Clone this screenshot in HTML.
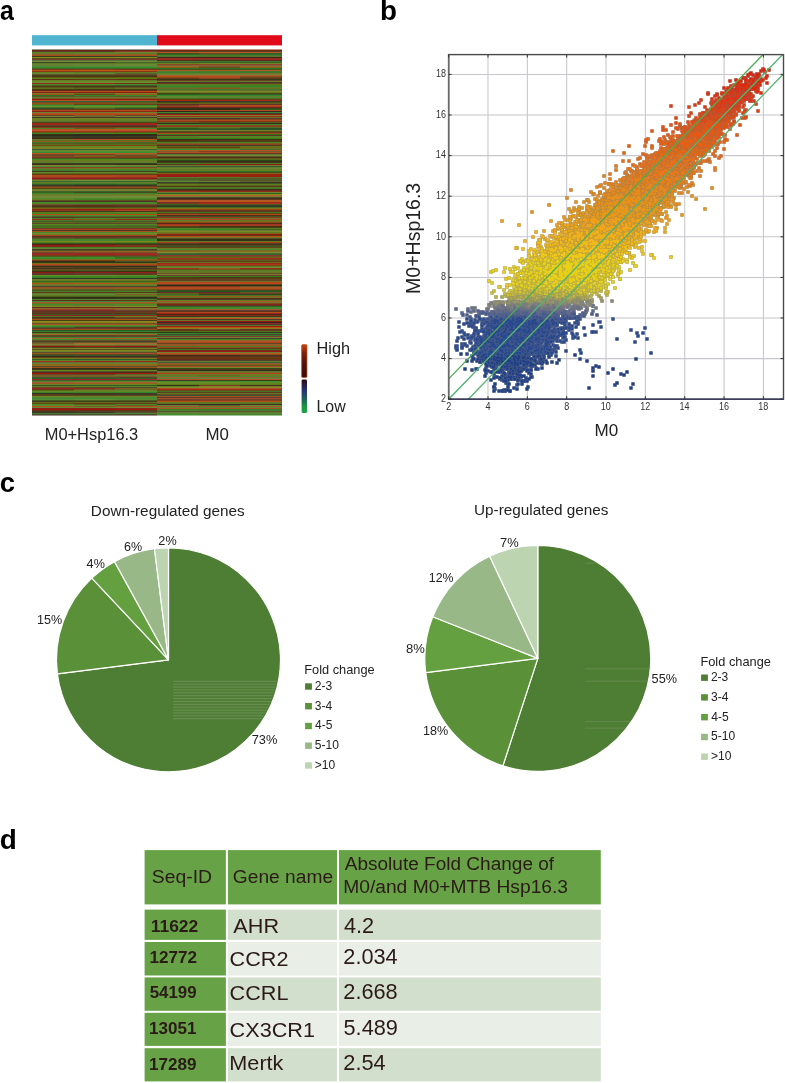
<!DOCTYPE html>
<html><head><meta charset="utf-8"><title>Figure</title>
<style>html,body{margin:0;padding:0;background:#fff;width:785px;height:1083px;overflow:hidden}svg{display:block}</style>
</head><body><svg width="785" height="1083" viewBox="0 0 785 1083" font-family='"Liberation Sans", Arial, sans-serif'><filter id="hb" x="0" y="0" width="1" height="1"><feGaussianBlur stdDeviation="0.1 0.3"/></filter><g filter="url(#hb)"><rect x="32" y="49.50" width="42" height="1.50" fill="#362f1c"/><rect x="74" y="49.50" width="41" height="1.50" fill="#352920"/><rect x="115" y="49.50" width="42" height="1.50" fill="#363021"/><rect x="157" y="49.50" width="42" height="1.50" fill="#8e1d0b"/><rect x="199" y="49.50" width="41" height="1.50" fill="#8e220d"/><rect x="240" y="49.50" width="42" height="1.50" fill="#8e1e07"/><rect x="32" y="50.50" width="42" height="1.30" fill="#972413"/><rect x="74" y="50.50" width="41" height="1.30" fill="#942210"/><rect x="115" y="50.50" width="42" height="1.30" fill="#981e14"/><rect x="157" y="50.50" width="42" height="1.30" fill="#5a3518"/><rect x="199" y="50.50" width="41" height="1.30" fill="#563917"/><rect x="240" y="50.50" width="42" height="1.30" fill="#543616"/><rect x="32" y="51.30" width="42" height="1.30" fill="#423521"/><rect x="74" y="51.30" width="41" height="1.30" fill="#3d321e"/><rect x="115" y="51.30" width="42" height="1.30" fill="#793b19"/><rect x="157" y="51.30" width="42" height="1.30" fill="#533018"/><rect x="199" y="51.30" width="41" height="1.30" fill="#5a3515"/><rect x="240" y="51.30" width="42" height="1.30" fill="#55351c"/><rect x="32" y="52.10" width="42" height="1.50" fill="#5a8019"/><rect x="74" y="52.10" width="41" height="1.50" fill="#5e8119"/><rect x="115" y="52.10" width="42" height="1.50" fill="#62841f"/><rect x="157" y="52.10" width="42" height="1.50" fill="#b7531f"/><rect x="199" y="52.10" width="41" height="1.50" fill="#b5581e"/><rect x="240" y="52.10" width="42" height="1.50" fill="#b9501f"/><rect x="32" y="53.10" width="42" height="1.90" fill="#5e742b"/><rect x="74" y="53.10" width="41" height="1.90" fill="#5d7a31"/><rect x="115" y="53.10" width="42" height="1.90" fill="#617328"/><rect x="157" y="53.10" width="42" height="1.90" fill="#2b4719"/><rect x="199" y="53.10" width="41" height="1.90" fill="#5f4617"/><rect x="240" y="53.10" width="42" height="1.90" fill="#225c20"/><rect x="32" y="54.50" width="42" height="1.90" fill="#b44b1b"/><rect x="74" y="54.50" width="41" height="1.90" fill="#b54b1d"/><rect x="115" y="54.50" width="42" height="1.90" fill="#b6511d"/><rect x="157" y="54.50" width="42" height="1.90" fill="#3c8529"/><rect x="199" y="54.50" width="41" height="1.90" fill="#3d7f2d"/><rect x="240" y="54.50" width="42" height="1.90" fill="#3e7c31"/><rect x="32" y="55.90" width="42" height="1.50" fill="#33361e"/><rect x="74" y="55.90" width="41" height="1.50" fill="#2e3926"/><rect x="115" y="55.90" width="42" height="1.50" fill="#2f3b23"/><rect x="157" y="55.90" width="42" height="1.50" fill="#577832"/><rect x="199" y="55.90" width="41" height="1.50" fill="#597629"/><rect x="240" y="55.90" width="42" height="1.50" fill="#6c7832"/><rect x="32" y="56.90" width="42" height="1.70" fill="#7e8f1d"/><rect x="74" y="56.90" width="41" height="1.70" fill="#818821"/><rect x="115" y="56.90" width="42" height="1.70" fill="#808f1f"/><rect x="157" y="56.90" width="42" height="1.70" fill="#402c14"/><rect x="199" y="56.90" width="41" height="1.70" fill="#392514"/><rect x="240" y="56.90" width="42" height="1.70" fill="#382b14"/><rect x="32" y="58.10" width="42" height="1.70" fill="#5b3916"/><rect x="74" y="58.10" width="41" height="1.70" fill="#5d3816"/><rect x="115" y="58.10" width="42" height="1.70" fill="#593b14"/><rect x="157" y="58.10" width="42" height="1.70" fill="#9a2518"/><rect x="199" y="58.10" width="41" height="1.70" fill="#992413"/><rect x="240" y="58.10" width="42" height="1.70" fill="#912513"/><rect x="32" y="59.30" width="42" height="1.50" fill="#633522"/><rect x="74" y="59.30" width="41" height="1.50" fill="#6b301d"/><rect x="115" y="59.30" width="42" height="1.50" fill="#6a2e1d"/><rect x="157" y="59.30" width="42" height="1.50" fill="#8e1b10"/><rect x="199" y="59.30" width="41" height="1.50" fill="#5d3714"/><rect x="240" y="59.30" width="42" height="1.50" fill="#951f0c"/><rect x="32" y="60.30" width="42" height="1.50" fill="#488433"/><rect x="74" y="60.30" width="41" height="1.50" fill="#45822e"/><rect x="115" y="60.30" width="42" height="1.50" fill="#43852b"/><rect x="157" y="60.30" width="42" height="1.50" fill="#322410"/><rect x="199" y="60.30" width="41" height="1.50" fill="#2c2c11"/><rect x="240" y="60.30" width="42" height="1.50" fill="#332214"/><rect x="32" y="61.30" width="42" height="1.30" fill="#807d2f"/><rect x="74" y="61.30" width="41" height="1.30" fill="#7d8334"/><rect x="115" y="61.30" width="42" height="1.30" fill="#6f822e"/><rect x="157" y="61.30" width="42" height="1.30" fill="#3b8a2f"/><rect x="199" y="61.30" width="41" height="1.30" fill="#388427"/><rect x="240" y="61.30" width="42" height="1.30" fill="#3d832f"/><rect x="32" y="62.10" width="42" height="1.30" fill="#2a371f"/><rect x="74" y="62.10" width="41" height="1.30" fill="#333722"/><rect x="115" y="62.10" width="42" height="1.30" fill="#425725"/><rect x="157" y="62.10" width="42" height="1.30" fill="#2d5319"/><rect x="199" y="62.10" width="41" height="1.30" fill="#2e5819"/><rect x="240" y="62.10" width="42" height="1.30" fill="#2c5918"/><rect x="32" y="62.90" width="42" height="1.90" fill="#5b7e22"/><rect x="74" y="62.90" width="41" height="1.90" fill="#5f7b1f"/><rect x="115" y="62.90" width="42" height="1.90" fill="#577e22"/><rect x="157" y="62.90" width="42" height="1.90" fill="#6b7f28"/><rect x="199" y="62.90" width="41" height="1.90" fill="#6b862b"/><rect x="240" y="62.90" width="42" height="1.90" fill="#6b842a"/><rect x="32" y="64.30" width="42" height="1.50" fill="#5b7d29"/><rect x="74" y="64.30" width="41" height="1.50" fill="#59802d"/><rect x="115" y="64.30" width="42" height="1.50" fill="#60862a"/><rect x="157" y="64.30" width="42" height="1.50" fill="#972216"/><rect x="199" y="64.30" width="41" height="1.50" fill="#9a2215"/><rect x="240" y="64.30" width="42" height="1.50" fill="#981a1a"/><rect x="32" y="65.30" width="42" height="1.50" fill="#5e7625"/><rect x="74" y="65.30" width="41" height="1.50" fill="#5f7d2c"/><rect x="115" y="65.30" width="42" height="1.50" fill="#5d7b2a"/><rect x="157" y="65.30" width="42" height="1.50" fill="#647631"/><rect x="199" y="65.30" width="41" height="1.50" fill="#68742b"/><rect x="240" y="65.30" width="42" height="1.50" fill="#66772b"/><rect x="32" y="66.30" width="42" height="1.90" fill="#37882c"/><rect x="74" y="66.30" width="41" height="1.90" fill="#3a8630"/><rect x="115" y="66.30" width="42" height="1.90" fill="#3a8c2b"/><rect x="157" y="66.30" width="42" height="1.90" fill="#aa4d15"/><rect x="199" y="66.30" width="41" height="1.90" fill="#7e3916"/><rect x="240" y="66.30" width="42" height="1.90" fill="#a64d1b"/><rect x="32" y="67.70" width="42" height="1.30" fill="#3a8a2a"/><rect x="74" y="67.70" width="41" height="1.30" fill="#388a27"/><rect x="115" y="67.70" width="42" height="1.30" fill="#348e2c"/><rect x="157" y="67.70" width="42" height="1.30" fill="#308f26"/><rect x="199" y="67.70" width="41" height="1.30" fill="#348825"/><rect x="240" y="67.70" width="42" height="1.30" fill="#328e27"/><rect x="32" y="68.50" width="42" height="1.70" fill="#59361c"/><rect x="74" y="68.50" width="41" height="1.70" fill="#593d1d"/><rect x="115" y="68.50" width="42" height="1.70" fill="#583514"/><rect x="157" y="68.50" width="42" height="1.70" fill="#24571e"/><rect x="199" y="68.50" width="41" height="1.70" fill="#20541e"/><rect x="240" y="68.50" width="42" height="1.70" fill="#1e591b"/><rect x="32" y="69.70" width="42" height="1.90" fill="#b65313"/><rect x="74" y="69.70" width="41" height="1.90" fill="#ba5610"/><rect x="115" y="69.70" width="42" height="1.90" fill="#b95519"/><rect x="157" y="69.70" width="42" height="1.90" fill="#a95326"/><rect x="199" y="69.70" width="41" height="1.90" fill="#a6581f"/><rect x="240" y="69.70" width="42" height="1.90" fill="#ac5727"/><rect x="32" y="71.10" width="42" height="1.30" fill="#8f230b"/><rect x="74" y="71.10" width="41" height="1.30" fill="#8f270b"/><rect x="115" y="71.10" width="42" height="1.30" fill="#8d250e"/><rect x="157" y="71.10" width="42" height="1.30" fill="#427c28"/><rect x="199" y="71.10" width="41" height="1.30" fill="#3b7829"/><rect x="240" y="71.10" width="42" height="1.30" fill="#3b7624"/><rect x="32" y="71.90" width="42" height="1.70" fill="#618022"/><rect x="74" y="71.90" width="41" height="1.70" fill="#5a7c27"/><rect x="115" y="71.90" width="42" height="1.70" fill="#5f7b26"/><rect x="157" y="71.90" width="42" height="1.70" fill="#3c8032"/><rect x="199" y="71.90" width="41" height="1.70" fill="#3f7b2f"/><rect x="240" y="71.90" width="42" height="1.70" fill="#367b2f"/><rect x="32" y="73.10" width="42" height="1.70" fill="#5e8331"/><rect x="74" y="73.10" width="41" height="1.70" fill="#58822f"/><rect x="115" y="73.10" width="42" height="1.70" fill="#585825"/><rect x="157" y="73.10" width="42" height="1.70" fill="#557c20"/><rect x="199" y="73.10" width="41" height="1.70" fill="#5c7b22"/><rect x="240" y="73.10" width="42" height="1.70" fill="#7f641b"/><rect x="32" y="74.30" width="42" height="1.50" fill="#5e3915"/><rect x="74" y="74.30" width="41" height="1.50" fill="#5b3711"/><rect x="115" y="74.30" width="42" height="1.50" fill="#5e381a"/><rect x="157" y="74.30" width="42" height="1.50" fill="#688030"/><rect x="199" y="74.30" width="41" height="1.50" fill="#628229"/><rect x="240" y="74.30" width="42" height="1.50" fill="#668230"/><rect x="32" y="75.30" width="42" height="1.70" fill="#2f350d"/><rect x="74" y="75.30" width="41" height="1.70" fill="#353313"/><rect x="115" y="75.30" width="42" height="1.70" fill="#31320d"/><rect x="157" y="75.30" width="42" height="1.70" fill="#b34718"/><rect x="199" y="75.30" width="41" height="1.70" fill="#b14a21"/><rect x="240" y="75.30" width="42" height="1.70" fill="#b1471c"/><rect x="32" y="76.50" width="42" height="1.50" fill="#643b11"/><rect x="74" y="76.50" width="41" height="1.50" fill="#633810"/><rect x="115" y="76.50" width="42" height="1.50" fill="#6a3b11"/><rect x="157" y="76.50" width="42" height="1.50" fill="#bc5113"/><rect x="199" y="76.50" width="41" height="1.50" fill="#be4f1b"/><rect x="240" y="76.50" width="42" height="1.50" fill="#72501f"/><rect x="32" y="77.50" width="42" height="1.90" fill="#5f811b"/><rect x="74" y="77.50" width="41" height="1.90" fill="#5e7e1b"/><rect x="115" y="77.50" width="42" height="1.90" fill="#57851b"/><rect x="157" y="77.50" width="42" height="1.90" fill="#643c1b"/><rect x="199" y="77.50" width="41" height="1.90" fill="#8f4523"/><rect x="240" y="77.50" width="42" height="1.90" fill="#613c21"/><rect x="32" y="78.90" width="42" height="1.70" fill="#5c3415"/><rect x="74" y="78.90" width="41" height="1.70" fill="#623915"/><rect x="115" y="78.90" width="42" height="1.70" fill="#603111"/><rect x="157" y="78.90" width="42" height="1.70" fill="#343213"/><rect x="199" y="78.90" width="41" height="1.70" fill="#363914"/><rect x="240" y="78.90" width="42" height="1.70" fill="#333514"/><rect x="32" y="80.10" width="42" height="1.50" fill="#617b21"/><rect x="74" y="80.10" width="41" height="1.50" fill="#597c22"/><rect x="115" y="80.10" width="42" height="1.50" fill="#5f7426"/><rect x="157" y="80.10" width="42" height="1.50" fill="#663520"/><rect x="199" y="80.10" width="41" height="1.50" fill="#603c1c"/><rect x="240" y="80.10" width="42" height="1.50" fill="#613d23"/><rect x="32" y="81.10" width="42" height="1.50" fill="#61851e"/><rect x="74" y="81.10" width="41" height="1.50" fill="#63831e"/><rect x="115" y="81.10" width="42" height="1.50" fill="#66841d"/><rect x="157" y="81.10" width="42" height="1.50" fill="#667b1e"/><rect x="199" y="81.10" width="41" height="1.50" fill="#607820"/><rect x="240" y="81.10" width="42" height="1.50" fill="#637b1c"/><rect x="32" y="82.10" width="42" height="1.50" fill="#68832a"/><rect x="74" y="82.10" width="41" height="1.50" fill="#6b8928"/><rect x="115" y="82.10" width="42" height="1.50" fill="#658926"/><rect x="157" y="82.10" width="42" height="1.50" fill="#392821"/><rect x="199" y="82.10" width="41" height="1.50" fill="#412722"/><rect x="240" y="82.10" width="42" height="1.50" fill="#3d2e1c"/><rect x="32" y="83.10" width="42" height="1.50" fill="#921b0c"/><rect x="74" y="83.10" width="41" height="1.50" fill="#941b11"/><rect x="115" y="83.10" width="42" height="1.50" fill="#662711"/><rect x="157" y="83.10" width="42" height="1.50" fill="#673019"/><rect x="199" y="83.10" width="41" height="1.50" fill="#612f16"/><rect x="240" y="83.10" width="42" height="1.50" fill="#663618"/><rect x="32" y="84.10" width="42" height="1.90" fill="#3e8b26"/><rect x="74" y="84.10" width="41" height="1.90" fill="#41902b"/><rect x="115" y="84.10" width="42" height="1.90" fill="#3c8d2d"/><rect x="157" y="84.10" width="42" height="1.90" fill="#567a1f"/><rect x="199" y="84.10" width="41" height="1.90" fill="#5a791b"/><rect x="240" y="84.10" width="42" height="1.90" fill="#56751a"/><rect x="32" y="85.50" width="42" height="1.50" fill="#513217"/><rect x="74" y="85.50" width="41" height="1.50" fill="#413413"/><rect x="115" y="85.50" width="42" height="1.50" fill="#383214"/><rect x="157" y="85.50" width="42" height="1.50" fill="#38851c"/><rect x="199" y="85.50" width="41" height="1.50" fill="#348a22"/><rect x="240" y="85.50" width="42" height="1.50" fill="#32871a"/><rect x="32" y="86.50" width="42" height="1.70" fill="#593d1b"/><rect x="74" y="86.50" width="41" height="1.70" fill="#54391c"/><rect x="115" y="86.50" width="42" height="1.70" fill="#594120"/><rect x="157" y="86.50" width="42" height="1.70" fill="#3a8431"/><rect x="199" y="86.50" width="41" height="1.70" fill="#407e2a"/><rect x="240" y="86.50" width="42" height="1.70" fill="#3f872f"/><rect x="32" y="87.70" width="42" height="1.50" fill="#668627"/><rect x="74" y="87.70" width="41" height="1.50" fill="#61821e"/><rect x="115" y="87.70" width="42" height="1.50" fill="#6f8827"/><rect x="157" y="87.70" width="42" height="1.50" fill="#8c611f"/><rect x="199" y="87.70" width="41" height="1.50" fill="#ae4917"/><rect x="240" y="87.70" width="42" height="1.50" fill="#87681d"/><rect x="32" y="88.70" width="42" height="1.50" fill="#413f0e"/><rect x="74" y="88.70" width="41" height="1.50" fill="#393615"/><rect x="115" y="88.70" width="42" height="1.50" fill="#3f3e13"/><rect x="157" y="88.70" width="42" height="1.50" fill="#327b27"/><rect x="199" y="88.70" width="41" height="1.50" fill="#327e2b"/><rect x="240" y="88.70" width="42" height="1.50" fill="#397c30"/><rect x="32" y="89.70" width="42" height="1.90" fill="#642b1a"/><rect x="74" y="89.70" width="41" height="1.90" fill="#683018"/><rect x="115" y="89.70" width="42" height="1.90" fill="#652d1c"/><rect x="157" y="89.70" width="42" height="1.90" fill="#63752e"/><rect x="199" y="89.70" width="41" height="1.90" fill="#60712c"/><rect x="240" y="89.70" width="42" height="1.90" fill="#5c712d"/><rect x="32" y="91.10" width="42" height="1.30" fill="#b65118"/><rect x="74" y="91.10" width="41" height="1.30" fill="#ba4e13"/><rect x="115" y="91.10" width="42" height="1.30" fill="#ba4d11"/><rect x="157" y="91.10" width="42" height="1.30" fill="#868b1c"/><rect x="199" y="91.10" width="41" height="1.30" fill="#848d20"/><rect x="240" y="91.10" width="42" height="1.30" fill="#828923"/><rect x="32" y="91.90" width="42" height="1.50" fill="#8c1d1c"/><rect x="74" y="91.90" width="41" height="1.50" fill="#8b1b18"/><rect x="115" y="91.90" width="42" height="1.50" fill="#8f1b19"/><rect x="157" y="91.90" width="42" height="1.50" fill="#667e23"/><rect x="199" y="91.90" width="41" height="1.50" fill="#6c7f1b"/><rect x="240" y="91.90" width="42" height="1.50" fill="#667d1d"/><rect x="32" y="92.90" width="42" height="1.30" fill="#687a1e"/><rect x="74" y="92.90" width="41" height="1.30" fill="#657c24"/><rect x="115" y="92.90" width="42" height="1.30" fill="#6b8024"/><rect x="157" y="92.90" width="42" height="1.30" fill="#5e3918"/><rect x="199" y="92.90" width="41" height="1.30" fill="#5e3e20"/><rect x="240" y="92.90" width="42" height="1.30" fill="#5f3e19"/><rect x="32" y="93.70" width="42" height="1.70" fill="#ad561a"/><rect x="74" y="93.70" width="41" height="1.70" fill="#704218"/><rect x="115" y="93.70" width="42" height="1.70" fill="#ab5619"/><rect x="157" y="93.70" width="42" height="1.70" fill="#295c1d"/><rect x="199" y="93.70" width="41" height="1.70" fill="#305823"/><rect x="240" y="93.70" width="42" height="1.70" fill="#2e5d20"/><rect x="32" y="94.90" width="42" height="1.90" fill="#2b6f23"/><rect x="74" y="94.90" width="41" height="1.90" fill="#33862c"/><rect x="115" y="94.90" width="42" height="1.90" fill="#338627"/><rect x="157" y="94.90" width="42" height="1.90" fill="#35892a"/><rect x="199" y="94.90" width="41" height="1.90" fill="#338a30"/><rect x="240" y="94.90" width="42" height="1.90" fill="#35862e"/><rect x="32" y="96.30" width="42" height="1.50" fill="#614116"/><rect x="74" y="96.30" width="41" height="1.50" fill="#624013"/><rect x="115" y="96.30" width="42" height="1.50" fill="#5d3c16"/><rect x="157" y="96.30" width="42" height="1.50" fill="#647620"/><rect x="199" y="96.30" width="41" height="1.50" fill="#697423"/><rect x="240" y="96.30" width="42" height="1.50" fill="#667120"/><rect x="32" y="97.30" width="42" height="1.90" fill="#5a7f2d"/><rect x="74" y="97.30" width="41" height="1.90" fill="#617c2d"/><rect x="115" y="97.30" width="42" height="1.90" fill="#617e2e"/><rect x="157" y="97.30" width="42" height="1.90" fill="#438529"/><rect x="199" y="97.30" width="41" height="1.90" fill="#3b8427"/><rect x="240" y="97.30" width="42" height="1.90" fill="#3b842c"/><rect x="32" y="98.70" width="42" height="1.90" fill="#9a1710"/><rect x="74" y="98.70" width="41" height="1.90" fill="#9f1b0d"/><rect x="115" y="98.70" width="42" height="1.90" fill="#9b150c"/><rect x="157" y="98.70" width="42" height="1.90" fill="#69370f"/><rect x="199" y="98.70" width="41" height="1.90" fill="#633714"/><rect x="240" y="98.70" width="42" height="1.90" fill="#693c16"/><rect x="32" y="100.10" width="42" height="1.50" fill="#b34c21"/><rect x="74" y="100.10" width="41" height="1.50" fill="#b05123"/><rect x="115" y="100.10" width="42" height="1.50" fill="#ae4b1f"/><rect x="157" y="100.10" width="42" height="1.50" fill="#9c2507"/><rect x="199" y="100.10" width="41" height="1.50" fill="#93220f"/><rect x="240" y="100.10" width="42" height="1.50" fill="#9a280f"/><rect x="32" y="101.10" width="42" height="1.90" fill="#1f5a28"/><rect x="74" y="101.10" width="41" height="1.90" fill="#20602b"/><rect x="115" y="101.10" width="42" height="1.90" fill="#1f6322"/><rect x="157" y="101.10" width="42" height="1.90" fill="#2c2718"/><rect x="199" y="101.10" width="41" height="1.90" fill="#30301d"/><rect x="240" y="101.10" width="42" height="1.90" fill="#322f1c"/><rect x="32" y="102.50" width="42" height="1.70" fill="#ae491c"/><rect x="74" y="102.50" width="41" height="1.70" fill="#aa471a"/><rect x="115" y="102.50" width="42" height="1.70" fill="#846027"/><rect x="157" y="102.50" width="42" height="1.70" fill="#66771a"/><rect x="199" y="102.50" width="41" height="1.70" fill="#6b7720"/><rect x="240" y="102.50" width="42" height="1.70" fill="#64761f"/><rect x="32" y="103.70" width="42" height="1.70" fill="#6c6519"/><rect x="74" y="103.70" width="41" height="1.70" fill="#654016"/><rect x="115" y="103.70" width="42" height="1.70" fill="#683d16"/><rect x="157" y="103.70" width="42" height="1.70" fill="#612c25"/><rect x="199" y="103.70" width="41" height="1.70" fill="#602f20"/><rect x="240" y="103.70" width="42" height="1.70" fill="#5b2d23"/><rect x="32" y="104.90" width="42" height="1.90" fill="#3d8f33"/><rect x="74" y="104.90" width="41" height="1.90" fill="#419133"/><rect x="115" y="104.90" width="42" height="1.90" fill="#3d8b2d"/><rect x="157" y="104.90" width="42" height="1.90" fill="#784722"/><rect x="199" y="104.90" width="41" height="1.90" fill="#b75424"/><rect x="240" y="104.90" width="42" height="1.90" fill="#b24d23"/><rect x="32" y="106.30" width="42" height="1.70" fill="#6a871e"/><rect x="74" y="106.30" width="41" height="1.70" fill="#6b8a20"/><rect x="115" y="106.30" width="42" height="1.70" fill="#6b8a1e"/><rect x="157" y="106.30" width="42" height="1.70" fill="#9e2311"/><rect x="199" y="106.30" width="41" height="1.70" fill="#9f2515"/><rect x="240" y="106.30" width="42" height="1.70" fill="#9d230f"/><rect x="32" y="107.50" width="42" height="1.70" fill="#235c29"/><rect x="74" y="107.50" width="41" height="1.70" fill="#44742a"/><rect x="115" y="107.50" width="42" height="1.70" fill="#206128"/><rect x="157" y="107.50" width="42" height="1.70" fill="#36321f"/><rect x="199" y="107.50" width="41" height="1.70" fill="#363626"/><rect x="240" y="107.50" width="42" height="1.70" fill="#3f391d"/><rect x="32" y="108.70" width="42" height="1.90" fill="#643716"/><rect x="74" y="108.70" width="41" height="1.90" fill="#643f11"/><rect x="115" y="108.70" width="42" height="1.90" fill="#693817"/><rect x="157" y="108.70" width="42" height="1.90" fill="#2b3113"/><rect x="199" y="108.70" width="41" height="1.90" fill="#2d2c0f"/><rect x="240" y="108.70" width="42" height="1.90" fill="#335b17"/><rect x="32" y="110.10" width="42" height="1.30" fill="#af4d1d"/><rect x="74" y="110.10" width="41" height="1.30" fill="#af4e1c"/><rect x="115" y="110.10" width="42" height="1.30" fill="#b3451a"/><rect x="157" y="110.10" width="42" height="1.30" fill="#b54c1f"/><rect x="199" y="110.10" width="41" height="1.30" fill="#b44e20"/><rect x="240" y="110.10" width="42" height="1.30" fill="#b45321"/><rect x="32" y="110.90" width="42" height="1.70" fill="#8c2413"/><rect x="74" y="110.90" width="41" height="1.70" fill="#8c260d"/><rect x="115" y="110.90" width="42" height="1.70" fill="#8b2b0b"/><rect x="157" y="110.90" width="42" height="1.70" fill="#362718"/><rect x="199" y="110.90" width="41" height="1.70" fill="#3e2f15"/><rect x="240" y="110.90" width="42" height="1.70" fill="#3c261b"/><rect x="32" y="112.10" width="42" height="1.50" fill="#65812a"/><rect x="74" y="112.10" width="41" height="1.50" fill="#657a25"/><rect x="115" y="112.10" width="42" height="1.50" fill="#638226"/><rect x="157" y="112.10" width="42" height="1.50" fill="#38882a"/><rect x="199" y="112.10" width="41" height="1.50" fill="#37872a"/><rect x="240" y="112.10" width="42" height="1.50" fill="#31872e"/><rect x="32" y="113.10" width="42" height="1.30" fill="#ab4721"/><rect x="74" y="113.10" width="41" height="1.30" fill="#b0451f"/><rect x="115" y="113.10" width="42" height="1.30" fill="#aa4a1f"/><rect x="157" y="113.10" width="42" height="1.30" fill="#313525"/><rect x="199" y="113.10" width="41" height="1.30" fill="#363b23"/><rect x="240" y="113.10" width="42" height="1.30" fill="#313324"/><rect x="32" y="113.90" width="42" height="1.70" fill="#af490f"/><rect x="74" y="113.90" width="41" height="1.70" fill="#b5470f"/><rect x="115" y="113.90" width="42" height="1.70" fill="#af4714"/><rect x="157" y="113.90" width="42" height="1.70" fill="#981f09"/><rect x="199" y="113.90" width="41" height="1.70" fill="#962109"/><rect x="240" y="113.90" width="42" height="1.70" fill="#922410"/><rect x="32" y="115.10" width="42" height="1.50" fill="#613723"/><rect x="74" y="115.10" width="41" height="1.50" fill="#6c5b28"/><rect x="115" y="115.10" width="42" height="1.50" fill="#613922"/><rect x="157" y="115.10" width="42" height="1.50" fill="#7b8227"/><rect x="199" y="115.10" width="41" height="1.50" fill="#807b25"/><rect x="240" y="115.10" width="42" height="1.50" fill="#7d7d2a"/><rect x="32" y="116.10" width="42" height="1.50" fill="#6f8831"/><rect x="74" y="116.10" width="41" height="1.50" fill="#686225"/><rect x="115" y="116.10" width="42" height="1.50" fill="#70862b"/><rect x="157" y="116.10" width="42" height="1.50" fill="#962411"/><rect x="199" y="116.10" width="41" height="1.50" fill="#94250f"/><rect x="240" y="116.10" width="42" height="1.50" fill="#91240c"/><rect x="32" y="117.10" width="42" height="1.50" fill="#372f20"/><rect x="74" y="117.10" width="41" height="1.50" fill="#38301c"/><rect x="115" y="117.10" width="42" height="1.50" fill="#372f21"/><rect x="157" y="117.10" width="42" height="1.50" fill="#5d7a23"/><rect x="199" y="117.10" width="41" height="1.50" fill="#5d7424"/><rect x="240" y="117.10" width="42" height="1.50" fill="#5c7122"/><rect x="32" y="118.10" width="42" height="1.90" fill="#6a811a"/><rect x="74" y="118.10" width="41" height="1.90" fill="#6f811a"/><rect x="115" y="118.10" width="42" height="1.90" fill="#69801f"/><rect x="157" y="118.10" width="42" height="1.90" fill="#3e3021"/><rect x="199" y="118.10" width="41" height="1.90" fill="#3f2c22"/><rect x="240" y="118.10" width="42" height="1.90" fill="#503322"/><rect x="32" y="119.50" width="42" height="1.90" fill="#6d7d26"/><rect x="74" y="119.50" width="41" height="1.90" fill="#687c29"/><rect x="115" y="119.50" width="42" height="1.90" fill="#657e2d"/><rect x="157" y="119.50" width="42" height="1.90" fill="#ad4924"/><rect x="199" y="119.50" width="41" height="1.90" fill="#b34d1e"/><rect x="240" y="119.50" width="42" height="1.90" fill="#b35026"/><rect x="32" y="120.90" width="42" height="1.30" fill="#65842d"/><rect x="74" y="120.90" width="41" height="1.30" fill="#677e2c"/><rect x="115" y="120.90" width="42" height="1.30" fill="#63842f"/><rect x="157" y="120.90" width="42" height="1.30" fill="#8f2116"/><rect x="199" y="120.90" width="41" height="1.30" fill="#8e1e17"/><rect x="240" y="120.90" width="42" height="1.30" fill="#8f200e"/><rect x="32" y="121.70" width="42" height="1.50" fill="#205722"/><rect x="74" y="121.70" width="41" height="1.50" fill="#27591e"/><rect x="115" y="121.70" width="42" height="1.50" fill="#1f5c1d"/><rect x="157" y="121.70" width="42" height="1.50" fill="#657622"/><rect x="199" y="121.70" width="41" height="1.50" fill="#615620"/><rect x="240" y="121.70" width="42" height="1.50" fill="#5e7024"/><rect x="32" y="122.70" width="42" height="1.90" fill="#992810"/><rect x="74" y="122.70" width="41" height="1.90" fill="#9c2210"/><rect x="115" y="122.70" width="42" height="1.90" fill="#9c2613"/><rect x="157" y="122.70" width="42" height="1.90" fill="#363116"/><rect x="199" y="122.70" width="41" height="1.90" fill="#3c3717"/><rect x="240" y="122.70" width="42" height="1.90" fill="#392e18"/><rect x="32" y="124.10" width="42" height="1.70" fill="#992319"/><rect x="74" y="124.10" width="41" height="1.70" fill="#a22214"/><rect x="115" y="124.10" width="42" height="1.70" fill="#a21e1a"/><rect x="157" y="124.10" width="42" height="1.70" fill="#3d8725"/><rect x="199" y="124.10" width="41" height="1.70" fill="#36861f"/><rect x="240" y="124.10" width="42" height="1.70" fill="#37881f"/><rect x="32" y="125.30" width="42" height="1.90" fill="#393721"/><rect x="74" y="125.30" width="41" height="1.90" fill="#333620"/><rect x="115" y="125.30" width="42" height="1.90" fill="#32331f"/><rect x="157" y="125.30" width="42" height="1.90" fill="#981f10"/><rect x="199" y="125.30" width="41" height="1.90" fill="#9c2111"/><rect x="240" y="125.30" width="42" height="1.90" fill="#982415"/><rect x="32" y="126.70" width="42" height="1.50" fill="#952517"/><rect x="74" y="126.70" width="41" height="1.50" fill="#902c16"/><rect x="115" y="126.70" width="42" height="1.50" fill="#902b11"/><rect x="157" y="126.70" width="42" height="1.50" fill="#628326"/><rect x="199" y="126.70" width="41" height="1.50" fill="#688227"/><rect x="240" y="126.70" width="42" height="1.50" fill="#617d2e"/><rect x="32" y="127.70" width="42" height="1.70" fill="#3f8b2c"/><rect x="74" y="127.70" width="41" height="1.70" fill="#4e6526"/><rect x="115" y="127.70" width="42" height="1.70" fill="#3e8c32"/><rect x="157" y="127.70" width="42" height="1.70" fill="#2c5618"/><rect x="199" y="127.70" width="41" height="1.70" fill="#44631c"/><rect x="240" y="127.70" width="42" height="1.70" fill="#2b5120"/><rect x="32" y="128.90" width="42" height="1.90" fill="#b64f21"/><rect x="74" y="128.90" width="41" height="1.90" fill="#b6571f"/><rect x="115" y="128.90" width="42" height="1.90" fill="#b7551a"/><rect x="157" y="128.90" width="42" height="1.90" fill="#2f5c2c"/><rect x="199" y="128.90" width="41" height="1.90" fill="#2d552f"/><rect x="240" y="128.90" width="42" height="1.90" fill="#2b572d"/><rect x="32" y="130.30" width="42" height="1.70" fill="#b7461c"/><rect x="74" y="130.30" width="41" height="1.70" fill="#b8471b"/><rect x="115" y="130.30" width="42" height="1.70" fill="#b7441c"/><rect x="157" y="130.30" width="42" height="1.70" fill="#788120"/><rect x="199" y="130.30" width="41" height="1.70" fill="#7e7a22"/><rect x="240" y="130.30" width="42" height="1.70" fill="#7d811c"/><rect x="32" y="131.50" width="42" height="1.50" fill="#952409"/><rect x="74" y="131.50" width="41" height="1.50" fill="#94210a"/><rect x="115" y="131.50" width="42" height="1.50" fill="#8c2208"/><rect x="157" y="131.50" width="42" height="1.50" fill="#2f2817"/><rect x="199" y="131.50" width="41" height="1.50" fill="#332416"/><rect x="240" y="131.50" width="42" height="1.50" fill="#322b14"/><rect x="32" y="132.50" width="42" height="1.90" fill="#3e8e25"/><rect x="74" y="132.50" width="41" height="1.90" fill="#41922b"/><rect x="115" y="132.50" width="42" height="1.90" fill="#3c9225"/><rect x="157" y="132.50" width="42" height="1.90" fill="#af4b20"/><rect x="199" y="132.50" width="41" height="1.90" fill="#a94a23"/><rect x="240" y="132.50" width="42" height="1.90" fill="#aa4620"/><rect x="32" y="133.90" width="42" height="1.50" fill="#373111"/><rect x="74" y="133.90" width="41" height="1.50" fill="#302b15"/><rect x="115" y="133.90" width="42" height="1.50" fill="#342d0f"/><rect x="157" y="133.90" width="42" height="1.50" fill="#388623"/><rect x="199" y="133.90" width="41" height="1.50" fill="#308729"/><rect x="240" y="133.90" width="42" height="1.50" fill="#318221"/><rect x="32" y="134.90" width="42" height="1.70" fill="#32291d"/><rect x="74" y="134.90" width="41" height="1.70" fill="#312b21"/><rect x="115" y="134.90" width="42" height="1.70" fill="#302a22"/><rect x="157" y="134.90" width="42" height="1.70" fill="#5a361a"/><rect x="199" y="134.90" width="41" height="1.70" fill="#58331a"/><rect x="240" y="134.90" width="42" height="1.70" fill="#54371c"/><rect x="32" y="136.10" width="42" height="1.30" fill="#333821"/><rect x="74" y="136.10" width="41" height="1.30" fill="#30371b"/><rect x="115" y="136.10" width="42" height="1.30" fill="#37351f"/><rect x="157" y="136.10" width="42" height="1.30" fill="#448321"/><rect x="199" y="136.10" width="41" height="1.30" fill="#448926"/><rect x="240" y="136.10" width="42" height="1.30" fill="#458825"/><rect x="32" y="136.90" width="42" height="1.50" fill="#3d3a1a"/><rect x="74" y="136.90" width="41" height="1.50" fill="#373423"/><rect x="115" y="136.90" width="42" height="1.50" fill="#3b3421"/><rect x="157" y="136.90" width="42" height="1.50" fill="#5a771f"/><rect x="199" y="136.90" width="41" height="1.50" fill="#617a20"/><rect x="240" y="136.90" width="42" height="1.50" fill="#617d19"/><rect x="32" y="137.90" width="42" height="1.50" fill="#3c2b14"/><rect x="74" y="137.90" width="41" height="1.50" fill="#3f2914"/><rect x="115" y="137.90" width="42" height="1.50" fill="#3d2619"/><rect x="157" y="137.90" width="42" height="1.50" fill="#388a1f"/><rect x="199" y="137.90" width="41" height="1.50" fill="#368323"/><rect x="240" y="137.90" width="42" height="1.50" fill="#3b8a20"/><rect x="32" y="138.90" width="42" height="1.50" fill="#776f2e"/><rect x="74" y="138.90" width="41" height="1.50" fill="#b04e27"/><rect x="115" y="138.90" width="42" height="1.50" fill="#b45120"/><rect x="157" y="138.90" width="42" height="1.50" fill="#32331f"/><rect x="199" y="138.90" width="41" height="1.50" fill="#2f331a"/><rect x="240" y="138.90" width="42" height="1.50" fill="#34351a"/><rect x="32" y="139.90" width="42" height="1.30" fill="#3e8427"/><rect x="74" y="139.90" width="41" height="1.30" fill="#3c7e2a"/><rect x="115" y="139.90" width="42" height="1.30" fill="#3e8321"/><rect x="157" y="139.90" width="42" height="1.30" fill="#643d0e"/><rect x="199" y="139.90" width="41" height="1.30" fill="#683a15"/><rect x="240" y="139.90" width="42" height="1.30" fill="#614111"/><rect x="32" y="140.70" width="42" height="1.50" fill="#b0471b"/><rect x="74" y="140.70" width="41" height="1.50" fill="#b4471a"/><rect x="115" y="140.70" width="42" height="1.50" fill="#b24517"/><rect x="157" y="140.70" width="42" height="1.50" fill="#312a19"/><rect x="199" y="140.70" width="41" height="1.50" fill="#372f1f"/><rect x="240" y="140.70" width="42" height="1.50" fill="#392f17"/><rect x="32" y="141.70" width="42" height="1.50" fill="#3d8b35"/><rect x="74" y="141.70" width="41" height="1.50" fill="#388b32"/><rect x="115" y="141.70" width="42" height="1.50" fill="#3c842d"/><rect x="157" y="141.70" width="42" height="1.50" fill="#5d801d"/><rect x="199" y="141.70" width="41" height="1.50" fill="#5c7e25"/><rect x="240" y="141.70" width="42" height="1.50" fill="#637e1f"/><rect x="32" y="142.70" width="42" height="1.30" fill="#693118"/><rect x="74" y="142.70" width="41" height="1.30" fill="#633112"/><rect x="115" y="142.70" width="42" height="1.30" fill="#653217"/><rect x="157" y="142.70" width="42" height="1.30" fill="#407630"/><rect x="199" y="142.70" width="41" height="1.30" fill="#39772c"/><rect x="240" y="142.70" width="42" height="1.30" fill="#3e7732"/><rect x="32" y="143.50" width="42" height="1.70" fill="#418b24"/><rect x="74" y="143.50" width="41" height="1.70" fill="#418925"/><rect x="115" y="143.50" width="42" height="1.70" fill="#419024"/><rect x="157" y="143.50" width="42" height="1.70" fill="#ae4b1c"/><rect x="199" y="143.50" width="41" height="1.70" fill="#b3461c"/><rect x="240" y="143.50" width="42" height="1.70" fill="#b34417"/><rect x="32" y="144.70" width="42" height="1.50" fill="#8d2a15"/><rect x="74" y="144.70" width="41" height="1.50" fill="#8b2a0f"/><rect x="115" y="144.70" width="42" height="1.50" fill="#902910"/><rect x="157" y="144.70" width="42" height="1.50" fill="#372822"/><rect x="199" y="144.70" width="41" height="1.50" fill="#382821"/><rect x="240" y="144.70" width="42" height="1.50" fill="#393122"/><rect x="32" y="145.70" width="42" height="1.50" fill="#59831f"/><rect x="74" y="145.70" width="41" height="1.50" fill="#5b8824"/><rect x="115" y="145.70" width="42" height="1.50" fill="#5f8625"/><rect x="157" y="145.70" width="42" height="1.50" fill="#5b721e"/><rect x="199" y="145.70" width="41" height="1.50" fill="#5b701f"/><rect x="240" y="145.70" width="42" height="1.50" fill="#60701f"/><rect x="32" y="146.70" width="42" height="1.70" fill="#6f8426"/><rect x="74" y="146.70" width="41" height="1.70" fill="#6c841f"/><rect x="115" y="146.70" width="42" height="1.70" fill="#668726"/><rect x="157" y="146.70" width="42" height="1.70" fill="#67400c"/><rect x="199" y="146.70" width="41" height="1.70" fill="#623d0d"/><rect x="240" y="146.70" width="42" height="1.70" fill="#756814"/><rect x="32" y="147.90" width="42" height="1.70" fill="#857d27"/><rect x="74" y="147.90" width="41" height="1.70" fill="#87811e"/><rect x="115" y="147.90" width="42" height="1.70" fill="#878120"/><rect x="157" y="147.90" width="42" height="1.70" fill="#626e24"/><rect x="199" y="147.90" width="41" height="1.70" fill="#63711d"/><rect x="240" y="147.90" width="42" height="1.70" fill="#637120"/><rect x="32" y="149.10" width="42" height="1.50" fill="#255928"/><rect x="74" y="149.10" width="41" height="1.50" fill="#215b30"/><rect x="115" y="149.10" width="42" height="1.50" fill="#275929"/><rect x="157" y="149.10" width="42" height="1.50" fill="#308c2b"/><rect x="199" y="149.10" width="41" height="1.50" fill="#358831"/><rect x="240" y="149.10" width="42" height="1.50" fill="#496327"/><rect x="32" y="150.10" width="42" height="1.70" fill="#658424"/><rect x="74" y="150.10" width="41" height="1.70" fill="#648524"/><rect x="115" y="150.10" width="42" height="1.70" fill="#678227"/><rect x="157" y="150.10" width="42" height="1.70" fill="#b2501b"/><rect x="199" y="150.10" width="41" height="1.70" fill="#b64f18"/><rect x="240" y="150.10" width="42" height="1.70" fill="#b94b1c"/><rect x="32" y="151.30" width="42" height="1.30" fill="#3d8d27"/><rect x="74" y="151.30" width="41" height="1.30" fill="#3b8c2a"/><rect x="115" y="151.30" width="42" height="1.30" fill="#398e24"/><rect x="157" y="151.30" width="42" height="1.30" fill="#645421"/><rect x="199" y="151.30" width="41" height="1.30" fill="#652d1a"/><rect x="240" y="151.30" width="42" height="1.30" fill="#525521"/><rect x="32" y="152.10" width="42" height="1.50" fill="#35832f"/><rect x="74" y="152.10" width="41" height="1.50" fill="#3c8b2c"/><rect x="115" y="152.10" width="42" height="1.50" fill="#35892f"/><rect x="157" y="152.10" width="42" height="1.50" fill="#b0481c"/><rect x="199" y="152.10" width="41" height="1.50" fill="#b44314"/><rect x="240" y="152.10" width="42" height="1.50" fill="#af4716"/><rect x="32" y="153.10" width="42" height="1.70" fill="#b85016"/><rect x="74" y="153.10" width="41" height="1.70" fill="#b85412"/><rect x="115" y="153.10" width="42" height="1.70" fill="#b95315"/><rect x="157" y="153.10" width="42" height="1.70" fill="#5e3019"/><rect x="199" y="153.10" width="41" height="1.70" fill="#583019"/><rect x="240" y="153.10" width="42" height="1.70" fill="#5e2e18"/><rect x="32" y="154.30" width="42" height="1.50" fill="#603420"/><rect x="74" y="154.30" width="41" height="1.50" fill="#5c2e1d"/><rect x="115" y="154.30" width="42" height="1.50" fill="#6f5422"/><rect x="157" y="154.30" width="42" height="1.50" fill="#3d832b"/><rect x="199" y="154.30" width="41" height="1.50" fill="#468225"/><rect x="240" y="154.30" width="42" height="1.50" fill="#428327"/><rect x="32" y="155.30" width="42" height="1.70" fill="#5b4119"/><rect x="74" y="155.30" width="41" height="1.70" fill="#606618"/><rect x="115" y="155.30" width="42" height="1.70" fill="#583c14"/><rect x="157" y="155.30" width="42" height="1.70" fill="#817d2f"/><rect x="199" y="155.30" width="41" height="1.70" fill="#80842f"/><rect x="240" y="155.30" width="42" height="1.70" fill="#7f822e"/><rect x="32" y="156.50" width="42" height="1.50" fill="#b84b1c"/><rect x="74" y="156.50" width="41" height="1.50" fill="#b14b1b"/><rect x="115" y="156.50" width="42" height="1.50" fill="#b45015"/><rect x="157" y="156.50" width="42" height="1.50" fill="#342d0f"/><rect x="199" y="156.50" width="41" height="1.50" fill="#3a2712"/><rect x="240" y="156.50" width="42" height="1.50" fill="#3d2815"/><rect x="32" y="157.50" width="42" height="1.50" fill="#372d24"/><rect x="74" y="157.50" width="41" height="1.50" fill="#372b1f"/><rect x="115" y="157.50" width="42" height="1.50" fill="#392a21"/><rect x="157" y="157.50" width="42" height="1.50" fill="#58331d"/><rect x="199" y="157.50" width="41" height="1.50" fill="#5c3518"/><rect x="240" y="157.50" width="42" height="1.50" fill="#593b17"/><rect x="32" y="158.50" width="42" height="1.70" fill="#408f29"/><rect x="74" y="158.50" width="41" height="1.70" fill="#498f20"/><rect x="115" y="158.50" width="42" height="1.70" fill="#448b27"/><rect x="157" y="158.50" width="42" height="1.70" fill="#637821"/><rect x="199" y="158.50" width="41" height="1.70" fill="#66731e"/><rect x="240" y="158.50" width="42" height="1.70" fill="#68741f"/><rect x="32" y="159.70" width="42" height="1.50" fill="#637f24"/><rect x="74" y="159.70" width="41" height="1.50" fill="#66811f"/><rect x="115" y="159.70" width="42" height="1.50" fill="#648123"/><rect x="157" y="159.70" width="42" height="1.50" fill="#27591c"/><rect x="199" y="159.70" width="41" height="1.50" fill="#275d1c"/><rect x="240" y="159.70" width="42" height="1.50" fill="#1f5717"/><rect x="32" y="160.70" width="42" height="1.90" fill="#6d7721"/><rect x="74" y="160.70" width="41" height="1.90" fill="#697421"/><rect x="115" y="160.70" width="42" height="1.90" fill="#657b20"/><rect x="157" y="160.70" width="42" height="1.90" fill="#382b13"/><rect x="199" y="160.70" width="41" height="1.90" fill="#372a17"/><rect x="240" y="160.70" width="42" height="1.90" fill="#392c19"/><rect x="32" y="162.10" width="42" height="1.30" fill="#5d8026"/><rect x="74" y="162.10" width="41" height="1.30" fill="#5d882e"/><rect x="115" y="162.10" width="42" height="1.30" fill="#5f842c"/><rect x="157" y="162.10" width="42" height="1.30" fill="#3d3510"/><rect x="199" y="162.10" width="41" height="1.30" fill="#392f19"/><rect x="240" y="162.10" width="42" height="1.30" fill="#3c2e17"/><rect x="32" y="162.90" width="42" height="1.50" fill="#3b3d22"/><rect x="74" y="162.90" width="41" height="1.50" fill="#3a3e1f"/><rect x="115" y="162.90" width="42" height="1.50" fill="#383e22"/><rect x="157" y="162.90" width="42" height="1.50" fill="#3f7f26"/><rect x="199" y="162.90" width="41" height="1.50" fill="#447e25"/><rect x="240" y="162.90" width="42" height="1.50" fill="#438325"/><rect x="32" y="163.90" width="42" height="1.70" fill="#37361d"/><rect x="74" y="163.90" width="41" height="1.70" fill="#343b23"/><rect x="115" y="163.90" width="42" height="1.70" fill="#32351b"/><rect x="157" y="163.90" width="42" height="1.70" fill="#5c371f"/><rect x="199" y="163.90" width="41" height="1.70" fill="#8e1b10"/><rect x="240" y="163.90" width="42" height="1.70" fill="#8d2212"/><rect x="32" y="165.10" width="42" height="1.50" fill="#857f2f"/><rect x="74" y="165.10" width="41" height="1.50" fill="#81852b"/><rect x="115" y="165.10" width="42" height="1.50" fill="#7e812a"/><rect x="157" y="165.10" width="42" height="1.50" fill="#68772c"/><rect x="199" y="165.10" width="41" height="1.50" fill="#6a792f"/><rect x="240" y="165.10" width="42" height="1.50" fill="#6b762c"/><rect x="32" y="166.10" width="42" height="1.70" fill="#3e8729"/><rect x="74" y="166.10" width="41" height="1.70" fill="#3a8628"/><rect x="115" y="166.10" width="42" height="1.70" fill="#3e802c"/><rect x="157" y="166.10" width="42" height="1.70" fill="#2c5320"/><rect x="199" y="166.10" width="41" height="1.70" fill="#25502a"/><rect x="240" y="166.10" width="42" height="1.70" fill="#2d5026"/><rect x="32" y="167.30" width="42" height="1.50" fill="#90200f"/><rect x="74" y="167.30" width="41" height="1.50" fill="#91290a"/><rect x="115" y="167.30" width="42" height="1.50" fill="#8f280b"/><rect x="157" y="167.30" width="42" height="1.50" fill="#5e8120"/><rect x="199" y="167.30" width="41" height="1.50" fill="#668325"/><rect x="240" y="167.30" width="42" height="1.50" fill="#61851e"/><rect x="32" y="168.30" width="42" height="1.70" fill="#5f7d23"/><rect x="74" y="168.30" width="41" height="1.70" fill="#5d821e"/><rect x="115" y="168.30" width="42" height="1.70" fill="#62811d"/><rect x="157" y="168.30" width="42" height="1.70" fill="#697925"/><rect x="199" y="168.30" width="41" height="1.70" fill="#667928"/><rect x="240" y="168.30" width="42" height="1.70" fill="#69762a"/><rect x="32" y="169.50" width="42" height="1.90" fill="#438133"/><rect x="74" y="169.50" width="41" height="1.90" fill="#438736"/><rect x="115" y="169.50" width="42" height="1.90" fill="#3c8735"/><rect x="157" y="169.50" width="42" height="1.90" fill="#5f8229"/><rect x="199" y="169.50" width="41" height="1.90" fill="#627e2d"/><rect x="240" y="169.50" width="42" height="1.90" fill="#648028"/><rect x="32" y="170.90" width="42" height="1.30" fill="#2f281d"/><rect x="74" y="170.90" width="41" height="1.30" fill="#312e17"/><rect x="115" y="170.90" width="42" height="1.30" fill="#332817"/><rect x="157" y="170.90" width="42" height="1.30" fill="#318d33"/><rect x="199" y="170.90" width="41" height="1.30" fill="#378e32"/><rect x="240" y="170.90" width="42" height="1.30" fill="#338d33"/><rect x="32" y="171.70" width="42" height="1.50" fill="#69842e"/><rect x="74" y="171.70" width="41" height="1.50" fill="#628927"/><rect x="115" y="171.70" width="42" height="1.50" fill="#62882b"/><rect x="157" y="171.70" width="42" height="1.50" fill="#2f3411"/><rect x="199" y="171.70" width="41" height="1.50" fill="#2a3810"/><rect x="240" y="171.70" width="42" height="1.50" fill="#30360e"/><rect x="32" y="172.70" width="42" height="1.50" fill="#667f1d"/><rect x="74" y="172.70" width="41" height="1.50" fill="#647b21"/><rect x="115" y="172.70" width="42" height="1.50" fill="#67831c"/><rect x="157" y="172.70" width="42" height="1.50" fill="#7c8320"/><rect x="199" y="172.70" width="41" height="1.50" fill="#77801f"/><rect x="240" y="172.70" width="42" height="1.50" fill="#7c8120"/><rect x="32" y="173.70" width="42" height="1.50" fill="#3f3617"/><rect x="74" y="173.70" width="41" height="1.50" fill="#513613"/><rect x="115" y="173.70" width="42" height="1.50" fill="#3f3a17"/><rect x="157" y="173.70" width="42" height="1.50" fill="#951e17"/><rect x="199" y="173.70" width="41" height="1.50" fill="#961d17"/><rect x="240" y="173.70" width="42" height="1.50" fill="#952513"/><rect x="32" y="174.70" width="42" height="1.70" fill="#af4c19"/><rect x="74" y="174.70" width="41" height="1.70" fill="#a9471a"/><rect x="115" y="174.70" width="42" height="1.70" fill="#a7461b"/><rect x="157" y="174.70" width="42" height="1.70" fill="#9a200a"/><rect x="199" y="174.70" width="41" height="1.70" fill="#9b1f11"/><rect x="240" y="174.70" width="42" height="1.70" fill="#96260a"/><rect x="32" y="175.90" width="42" height="1.90" fill="#aa4a1b"/><rect x="74" y="175.90" width="41" height="1.90" fill="#ae471a"/><rect x="115" y="175.90" width="42" height="1.90" fill="#a6451d"/><rect x="157" y="175.90" width="42" height="1.90" fill="#9a1f12"/><rect x="199" y="175.90" width="41" height="1.90" fill="#9a2510"/><rect x="240" y="175.90" width="42" height="1.90" fill="#9a230f"/><rect x="32" y="177.30" width="42" height="1.70" fill="#8d1e20"/><rect x="74" y="177.30" width="41" height="1.70" fill="#901618"/><rect x="115" y="177.30" width="42" height="1.70" fill="#911618"/><rect x="157" y="177.30" width="42" height="1.70" fill="#458328"/><rect x="199" y="177.30" width="41" height="1.70" fill="#3e8127"/><rect x="240" y="177.30" width="42" height="1.70" fill="#457b2e"/><rect x="32" y="178.50" width="42" height="1.50" fill="#961b17"/><rect x="74" y="178.50" width="41" height="1.50" fill="#8e201d"/><rect x="115" y="178.50" width="42" height="1.50" fill="#93221d"/><rect x="157" y="178.50" width="42" height="1.50" fill="#5a391e"/><rect x="199" y="178.50" width="41" height="1.50" fill="#5f3b1c"/><rect x="240" y="178.50" width="42" height="1.50" fill="#5e341b"/><rect x="32" y="179.50" width="42" height="1.30" fill="#5d842c"/><rect x="74" y="179.50" width="41" height="1.30" fill="#60852b"/><rect x="115" y="179.50" width="42" height="1.30" fill="#5a8831"/><rect x="157" y="179.50" width="42" height="1.30" fill="#378f32"/><rect x="199" y="179.50" width="41" height="1.30" fill="#358831"/><rect x="240" y="179.50" width="42" height="1.30" fill="#369032"/><rect x="32" y="180.30" width="42" height="1.30" fill="#697d27"/><rect x="74" y="180.30" width="41" height="1.30" fill="#6b832b"/><rect x="115" y="180.30" width="42" height="1.30" fill="#6e822e"/><rect x="157" y="180.30" width="42" height="1.30" fill="#4c5c1d"/><rect x="199" y="180.30" width="41" height="1.30" fill="#5c351b"/><rect x="240" y="180.30" width="42" height="1.30" fill="#553416"/><rect x="32" y="181.10" width="42" height="1.50" fill="#2c6422"/><rect x="74" y="181.10" width="41" height="1.50" fill="#2e6622"/><rect x="115" y="181.10" width="42" height="1.50" fill="#276221"/><rect x="157" y="181.10" width="42" height="1.50" fill="#5d8130"/><rect x="199" y="181.10" width="41" height="1.50" fill="#607d2c"/><rect x="240" y="181.10" width="42" height="1.50" fill="#585a2d"/><rect x="32" y="182.10" width="42" height="1.90" fill="#5e781f"/><rect x="74" y="182.10" width="41" height="1.90" fill="#5c7a25"/><rect x="115" y="182.10" width="42" height="1.90" fill="#607c23"/><rect x="157" y="182.10" width="42" height="1.90" fill="#363121"/><rect x="199" y="182.10" width="41" height="1.90" fill="#2f2b1c"/><rect x="240" y="182.10" width="42" height="1.90" fill="#2d2b1c"/><rect x="32" y="183.50" width="42" height="1.50" fill="#368332"/><rect x="74" y="183.50" width="41" height="1.50" fill="#317e36"/><rect x="115" y="183.50" width="42" height="1.50" fill="#36832e"/><rect x="157" y="183.50" width="42" height="1.50" fill="#57841b"/><rect x="199" y="183.50" width="41" height="1.50" fill="#56811f"/><rect x="240" y="183.50" width="42" height="1.50" fill="#56851d"/><rect x="32" y="184.50" width="42" height="1.70" fill="#333424"/><rect x="74" y="184.50" width="41" height="1.70" fill="#2a321f"/><rect x="115" y="184.50" width="42" height="1.70" fill="#2d3620"/><rect x="157" y="184.50" width="42" height="1.70" fill="#677f23"/><rect x="199" y="184.50" width="41" height="1.70" fill="#5f7923"/><rect x="240" y="184.50" width="42" height="1.70" fill="#617724"/><rect x="32" y="185.70" width="42" height="1.70" fill="#5d4322"/><rect x="74" y="185.70" width="41" height="1.70" fill="#5d421f"/><rect x="115" y="185.70" width="42" height="1.70" fill="#5e4221"/><rect x="157" y="185.70" width="42" height="1.70" fill="#573312"/><rect x="199" y="185.70" width="41" height="1.70" fill="#563111"/><rect x="240" y="185.70" width="42" height="1.70" fill="#563016"/><rect x="32" y="186.90" width="42" height="1.30" fill="#a94f22"/><rect x="74" y="186.90" width="41" height="1.30" fill="#b04a21"/><rect x="115" y="186.90" width="42" height="1.30" fill="#aa4c21"/><rect x="157" y="186.90" width="42" height="1.30" fill="#597625"/><rect x="199" y="186.90" width="41" height="1.30" fill="#5b7520"/><rect x="240" y="186.90" width="42" height="1.30" fill="#5a7325"/><rect x="32" y="187.70" width="42" height="1.70" fill="#584212"/><rect x="74" y="187.70" width="41" height="1.70" fill="#5d3a11"/><rect x="115" y="187.70" width="42" height="1.70" fill="#5c3f17"/><rect x="157" y="187.70" width="42" height="1.70" fill="#417e2c"/><rect x="199" y="187.70" width="41" height="1.70" fill="#427b2c"/><rect x="240" y="187.70" width="42" height="1.70" fill="#477a2b"/><rect x="32" y="188.90" width="42" height="1.30" fill="#607928"/><rect x="74" y="188.90" width="41" height="1.30" fill="#657d2d"/><rect x="115" y="188.90" width="42" height="1.30" fill="#617b30"/><rect x="157" y="188.90" width="42" height="1.30" fill="#2a3312"/><rect x="199" y="188.90" width="41" height="1.30" fill="#303513"/><rect x="240" y="188.90" width="42" height="1.30" fill="#2e3612"/><rect x="32" y="189.70" width="42" height="1.90" fill="#7b802c"/><rect x="74" y="189.70" width="41" height="1.90" fill="#7d7e30"/><rect x="115" y="189.70" width="42" height="1.90" fill="#807f2e"/><rect x="157" y="189.70" width="42" height="1.90" fill="#652e16"/><rect x="199" y="189.70" width="41" height="1.90" fill="#662a18"/><rect x="240" y="189.70" width="42" height="1.90" fill="#602c1e"/><rect x="32" y="191.10" width="42" height="1.50" fill="#325b27"/><rect x="74" y="191.10" width="41" height="1.50" fill="#2d5d25"/><rect x="115" y="191.10" width="42" height="1.50" fill="#2d5922"/><rect x="157" y="191.10" width="42" height="1.50" fill="#952613"/><rect x="199" y="191.10" width="41" height="1.50" fill="#8f250e"/><rect x="240" y="191.10" width="42" height="1.50" fill="#902211"/><rect x="32" y="192.10" width="42" height="1.50" fill="#2f6020"/><rect x="74" y="192.10" width="41" height="1.50" fill="#384919"/><rect x="115" y="192.10" width="42" height="1.50" fill="#3a4616"/><rect x="157" y="192.10" width="42" height="1.50" fill="#577f27"/><rect x="199" y="192.10" width="41" height="1.50" fill="#5b7e29"/><rect x="240" y="192.10" width="42" height="1.50" fill="#5e8629"/><rect x="32" y="193.10" width="42" height="1.30" fill="#368320"/><rect x="74" y="193.10" width="41" height="1.30" fill="#368126"/><rect x="115" y="193.10" width="42" height="1.30" fill="#3c8321"/><rect x="157" y="193.10" width="42" height="1.30" fill="#1a531f"/><rect x="199" y="193.10" width="41" height="1.30" fill="#1e591d"/><rect x="240" y="193.10" width="42" height="1.30" fill="#1f5517"/><rect x="32" y="193.90" width="42" height="1.90" fill="#6a7d26"/><rect x="74" y="193.90" width="41" height="1.90" fill="#657f27"/><rect x="115" y="193.90" width="42" height="1.90" fill="#697c27"/><rect x="157" y="193.90" width="42" height="1.90" fill="#8a8723"/><rect x="199" y="193.90" width="41" height="1.90" fill="#8c8c20"/><rect x="240" y="193.90" width="42" height="1.90" fill="#888b1f"/><rect x="32" y="195.30" width="42" height="1.50" fill="#637629"/><rect x="74" y="195.30" width="41" height="1.50" fill="#64782f"/><rect x="115" y="195.30" width="42" height="1.50" fill="#677529"/><rect x="157" y="195.30" width="42" height="1.50" fill="#af4721"/><rect x="199" y="195.30" width="41" height="1.50" fill="#b04723"/><rect x="240" y="195.30" width="42" height="1.50" fill="#b2431e"/><rect x="32" y="196.30" width="42" height="1.50" fill="#6c8328"/><rect x="74" y="196.30" width="41" height="1.50" fill="#6c8627"/><rect x="115" y="196.30" width="42" height="1.50" fill="#6c8a29"/><rect x="157" y="196.30" width="42" height="1.50" fill="#678227"/><rect x="199" y="196.30" width="41" height="1.50" fill="#667d29"/><rect x="240" y="196.30" width="42" height="1.50" fill="#688226"/><rect x="32" y="197.30" width="42" height="1.90" fill="#5f882e"/><rect x="74" y="197.30" width="41" height="1.90" fill="#5f862f"/><rect x="115" y="197.30" width="42" height="1.90" fill="#5c8829"/><rect x="157" y="197.30" width="42" height="1.90" fill="#382719"/><rect x="199" y="197.30" width="41" height="1.90" fill="#2f2d14"/><rect x="240" y="197.30" width="42" height="1.90" fill="#322e19"/><rect x="32" y="198.70" width="42" height="1.90" fill="#638024"/><rect x="74" y="198.70" width="41" height="1.90" fill="#418420"/><rect x="115" y="198.70" width="42" height="1.90" fill="#477e23"/><rect x="157" y="198.70" width="42" height="1.90" fill="#643225"/><rect x="199" y="198.70" width="41" height="1.90" fill="#5f3521"/><rect x="240" y="198.70" width="42" height="1.90" fill="#62351e"/><rect x="32" y="200.10" width="42" height="1.50" fill="#5a4218"/><rect x="74" y="200.10" width="41" height="1.50" fill="#584317"/><rect x="115" y="200.10" width="42" height="1.50" fill="#5c4313"/><rect x="157" y="200.10" width="42" height="1.50" fill="#b24e23"/><rect x="199" y="200.10" width="41" height="1.50" fill="#b15021"/><rect x="240" y="200.10" width="42" height="1.50" fill="#b25521"/><rect x="32" y="201.10" width="42" height="1.50" fill="#3f341e"/><rect x="74" y="201.10" width="41" height="1.50" fill="#433118"/><rect x="115" y="201.10" width="42" height="1.50" fill="#43301c"/><rect x="157" y="201.10" width="42" height="1.50" fill="#b75318"/><rect x="199" y="201.10" width="41" height="1.50" fill="#bc4a17"/><rect x="240" y="201.10" width="42" height="1.50" fill="#bb4e12"/><rect x="32" y="202.10" width="42" height="1.90" fill="#3f8721"/><rect x="74" y="202.10" width="41" height="1.90" fill="#408824"/><rect x="115" y="202.10" width="42" height="1.90" fill="#3d8a27"/><rect x="157" y="202.10" width="42" height="1.90" fill="#6f261e"/><rect x="199" y="202.10" width="41" height="1.90" fill="#9b1b1a"/><rect x="240" y="202.10" width="42" height="1.90" fill="#9a2014"/><rect x="32" y="203.50" width="42" height="1.30" fill="#5f8031"/><rect x="74" y="203.50" width="41" height="1.30" fill="#578130"/><rect x="115" y="203.50" width="42" height="1.30" fill="#5c7d2a"/><rect x="157" y="203.50" width="42" height="1.30" fill="#6f5416"/><rect x="199" y="203.50" width="41" height="1.30" fill="#b24815"/><rect x="240" y="203.50" width="42" height="1.30" fill="#af4c16"/><rect x="32" y="204.30" width="42" height="1.70" fill="#5f381f"/><rect x="74" y="204.30" width="41" height="1.70" fill="#5f3621"/><rect x="115" y="204.30" width="42" height="1.70" fill="#633525"/><rect x="157" y="204.30" width="42" height="1.70" fill="#2b561c"/><rect x="199" y="204.30" width="41" height="1.70" fill="#29511b"/><rect x="240" y="204.30" width="42" height="1.70" fill="#2c521e"/><rect x="32" y="205.50" width="42" height="1.70" fill="#613715"/><rect x="74" y="205.50" width="41" height="1.70" fill="#603611"/><rect x="115" y="205.50" width="42" height="1.70" fill="#633518"/><rect x="157" y="205.50" width="42" height="1.70" fill="#34321f"/><rect x="199" y="205.50" width="41" height="1.70" fill="#3a3124"/><rect x="240" y="205.50" width="42" height="1.70" fill="#353022"/><rect x="32" y="206.70" width="42" height="1.30" fill="#32331e"/><rect x="74" y="206.70" width="41" height="1.30" fill="#32301d"/><rect x="115" y="206.70" width="42" height="1.30" fill="#35341b"/><rect x="157" y="206.70" width="42" height="1.30" fill="#265a25"/><rect x="199" y="206.70" width="41" height="1.30" fill="#275820"/><rect x="240" y="206.70" width="42" height="1.30" fill="#2a5720"/><rect x="32" y="207.50" width="42" height="1.70" fill="#678221"/><rect x="74" y="207.50" width="41" height="1.70" fill="#657f1f"/><rect x="115" y="207.50" width="42" height="1.70" fill="#677f1c"/><rect x="157" y="207.50" width="42" height="1.70" fill="#6a8821"/><rect x="199" y="207.50" width="41" height="1.70" fill="#6d7e1e"/><rect x="240" y="207.50" width="42" height="1.70" fill="#698421"/><rect x="32" y="208.70" width="42" height="1.50" fill="#99190d"/><rect x="74" y="208.70" width="41" height="1.50" fill="#9b140d"/><rect x="115" y="208.70" width="42" height="1.50" fill="#a31610"/><rect x="157" y="208.70" width="42" height="1.50" fill="#b44913"/><rect x="199" y="208.70" width="41" height="1.50" fill="#ac4619"/><rect x="240" y="208.70" width="42" height="1.50" fill="#b04912"/><rect x="32" y="209.70" width="42" height="1.70" fill="#913916"/><rect x="74" y="209.70" width="41" height="1.70" fill="#90391b"/><rect x="115" y="209.70" width="42" height="1.70" fill="#ba431f"/><rect x="157" y="209.70" width="42" height="1.70" fill="#623b19"/><rect x="199" y="209.70" width="41" height="1.70" fill="#653d1c"/><rect x="240" y="209.70" width="42" height="1.70" fill="#69391c"/><rect x="32" y="210.90" width="42" height="1.50" fill="#3b3c20"/><rect x="74" y="210.90" width="41" height="1.50" fill="#393d22"/><rect x="115" y="210.90" width="42" height="1.50" fill="#413527"/><rect x="157" y="210.90" width="42" height="1.50" fill="#58391f"/><rect x="199" y="210.90" width="41" height="1.50" fill="#5a3619"/><rect x="240" y="210.90" width="42" height="1.50" fill="#5b3a1d"/><rect x="32" y="211.90" width="42" height="1.50" fill="#61791b"/><rect x="74" y="211.90" width="41" height="1.50" fill="#607d1d"/><rect x="115" y="211.90" width="42" height="1.50" fill="#657f1f"/><rect x="157" y="211.90" width="42" height="1.50" fill="#437c2e"/><rect x="199" y="211.90" width="41" height="1.50" fill="#3c812e"/><rect x="240" y="211.90" width="42" height="1.50" fill="#427f2e"/><rect x="32" y="212.90" width="42" height="1.50" fill="#418a1e"/><rect x="74" y="212.90" width="41" height="1.50" fill="#41821f"/><rect x="115" y="212.90" width="42" height="1.50" fill="#3f8b22"/><rect x="157" y="212.90" width="42" height="1.50" fill="#643919"/><rect x="199" y="212.90" width="41" height="1.50" fill="#5e3712"/><rect x="240" y="212.90" width="42" height="1.50" fill="#5e4111"/><rect x="32" y="213.90" width="42" height="1.70" fill="#bb4c17"/><rect x="74" y="213.90" width="41" height="1.70" fill="#b84e19"/><rect x="115" y="213.90" width="42" height="1.70" fill="#b44c15"/><rect x="157" y="213.90" width="42" height="1.70" fill="#a9441c"/><rect x="199" y="213.90" width="41" height="1.70" fill="#ac421f"/><rect x="240" y="213.90" width="42" height="1.70" fill="#b04a17"/><rect x="32" y="215.10" width="42" height="1.90" fill="#398828"/><rect x="74" y="215.10" width="41" height="1.90" fill="#398c28"/><rect x="115" y="215.10" width="42" height="1.90" fill="#3a8d21"/><rect x="157" y="215.10" width="42" height="1.90" fill="#362c16"/><rect x="199" y="215.10" width="41" height="1.90" fill="#382710"/><rect x="240" y="215.10" width="42" height="1.90" fill="#3a2c11"/><rect x="32" y="216.50" width="42" height="1.30" fill="#623c1c"/><rect x="74" y="216.50" width="41" height="1.30" fill="#654118"/><rect x="115" y="216.50" width="42" height="1.30" fill="#6b4120"/><rect x="157" y="216.50" width="42" height="1.30" fill="#60732f"/><rect x="199" y="216.50" width="41" height="1.30" fill="#5a7a2b"/><rect x="240" y="216.50" width="42" height="1.30" fill="#587930"/><rect x="32" y="217.30" width="42" height="1.30" fill="#3a2f14"/><rect x="74" y="217.30" width="41" height="1.30" fill="#3f3317"/><rect x="115" y="217.30" width="42" height="1.30" fill="#3b3817"/><rect x="157" y="217.30" width="42" height="1.30" fill="#8c170d"/><rect x="199" y="217.30" width="41" height="1.30" fill="#8f190f"/><rect x="240" y="217.30" width="42" height="1.30" fill="#8d1611"/><rect x="32" y="218.10" width="42" height="1.30" fill="#428125"/><rect x="74" y="218.10" width="41" height="1.30" fill="#458622"/><rect x="115" y="218.10" width="42" height="1.30" fill="#48841f"/><rect x="157" y="218.10" width="42" height="1.30" fill="#59771e"/><rect x="199" y="218.10" width="41" height="1.30" fill="#57751c"/><rect x="240" y="218.10" width="42" height="1.30" fill="#5e7b1d"/><rect x="32" y="218.90" width="42" height="1.50" fill="#992b16"/><rect x="74" y="218.90" width="41" height="1.50" fill="#7d5b1e"/><rect x="115" y="218.90" width="42" height="1.50" fill="#932515"/><rect x="157" y="218.90" width="42" height="1.50" fill="#a94a1f"/><rect x="199" y="218.90" width="41" height="1.50" fill="#ab4821"/><rect x="240" y="218.90" width="42" height="1.50" fill="#a84a23"/><rect x="32" y="219.90" width="42" height="1.30" fill="#58802e"/><rect x="74" y="219.90" width="41" height="1.30" fill="#5d8031"/><rect x="115" y="219.90" width="42" height="1.30" fill="#60832e"/><rect x="157" y="219.90" width="42" height="1.30" fill="#627a24"/><rect x="199" y="219.90" width="41" height="1.30" fill="#647127"/><rect x="240" y="219.90" width="42" height="1.30" fill="#627727"/><rect x="32" y="220.70" width="42" height="1.50" fill="#2c5622"/><rect x="74" y="220.70" width="41" height="1.50" fill="#335720"/><rect x="115" y="220.70" width="42" height="1.50" fill="#325120"/><rect x="157" y="220.70" width="42" height="1.50" fill="#6c7723"/><rect x="199" y="220.70" width="41" height="1.50" fill="#687925"/><rect x="240" y="220.70" width="42" height="1.50" fill="#69721f"/><rect x="32" y="221.70" width="42" height="1.50" fill="#627d2a"/><rect x="74" y="221.70" width="41" height="1.50" fill="#627c2c"/><rect x="115" y="221.70" width="42" height="1.50" fill="#62802d"/><rect x="157" y="221.70" width="42" height="1.50" fill="#b35518"/><rect x="199" y="221.70" width="41" height="1.50" fill="#b3541f"/><rect x="240" y="221.70" width="42" height="1.50" fill="#b75218"/><rect x="32" y="222.70" width="42" height="1.50" fill="#5c3421"/><rect x="74" y="222.70" width="41" height="1.50" fill="#56311a"/><rect x="115" y="222.70" width="42" height="1.50" fill="#5a3423"/><rect x="157" y="222.70" width="42" height="1.50" fill="#332c11"/><rect x="199" y="222.70" width="41" height="1.50" fill="#302f16"/><rect x="240" y="222.70" width="42" height="1.50" fill="#342c12"/><rect x="32" y="223.70" width="42" height="1.50" fill="#68811e"/><rect x="74" y="223.70" width="41" height="1.50" fill="#62831f"/><rect x="115" y="223.70" width="42" height="1.50" fill="#667f21"/><rect x="157" y="223.70" width="42" height="1.50" fill="#9b2b1f"/><rect x="199" y="223.70" width="41" height="1.50" fill="#9d2518"/><rect x="240" y="223.70" width="42" height="1.50" fill="#9b291d"/><rect x="32" y="224.70" width="42" height="1.50" fill="#398f2f"/><rect x="74" y="224.70" width="41" height="1.50" fill="#3a8f31"/><rect x="115" y="224.70" width="42" height="1.50" fill="#358c30"/><rect x="157" y="224.70" width="42" height="1.50" fill="#bc4225"/><rect x="199" y="224.70" width="41" height="1.50" fill="#b44827"/><rect x="240" y="224.70" width="42" height="1.50" fill="#bc4429"/><rect x="32" y="225.70" width="42" height="1.30" fill="#5f3e10"/><rect x="74" y="225.70" width="41" height="1.30" fill="#643c16"/><rect x="115" y="225.70" width="42" height="1.30" fill="#633717"/><rect x="157" y="225.70" width="42" height="1.30" fill="#7f4c13"/><rect x="199" y="225.70" width="41" height="1.30" fill="#583914"/><rect x="240" y="225.70" width="42" height="1.30" fill="#543d11"/><rect x="32" y="226.50" width="42" height="1.70" fill="#368e29"/><rect x="74" y="226.50" width="41" height="1.70" fill="#3c8a29"/><rect x="115" y="226.50" width="42" height="1.70" fill="#3e882a"/><rect x="157" y="226.50" width="42" height="1.70" fill="#352d12"/><rect x="199" y="226.50" width="41" height="1.70" fill="#362d17"/><rect x="240" y="226.50" width="42" height="1.70" fill="#352911"/><rect x="32" y="227.70" width="42" height="1.50" fill="#5f391b"/><rect x="74" y="227.70" width="41" height="1.50" fill="#64341a"/><rect x="115" y="227.70" width="42" height="1.50" fill="#63361a"/><rect x="157" y="227.70" width="42" height="1.50" fill="#637e20"/><rect x="199" y="227.70" width="41" height="1.50" fill="#627b1e"/><rect x="240" y="227.70" width="42" height="1.50" fill="#62801e"/><rect x="32" y="228.70" width="42" height="1.70" fill="#ad4425"/><rect x="74" y="228.70" width="41" height="1.70" fill="#a8471f"/><rect x="115" y="228.70" width="42" height="1.70" fill="#b03f25"/><rect x="157" y="228.70" width="42" height="1.70" fill="#318828"/><rect x="199" y="228.70" width="41" height="1.70" fill="#30882b"/><rect x="240" y="228.70" width="42" height="1.70" fill="#416421"/><rect x="32" y="229.90" width="42" height="1.50" fill="#423827"/><rect x="74" y="229.90" width="41" height="1.50" fill="#41371e"/><rect x="115" y="229.90" width="42" height="1.50" fill="#3f3b26"/><rect x="157" y="229.90" width="42" height="1.50" fill="#627f28"/><rect x="199" y="229.90" width="41" height="1.50" fill="#68782d"/><rect x="240" y="229.90" width="42" height="1.50" fill="#62782f"/><rect x="32" y="230.90" width="42" height="1.50" fill="#b24d1d"/><rect x="74" y="230.90" width="41" height="1.50" fill="#af4f22"/><rect x="115" y="230.90" width="42" height="1.50" fill="#b14a1b"/><rect x="157" y="230.90" width="42" height="1.50" fill="#7d8e28"/><rect x="199" y="230.90" width="41" height="1.50" fill="#78872b"/><rect x="240" y="230.90" width="42" height="1.50" fill="#7a8d2e"/><rect x="32" y="231.90" width="42" height="1.50" fill="#408b29"/><rect x="74" y="231.90" width="41" height="1.50" fill="#468a2e"/><rect x="115" y="231.90" width="42" height="1.50" fill="#458d28"/><rect x="157" y="231.90" width="42" height="1.50" fill="#647b1c"/><rect x="199" y="231.90" width="41" height="1.50" fill="#61791f"/><rect x="240" y="231.90" width="42" height="1.50" fill="#5f7c23"/><rect x="32" y="232.90" width="42" height="1.30" fill="#868432"/><rect x="74" y="232.90" width="41" height="1.30" fill="#8b8533"/><rect x="115" y="232.90" width="42" height="1.30" fill="#898132"/><rect x="157" y="232.90" width="42" height="1.30" fill="#7e7a24"/><rect x="199" y="232.90" width="41" height="1.30" fill="#787b21"/><rect x="240" y="232.90" width="42" height="1.30" fill="#797b1e"/><rect x="32" y="233.70" width="42" height="1.70" fill="#638226"/><rect x="74" y="233.70" width="41" height="1.70" fill="#5f8221"/><rect x="115" y="233.70" width="42" height="1.70" fill="#5d8525"/><rect x="157" y="233.70" width="42" height="1.70" fill="#932016"/><rect x="199" y="233.70" width="41" height="1.70" fill="#931c19"/><rect x="240" y="233.70" width="42" height="1.70" fill="#941b11"/><rect x="32" y="234.90" width="42" height="1.50" fill="#af4620"/><rect x="74" y="234.90" width="41" height="1.50" fill="#ae481e"/><rect x="115" y="234.90" width="42" height="1.50" fill="#b3431b"/><rect x="157" y="234.90" width="42" height="1.50" fill="#632b1b"/><rect x="199" y="234.90" width="41" height="1.50" fill="#632f18"/><rect x="240" y="234.90" width="42" height="1.50" fill="#5f331a"/><rect x="32" y="235.90" width="42" height="1.90" fill="#573320"/><rect x="74" y="235.90" width="41" height="1.90" fill="#5b321e"/><rect x="115" y="235.90" width="42" height="1.90" fill="#56301c"/><rect x="157" y="235.90" width="42" height="1.90" fill="#aa5518"/><rect x="199" y="235.90" width="41" height="1.90" fill="#ab571a"/><rect x="240" y="235.90" width="42" height="1.90" fill="#a85716"/><rect x="32" y="237.30" width="42" height="1.70" fill="#603517"/><rect x="74" y="237.30" width="41" height="1.70" fill="#5b2d19"/><rect x="115" y="237.30" width="42" height="1.70" fill="#59321c"/><rect x="157" y="237.30" width="42" height="1.70" fill="#64731e"/><rect x="199" y="237.30" width="41" height="1.70" fill="#64711f"/><rect x="240" y="237.30" width="42" height="1.70" fill="#657122"/><rect x="32" y="238.50" width="42" height="1.50" fill="#4b8730"/><rect x="74" y="238.50" width="41" height="1.50" fill="#488427"/><rect x="115" y="238.50" width="42" height="1.50" fill="#458728"/><rect x="157" y="238.50" width="42" height="1.50" fill="#373214"/><rect x="199" y="238.50" width="41" height="1.50" fill="#3d3312"/><rect x="240" y="238.50" width="42" height="1.50" fill="#3a3114"/><rect x="32" y="239.50" width="42" height="1.90" fill="#3b842e"/><rect x="74" y="239.50" width="41" height="1.90" fill="#3a8735"/><rect x="115" y="239.50" width="42" height="1.90" fill="#36832d"/><rect x="157" y="239.50" width="42" height="1.90" fill="#2f2f1c"/><rect x="199" y="239.50" width="41" height="1.90" fill="#2e2920"/><rect x="240" y="239.50" width="42" height="1.90" fill="#2e2b1c"/><rect x="32" y="240.90" width="42" height="1.50" fill="#828e20"/><rect x="74" y="240.90" width="41" height="1.50" fill="#818821"/><rect x="115" y="240.90" width="42" height="1.50" fill="#828723"/><rect x="157" y="240.90" width="42" height="1.50" fill="#577d21"/><rect x="199" y="240.90" width="41" height="1.50" fill="#5a7d1f"/><rect x="240" y="240.90" width="42" height="1.50" fill="#5e7c1e"/><rect x="32" y="241.90" width="42" height="1.50" fill="#597d22"/><rect x="74" y="241.90" width="41" height="1.50" fill="#617f24"/><rect x="115" y="241.90" width="42" height="1.50" fill="#5b801b"/><rect x="157" y="241.90" width="42" height="1.50" fill="#aa471f"/><rect x="199" y="241.90" width="41" height="1.50" fill="#ab3f24"/><rect x="240" y="241.90" width="42" height="1.50" fill="#af4020"/><rect x="32" y="242.90" width="42" height="1.30" fill="#2e6520"/><rect x="74" y="242.90" width="41" height="1.30" fill="#336619"/><rect x="115" y="242.90" width="42" height="1.30" fill="#30611a"/><rect x="157" y="242.90" width="42" height="1.30" fill="#633e1c"/><rect x="199" y="242.90" width="41" height="1.30" fill="#633918"/><rect x="240" y="242.90" width="42" height="1.30" fill="#613f1d"/><rect x="32" y="243.70" width="42" height="1.50" fill="#3b2f1a"/><rect x="74" y="243.70" width="41" height="1.50" fill="#3a341d"/><rect x="115" y="243.70" width="42" height="1.50" fill="#393217"/><rect x="157" y="243.70" width="42" height="1.50" fill="#3b331c"/><rect x="199" y="243.70" width="41" height="1.50" fill="#3e2a1f"/><rect x="240" y="243.70" width="42" height="1.50" fill="#432e22"/><rect x="32" y="244.70" width="42" height="1.30" fill="#921c12"/><rect x="74" y="244.70" width="41" height="1.30" fill="#961912"/><rect x="115" y="244.70" width="42" height="1.30" fill="#734b20"/><rect x="157" y="244.70" width="42" height="1.30" fill="#613a19"/><rect x="199" y="244.70" width="41" height="1.30" fill="#623c1a"/><rect x="240" y="244.70" width="42" height="1.30" fill="#65381d"/><rect x="32" y="245.50" width="42" height="1.90" fill="#911d1e"/><rect x="74" y="245.50" width="41" height="1.90" fill="#8c251d"/><rect x="115" y="245.50" width="42" height="1.90" fill="#8c2219"/><rect x="157" y="245.50" width="42" height="1.90" fill="#305c25"/><rect x="199" y="245.50" width="41" height="1.90" fill="#315720"/><rect x="240" y="245.50" width="42" height="1.90" fill="#2e6022"/><rect x="32" y="246.90" width="42" height="1.70" fill="#418128"/><rect x="74" y="246.90" width="41" height="1.70" fill="#428322"/><rect x="115" y="246.90" width="42" height="1.70" fill="#478328"/><rect x="157" y="246.90" width="42" height="1.70" fill="#693e18"/><rect x="199" y="246.90" width="41" height="1.70" fill="#6a3f18"/><rect x="240" y="246.90" width="42" height="1.70" fill="#6a3f19"/><rect x="32" y="248.10" width="42" height="1.50" fill="#637e2e"/><rect x="74" y="248.10" width="41" height="1.50" fill="#5b7e2a"/><rect x="115" y="248.10" width="42" height="1.50" fill="#5d812e"/><rect x="157" y="248.10" width="42" height="1.50" fill="#6a7923"/><rect x="199" y="248.10" width="41" height="1.50" fill="#647723"/><rect x="240" y="248.10" width="42" height="1.50" fill="#637e22"/><rect x="32" y="249.10" width="42" height="1.90" fill="#3e3221"/><rect x="74" y="249.10" width="41" height="1.90" fill="#412e1d"/><rect x="115" y="249.10" width="42" height="1.90" fill="#3d3423"/><rect x="157" y="249.10" width="42" height="1.90" fill="#42851d"/><rect x="199" y="249.10" width="41" height="1.90" fill="#428624"/><rect x="240" y="249.10" width="42" height="1.90" fill="#3b8524"/><rect x="32" y="250.50" width="42" height="1.50" fill="#687628"/><rect x="74" y="250.50" width="41" height="1.50" fill="#6d732c"/><rect x="115" y="250.50" width="42" height="1.50" fill="#6c762b"/><rect x="157" y="250.50" width="42" height="1.50" fill="#ae501e"/><rect x="199" y="250.50" width="41" height="1.50" fill="#ae4f26"/><rect x="240" y="250.50" width="42" height="1.50" fill="#ad531e"/><rect x="32" y="251.50" width="42" height="1.30" fill="#af521a"/><rect x="74" y="251.50" width="41" height="1.30" fill="#b25717"/><rect x="115" y="251.50" width="42" height="1.30" fill="#b65616"/><rect x="157" y="251.50" width="42" height="1.30" fill="#62802b"/><rect x="199" y="251.50" width="41" height="1.30" fill="#648431"/><rect x="240" y="251.50" width="42" height="1.30" fill="#64842a"/><rect x="32" y="252.30" width="42" height="1.50" fill="#553326"/><rect x="74" y="252.30" width="41" height="1.50" fill="#693621"/><rect x="115" y="252.30" width="42" height="1.50" fill="#69381e"/><rect x="157" y="252.30" width="42" height="1.50" fill="#808427"/><rect x="199" y="252.30" width="41" height="1.50" fill="#797b26"/><rect x="240" y="252.30" width="42" height="1.50" fill="#7c8425"/><rect x="32" y="253.30" width="42" height="1.50" fill="#9d1915"/><rect x="74" y="253.30" width="41" height="1.50" fill="#9a1616"/><rect x="115" y="253.30" width="42" height="1.50" fill="#9a1e11"/><rect x="157" y="253.30" width="42" height="1.50" fill="#24531f"/><rect x="199" y="253.30" width="41" height="1.50" fill="#1d511f"/><rect x="240" y="253.30" width="42" height="1.50" fill="#205722"/><rect x="32" y="254.30" width="42" height="1.50" fill="#941d0d"/><rect x="74" y="254.30" width="41" height="1.50" fill="#981808"/><rect x="115" y="254.30" width="42" height="1.50" fill="#9b1a0d"/><rect x="157" y="254.30" width="42" height="1.50" fill="#2e582b"/><rect x="199" y="254.30" width="41" height="1.50" fill="#2d5d22"/><rect x="240" y="254.30" width="42" height="1.50" fill="#2a5f21"/><rect x="32" y="255.30" width="42" height="1.70" fill="#5f3714"/><rect x="74" y="255.30" width="41" height="1.70" fill="#5f3a16"/><rect x="115" y="255.30" width="42" height="1.70" fill="#62361b"/><rect x="157" y="255.30" width="42" height="1.70" fill="#9c2116"/><rect x="199" y="255.30" width="41" height="1.70" fill="#9b1e1c"/><rect x="240" y="255.30" width="42" height="1.70" fill="#9e1f1a"/><rect x="32" y="256.50" width="42" height="1.50" fill="#42842c"/><rect x="74" y="256.50" width="41" height="1.50" fill="#3e8533"/><rect x="115" y="256.50" width="42" height="1.50" fill="#3c7f32"/><rect x="157" y="256.50" width="42" height="1.50" fill="#368722"/><rect x="199" y="256.50" width="41" height="1.50" fill="#348323"/><rect x="240" y="256.50" width="42" height="1.50" fill="#388428"/><rect x="32" y="257.50" width="42" height="1.50" fill="#448d20"/><rect x="74" y="257.50" width="41" height="1.50" fill="#41931f"/><rect x="115" y="257.50" width="42" height="1.50" fill="#406315"/><rect x="157" y="257.50" width="42" height="1.50" fill="#aa4417"/><rect x="199" y="257.50" width="41" height="1.50" fill="#ad441b"/><rect x="240" y="257.50" width="42" height="1.50" fill="#ab4515"/><rect x="32" y="258.50" width="42" height="1.50" fill="#378825"/><rect x="74" y="258.50" width="41" height="1.50" fill="#3b8b28"/><rect x="115" y="258.50" width="42" height="1.50" fill="#358d22"/><rect x="157" y="258.50" width="42" height="1.50" fill="#941711"/><rect x="199" y="258.50" width="41" height="1.50" fill="#9a1911"/><rect x="240" y="258.50" width="42" height="1.50" fill="#941512"/><rect x="32" y="259.50" width="42" height="1.50" fill="#b84d1e"/><rect x="74" y="259.50" width="41" height="1.50" fill="#ba4d16"/><rect x="115" y="259.50" width="42" height="1.50" fill="#bc4b1b"/><rect x="157" y="259.50" width="42" height="1.50" fill="#68762a"/><rect x="199" y="259.50" width="41" height="1.50" fill="#657929"/><rect x="240" y="259.50" width="42" height="1.50" fill="#697729"/><rect x="32" y="260.50" width="42" height="1.90" fill="#332b16"/><rect x="74" y="260.50" width="41" height="1.90" fill="#342e18"/><rect x="115" y="260.50" width="42" height="1.90" fill="#48541f"/><rect x="157" y="260.50" width="42" height="1.90" fill="#593b18"/><rect x="199" y="260.50" width="41" height="1.90" fill="#5d3a13"/><rect x="240" y="260.50" width="42" height="1.90" fill="#5b3b18"/><rect x="32" y="261.90" width="42" height="1.50" fill="#2b3715"/><rect x="74" y="261.90" width="41" height="1.50" fill="#2a3411"/><rect x="115" y="261.90" width="42" height="1.50" fill="#2b3215"/><rect x="157" y="261.90" width="42" height="1.50" fill="#687c22"/><rect x="199" y="261.90" width="41" height="1.50" fill="#687a26"/><rect x="240" y="261.90" width="42" height="1.50" fill="#63781f"/><rect x="32" y="262.90" width="42" height="1.30" fill="#5f7c22"/><rect x="74" y="262.90" width="41" height="1.30" fill="#607922"/><rect x="115" y="262.90" width="42" height="1.30" fill="#5d7821"/><rect x="157" y="262.90" width="42" height="1.30" fill="#90191d"/><rect x="199" y="262.90" width="41" height="1.30" fill="#90211c"/><rect x="240" y="262.90" width="42" height="1.30" fill="#921818"/><rect x="32" y="263.70" width="42" height="1.30" fill="#b54c15"/><rect x="74" y="263.70" width="41" height="1.30" fill="#b54c14"/><rect x="115" y="263.70" width="42" height="1.30" fill="#b24817"/><rect x="157" y="263.70" width="42" height="1.30" fill="#ac511d"/><rect x="199" y="263.70" width="41" height="1.30" fill="#b04b15"/><rect x="240" y="263.70" width="42" height="1.30" fill="#b44b17"/><rect x="32" y="264.50" width="42" height="1.70" fill="#a94424"/><rect x="74" y="264.50" width="41" height="1.70" fill="#ad4a26"/><rect x="115" y="264.50" width="42" height="1.70" fill="#a84820"/><rect x="157" y="264.50" width="42" height="1.70" fill="#9d2217"/><rect x="199" y="264.50" width="41" height="1.70" fill="#9d2c19"/><rect x="240" y="264.50" width="42" height="1.70" fill="#982b14"/><rect x="32" y="265.70" width="42" height="1.90" fill="#363618"/><rect x="74" y="265.70" width="41" height="1.90" fill="#313918"/><rect x="115" y="265.70" width="42" height="1.90" fill="#2d3417"/><rect x="157" y="265.70" width="42" height="1.90" fill="#5c7e2a"/><rect x="199" y="265.70" width="41" height="1.90" fill="#5b7b2c"/><rect x="240" y="265.70" width="42" height="1.90" fill="#5b7b29"/><rect x="32" y="267.10" width="42" height="1.50" fill="#5e3a15"/><rect x="74" y="267.10" width="41" height="1.50" fill="#47381a"/><rect x="115" y="267.10" width="42" height="1.50" fill="#574219"/><rect x="157" y="267.10" width="42" height="1.50" fill="#6a812d"/><rect x="199" y="267.10" width="41" height="1.50" fill="#6c822d"/><rect x="240" y="267.10" width="42" height="1.50" fill="#668927"/><rect x="32" y="268.10" width="42" height="1.30" fill="#362f18"/><rect x="74" y="268.10" width="41" height="1.30" fill="#3a3417"/><rect x="115" y="268.10" width="42" height="1.30" fill="#342d13"/><rect x="157" y="268.10" width="42" height="1.30" fill="#a02411"/><rect x="199" y="268.10" width="41" height="1.30" fill="#8f5618"/><rect x="240" y="268.10" width="42" height="1.30" fill="#9a2510"/><rect x="32" y="268.90" width="42" height="1.30" fill="#663c1c"/><rect x="74" y="268.90" width="41" height="1.30" fill="#6a3a1a"/><rect x="115" y="268.90" width="42" height="1.30" fill="#693c19"/><rect x="157" y="268.90" width="42" height="1.30" fill="#65421a"/><rect x="199" y="268.90" width="41" height="1.30" fill="#8e451f"/><rect x="240" y="268.90" width="42" height="1.30" fill="#653a19"/><rect x="32" y="269.70" width="42" height="1.30" fill="#5d772b"/><rect x="74" y="269.70" width="41" height="1.30" fill="#5c7b2a"/><rect x="115" y="269.70" width="42" height="1.30" fill="#5d7b26"/><rect x="157" y="269.70" width="42" height="1.30" fill="#5c7a1e"/><rect x="199" y="269.70" width="41" height="1.30" fill="#577823"/><rect x="240" y="269.70" width="42" height="1.30" fill="#607c1f"/><rect x="32" y="270.50" width="42" height="1.90" fill="#3c310f"/><rect x="74" y="270.50" width="41" height="1.90" fill="#3d3518"/><rect x="115" y="270.50" width="42" height="1.90" fill="#343811"/><rect x="157" y="270.50" width="42" height="1.90" fill="#607a2b"/><rect x="199" y="270.50" width="41" height="1.90" fill="#5b7c29"/><rect x="240" y="270.50" width="42" height="1.90" fill="#5f802c"/><rect x="32" y="271.90" width="42" height="1.90" fill="#911717"/><rect x="74" y="271.90" width="41" height="1.90" fill="#8e1f1b"/><rect x="115" y="271.90" width="42" height="1.90" fill="#931b1b"/><rect x="157" y="271.90" width="42" height="1.90" fill="#6a7721"/><rect x="199" y="271.90" width="41" height="1.90" fill="#656f1c"/><rect x="240" y="271.90" width="42" height="1.90" fill="#667522"/><rect x="32" y="273.30" width="42" height="1.50" fill="#41331e"/><rect x="74" y="273.30" width="41" height="1.50" fill="#3c391e"/><rect x="115" y="273.30" width="42" height="1.50" fill="#393817"/><rect x="157" y="273.30" width="42" height="1.50" fill="#583921"/><rect x="199" y="273.30" width="41" height="1.50" fill="#573817"/><rect x="240" y="273.30" width="42" height="1.50" fill="#5a361d"/><rect x="32" y="274.30" width="42" height="1.30" fill="#562e11"/><rect x="74" y="274.30" width="41" height="1.30" fill="#5b3412"/><rect x="115" y="274.30" width="42" height="1.30" fill="#553210"/><rect x="157" y="274.30" width="42" height="1.30" fill="#86842a"/><rect x="199" y="274.30" width="41" height="1.30" fill="#8f8932"/><rect x="240" y="274.30" width="42" height="1.30" fill="#87812b"/><rect x="32" y="275.10" width="42" height="1.30" fill="#648a2b"/><rect x="74" y="275.10" width="41" height="1.30" fill="#5f872e"/><rect x="115" y="275.10" width="42" height="1.30" fill="#5e8c29"/><rect x="157" y="275.10" width="42" height="1.30" fill="#612a1c"/><rect x="199" y="275.10" width="41" height="1.30" fill="#5f2b1e"/><rect x="240" y="275.10" width="42" height="1.30" fill="#5c3022"/><rect x="32" y="275.90" width="42" height="1.50" fill="#3d9127"/><rect x="74" y="275.90" width="41" height="1.50" fill="#468b20"/><rect x="115" y="275.90" width="42" height="1.50" fill="#3c8a22"/><rect x="157" y="275.90" width="42" height="1.50" fill="#3a861c"/><rect x="199" y="275.90" width="41" height="1.50" fill="#3b8321"/><rect x="240" y="275.90" width="42" height="1.50" fill="#3b831b"/><rect x="32" y="276.90" width="42" height="1.50" fill="#3d8529"/><rect x="74" y="276.90" width="41" height="1.50" fill="#3d8721"/><rect x="115" y="276.90" width="42" height="1.50" fill="#408c24"/><rect x="157" y="276.90" width="42" height="1.50" fill="#3e3c1c"/><rect x="199" y="276.90" width="41" height="1.50" fill="#41361b"/><rect x="240" y="276.90" width="42" height="1.50" fill="#3b3b15"/><rect x="32" y="277.90" width="42" height="1.90" fill="#2f3c1d"/><rect x="74" y="277.90" width="41" height="1.90" fill="#313c20"/><rect x="115" y="277.90" width="42" height="1.90" fill="#2f3a21"/><rect x="157" y="277.90" width="42" height="1.90" fill="#603a0f"/><rect x="199" y="277.90" width="41" height="1.90" fill="#5d3e15"/><rect x="240" y="277.90" width="42" height="1.90" fill="#5f3c0d"/><rect x="32" y="279.30" width="42" height="1.90" fill="#7f8425"/><rect x="74" y="279.30" width="41" height="1.90" fill="#7d7e28"/><rect x="115" y="279.30" width="42" height="1.90" fill="#857e2a"/><rect x="157" y="279.30" width="42" height="1.90" fill="#5b2f1d"/><rect x="199" y="279.30" width="41" height="1.90" fill="#5a2c1b"/><rect x="240" y="279.30" width="42" height="1.90" fill="#5f341c"/><rect x="32" y="280.70" width="42" height="1.50" fill="#2e651f"/><rect x="74" y="280.70" width="41" height="1.50" fill="#2c641b"/><rect x="115" y="280.70" width="42" height="1.50" fill="#2f5f1a"/><rect x="157" y="280.70" width="42" height="1.50" fill="#5b7a2f"/><rect x="199" y="280.70" width="41" height="1.50" fill="#598032"/><rect x="240" y="280.70" width="42" height="1.50" fill="#5e792c"/><rect x="32" y="281.70" width="42" height="1.50" fill="#3b8623"/><rect x="74" y="281.70" width="41" height="1.50" fill="#408423"/><rect x="115" y="281.70" width="42" height="1.50" fill="#438428"/><rect x="157" y="281.70" width="42" height="1.50" fill="#b64e1d"/><rect x="199" y="281.70" width="41" height="1.50" fill="#ae451e"/><rect x="240" y="281.70" width="42" height="1.50" fill="#b34818"/><rect x="32" y="282.70" width="42" height="1.90" fill="#a95216"/><rect x="74" y="282.70" width="41" height="1.90" fill="#b15513"/><rect x="115" y="282.70" width="42" height="1.90" fill="#aa5611"/><rect x="157" y="282.70" width="42" height="1.90" fill="#b74920"/><rect x="199" y="282.70" width="41" height="1.90" fill="#ba4c20"/><rect x="240" y="282.70" width="42" height="1.90" fill="#b9491e"/><rect x="32" y="284.10" width="42" height="1.30" fill="#6d7622"/><rect x="74" y="284.10" width="41" height="1.30" fill="#6d7b24"/><rect x="115" y="284.10" width="42" height="1.30" fill="#6b7921"/><rect x="157" y="284.10" width="42" height="1.30" fill="#643d15"/><rect x="199" y="284.10" width="41" height="1.30" fill="#5d3814"/><rect x="240" y="284.10" width="42" height="1.30" fill="#5d3f18"/><rect x="32" y="284.90" width="42" height="1.90" fill="#5c782a"/><rect x="74" y="284.90" width="41" height="1.90" fill="#5d772c"/><rect x="115" y="284.90" width="42" height="1.90" fill="#5b7d2c"/><rect x="157" y="284.90" width="42" height="1.90" fill="#322b19"/><rect x="199" y="284.90" width="41" height="1.90" fill="#322d16"/><rect x="240" y="284.90" width="42" height="1.90" fill="#2c3018"/><rect x="32" y="286.30" width="42" height="1.50" fill="#352d1d"/><rect x="74" y="286.30" width="41" height="1.50" fill="#352a18"/><rect x="115" y="286.30" width="42" height="1.50" fill="#2e2d18"/><rect x="157" y="286.30" width="42" height="1.50" fill="#9a260c"/><rect x="199" y="286.30" width="41" height="1.50" fill="#9d2211"/><rect x="240" y="286.30" width="42" height="1.50" fill="#7f4d16"/><rect x="32" y="287.30" width="42" height="1.70" fill="#b24a19"/><rect x="74" y="287.30" width="41" height="1.70" fill="#b14722"/><rect x="115" y="287.30" width="42" height="1.70" fill="#b9441a"/><rect x="157" y="287.30" width="42" height="1.70" fill="#aa4a14"/><rect x="199" y="287.30" width="41" height="1.70" fill="#a74c13"/><rect x="240" y="287.30" width="42" height="1.70" fill="#ad4f17"/><rect x="32" y="288.50" width="42" height="1.50" fill="#5c7f2a"/><rect x="74" y="288.50" width="41" height="1.50" fill="#627927"/><rect x="115" y="288.50" width="42" height="1.50" fill="#628021"/><rect x="157" y="288.50" width="42" height="1.50" fill="#bc4b24"/><rect x="199" y="288.50" width="41" height="1.50" fill="#bb4726"/><rect x="240" y="288.50" width="42" height="1.50" fill="#bc4e1f"/><rect x="32" y="289.50" width="42" height="1.50" fill="#5d361b"/><rect x="74" y="289.50" width="41" height="1.50" fill="#5a3b1b"/><rect x="115" y="289.50" width="42" height="1.50" fill="#5f3c16"/><rect x="157" y="289.50" width="42" height="1.50" fill="#593d19"/><rect x="199" y="289.50" width="41" height="1.50" fill="#593d14"/><rect x="240" y="289.50" width="42" height="1.50" fill="#5d3c19"/><rect x="32" y="290.50" width="42" height="1.90" fill="#3e832f"/><rect x="74" y="290.50" width="41" height="1.90" fill="#3f882f"/><rect x="115" y="290.50" width="42" height="1.90" fill="#448b29"/><rect x="157" y="290.50" width="42" height="1.90" fill="#1c5c28"/><rect x="199" y="290.50" width="41" height="1.90" fill="#235d21"/><rect x="240" y="290.50" width="42" height="1.90" fill="#215f23"/><rect x="32" y="291.90" width="42" height="1.70" fill="#603c15"/><rect x="74" y="291.90" width="41" height="1.70" fill="#603b14"/><rect x="115" y="291.90" width="42" height="1.70" fill="#573e1a"/><rect x="157" y="291.90" width="42" height="1.70" fill="#662e24"/><rect x="199" y="291.90" width="41" height="1.70" fill="#602b20"/><rect x="240" y="291.90" width="42" height="1.70" fill="#69522a"/><rect x="32" y="293.10" width="42" height="1.50" fill="#627427"/><rect x="74" y="293.10" width="41" height="1.50" fill="#5b7527"/><rect x="115" y="293.10" width="42" height="1.50" fill="#617b25"/><rect x="157" y="293.10" width="42" height="1.50" fill="#576318"/><rect x="199" y="293.10" width="41" height="1.50" fill="#603c13"/><rect x="240" y="293.10" width="42" height="1.50" fill="#633a16"/><rect x="32" y="294.10" width="42" height="1.30" fill="#60872d"/><rect x="74" y="294.10" width="41" height="1.30" fill="#608631"/><rect x="115" y="294.10" width="42" height="1.30" fill="#795a23"/><rect x="157" y="294.10" width="42" height="1.30" fill="#425b1f"/><rect x="199" y="294.10" width="41" height="1.30" fill="#333215"/><rect x="240" y="294.10" width="42" height="1.30" fill="#2d3714"/><rect x="32" y="294.90" width="42" height="1.50" fill="#5e7924"/><rect x="74" y="294.90" width="41" height="1.50" fill="#4c7d29"/><rect x="115" y="294.90" width="42" height="1.50" fill="#657524"/><rect x="157" y="294.90" width="42" height="1.50" fill="#417f1d"/><rect x="199" y="294.90" width="41" height="1.50" fill="#407825"/><rect x="240" y="294.90" width="42" height="1.50" fill="#3d7826"/><rect x="32" y="295.90" width="42" height="1.30" fill="#5b7a28"/><rect x="74" y="295.90" width="41" height="1.30" fill="#607d25"/><rect x="115" y="295.90" width="42" height="1.30" fill="#598221"/><rect x="157" y="295.90" width="42" height="1.30" fill="#ab4e16"/><rect x="199" y="295.90" width="41" height="1.30" fill="#aa4a17"/><rect x="240" y="295.90" width="42" height="1.30" fill="#a74f1b"/><rect x="32" y="296.70" width="42" height="1.70" fill="#2f3010"/><rect x="74" y="296.70" width="41" height="1.70" fill="#2d2b15"/><rect x="115" y="296.70" width="42" height="1.70" fill="#2e2d14"/><rect x="157" y="296.70" width="42" height="1.70" fill="#667725"/><rect x="199" y="296.70" width="41" height="1.70" fill="#687b24"/><rect x="240" y="296.70" width="42" height="1.70" fill="#6c7629"/><rect x="32" y="297.90" width="42" height="1.70" fill="#363b1d"/><rect x="74" y="297.90" width="41" height="1.70" fill="#343a16"/><rect x="115" y="297.90" width="42" height="1.70" fill="#393b1d"/><rect x="157" y="297.90" width="42" height="1.70" fill="#582d18"/><rect x="199" y="297.90" width="41" height="1.70" fill="#592e19"/><rect x="240" y="297.90" width="42" height="1.70" fill="#5a2e1a"/><rect x="32" y="299.10" width="42" height="1.30" fill="#478529"/><rect x="74" y="299.10" width="41" height="1.30" fill="#49892c"/><rect x="115" y="299.10" width="42" height="1.30" fill="#47842f"/><rect x="157" y="299.10" width="42" height="1.30" fill="#3a301d"/><rect x="199" y="299.10" width="41" height="1.30" fill="#3e321f"/><rect x="240" y="299.10" width="42" height="1.30" fill="#3b3724"/><rect x="32" y="299.90" width="42" height="1.90" fill="#563919"/><rect x="74" y="299.90" width="41" height="1.90" fill="#593513"/><rect x="115" y="299.90" width="42" height="1.90" fill="#583b15"/><rect x="157" y="299.90" width="42" height="1.90" fill="#65831d"/><rect x="199" y="299.90" width="41" height="1.90" fill="#6d7d21"/><rect x="240" y="299.90" width="42" height="1.90" fill="#697a1e"/><rect x="32" y="301.30" width="42" height="1.50" fill="#339231"/><rect x="74" y="301.30" width="41" height="1.50" fill="#358b30"/><rect x="115" y="301.30" width="42" height="1.50" fill="#358d2d"/><rect x="157" y="301.30" width="42" height="1.50" fill="#a84828"/><rect x="199" y="301.30" width="41" height="1.50" fill="#a84023"/><rect x="240" y="301.30" width="42" height="1.50" fill="#ad4622"/><rect x="32" y="302.30" width="42" height="1.70" fill="#b94417"/><rect x="74" y="302.30" width="41" height="1.70" fill="#ba421d"/><rect x="115" y="302.30" width="42" height="1.70" fill="#bd4219"/><rect x="157" y="302.30" width="42" height="1.70" fill="#627223"/><rect x="199" y="302.30" width="41" height="1.70" fill="#5a7729"/><rect x="240" y="302.30" width="42" height="1.70" fill="#637524"/><rect x="32" y="303.50" width="42" height="1.70" fill="#389028"/><rect x="74" y="303.50" width="41" height="1.70" fill="#3c8d24"/><rect x="115" y="303.50" width="42" height="1.70" fill="#3b9222"/><rect x="157" y="303.50" width="42" height="1.70" fill="#8d2012"/><rect x="199" y="303.50" width="41" height="1.70" fill="#8d1b11"/><rect x="240" y="303.50" width="42" height="1.70" fill="#942117"/><rect x="32" y="304.70" width="42" height="1.90" fill="#5e8128"/><rect x="74" y="304.70" width="41" height="1.90" fill="#5f7830"/><rect x="115" y="304.70" width="42" height="1.90" fill="#5f802c"/><rect x="157" y="304.70" width="42" height="1.90" fill="#5d351e"/><rect x="199" y="304.70" width="41" height="1.90" fill="#5c3821"/><rect x="240" y="304.70" width="42" height="1.90" fill="#613126"/><rect x="32" y="306.10" width="42" height="1.30" fill="#848e26"/><rect x="74" y="306.10" width="41" height="1.30" fill="#888728"/><rect x="115" y="306.10" width="42" height="1.30" fill="#879024"/><rect x="157" y="306.10" width="42" height="1.30" fill="#295d1e"/><rect x="199" y="306.10" width="41" height="1.30" fill="#295f1f"/><rect x="240" y="306.10" width="42" height="1.30" fill="#22601c"/><rect x="32" y="306.90" width="42" height="1.90" fill="#5b2d14"/><rect x="74" y="306.90" width="41" height="1.90" fill="#622d10"/><rect x="115" y="306.90" width="42" height="1.90" fill="#5b3213"/><rect x="157" y="306.90" width="42" height="1.90" fill="#438622"/><rect x="199" y="306.90" width="41" height="1.90" fill="#468528"/><rect x="240" y="306.90" width="42" height="1.90" fill="#448a25"/><rect x="32" y="308.30" width="42" height="1.50" fill="#907a2d"/><rect x="74" y="308.30" width="41" height="1.50" fill="#8c7a2d"/><rect x="115" y="308.30" width="42" height="1.50" fill="#897c2c"/><rect x="157" y="308.30" width="42" height="1.50" fill="#387a27"/><rect x="199" y="308.30" width="41" height="1.50" fill="#39802c"/><rect x="240" y="308.30" width="42" height="1.50" fill="#34792c"/><rect x="32" y="309.30" width="42" height="1.50" fill="#961510"/><rect x="74" y="309.30" width="41" height="1.50" fill="#951515"/><rect x="115" y="309.30" width="42" height="1.50" fill="#7b4818"/><rect x="157" y="309.30" width="42" height="1.50" fill="#b94520"/><rect x="199" y="309.30" width="41" height="1.50" fill="#b84719"/><rect x="240" y="309.30" width="42" height="1.50" fill="#bd481e"/><rect x="32" y="310.30" width="42" height="1.90" fill="#603023"/><rect x="74" y="310.30" width="41" height="1.90" fill="#652d21"/><rect x="115" y="310.30" width="42" height="1.90" fill="#5d3023"/><rect x="157" y="310.30" width="42" height="1.90" fill="#3a2d22"/><rect x="199" y="310.30" width="41" height="1.90" fill="#3a2a20"/><rect x="240" y="310.30" width="42" height="1.90" fill="#3a2a22"/><rect x="32" y="311.70" width="42" height="1.70" fill="#5f3c23"/><rect x="74" y="311.70" width="41" height="1.70" fill="#623d23"/><rect x="115" y="311.70" width="42" height="1.70" fill="#61421f"/><rect x="157" y="311.70" width="42" height="1.70" fill="#b2491c"/><rect x="199" y="311.70" width="41" height="1.70" fill="#ba4a20"/><rect x="240" y="311.70" width="42" height="1.70" fill="#b3511e"/><rect x="32" y="312.90" width="42" height="1.70" fill="#56321b"/><rect x="74" y="312.90" width="41" height="1.70" fill="#5a341f"/><rect x="115" y="312.90" width="42" height="1.70" fill="#57341f"/><rect x="157" y="312.90" width="42" height="1.70" fill="#9a2012"/><rect x="199" y="312.90" width="41" height="1.70" fill="#97241a"/><rect x="240" y="312.90" width="42" height="1.70" fill="#992615"/><rect x="32" y="314.10" width="42" height="1.30" fill="#265b22"/><rect x="74" y="314.10" width="41" height="1.30" fill="#225c2c"/><rect x="115" y="314.10" width="42" height="1.30" fill="#205824"/><rect x="157" y="314.10" width="42" height="1.30" fill="#332519"/><rect x="199" y="314.10" width="41" height="1.30" fill="#332812"/><rect x="240" y="314.10" width="42" height="1.30" fill="#372316"/><rect x="32" y="314.90" width="42" height="1.50" fill="#9c161b"/><rect x="74" y="314.90" width="41" height="1.50" fill="#9d151d"/><rect x="115" y="314.90" width="42" height="1.50" fill="#9d1e14"/><rect x="157" y="314.90" width="42" height="1.50" fill="#90220f"/><rect x="199" y="314.90" width="41" height="1.50" fill="#892711"/><rect x="240" y="314.90" width="42" height="1.50" fill="#922612"/><rect x="32" y="315.90" width="42" height="1.50" fill="#56801e"/><rect x="74" y="315.90" width="41" height="1.50" fill="#5b8322"/><rect x="115" y="315.90" width="42" height="1.50" fill="#60881c"/><rect x="157" y="315.90" width="42" height="1.50" fill="#3b2e17"/><rect x="199" y="315.90" width="41" height="1.50" fill="#3b331b"/><rect x="240" y="315.90" width="42" height="1.50" fill="#38341a"/><rect x="32" y="316.90" width="42" height="1.50" fill="#3d3825"/><rect x="74" y="316.90" width="41" height="1.50" fill="#43331e"/><rect x="115" y="316.90" width="42" height="1.50" fill="#7d4428"/><rect x="157" y="316.90" width="42" height="1.50" fill="#698028"/><rect x="199" y="316.90" width="41" height="1.50" fill="#77852b"/><rect x="240" y="316.90" width="42" height="1.50" fill="#6c812a"/><rect x="32" y="317.90" width="42" height="1.70" fill="#5f431a"/><rect x="74" y="317.90" width="41" height="1.70" fill="#5f4317"/><rect x="115" y="317.90" width="42" height="1.70" fill="#59421e"/><rect x="157" y="317.90" width="42" height="1.70" fill="#b95326"/><rect x="199" y="317.90" width="41" height="1.70" fill="#b95122"/><rect x="240" y="317.90" width="42" height="1.70" fill="#bc5426"/><rect x="32" y="319.10" width="42" height="1.30" fill="#b84c12"/><rect x="74" y="319.10" width="41" height="1.30" fill="#b0520e"/><rect x="115" y="319.10" width="42" height="1.30" fill="#b65210"/><rect x="157" y="319.10" width="42" height="1.30" fill="#352b1d"/><rect x="199" y="319.10" width="41" height="1.30" fill="#2f321f"/><rect x="240" y="319.10" width="42" height="1.30" fill="#352c24"/><rect x="32" y="319.90" width="42" height="1.50" fill="#3c3b0f"/><rect x="74" y="319.90" width="41" height="1.50" fill="#42370e"/><rect x="115" y="319.90" width="42" height="1.50" fill="#433312"/><rect x="157" y="319.90" width="42" height="1.50" fill="#677b2d"/><rect x="199" y="319.90" width="41" height="1.50" fill="#60782a"/><rect x="240" y="319.90" width="42" height="1.50" fill="#627c2c"/><rect x="32" y="320.90" width="42" height="1.50" fill="#8f8b25"/><rect x="74" y="320.90" width="41" height="1.50" fill="#888923"/><rect x="115" y="320.90" width="42" height="1.50" fill="#8d8624"/><rect x="157" y="320.90" width="42" height="1.50" fill="#a01c0b"/><rect x="199" y="320.90" width="41" height="1.50" fill="#9f1d08"/><rect x="240" y="320.90" width="42" height="1.50" fill="#a01810"/><rect x="32" y="321.90" width="42" height="1.90" fill="#8c7d1d"/><rect x="74" y="321.90" width="41" height="1.90" fill="#8e7f1c"/><rect x="115" y="321.90" width="42" height="1.90" fill="#887e1c"/><rect x="157" y="321.90" width="42" height="1.90" fill="#3e2522"/><rect x="199" y="321.90" width="41" height="1.90" fill="#382c1c"/><rect x="240" y="321.90" width="42" height="1.90" fill="#3f231b"/><rect x="32" y="323.30" width="42" height="1.50" fill="#5b3c19"/><rect x="74" y="323.30" width="41" height="1.50" fill="#593619"/><rect x="115" y="323.30" width="42" height="1.50" fill="#59381a"/><rect x="157" y="323.30" width="42" height="1.50" fill="#901c1c"/><rect x="199" y="323.30" width="41" height="1.50" fill="#921c1b"/><rect x="240" y="323.30" width="42" height="1.50" fill="#951f19"/><rect x="32" y="324.30" width="42" height="1.30" fill="#b54d15"/><rect x="74" y="324.30" width="41" height="1.30" fill="#bc5113"/><rect x="115" y="324.30" width="42" height="1.30" fill="#bb4b16"/><rect x="157" y="324.30" width="42" height="1.30" fill="#30391e"/><rect x="199" y="324.30" width="41" height="1.30" fill="#333923"/><rect x="240" y="324.30" width="42" height="1.30" fill="#36331e"/><rect x="32" y="325.10" width="42" height="1.30" fill="#628926"/><rect x="74" y="325.10" width="41" height="1.30" fill="#5b852c"/><rect x="115" y="325.10" width="42" height="1.30" fill="#628a2c"/><rect x="157" y="325.10" width="42" height="1.30" fill="#367e30"/><rect x="199" y="325.10" width="41" height="1.30" fill="#3b7c31"/><rect x="240" y="325.10" width="42" height="1.30" fill="#3d7f2b"/><rect x="32" y="325.90" width="42" height="1.50" fill="#328d25"/><rect x="74" y="325.90" width="41" height="1.50" fill="#3a851e"/><rect x="115" y="325.90" width="42" height="1.50" fill="#388425"/><rect x="157" y="325.90" width="42" height="1.50" fill="#9d1d0e"/><rect x="199" y="325.90" width="41" height="1.50" fill="#991a0f"/><rect x="240" y="325.90" width="42" height="1.50" fill="#971f07"/><rect x="32" y="326.90" width="42" height="1.70" fill="#485f29"/><rect x="74" y="326.90" width="41" height="1.70" fill="#5c3925"/><rect x="115" y="326.90" width="42" height="1.70" fill="#593d24"/><rect x="157" y="326.90" width="42" height="1.70" fill="#b75711"/><rect x="199" y="326.90" width="41" height="1.70" fill="#bd5118"/><rect x="240" y="326.90" width="42" height="1.70" fill="#bb5013"/><rect x="32" y="328.10" width="42" height="1.30" fill="#5f301e"/><rect x="74" y="328.10" width="41" height="1.30" fill="#5d3523"/><rect x="115" y="328.10" width="42" height="1.30" fill="#5e341e"/><rect x="157" y="328.10" width="42" height="1.30" fill="#858624"/><rect x="199" y="328.10" width="41" height="1.30" fill="#838623"/><rect x="240" y="328.10" width="42" height="1.30" fill="#7f861d"/><rect x="32" y="328.90" width="42" height="1.50" fill="#a64a21"/><rect x="74" y="328.90" width="41" height="1.50" fill="#ae4e1d"/><rect x="115" y="328.90" width="42" height="1.50" fill="#a6471e"/><rect x="157" y="328.90" width="42" height="1.50" fill="#673221"/><rect x="199" y="328.90" width="41" height="1.50" fill="#6a5626"/><rect x="240" y="328.90" width="42" height="1.50" fill="#66321e"/><rect x="32" y="329.90" width="42" height="1.50" fill="#1e581d"/><rect x="74" y="329.90" width="41" height="1.50" fill="#275e1d"/><rect x="115" y="329.90" width="42" height="1.50" fill="#216023"/><rect x="157" y="329.90" width="42" height="1.50" fill="#5a3019"/><rect x="199" y="329.90" width="41" height="1.50" fill="#58341d"/><rect x="240" y="329.90" width="42" height="1.50" fill="#5b331c"/><rect x="32" y="330.90" width="42" height="1.50" fill="#3d8536"/><rect x="74" y="330.90" width="41" height="1.50" fill="#358736"/><rect x="115" y="330.90" width="42" height="1.50" fill="#348a35"/><rect x="157" y="330.90" width="42" height="1.50" fill="#577921"/><rect x="199" y="330.90" width="41" height="1.50" fill="#5b8321"/><rect x="240" y="330.90" width="42" height="1.50" fill="#597d25"/><rect x="32" y="331.90" width="42" height="1.70" fill="#423a14"/><rect x="74" y="331.90" width="41" height="1.70" fill="#3f3818"/><rect x="115" y="331.90" width="42" height="1.70" fill="#433610"/><rect x="157" y="331.90" width="42" height="1.70" fill="#2e3814"/><rect x="199" y="331.90" width="41" height="1.70" fill="#303518"/><rect x="240" y="331.90" width="42" height="1.70" fill="#34341c"/><rect x="32" y="333.10" width="42" height="1.70" fill="#568421"/><rect x="74" y="333.10" width="41" height="1.70" fill="#46882a"/><rect x="115" y="333.10" width="42" height="1.70" fill="#458428"/><rect x="157" y="333.10" width="42" height="1.70" fill="#348b27"/><rect x="199" y="333.10" width="41" height="1.70" fill="#378925"/><rect x="240" y="333.10" width="42" height="1.70" fill="#3a8626"/><rect x="32" y="334.30" width="42" height="1.50" fill="#ad5214"/><rect x="74" y="334.30" width="41" height="1.50" fill="#b65115"/><rect x="115" y="334.30" width="42" height="1.50" fill="#b45211"/><rect x="157" y="334.30" width="42" height="1.50" fill="#2a281c"/><rect x="199" y="334.30" width="41" height="1.50" fill="#322516"/><rect x="240" y="334.30" width="42" height="1.50" fill="#31261b"/><rect x="32" y="335.30" width="42" height="1.50" fill="#2d3615"/><rect x="74" y="335.30" width="41" height="1.50" fill="#2d2f19"/><rect x="115" y="335.30" width="42" height="1.50" fill="#2f3819"/><rect x="157" y="335.30" width="42" height="1.50" fill="#37812a"/><rect x="199" y="335.30" width="41" height="1.50" fill="#398225"/><rect x="240" y="335.30" width="42" height="1.50" fill="#338029"/><rect x="32" y="336.30" width="42" height="1.30" fill="#6b3717"/><rect x="74" y="336.30" width="41" height="1.30" fill="#633d20"/><rect x="115" y="336.30" width="42" height="1.30" fill="#6c3a1e"/><rect x="157" y="336.30" width="42" height="1.30" fill="#8d1916"/><rect x="199" y="336.30" width="41" height="1.30" fill="#94191a"/><rect x="240" y="336.30" width="42" height="1.30" fill="#901717"/><rect x="32" y="337.10" width="42" height="1.50" fill="#33822c"/><rect x="74" y="337.10" width="41" height="1.50" fill="#358130"/><rect x="115" y="337.10" width="42" height="1.50" fill="#388a2e"/><rect x="157" y="337.10" width="42" height="1.50" fill="#6a7a2b"/><rect x="199" y="337.10" width="41" height="1.50" fill="#6e7a2c"/><rect x="240" y="337.10" width="42" height="1.50" fill="#678326"/><rect x="32" y="338.10" width="42" height="1.50" fill="#99651a"/><rect x="74" y="338.10" width="41" height="1.50" fill="#ad4f14"/><rect x="115" y="338.10" width="42" height="1.50" fill="#ae500f"/><rect x="157" y="338.10" width="42" height="1.50" fill="#35361f"/><rect x="199" y="338.10" width="41" height="1.50" fill="#2e371f"/><rect x="240" y="338.10" width="42" height="1.50" fill="#313821"/><rect x="32" y="339.10" width="42" height="1.70" fill="#408126"/><rect x="74" y="339.10" width="41" height="1.70" fill="#427e22"/><rect x="115" y="339.10" width="42" height="1.70" fill="#3d7b28"/><rect x="157" y="339.10" width="42" height="1.70" fill="#42871f"/><rect x="199" y="339.10" width="41" height="1.70" fill="#428621"/><rect x="240" y="339.10" width="42" height="1.70" fill="#428722"/><rect x="32" y="340.30" width="42" height="1.50" fill="#64341b"/><rect x="74" y="340.30" width="41" height="1.50" fill="#5f3217"/><rect x="115" y="340.30" width="42" height="1.50" fill="#61301c"/><rect x="157" y="340.30" width="42" height="1.50" fill="#aa531c"/><rect x="199" y="340.30" width="41" height="1.50" fill="#ad4e22"/><rect x="240" y="340.30" width="42" height="1.50" fill="#a94c1a"/><rect x="32" y="341.30" width="42" height="1.70" fill="#343322"/><rect x="74" y="341.30" width="41" height="1.70" fill="#363424"/><rect x="115" y="341.30" width="42" height="1.70" fill="#353627"/><rect x="157" y="341.30" width="42" height="1.70" fill="#a84813"/><rect x="199" y="341.30" width="41" height="1.70" fill="#ae4114"/><rect x="240" y="341.30" width="42" height="1.70" fill="#b04115"/><rect x="32" y="342.50" width="42" height="1.30" fill="#8a8222"/><rect x="74" y="342.50" width="41" height="1.30" fill="#858323"/><rect x="115" y="342.50" width="42" height="1.30" fill="#8a8328"/><rect x="157" y="342.50" width="42" height="1.30" fill="#b25428"/><rect x="199" y="342.50" width="41" height="1.30" fill="#b0501f"/><rect x="240" y="342.50" width="42" height="1.30" fill="#af4c29"/><rect x="32" y="343.30" width="42" height="1.50" fill="#6f461c"/><rect x="74" y="343.30" width="41" height="1.50" fill="#b0521d"/><rect x="115" y="343.30" width="42" height="1.50" fill="#ac5023"/><rect x="157" y="343.30" width="42" height="1.50" fill="#382c16"/><rect x="199" y="343.30" width="41" height="1.50" fill="#313618"/><rect x="240" y="343.30" width="42" height="1.50" fill="#363412"/><rect x="32" y="344.30" width="42" height="1.90" fill="#6d832e"/><rect x="74" y="344.30" width="41" height="1.90" fill="#6e8531"/><rect x="115" y="344.30" width="42" height="1.90" fill="#6b812d"/><rect x="157" y="344.30" width="42" height="1.90" fill="#b55120"/><rect x="199" y="344.30" width="41" height="1.90" fill="#b25520"/><rect x="240" y="344.30" width="42" height="1.90" fill="#b35321"/><rect x="32" y="345.70" width="42" height="1.70" fill="#95140c"/><rect x="74" y="345.70" width="41" height="1.70" fill="#9c180e"/><rect x="115" y="345.70" width="42" height="1.70" fill="#9e1612"/><rect x="157" y="345.70" width="42" height="1.70" fill="#407925"/><rect x="199" y="345.70" width="41" height="1.70" fill="#44821f"/><rect x="240" y="345.70" width="42" height="1.70" fill="#478025"/><rect x="32" y="346.90" width="42" height="1.30" fill="#35311d"/><rect x="74" y="346.90" width="41" height="1.30" fill="#3a311a"/><rect x="115" y="346.90" width="42" height="1.30" fill="#39351f"/><rect x="157" y="346.90" width="42" height="1.30" fill="#ab5220"/><rect x="199" y="346.90" width="41" height="1.30" fill="#926c27"/><rect x="240" y="346.90" width="42" height="1.30" fill="#aa4d1e"/><rect x="32" y="347.70" width="42" height="1.70" fill="#86882a"/><rect x="74" y="347.70" width="41" height="1.70" fill="#878f29"/><rect x="115" y="347.70" width="42" height="1.70" fill="#848725"/><rect x="157" y="347.70" width="42" height="1.70" fill="#5a3516"/><rect x="199" y="347.70" width="41" height="1.70" fill="#5c2e14"/><rect x="240" y="347.70" width="42" height="1.70" fill="#60361c"/><rect x="32" y="348.90" width="42" height="1.30" fill="#3e361a"/><rect x="74" y="348.90" width="41" height="1.30" fill="#3a351d"/><rect x="115" y="348.90" width="42" height="1.30" fill="#3b351a"/><rect x="157" y="348.90" width="42" height="1.30" fill="#378925"/><rect x="199" y="348.90" width="41" height="1.30" fill="#398623"/><rect x="240" y="348.90" width="42" height="1.30" fill="#368620"/><rect x="32" y="349.70" width="42" height="1.50" fill="#8c9025"/><rect x="74" y="349.70" width="41" height="1.50" fill="#8d8e26"/><rect x="115" y="349.70" width="42" height="1.50" fill="#8a8e20"/><rect x="157" y="349.70" width="42" height="1.50" fill="#5c3c1c"/><rect x="199" y="349.70" width="41" height="1.50" fill="#603c1d"/><rect x="240" y="349.70" width="42" height="1.50" fill="#604215"/><rect x="32" y="350.70" width="42" height="1.90" fill="#6c8329"/><rect x="74" y="350.70" width="41" height="1.90" fill="#687e2e"/><rect x="115" y="350.70" width="42" height="1.90" fill="#6a7c2b"/><rect x="157" y="350.70" width="42" height="1.90" fill="#941a1a"/><rect x="199" y="350.70" width="41" height="1.90" fill="#99181d"/><rect x="240" y="350.70" width="42" height="1.90" fill="#95131a"/><rect x="32" y="352.10" width="42" height="1.50" fill="#573e26"/><rect x="74" y="352.10" width="41" height="1.50" fill="#57411d"/><rect x="115" y="352.10" width="42" height="1.50" fill="#5d4325"/><rect x="157" y="352.10" width="42" height="1.50" fill="#66812b"/><rect x="199" y="352.10" width="41" height="1.50" fill="#668929"/><rect x="240" y="352.10" width="42" height="1.50" fill="#5e832b"/><rect x="32" y="353.10" width="42" height="1.30" fill="#8d681a"/><rect x="74" y="353.10" width="41" height="1.30" fill="#bd4b16"/><rect x="115" y="353.10" width="42" height="1.30" fill="#b6471c"/><rect x="157" y="353.10" width="42" height="1.30" fill="#b64a14"/><rect x="199" y="353.10" width="41" height="1.30" fill="#bd4718"/><rect x="240" y="353.10" width="42" height="1.30" fill="#be4c12"/><rect x="32" y="353.90" width="42" height="1.30" fill="#5f2b19"/><rect x="74" y="353.90" width="41" height="1.30" fill="#5e321c"/><rect x="115" y="353.90" width="42" height="1.30" fill="#652e1a"/><rect x="157" y="353.90" width="42" height="1.30" fill="#af5424"/><rect x="199" y="353.90" width="41" height="1.30" fill="#b65524"/><rect x="240" y="353.90" width="42" height="1.30" fill="#b05624"/><rect x="32" y="354.70" width="42" height="1.30" fill="#438130"/><rect x="74" y="354.70" width="41" height="1.30" fill="#478430"/><rect x="115" y="354.70" width="42" height="1.30" fill="#427d31"/><rect x="157" y="354.70" width="42" height="1.30" fill="#422413"/><rect x="199" y="354.70" width="41" height="1.30" fill="#402318"/><rect x="240" y="354.70" width="42" height="1.30" fill="#3f2c1c"/><rect x="32" y="355.50" width="42" height="1.90" fill="#322e19"/><rect x="74" y="355.50" width="41" height="1.90" fill="#342e21"/><rect x="115" y="355.50" width="42" height="1.90" fill="#2f3021"/><rect x="157" y="355.50" width="42" height="1.90" fill="#53331a"/><rect x="199" y="355.50" width="41" height="1.90" fill="#52351a"/><rect x="240" y="355.50" width="42" height="1.90" fill="#52351f"/><rect x="32" y="356.90" width="42" height="1.50" fill="#5f3920"/><rect x="74" y="356.90" width="41" height="1.50" fill="#5f391f"/><rect x="115" y="356.90" width="42" height="1.50" fill="#643a22"/><rect x="157" y="356.90" width="42" height="1.50" fill="#623d17"/><rect x="199" y="356.90" width="41" height="1.50" fill="#653615"/><rect x="240" y="356.90" width="42" height="1.50" fill="#683a15"/><rect x="32" y="357.90" width="42" height="1.50" fill="#81811c"/><rect x="74" y="357.90" width="41" height="1.50" fill="#8a7c21"/><rect x="115" y="357.90" width="42" height="1.50" fill="#817c20"/><rect x="157" y="357.90" width="42" height="1.50" fill="#673612"/><rect x="199" y="357.90" width="41" height="1.50" fill="#683416"/><rect x="240" y="357.90" width="42" height="1.50" fill="#633c10"/><rect x="32" y="358.90" width="42" height="1.90" fill="#2b6125"/><rect x="74" y="358.90" width="41" height="1.90" fill="#295825"/><rect x="115" y="358.90" width="42" height="1.90" fill="#2c5f26"/><rect x="157" y="358.90" width="42" height="1.90" fill="#662c1c"/><rect x="199" y="358.90" width="41" height="1.90" fill="#682a1b"/><rect x="240" y="358.90" width="42" height="1.90" fill="#68331b"/><rect x="32" y="360.30" width="42" height="1.30" fill="#65831f"/><rect x="74" y="360.30" width="41" height="1.30" fill="#607e27"/><rect x="115" y="360.30" width="42" height="1.30" fill="#668025"/><rect x="157" y="360.30" width="42" height="1.30" fill="#403a20"/><rect x="199" y="360.30" width="41" height="1.30" fill="#3c3b1e"/><rect x="240" y="360.30" width="42" height="1.30" fill="#3d3921"/><rect x="32" y="361.10" width="42" height="1.70" fill="#9f230b"/><rect x="74" y="361.10" width="41" height="1.70" fill="#9a1a08"/><rect x="115" y="361.10" width="42" height="1.70" fill="#9b1c11"/><rect x="157" y="361.10" width="42" height="1.70" fill="#63732e"/><rect x="199" y="361.10" width="41" height="1.70" fill="#64762f"/><rect x="240" y="361.10" width="42" height="1.70" fill="#60782a"/><rect x="32" y="362.30" width="42" height="1.50" fill="#3d7f2b"/><rect x="74" y="362.30" width="41" height="1.50" fill="#437f28"/><rect x="115" y="362.30" width="42" height="1.50" fill="#3e842b"/><rect x="157" y="362.30" width="42" height="1.50" fill="#225329"/><rect x="199" y="362.30" width="41" height="1.50" fill="#205827"/><rect x="240" y="362.30" width="42" height="1.50" fill="#21582a"/><rect x="32" y="363.30" width="42" height="1.70" fill="#637a2b"/><rect x="74" y="363.30" width="41" height="1.70" fill="#6a7c25"/><rect x="115" y="363.30" width="42" height="1.70" fill="#647f29"/><rect x="157" y="363.30" width="42" height="1.70" fill="#ad4a20"/><rect x="199" y="363.30" width="41" height="1.70" fill="#a44620"/><rect x="240" y="363.30" width="42" height="1.70" fill="#ad4321"/><rect x="32" y="364.50" width="42" height="1.50" fill="#b95416"/><rect x="74" y="364.50" width="41" height="1.50" fill="#ba4d15"/><rect x="115" y="364.50" width="42" height="1.50" fill="#ba5016"/><rect x="157" y="364.50" width="42" height="1.50" fill="#6a781b"/><rect x="199" y="364.50" width="41" height="1.50" fill="#647a20"/><rect x="240" y="364.50" width="42" height="1.50" fill="#63801a"/><rect x="32" y="365.50" width="42" height="1.30" fill="#687b1c"/><rect x="74" y="365.50" width="41" height="1.30" fill="#68801d"/><rect x="115" y="365.50" width="42" height="1.30" fill="#677d20"/><rect x="157" y="365.50" width="42" height="1.30" fill="#633415"/><rect x="199" y="365.50" width="41" height="1.30" fill="#5d301c"/><rect x="240" y="365.50" width="42" height="1.30" fill="#5e3315"/><rect x="32" y="366.30" width="42" height="1.30" fill="#3a341b"/><rect x="74" y="366.30" width="41" height="1.30" fill="#3c3a18"/><rect x="115" y="366.30" width="42" height="1.30" fill="#3f3a18"/><rect x="157" y="366.30" width="42" height="1.30" fill="#b24326"/><rect x="199" y="366.30" width="41" height="1.30" fill="#af4421"/><rect x="240" y="366.30" width="42" height="1.30" fill="#b5421f"/><rect x="32" y="367.10" width="42" height="1.30" fill="#b34e1a"/><rect x="74" y="367.10" width="41" height="1.30" fill="#b34918"/><rect x="115" y="367.10" width="42" height="1.30" fill="#af4b17"/><rect x="157" y="367.10" width="42" height="1.30" fill="#887e28"/><rect x="199" y="367.10" width="41" height="1.30" fill="#838324"/><rect x="240" y="367.10" width="42" height="1.30" fill="#868523"/><rect x="32" y="367.90" width="42" height="1.30" fill="#35331d"/><rect x="74" y="367.90" width="41" height="1.30" fill="#33301c"/><rect x="115" y="367.90" width="42" height="1.30" fill="#38331a"/><rect x="157" y="367.90" width="42" height="1.30" fill="#1f5f1a"/><rect x="199" y="367.90" width="41" height="1.30" fill="#21611a"/><rect x="240" y="367.90" width="42" height="1.30" fill="#1e5f1f"/><rect x="32" y="368.70" width="42" height="1.70" fill="#3f2b15"/><rect x="74" y="368.70" width="41" height="1.70" fill="#3a2f12"/><rect x="115" y="368.70" width="42" height="1.70" fill="#392f14"/><rect x="157" y="368.70" width="42" height="1.70" fill="#522e12"/><rect x="199" y="368.70" width="41" height="1.70" fill="#553517"/><rect x="240" y="368.70" width="42" height="1.70" fill="#563015"/><rect x="32" y="369.90" width="42" height="1.90" fill="#658a1b"/><rect x="74" y="369.90" width="41" height="1.90" fill="#61891a"/><rect x="115" y="369.90" width="42" height="1.90" fill="#65861d"/><rect x="157" y="369.90" width="42" height="1.90" fill="#352e1a"/><rect x="199" y="369.90" width="41" height="1.90" fill="#2e301a"/><rect x="240" y="369.90" width="42" height="1.90" fill="#30301c"/><rect x="32" y="371.30" width="42" height="1.90" fill="#353320"/><rect x="74" y="371.30" width="41" height="1.90" fill="#3c3420"/><rect x="115" y="371.30" width="42" height="1.90" fill="#3d301e"/><rect x="157" y="371.30" width="42" height="1.90" fill="#668126"/><rect x="199" y="371.30" width="41" height="1.90" fill="#5d7e27"/><rect x="240" y="371.30" width="42" height="1.90" fill="#607e29"/><rect x="32" y="372.70" width="42" height="1.90" fill="#9e1a10"/><rect x="74" y="372.70" width="41" height="1.90" fill="#991511"/><rect x="115" y="372.70" width="42" height="1.90" fill="#9c1c10"/><rect x="157" y="372.70" width="42" height="1.90" fill="#ad431b"/><rect x="199" y="372.70" width="41" height="1.90" fill="#a94519"/><rect x="240" y="372.70" width="42" height="1.90" fill="#b3431a"/><rect x="32" y="374.10" width="42" height="1.90" fill="#63391e"/><rect x="74" y="374.10" width="41" height="1.90" fill="#5e3c1f"/><rect x="115" y="374.10" width="42" height="1.90" fill="#506228"/><rect x="157" y="374.10" width="42" height="1.90" fill="#60761e"/><rect x="199" y="374.10" width="41" height="1.90" fill="#64771f"/><rect x="240" y="374.10" width="42" height="1.90" fill="#607d1d"/><rect x="32" y="375.50" width="42" height="1.30" fill="#878e29"/><rect x="74" y="375.50" width="41" height="1.30" fill="#878f28"/><rect x="115" y="375.50" width="42" height="1.30" fill="#888c2f"/><rect x="157" y="375.50" width="42" height="1.30" fill="#7b7925"/><rect x="199" y="375.50" width="41" height="1.30" fill="#6c5819"/><rect x="240" y="375.50" width="42" height="1.30" fill="#7c7727"/><rect x="32" y="376.30" width="42" height="1.50" fill="#64391a"/><rect x="74" y="376.30" width="41" height="1.50" fill="#673b15"/><rect x="115" y="376.30" width="42" height="1.50" fill="#673918"/><rect x="157" y="376.30" width="42" height="1.50" fill="#348128"/><rect x="199" y="376.30" width="41" height="1.50" fill="#338822"/><rect x="240" y="376.30" width="42" height="1.50" fill="#318422"/><rect x="32" y="377.30" width="42" height="1.30" fill="#225925"/><rect x="74" y="377.30" width="41" height="1.30" fill="#22562b"/><rect x="115" y="377.30" width="42" height="1.30" fill="#2e4522"/><rect x="157" y="377.30" width="42" height="1.30" fill="#ae4b26"/><rect x="199" y="377.30" width="41" height="1.30" fill="#a94b20"/><rect x="240" y="377.30" width="42" height="1.30" fill="#a54823"/><rect x="32" y="378.10" width="42" height="1.50" fill="#2d5a1b"/><rect x="74" y="378.10" width="41" height="1.50" fill="#31531d"/><rect x="115" y="378.10" width="42" height="1.50" fill="#2f591b"/><rect x="157" y="378.10" width="42" height="1.50" fill="#5f802a"/><rect x="199" y="378.10" width="41" height="1.50" fill="#687d31"/><rect x="240" y="378.10" width="42" height="1.50" fill="#63822c"/><rect x="32" y="379.10" width="42" height="1.50" fill="#9b1c1b"/><rect x="74" y="379.10" width="41" height="1.50" fill="#97181c"/><rect x="115" y="379.10" width="42" height="1.50" fill="#9e191f"/><rect x="157" y="379.10" width="42" height="1.50" fill="#a6451e"/><rect x="199" y="379.10" width="41" height="1.50" fill="#ac4b19"/><rect x="240" y="379.10" width="42" height="1.50" fill="#ac4721"/><rect x="32" y="380.10" width="42" height="1.30" fill="#286220"/><rect x="74" y="380.10" width="41" height="1.30" fill="#266126"/><rect x="115" y="380.10" width="42" height="1.30" fill="#266120"/><rect x="157" y="380.10" width="42" height="1.30" fill="#392a12"/><rect x="199" y="380.10" width="41" height="1.30" fill="#36310d"/><rect x="240" y="380.10" width="42" height="1.30" fill="#312d0f"/><rect x="32" y="380.90" width="42" height="1.90" fill="#637a30"/><rect x="74" y="380.90" width="41" height="1.90" fill="#60832e"/><rect x="115" y="380.90" width="42" height="1.90" fill="#5d8330"/><rect x="157" y="380.90" width="42" height="1.90" fill="#438c27"/><rect x="199" y="380.90" width="41" height="1.90" fill="#408820"/><rect x="240" y="380.90" width="42" height="1.90" fill="#3e8f25"/><rect x="32" y="382.30" width="42" height="1.90" fill="#ac471e"/><rect x="74" y="382.30" width="41" height="1.90" fill="#ae4e1b"/><rect x="115" y="382.30" width="42" height="1.90" fill="#ac4e1c"/><rect x="157" y="382.30" width="42" height="1.90" fill="#698724"/><rect x="199" y="382.30" width="41" height="1.90" fill="#668821"/><rect x="240" y="382.30" width="42" height="1.90" fill="#62821f"/><rect x="32" y="383.70" width="42" height="1.70" fill="#6e872c"/><rect x="74" y="383.70" width="41" height="1.70" fill="#6c8528"/><rect x="115" y="383.70" width="42" height="1.70" fill="#6a8d2a"/><rect x="157" y="383.70" width="42" height="1.70" fill="#60861c"/><rect x="199" y="383.70" width="41" height="1.70" fill="#64871f"/><rect x="240" y="383.70" width="42" height="1.70" fill="#618520"/><rect x="32" y="384.90" width="42" height="1.50" fill="#2e561d"/><rect x="74" y="384.90" width="41" height="1.50" fill="#2c5823"/><rect x="115" y="384.90" width="42" height="1.50" fill="#2e581f"/><rect x="157" y="384.90" width="42" height="1.50" fill="#332c15"/><rect x="199" y="384.90" width="41" height="1.50" fill="#753a1a"/><rect x="240" y="384.90" width="42" height="1.50" fill="#372f1a"/><rect x="32" y="385.90" width="42" height="1.90" fill="#62772f"/><rect x="74" y="385.90" width="41" height="1.90" fill="#628025"/><rect x="115" y="385.90" width="42" height="1.90" fill="#647d2d"/><rect x="157" y="385.90" width="42" height="1.90" fill="#5c7f1e"/><rect x="199" y="385.90" width="41" height="1.90" fill="#827b21"/><rect x="240" y="385.90" width="42" height="1.90" fill="#7a7724"/><rect x="32" y="387.30" width="42" height="1.30" fill="#672e12"/><rect x="74" y="387.30" width="41" height="1.30" fill="#353317"/><rect x="115" y="387.30" width="42" height="1.30" fill="#353514"/><rect x="157" y="387.30" width="42" height="1.30" fill="#868826"/><rect x="199" y="387.30" width="41" height="1.30" fill="#8c8524"/><rect x="240" y="387.30" width="42" height="1.30" fill="#858326"/><rect x="32" y="388.10" width="42" height="1.90" fill="#8c1e17"/><rect x="74" y="388.10" width="41" height="1.90" fill="#8d2318"/><rect x="115" y="388.10" width="42" height="1.90" fill="#755722"/><rect x="157" y="388.10" width="42" height="1.90" fill="#ac411c"/><rect x="199" y="388.10" width="41" height="1.90" fill="#b04422"/><rect x="240" y="388.10" width="42" height="1.90" fill="#a84222"/><rect x="32" y="389.50" width="42" height="1.50" fill="#4a551a"/><rect x="74" y="389.50" width="41" height="1.50" fill="#648029"/><rect x="115" y="389.50" width="42" height="1.50" fill="#617923"/><rect x="157" y="389.50" width="42" height="1.50" fill="#96180b"/><rect x="199" y="389.50" width="41" height="1.50" fill="#901c09"/><rect x="240" y="389.50" width="42" height="1.50" fill="#971f0b"/><rect x="32" y="390.50" width="42" height="1.90" fill="#628824"/><rect x="74" y="390.50" width="41" height="1.90" fill="#648422"/><rect x="115" y="390.50" width="42" height="1.90" fill="#628c29"/><rect x="157" y="390.50" width="42" height="1.90" fill="#417a27"/><rect x="199" y="390.50" width="41" height="1.90" fill="#447c2a"/><rect x="240" y="390.50" width="42" height="1.90" fill="#45782e"/><rect x="32" y="391.90" width="42" height="1.50" fill="#3c8b2e"/><rect x="74" y="391.90" width="41" height="1.50" fill="#3c8c2e"/><rect x="115" y="391.90" width="42" height="1.50" fill="#348c31"/><rect x="157" y="391.90" width="42" height="1.50" fill="#58391d"/><rect x="199" y="391.90" width="41" height="1.50" fill="#5f3a1c"/><rect x="240" y="391.90" width="42" height="1.50" fill="#61321e"/><rect x="32" y="392.90" width="42" height="1.70" fill="#3b351d"/><rect x="74" y="392.90" width="41" height="1.70" fill="#3b391f"/><rect x="115" y="392.90" width="42" height="1.70" fill="#3c3a20"/><rect x="157" y="392.90" width="42" height="1.70" fill="#5d7c28"/><rect x="199" y="392.90" width="41" height="1.70" fill="#607821"/><rect x="240" y="392.90" width="42" height="1.70" fill="#5e7728"/><rect x="32" y="394.10" width="42" height="1.50" fill="#4f3211"/><rect x="74" y="394.10" width="41" height="1.50" fill="#402f18"/><rect x="115" y="394.10" width="42" height="1.50" fill="#3e3213"/><rect x="157" y="394.10" width="42" height="1.50" fill="#633f18"/><rect x="199" y="394.10" width="41" height="1.50" fill="#5c3b1e"/><rect x="240" y="394.10" width="42" height="1.50" fill="#623b19"/><rect x="32" y="395.10" width="42" height="1.50" fill="#5e3c19"/><rect x="74" y="395.10" width="41" height="1.50" fill="#5f401a"/><rect x="115" y="395.10" width="42" height="1.50" fill="#5f401c"/><rect x="157" y="395.10" width="42" height="1.50" fill="#2c552c"/><rect x="199" y="395.10" width="41" height="1.50" fill="#2f5524"/><rect x="240" y="395.10" width="42" height="1.50" fill="#2f5328"/><rect x="32" y="396.10" width="42" height="1.70" fill="#6a841f"/><rect x="74" y="396.10" width="41" height="1.70" fill="#648421"/><rect x="115" y="396.10" width="42" height="1.70" fill="#65861b"/><rect x="157" y="396.10" width="42" height="1.70" fill="#ae461e"/><rect x="199" y="396.10" width="41" height="1.70" fill="#b34317"/><rect x="240" y="396.10" width="42" height="1.70" fill="#b0441b"/><rect x="32" y="397.30" width="42" height="1.50" fill="#358022"/><rect x="74" y="397.30" width="41" height="1.50" fill="#338320"/><rect x="115" y="397.30" width="42" height="1.50" fill="#34831d"/><rect x="157" y="397.30" width="42" height="1.50" fill="#322c13"/><rect x="199" y="397.30" width="41" height="1.50" fill="#392f12"/><rect x="240" y="397.30" width="42" height="1.50" fill="#322e18"/><rect x="32" y="398.30" width="42" height="1.50" fill="#3a8532"/><rect x="74" y="398.30" width="41" height="1.50" fill="#3e8634"/><rect x="115" y="398.30" width="42" height="1.50" fill="#3d832c"/><rect x="157" y="398.30" width="42" height="1.50" fill="#b85122"/><rect x="199" y="398.30" width="41" height="1.50" fill="#b04f1f"/><rect x="240" y="398.30" width="42" height="1.50" fill="#b44825"/><rect x="32" y="399.30" width="42" height="1.70" fill="#508626"/><rect x="74" y="399.30" width="41" height="1.70" fill="#638725"/><rect x="115" y="399.30" width="42" height="1.70" fill="#5a8025"/><rect x="157" y="399.30" width="42" height="1.70" fill="#53291c"/><rect x="199" y="399.30" width="41" height="1.70" fill="#582f1e"/><rect x="240" y="399.30" width="42" height="1.70" fill="#552e1c"/><rect x="32" y="400.50" width="42" height="1.90" fill="#3d351c"/><rect x="74" y="400.50" width="41" height="1.90" fill="#393b14"/><rect x="115" y="400.50" width="42" height="1.90" fill="#3c3a1b"/><rect x="157" y="400.50" width="42" height="1.90" fill="#b94e15"/><rect x="199" y="400.50" width="41" height="1.90" fill="#b74d1d"/><rect x="240" y="400.50" width="42" height="1.90" fill="#b7501e"/><rect x="32" y="401.90" width="42" height="1.30" fill="#6c7b2a"/><rect x="74" y="401.90" width="41" height="1.30" fill="#6e7d30"/><rect x="115" y="401.90" width="42" height="1.30" fill="#68792e"/><rect x="157" y="401.90" width="42" height="1.30" fill="#637928"/><rect x="199" y="401.90" width="41" height="1.30" fill="#67752a"/><rect x="240" y="401.90" width="42" height="1.30" fill="#657228"/><rect x="32" y="402.70" width="42" height="1.70" fill="#653d0f"/><rect x="74" y="402.70" width="41" height="1.70" fill="#623811"/><rect x="115" y="402.70" width="42" height="1.70" fill="#5e3712"/><rect x="157" y="402.70" width="42" height="1.70" fill="#5e7c1f"/><rect x="199" y="402.70" width="41" height="1.70" fill="#5c7e23"/><rect x="240" y="402.70" width="42" height="1.70" fill="#5c7b21"/><rect x="32" y="403.90" width="42" height="1.50" fill="#3e9427"/><rect x="74" y="403.90" width="41" height="1.50" fill="#4b6517"/><rect x="115" y="403.90" width="42" height="1.50" fill="#439421"/><rect x="157" y="403.90" width="42" height="1.50" fill="#3e2425"/><rect x="199" y="403.90" width="41" height="1.50" fill="#392521"/><rect x="240" y="403.90" width="42" height="1.50" fill="#392d21"/><rect x="32" y="404.90" width="42" height="1.70" fill="#67842a"/><rect x="74" y="404.90" width="41" height="1.70" fill="#6b832c"/><rect x="115" y="404.90" width="42" height="1.70" fill="#655b25"/><rect x="157" y="404.90" width="42" height="1.70" fill="#648033"/><rect x="199" y="404.90" width="41" height="1.70" fill="#476d2b"/><rect x="240" y="404.90" width="42" height="1.70" fill="#63852d"/><rect x="32" y="406.10" width="42" height="1.50" fill="#b24618"/><rect x="74" y="406.10" width="41" height="1.50" fill="#6f4f20"/><rect x="115" y="406.10" width="42" height="1.50" fill="#b04a19"/><rect x="157" y="406.10" width="42" height="1.50" fill="#ac4b28"/><rect x="199" y="406.10" width="41" height="1.50" fill="#ab4a22"/><rect x="240" y="406.10" width="42" height="1.50" fill="#ab5027"/><rect x="32" y="407.10" width="42" height="1.50" fill="#5f822e"/><rect x="74" y="407.10" width="41" height="1.50" fill="#64852b"/><rect x="115" y="407.10" width="42" height="1.50" fill="#68852d"/><rect x="157" y="407.10" width="42" height="1.50" fill="#607e24"/><rect x="199" y="407.10" width="41" height="1.50" fill="#597f25"/><rect x="240" y="407.10" width="42" height="1.50" fill="#5f8128"/><rect x="32" y="408.10" width="42" height="1.30" fill="#921213"/><rect x="74" y="408.10" width="41" height="1.30" fill="#911311"/><rect x="115" y="408.10" width="42" height="1.30" fill="#881b0d"/><rect x="157" y="408.10" width="42" height="1.30" fill="#ad481a"/><rect x="199" y="408.10" width="41" height="1.30" fill="#ae431d"/><rect x="240" y="408.10" width="42" height="1.30" fill="#ae401e"/><rect x="32" y="408.90" width="42" height="1.50" fill="#971c07"/><rect x="74" y="408.90" width="41" height="1.50" fill="#9d170f"/><rect x="115" y="408.90" width="42" height="1.50" fill="#9c180e"/><rect x="157" y="408.90" width="42" height="1.50" fill="#448026"/><rect x="199" y="408.90" width="41" height="1.50" fill="#3d8029"/><rect x="240" y="408.90" width="42" height="1.50" fill="#3c7f2c"/><rect x="32" y="409.90" width="42" height="1.90" fill="#633017"/><rect x="74" y="409.90" width="41" height="1.90" fill="#643317"/><rect x="115" y="409.90" width="42" height="1.90" fill="#633719"/><rect x="157" y="409.90" width="42" height="1.90" fill="#3f7f32"/><rect x="199" y="409.90" width="41" height="1.90" fill="#3b7c33"/><rect x="240" y="409.90" width="42" height="1.90" fill="#3a7e31"/><rect x="32" y="411.30" width="42" height="1.30" fill="#362e0d"/><rect x="74" y="411.30" width="41" height="1.30" fill="#3d2e17"/><rect x="115" y="411.30" width="42" height="1.30" fill="#3d3313"/><rect x="157" y="411.30" width="42" height="1.30" fill="#54371f"/><rect x="199" y="411.30" width="41" height="1.30" fill="#553921"/><rect x="240" y="411.30" width="42" height="1.30" fill="#5a391c"/><rect x="32" y="412.10" width="42" height="1.70" fill="#383324"/><rect x="74" y="412.10" width="41" height="1.70" fill="#402f23"/><rect x="115" y="412.10" width="42" height="1.70" fill="#554f25"/><rect x="157" y="412.10" width="42" height="1.70" fill="#66792f"/><rect x="199" y="412.10" width="41" height="1.70" fill="#627829"/><rect x="240" y="412.10" width="42" height="1.70" fill="#617628"/><rect x="32" y="413.30" width="42" height="1.50" fill="#398932"/><rect x="74" y="413.30" width="41" height="1.50" fill="#3e8f2d"/><rect x="115" y="413.30" width="42" height="1.50" fill="#378a30"/><rect x="157" y="413.30" width="42" height="1.50" fill="#3e8025"/><rect x="199" y="413.30" width="41" height="1.50" fill="#557e27"/><rect x="240" y="413.30" width="42" height="1.50" fill="#42812a"/><rect x="32" y="414.30" width="42" height="1.20" fill="#403120"/><rect x="74" y="414.30" width="41" height="1.20" fill="#3e341d"/><rect x="115" y="414.30" width="42" height="1.20" fill="#432b1b"/><rect x="157" y="414.30" width="42" height="1.20" fill="#408929"/><rect x="199" y="414.30" width="41" height="1.20" fill="#3d832a"/><rect x="240" y="414.30" width="42" height="1.20" fill="#3e8223"/></g><rect x="32" y="35.2" width="125" height="10.2" fill="#4fb4cf"/><rect x="157" y="35.2" width="125" height="10.2" fill="#e00a18"/><defs>
<linearGradient id="lgHi" x1="0" y1="0" x2="0" y2="1"><stop offset="0" stop-color="#c84414"/><stop offset="0.25" stop-color="#80220f"/><stop offset="0.6" stop-color="#4e120b"/><stop offset="1" stop-color="#3c0c08"/></linearGradient>
<linearGradient id="lgLo" x1="0" y1="0" x2="0" y2="1"><stop offset="0" stop-color="#2a0c12"/><stop offset="0.35" stop-color="#283478"/><stop offset="0.6" stop-color="#1e6458"/><stop offset="0.8" stop-color="#1a9444"/><stop offset="1" stop-color="#22a44c"/></linearGradient>
</defs><rect x="301.6" y="344.6" width="5.4" height="32.9" rx="1.2" fill="url(#lgHi)" stroke="#c4561e" stroke-width="0.7"/><rect x="301.6" y="379.6" width="5.4" height="33.4" rx="1.2" fill="url(#lgLo)"/><text x="316.51" y="353.80" font-size="16.40" textLength="33.55" lengthAdjust="spacingAndGlyphs" fill="#222">High</text><text x="316.55" y="411.90" font-size="16.40" textLength="29.11" lengthAdjust="spacingAndGlyphs" fill="#222">Low</text><text x="44.75" y="439.50" font-size="16.00" textLength="93.47" lengthAdjust="spacingAndGlyphs" fill="#222">M0+Hsp16.3</text><text x="205.42" y="439.60" font-size="16.20" textLength="23.44" lengthAdjust="spacingAndGlyphs" fill="#222">M0</text><text x="0.04" y="20.40" font-size="28.50" textLength="13.87" lengthAdjust="spacingAndGlyphs" font-weight="bold" fill="#000">a</text><text x="380.07" y="20.40" font-size="28.00" textLength="16.97" lengthAdjust="spacingAndGlyphs" font-weight="bold" fill="#000">b</text><text x="-0.30" y="492.00" font-size="28.50" textLength="15.28" lengthAdjust="spacingAndGlyphs" font-weight="bold" fill="#000">c</text><text x="-0.14" y="849.20" font-size="28.00" textLength="17.03" lengthAdjust="spacingAndGlyphs" font-weight="bold" fill="#000">d</text><g stroke="#c6c6cc" stroke-width="1.05"><line x1="487.99" y1="54.60" x2="487.99" y2="399.20"/><line x1="448.65" y1="358.60" x2="783.50" y2="358.60"/><line x1="527.34" y1="54.60" x2="527.34" y2="399.20"/><line x1="448.65" y1="318.00" x2="783.50" y2="318.00"/><line x1="566.68" y1="54.60" x2="566.68" y2="399.20"/><line x1="448.65" y1="277.40" x2="783.50" y2="277.40"/><line x1="606.02" y1="54.60" x2="606.02" y2="399.20"/><line x1="448.65" y1="236.80" x2="783.50" y2="236.80"/><line x1="645.37" y1="54.60" x2="645.37" y2="399.20"/><line x1="448.65" y1="196.20" x2="783.50" y2="196.20"/><line x1="684.71" y1="54.60" x2="684.71" y2="399.20"/><line x1="448.65" y1="155.60" x2="783.50" y2="155.60"/><line x1="724.06" y1="54.60" x2="724.06" y2="399.20"/><line x1="448.65" y1="115.00" x2="783.50" y2="115.00"/><line x1="763.40" y1="54.60" x2="763.40" y2="399.20"/><line x1="448.65" y1="74.40" x2="783.50" y2="74.40"/></g><defs><path id="p0" d="M662 183h0M681 184h0M663 177h0M673 177h0M641 183h0M676 184h0M674 175h0M670 182h0M638 179h0M679 182h0M668 175h0M672 186h0M668 177h0M658 179h0M655 185h0M654 185h0M674 176h0M680 175h0M671 184h0M682 178h0M654 183h0M654 180h0M661 177h0M653 179h0M681 180h0M664 184h0M668 180h0M638 182h0M642 185h0M662 176h0M669 182h0M667 181h0M671 180h0M679 178h0M657 179h0M639 176h0M654 181h0M654 177h0M612 184h0M654 184h0M663 180h0M658 181h0M614 185h0M680 182h0M651 183h0M674 181h0M667 177h0M658 177h0M675 183h0M667 177h0M672 178h0M647 177h0M641 185h0M633 184h0M678 180h0M627 180h0M625 179h0M671 180h0M636 186h0M649 184h0M673 179h0M660 184h0M636 185h0M637 177h0M635 183h0M641 183h0M662 182h0M667 177h0M676 181h0M660 181h0M679 181h0M625 182h0M670 187h0M626 185h0M663 181h0M600 186h0M644 181h0M653 180h0M655 181h0M678 182h0M654 180h0M623 187h0M655 176h0M655 185h0M666 183h0M643 185h0M618 187h0M675 179h0M630 181h0M645 183h0M667 184h0M651 185h0M671 176h0M656 179h0M624 178h0M684 178h0"/><path id="p1" d="M506 311h0M516 310h0M552 311h0M536 313h0M559 312h0M545 314h0M525 310h0M518 310h0M553 310h0"/><path id="p2" d="M713 126h0M699 123h0M730 124h0M704 126h0M712 124h0M706 126h0M700 127h0M682 128h0M721 128h0M724 128h0M718 126h0M695 129h0M706 127h0M685 127h0M696 125h0M730 125h0M707 127h0M693 129h0M717 122h0M719 121h0M695 128h0M714 128h0M724 128h0"/><path id="p3" d="M507 287h0M556 286h0M564 288h0M554 288h0M562 288h0M572 289h0M578 289h0M581 288h0M529 286h0M568 286h0M575 286h0M572 288h0M569 286h0M535 287h0M543 288h0M533 287h0M570 288h0M584 290h0M500 287h0"/><path id="p4" d="M707 123h0M703 120h0M711 124h0"/><path id="p5" d="M711 133h0M697 138h0M711 134h0M721 134h0M698 137h0M705 139h0M701 131h0M664 137h0M691 133h0M705 136h0M652 131h0M715 132h0M706 133h0M699 131h0M704 135h0M688 138h0M700 133h0M697 136h0M714 133h0M697 129h0M685 136h0M702 132h0M699 133h0M701 130h0M687 134h0M701 136h0M699 131h0M708 130h0M706 133h0M698 130h0M705 137h0M668 135h0M697 130h0M721 129h0M708 131h0"/><path id="p6" d="M498 304h0M510 308h0M512 305h0M517 307h0M567 306h0M541 305h0M559 304h0M579 306h0M527 306h0M578 306h0M545 306h0M555 308h0"/><path id="p7" d="M549 309h0M529 309h0"/><path id="p8" d="M736 115h0M712 119h0M713 122h0M719 116h0M696 124h0M718 118h0M722 115h0M725 116h0M706 119h0M708 115h0M717 119h0M714 120h0M717 117h0M710 119h0M718 117h0M734 121h0M707 118h0M717 116h0M703 120h0M695 120h0M719 115h0M715 120h0M712 118h0M712 120h0M717 122h0M711 118h0M719 120h0M713 120h0"/><path id="p9" d="M569 284h0M573 286h0M579 283h0M564 286h0M562 283h0M553 285h0M525 286h0M575 283h0M560 287h0M534 287h0M540 287h0M584 288h0M559 285h0M539 287h0M534 284h0M578 283h0M557 287h0M553 284h0M553 286h0M518 285h0M568 285h0M556 286h0M572 287h0M560 286h0"/><path id="p10" d="M565 280h0M539 278h0M536 265h0M580 272h0M546 267h0M552 267h0M568 276h0M583 279h0M576 263h0M518 274h0M558 277h0M593 261h0M566 274h0M567 280h0M547 279h0M567 279h0M556 268h0M562 277h0M580 277h0M576 269h0M541 273h0M562 268h0M560 275h0M593 265h0M562 269h0M581 266h0M566 281h0M576 265h0M578 277h0M591 268h0M554 268h0M574 270h0M560 265h0M582 272h0M579 264h0M523 281h0M571 269h0M563 272h0M577 273h0M568 273h0M593 266h0M526 273h0M600 266h0M558 278h0M561 265h0M580 267h0M546 272h0M569 262h0M557 281h0M583 269h0M560 269h0M562 264h0M578 283h0M589 278h0M562 271h0M561 271h0M611 270h0M603 269h0M565 268h0M520 261h0M572 281h0M567 263h0M584 265h0M573 265h0M605 276h0M552 276h0M594 277h0M574 271h0M560 268h0M583 268h0M543 268h0M563 271h0M582 271h0M620 279h0M566 269h0M551 278h0M571 271h0M527 270h0M572 263h0M561 278h0M555 261h0M582 268h0M585 261h0M603 278h0M605 264h0M556 269h0M584 263h0M538 266h0M569 266h0M547 279h0M564 271h0M612 273h0M548 271h0M567 280h0M592 269h0M604 264h0M553 280h0M510 269h0M588 265h0M593 282h0M585 262h0M531 275h0M525 280h0M571 277h0M579 268h0M574 267h0M553 268h0M576 265h0M608 271h0M536 267h0M574 272h0M619 267h0M543 270h0M575 267h0M491 272h0M607 269h0M549 267h0M547 269h0M569 278h0M535 272h0M546 266h0M544 274h0M545 281h0M575 274h0M567 269h0M552 265h0M544 272h0M542 277h0M567 275h0M605 267h0M613 277h0M565 277h0M572 278h0M549 262h0M557 280h0M573 267h0M568 278h0M585 261h0M536 280h0M568 280h0M555 262h0M582 262h0M545 279h0M569 266h0M597 263h0M562 283h0M604 277h0M567 281h0M573 271h0M593 264h0M522 262h0M590 262h0M554 264h0M543 280h0M576 276h0M528 270h0M562 263h0M569 272h0M578 274h0M608 268h0M532 281h0M585 278h0M561 277h0M598 275h0M568 269h0M562 261h0M564 265h0M578 263h0M606 263h0M560 275h0M546 272h0M568 274h0M526 280h0M541 281h0M592 264h0M529 266h0M575 273h0M554 266h0M586 268h0M577 274h0M566 277h0M566 267h0M562 282h0M583 268h0M572 270h0M558 274h0M572 279h0M582 266h0M568 273h0M551 261h0M582 265h0M529 278h0M562 274h0M611 274h0M589 267h0M531 270h0M565 272h0M590 266h0M556 274h0M573 272h0M549 268h0M557 281h0M590 264h0M547 272h0M602 260h0M581 268h0M558 280h0M562 278h0M561 267h0M577 263h0M577 275h0M602 265h0M606 261h0M554 272h0M571 276h0M541 264h0M544 275h0M539 279h0M587 265h0M589 271h0M563 279h0M573 276h0M575 266h0M540 274h0M573 282h0M587 272h0M555 265h0M580 273h0M530 274h0M564 260h0M576 271h0M540 263h0M576 277h0M535 273h0M572 281h0M566 276h0M585 271h0M555 265h0M576 267h0M539 269h0M553 275h0M546 275h0M575 271h0M580 274h0M586 279h0M567 271h0M537 274h0M558 278h0M565 274h0M588 277h0M544 276h0M560 263h0M584 283h0M570 271h0M607 270h0M582 266h0M551 268h0M549 277h0M553 264h0M585 263h0M518 279h0M537 275h0M585 265h0M557 267h0M608 276h0M569 271h0M568 273h0M571 273h0M572 266h0M579 271h0M586 269h0M590 267h0M570 265h0M615 265h0M609 262h0M569 277h0M587 266h0M577 266h0M578 271h0M607 264h0M578 268h0M594 269h0M550 280h0M589 267h0M557 278h0M599 261h0M610 262h0M581 263h0M557 269h0M558 274h0M589 281h0M550 275h0M574 268h0M553 261h0M546 270h0M592 273h0M559 277h0M555 260h0M590 266h0M568 271h0M596 278h0M565 263h0M568 262h0M553 276h0M568 279h0M611 266h0"/><path id="p11" d="M693 158h0M669 155h0M672 158h0M691 158h0M686 157h0M676 158h0M703 156h0"/><path id="p12" d="M558 294h0M607 295h0"/><path id="p13" d="M594 259h0M620 255h0M572 252h0M543 258h0M616 256h0M572 254h0M578 258h0M589 256h0M554 255h0M535 254h0M581 252h0M593 255h0M599 253h0M585 251h0M588 255h0M604 257h0M578 254h0M623 251h0M580 256h0M569 258h0M562 255h0M557 254h0M567 253h0M590 253h0M587 259h0M570 258h0M581 259h0M561 256h0M555 257h0M588 257h0M596 253h0M568 255h0M566 255h0M572 254h0M558 255h0M569 258h0M589 256h0M642 251h0M555 251h0M595 256h0M578 258h0M534 255h0M629 253h0M606 253h0M566 256h0M593 252h0M605 256h0M529 255h0M552 257h0M603 257h0M571 257h0M652 255h0M619 259h0M625 252h0M572 253h0M592 257h0M599 257h0M591 255h0M567 253h0M590 255h0M582 257h0M582 253h0M578 254h0M595 255h0M586 254h0M584 254h0M600 255h0M603 252h0M586 256h0M596 251h0M606 252h0M555 252h0M596 253h0M577 256h0M594 256h0M550 255h0"/><path id="p14" d="M548 300h0"/><path id="p15" d="M520 314h0M514 315h0M479 314h0M515 314h0M565 313h0M555 312h0"/><path id="p16" d="M501 319h0M524 319h0M523 321h0M514 320h0M487 320h0M506 316h0M517 319h0M548 320h0M548 319h0M580 319h0M540 320h0M525 318h0M577 319h0M531 319h0M524 317h0M546 318h0"/><path id="p17" d="M559 298h0"/><path id="p18" d="M524 305h0M554 308h0"/><path id="p19" d="M566 295h0M541 295h0M535 296h0M567 297h0M541 295h0M559 297h0M552 297h0M542 297h0M552 296h0M556 297h0M546 295h0"/><path id="p20" d="M673 157h0M660 164h0M646 165h0M692 159h0M674 162h0M695 164h0M686 160h0M668 161h0M677 165h0M655 165h0M684 162h0M685 160h0M690 159h0M666 159h0M658 163h0M675 160h0M670 161h0M686 163h0M648 162h0M681 161h0M661 160h0M701 155h0M674 164h0M689 159h0M665 165h0M698 163h0M687 161h0M650 165h0M661 158h0M675 164h0M684 161h0M656 165h0M652 164h0M660 167h0M673 165h0M685 161h0M658 158h0M691 160h0M697 159h0M708 161h0M663 165h0M664 165h0M681 161h0M694 165h0M676 161h0M672 159h0M701 163h0M668 163h0M683 163h0M662 159h0M691 160h0M666 159h0M693 157h0M688 163h0M684 165h0M694 167h0M685 165h0M681 162h0M660 160h0M680 159h0M656 162h0M676 167h0M662 160h0M638 159h0M672 165h0M670 159h0M674 157h0M652 157h0M678 164h0M665 163h0M675 163h0M688 164h0M693 159h0M676 163h0M660 163h0"/><path id="p21" d="M547 284h0M533 284h0M582 282h0M569 283h0M545 282h0M572 282h0M583 284h0M530 283h0M555 284h0M593 283h0M554 282h0M541 283h0M556 286h0M533 284h0M568 282h0M539 285h0M540 283h0M548 285h0M564 281h0M556 286h0M552 281h0M567 283h0M563 282h0M587 284h0M545 285h0M555 283h0M531 281h0M553 285h0M553 282h0M580 280h0M569 284h0M534 286h0M591 283h0M550 282h0M519 281h0M540 285h0M598 283h0"/><path id="p22" d="M575 290h0M562 290h0M538 291h0M564 288h0M521 289h0M528 291h0M588 288h0M561 289h0M601 291h0M543 292h0M568 289h0M592 288h0M542 289h0M553 289h0M570 289h0M561 288h0M592 290h0M565 288h0M542 289h0M558 291h0M582 290h0M537 288h0M536 293h0M559 288h0M563 290h0M562 291h0M567 291h0M539 290h0M568 290h0M572 289h0M565 288h0M553 292h0M567 290h0"/><path id="p23" d="M548 291h0M543 292h0M527 291h0"/><path id="p24" d="M604 219h0M613 217h0M597 218h0M608 218h0M589 218h0M614 224h0M602 224h0M619 219h0M621 220h0M632 218h0M639 220h0M612 221h0M605 221h0M608 218h0M623 221h0M619 222h0M608 219h0M630 218h0M630 220h0M631 221h0M600 221h0M623 223h0M615 224h0M618 225h0M634 223h0M644 216h0M600 220h0M618 220h0M628 220h0M620 223h0M581 220h0M607 218h0M612 220h0M602 223h0M637 219h0M630 223h0M611 220h0M611 218h0M579 220h0M596 216h0M615 216h0M607 218h0M619 220h0M605 222h0M598 223h0M611 216h0M618 222h0M629 220h0M635 223h0M620 218h0M612 222h0M595 222h0M590 218h0M614 219h0M613 219h0M626 221h0M639 221h0M622 220h0M579 222h0M627 219h0M613 223h0M591 224h0M627 223h0M610 219h0M568 220h0M601 220h0M622 218h0M606 221h0M629 216h0M627 219h0M625 221h0M585 224h0M613 221h0M617 218h0M624 225h0M614 221h0M647 219h0M622 223h0M602 225h0M596 219h0M603 223h0M588 218h0M667 224h0M615 223h0M626 218h0M651 219h0M628 221h0M619 222h0M623 220h0M601 220h0M618 218h0M626 220h0M643 218h0M594 222h0M605 218h0M611 222h0M569 220h0M650 224h0M632 221h0M642 218h0M645 221h0"/><path id="p25" d="M569 317h0"/><path id="p26" d="M725 139h0M695 143h0M706 141h0M708 137h0M681 142h0M718 144h0M724 142h0M701 139h0M682 140h0M701 143h0M682 142h0M629 146h0M706 141h0M700 142h0M675 144h0M699 145h0M688 141h0M701 141h0M706 140h0M697 137h0M727 140h0M690 141h0M693 147h0M688 140h0M688 144h0M704 147h0M706 136h0M696 138h0M698 142h0M661 144h0M682 142h0M694 145h0M674 143h0M710 144h0M682 139h0M713 145h0M699 146h0M661 142h0M686 142h0M675 141h0M700 140h0M700 144h0M652 146h0M678 144h0M715 138h0M681 140h0M687 140h0M703 141h0M699 139h0M690 142h0M700 140h0M687 142h0M692 139h0M646 142h0M690 138h0M685 143h0M702 148h0M700 147h0M707 141h0M674 144h0M683 141h0M698 141h0M689 139h0"/><path id="p27" d="M568 294h0M563 295h0M563 295h0M549 293h0"/><path id="p28" d="M494 303h0M548 301h0M560 302h0M525 301h0M511 304h0M564 301h0M540 304h0M563 301h0M590 301h0M582 303h0M526 302h0M562 300h0M561 304h0"/><path id="p29" d="M543 297h0M547 295h0M553 299h0"/><path id="p30" d="M544 300h0M564 301h0M566 299h0M545 299h0M549 298h0M542 301h0"/><path id="p31" d="M580 245h0M593 239h0M603 244h0M618 244h0M525 241h0M639 242h0M579 241h0M610 239h0M597 247h0M620 244h0M590 241h0M612 244h0M600 242h0M599 244h0M601 241h0M582 245h0M586 245h0M618 243h0M572 245h0M614 242h0M608 240h0M594 245h0M568 239h0M601 242h0M634 245h0M579 241h0M620 244h0M609 241h0M583 244h0M575 241h0M600 238h0M587 243h0M561 241h0M568 239h0M592 243h0M593 245h0M592 239h0M621 242h0M617 244h0M603 246h0M552 242h0M610 240h0M541 247h0M583 246h0M569 243h0M572 242h0M552 246h0M575 246h0M588 239h0M603 245h0M613 240h0M614 241h0M539 240h0M601 241h0M608 241h0M632 244h0M605 244h0M573 243h0M607 241h0M572 245h0M604 243h0M584 243h0M576 244h0M570 247h0M579 241h0M600 242h0M575 239h0M602 245h0M593 244h0M616 243h0M611 244h0M561 239h0M645 241h0M625 243h0M590 247h0M574 242h0M538 244h0M611 245h0M630 244h0M623 241h0M618 247h0M631 241h0M550 242h0M587 247h0M586 240h0M584 242h0M591 244h0M570 245h0M595 239h0M609 239h0M600 241h0M595 243h0M583 244h0M551 248h0M603 240h0M579 243h0M624 242h0M609 247h0M592 246h0M593 240h0M611 242h0M596 240h0M618 241h0M598 241h0M575 243h0M601 242h0M566 243h0M587 242h0M557 243h0M600 243h0M624 244h0M612 244h0M593 242h0M577 243h0M618 241h0M555 247h0M572 243h0M586 242h0M576 240h0M560 245h0M614 242h0M582 237h0M626 246h0M572 243h0M564 243h0M602 245h0M603 243h0M598 247h0M595 243h0M641 241h0M582 243h0M572 238h0"/><path id="p32" d="M512 296h0M561 299h0M562 297h0"/><path id="p33" d="M726 111h0M734 108h0M723 111h0M715 111h0M746 110h0M711 113h0M722 108h0M723 111h0M720 113h0M723 110h0M713 111h0M714 108h0M743 113h0M731 107h0M710 112h0M716 115h0M714 110h0M739 109h0M714 114h0M715 116h0M725 112h0M724 114h0M725 111h0M731 110h0M727 111h0M722 108h0M725 108h0M727 109h0M717 111h0M727 109h0M723 112h0M726 111h0"/><path id="p34" d="M753 75h0M767 76h0M745 78h0M748 76h0M748 75h0M765 72h0M763 69h0M761 71h0M756 78h0"/><path id="p35" d="M519 303h0M515 303h0M536 306h0"/><path id="p36" d="M508 356h0M539 351h0M492 351h0M534 350h0M521 354h0M528 351h0M508 354h0M512 355h0M507 351h0M483 352h0M500 352h0M505 351h0M504 355h0M495 350h0M484 356h0M538 351h0M504 355h0M467 354h0M499 354h0M524 352h0M518 355h0"/><path id="p37" d="M548 293h0M584 293h0M558 293h0M547 291h0M516 290h0M555 290h0M573 293h0M531 293h0"/><path id="p38" d="M589 301h0"/><path id="p39" d="M529 297h0M523 296h0M539 297h0M517 294h0"/><path id="p40" d="M615 227h0M619 231h0M638 225h0M607 224h0M593 227h0M587 229h0M614 226h0M612 227h0M610 226h0M638 227h0M581 228h0M590 227h0M592 227h0M594 230h0M592 229h0M591 230h0M601 227h0M615 231h0M604 232h0M568 230h0M579 229h0M620 226h0M641 229h0M604 233h0M638 225h0M595 230h0M565 227h0M600 232h0M580 227h0M628 229h0M611 232h0M635 223h0M588 230h0M621 226h0M616 227h0M630 227h0M602 226h0M566 232h0M644 223h0M607 223h0M611 227h0M610 229h0M589 229h0M609 226h0M626 226h0M612 230h0M587 228h0M567 228h0M597 228h0M590 232h0M615 224h0M629 231h0M614 229h0M579 232h0M598 228h0M596 232h0M621 228h0M553 231h0M601 228h0M610 227h0M602 229h0M600 224h0M629 229h0M619 228h0M630 229h0M606 227h0M621 225h0M629 223h0M619 231h0M598 228h0M597 232h0M555 230h0M626 225h0M627 231h0M613 226h0M591 229h0M588 232h0M638 223h0M599 228h0M596 227h0M613 227h0M618 227h0M603 229h0M544 231h0M629 231h0M596 225h0M558 229h0M605 226h0M638 226h0M639 226h0M586 226h0M609 229h0M607 228h0M593 228h0"/><path id="p41" d="M732 99h0M722 100h0M732 99h0M748 97h0M728 96h0M725 97h0M723 100h0M739 97h0M749 98h0M737 101h0M745 99h0M752 97h0M743 100h0M735 97h0"/><path id="p42" d="M540 306h0M574 306h0M568 305h0"/><path id="p43" d="M529 262h0M586 262h0M584 261h0M563 259h0M579 258h0M539 257h0M583 260h0M527 260h0M598 258h0M574 262h0M580 258h0M603 263h0M558 261h0M594 260h0M595 261h0M587 260h0M576 259h0M551 262h0M603 261h0M578 260h0M564 259h0M555 261h0M590 261h0M574 262h0M595 260h0M593 258h0M572 257h0M522 259h0M588 257h0M600 258h0M580 261h0M531 258h0M582 259h0M583 261h0M599 260h0M572 258h0M593 257h0M567 260h0M619 260h0M582 259h0M567 258h0M567 260h0M569 259h0M587 260h0"/><path id="p44" d="M550 298h0M556 298h0"/><path id="p45" d="M521 318h0M541 319h0M538 319h0M491 317h0M528 317h0M524 319h0M548 316h0M546 318h0M547 316h0M540 316h0"/><path id="p46" d="M628 218h0M642 210h0M621 213h0M628 218h0M644 209h0M623 211h0M619 211h0M648 208h0M619 214h0M638 214h0M626 214h0M588 211h0M619 215h0M626 211h0M647 210h0M630 211h0M635 207h0M644 213h0M623 215h0M657 208h0M610 209h0M663 207h0M646 208h0M617 209h0M596 207h0M631 211h0M622 206h0M625 207h0M600 217h0M623 211h0M602 206h0M636 206h0M634 212h0M640 214h0M622 213h0M623 212h0M606 211h0M599 211h0M651 208h0M605 212h0M601 209h0M631 211h0M637 210h0M658 206h0M579 211h0M655 212h0M587 211h0M628 209h0M602 218h0M600 214h0M614 210h0M595 212h0M647 211h0M643 213h0M635 209h0M625 212h0M649 218h0M636 209h0M621 209h0M632 213h0M647 208h0M631 212h0M640 209h0M636 211h0M630 213h0M665 205h0M628 212h0M629 213h0M615 205h0M612 211h0M614 215h0M593 214h0M629 215h0M642 211h0M607 211h0M613 214h0M602 211h0M636 209h0M615 209h0M579 207h0M636 216h0M654 206h0M656 213h0M655 209h0M619 215h0M618 211h0M627 208h0M655 213h0M613 215h0M621 207h0M623 208h0M604 214h0M622 208h0M628 208h0M622 216h0M608 209h0M626 212h0M615 213h0M640 209h0M632 208h0M641 214h0M630 218h0M637 214h0M659 209h0M605 216h0M610 209h0M629 209h0M612 209h0M591 211h0M597 214h0M640 213h0M609 211h0M640 215h0M660 209h0M582 216h0M638 213h0M647 211h0M621 211h0M615 210h0M606 213h0M624 213h0M605 215h0M612 211h0M641 211h0M645 214h0M616 212h0"/><path id="p47" d="M599 236h0M601 234h0M606 236h0M617 232h0M604 231h0M636 238h0M602 233h0M581 231h0M594 238h0M577 235h0M620 236h0M576 237h0M597 237h0M606 239h0M613 235h0M565 232h0M640 232h0M601 235h0M603 237h0M609 239h0M639 236h0M577 235h0M627 234h0M611 235h0M590 234h0M606 236h0M598 233h0M636 235h0M577 234h0M605 237h0M621 233h0M636 236h0M621 235h0M597 237h0M578 237h0M621 234h0M612 233h0M626 238h0M594 236h0M585 233h0M568 236h0M622 234h0M600 231h0M606 237h0M572 235h0M586 234h0M625 239h0M616 233h0M607 233h0M574 234h0M598 238h0M608 234h0M619 236h0M599 239h0M629 237h0M583 239h0M600 235h0M610 236h0M591 236h0M610 233h0M562 236h0M593 239h0M557 238h0M574 240h0M603 237h0M606 237h0M590 234h0M584 234h0M558 239h0M592 238h0M533 237h0M568 235h0M602 236h0M603 233h0M625 240h0M582 237h0M611 236h0M619 241h0M569 233h0M593 238h0M611 233h0M584 238h0M602 232h0M567 233h0M592 236h0M582 238h0M577 234h0M608 232h0M593 233h0M607 231h0M642 232h0M566 238h0M572 235h0M611 238h0M631 235h0M644 234h0M601 237h0M592 239h0M631 233h0M611 236h0M605 235h0M562 235h0"/><path id="p48" d="M757 92h0M736 92h0M733 93h0M740 92h0M743 92h0M741 94h0M761 93h0M745 95h0M730 96h0M717 94h0M708 93h0M749 93h0"/><path id="p49" d="M528 305h0M519 302h0M532 304h0M511 303h0M499 303h0M566 304h0M555 302h0M550 306h0M543 303h0M565 303h0M559 303h0M566 302h0M536 303h0M558 303h0M543 302h0"/><path id="p50" d="M638 201h0M652 195h0M642 204h0M632 198h0M633 202h0M642 200h0M615 203h0M621 197h0M617 200h0M628 206h0M664 199h0M638 201h0M660 208h0M603 202h0M621 204h0M621 203h0M626 195h0M641 199h0M638 199h0M631 202h0M629 204h0M629 205h0M620 202h0M643 198h0M636 208h0M619 201h0M612 198h0M601 202h0M636 202h0M643 199h0M602 203h0M641 202h0M617 201h0M641 197h0M617 199h0M602 203h0M620 202h0M636 204h0M649 199h0M637 201h0M664 204h0M634 196h0M649 206h0M605 205h0M622 196h0M636 205h0M665 197h0M653 200h0M625 198h0M668 205h0M646 200h0M643 205h0M646 199h0M602 199h0M647 202h0M656 200h0M595 199h0M627 205h0M620 199h0M663 197h0M620 206h0M640 205h0M617 206h0M632 198h0M662 196h0M622 202h0M635 198h0M618 200h0M692 196h0M613 202h0M629 206h0M654 205h0M630 199h0M651 204h0M648 197h0M636 203h0M599 204h0M642 200h0M642 202h0M634 201h0M626 195h0M621 202h0M646 196h0M622 198h0M628 200h0M607 200h0M615 205h0M655 203h0M613 199h0M637 195h0M599 202h0M637 198h0M619 199h0M641 197h0M629 206h0M671 206h0M646 205h0M644 199h0M651 203h0M662 198h0M621 206h0M646 196h0M613 198h0M601 205h0M634 206h0M622 202h0M660 196h0M645 203h0M623 205h0M644 199h0"/><path id="p51" d="M502 310h0M530 308h0M513 309h0M508 307h0M535 308h0M555 309h0M560 310h0"/><path id="p52" d="M520 315h0M527 312h0M503 314h0M487 312h0M519 313h0M545 313h0M550 312h0M546 315h0M569 314h0M567 315h0M535 314h0M583 315h0M526 312h0"/><path id="p53" d="M528 309h0M456 309h0M502 310h0M541 312h0M510 312h0M560 313h0"/><path id="p54" d="M542 299h0M548 301h0M564 298h0M564 299h0M582 299h0M547 300h0"/><path id="p55" d="M574 291h0"/><path id="p56" d="M544 290h0M571 288h0M580 287h0M560 288h0"/><path id="p57" d="M541 300h0"/><path id="p58" d="M628 247h0M567 252h0M609 251h0M585 253h0M555 252h0M571 250h0M612 249h0M605 249h0M592 245h0M601 250h0M559 253h0M588 249h0M581 252h0M609 247h0M605 248h0M603 247h0M597 250h0M597 247h0M577 244h0M609 249h0M597 251h0M602 251h0M594 251h0M556 253h0M547 246h0M605 248h0M585 249h0M595 248h0M577 247h0M562 251h0M582 251h0M583 253h0M614 250h0M586 247h0M596 246h0M615 250h0M617 248h0M607 249h0M599 249h0M562 249h0M605 247h0M596 252h0M578 248h0M555 247h0M609 254h0M581 249h0M611 246h0M523 249h0M573 252h0M568 254h0M592 251h0M585 253h0M604 249h0M581 248h0M600 249h0M612 250h0M588 250h0M568 250h0M593 245h0M602 250h0M600 246h0M602 248h0M612 246h0M590 247h0M601 249h0M588 250h0M579 250h0M558 249h0M603 250h0M587 251h0M621 247h0M629 253h0M597 248h0M561 249h0M615 248h0M578 253h0M606 251h0M600 249h0M596 248h0M594 250h0M609 248h0M603 253h0M567 249h0M578 248h0M582 249h0M565 250h0"/><path id="p59" d="M551 294h0M557 293h0M524 293h0M555 294h0M550 295h0M538 293h0M560 292h0M518 293h0M542 296h0M579 295h0"/><path id="p60" d="M538 307h0M533 308h0"/><path id="p61" d="M574 302h0M541 302h0"/><path id="p62" d="M564 296h0M577 298h0M566 296h0M538 300h0M571 297h0M580 299h0"/><path id="p63" d="M531 302h0M579 300h0M564 302h0M557 303h0"/><path id="p64" d="M537 311h0M546 309h0M533 311h0M513 309h0M468 309h0M535 308h0M560 308h0M526 311h0M567 307h0"/><path id="p65" d="M554 292h0M573 290h0M577 290h0M538 292h0M548 293h0M538 292h0M559 291h0M554 294h0"/><path id="p66" d="M722 106h0M729 106h0M727 105h0M726 108h0M744 101h0M712 102h0M739 106h0M736 103h0M730 102h0M732 104h0M723 109h0M712 105h0M734 103h0M705 107h0M725 104h0M726 106h0M731 101h0M734 105h0M734 105h0M734 101h0M722 103h0M727 103h0M720 104h0M734 100h0M721 105h0"/><path id="p67" d="M532 315h0M526 313h0M521 316h0M510 315h0M547 315h0"/><path id="p68" d="M513 306h0M494 306h0M516 307h0M553 304h0M543 303h0M593 306h0M531 304h0M576 305h0M558 304h0"/><path id="p69" d="M521 323h0M492 344h0M532 349h0M501 350h0M558 321h0M514 336h0M502 341h0M525 326h0M528 329h0M522 342h0M504 347h0M492 320h0M570 326h0M539 329h0M482 338h0M529 338h0M492 345h0M504 346h0M479 342h0M527 350h0M505 326h0M523 334h0M502 348h0M555 326h0M510 322h0M506 329h0M507 338h0M517 343h0M522 345h0M496 346h0M543 347h0M557 325h0M543 332h0M519 349h0M557 341h0M516 331h0M473 326h0M516 327h0M506 320h0M522 329h0M514 341h0M544 323h0M487 329h0M530 333h0M531 341h0M516 345h0M539 345h0M530 345h0M513 341h0M539 350h0M513 348h0M490 341h0M555 337h0M462 348h0M525 346h0M529 325h0M488 336h0M498 329h0M537 324h0M493 342h0M536 325h0M473 347h0M516 329h0M505 343h0M513 339h0M506 352h0M524 350h0M510 341h0M503 326h0M468 338h0M529 351h0M513 334h0M516 330h0M527 353h0M519 323h0M504 339h0M522 328h0M534 331h0M484 330h0M478 337h0M535 330h0M537 329h0M530 343h0M484 349h0M514 332h0M541 351h0M548 325h0M486 351h0M533 347h0M494 322h0M530 328h0M540 324h0M497 336h0M511 339h0M504 334h0M528 322h0M498 334h0M495 349h0M519 341h0M535 336h0M494 325h0M520 329h0M540 347h0M525 334h0M510 334h0M495 323h0M532 346h0M504 350h0M526 343h0M507 335h0M516 321h0M527 326h0M536 347h0M522 331h0M518 348h0M525 333h0M500 344h0M553 345h0M518 346h0M516 347h0M507 345h0M476 329h0M495 345h0M525 323h0M489 339h0M487 338h0M542 339h0M501 339h0M501 347h0M523 345h0M527 351h0M573 338h0M518 330h0M464 324h0M534 333h0M532 348h0M484 323h0M540 327h0M531 327h0M531 333h0M530 353h0M523 339h0M506 343h0M517 327h0M552 337h0M487 334h0M529 337h0M527 336h0M507 349h0M527 349h0M498 354h0M524 343h0M462 331h0M526 342h0M548 327h0M489 342h0M521 323h0M499 327h0M478 343h0M539 351h0M489 339h0M522 344h0M520 330h0M505 342h0M513 340h0M522 336h0M493 343h0M513 330h0M478 343h0M503 341h0M492 346h0M550 348h0M497 325h0M534 324h0M529 331h0M534 325h0M478 340h0M520 334h0M502 325h0M551 332h0M533 340h0M514 347h0M525 342h0M545 327h0M499 324h0M501 334h0M539 321h0M499 328h0M527 343h0M547 344h0M542 327h0M539 336h0M529 339h0M501 331h0M503 335h0M526 351h0M513 321h0M513 331h0M528 333h0M498 335h0M516 346h0M471 339h0M508 338h0M525 343h0M502 344h0M508 336h0M524 320h0M490 328h0M498 322h0M531 334h0M476 346h0M535 338h0M539 330h0M518 350h0M505 332h0M527 325h0M487 343h0M484 345h0M467 319h0M526 334h0M511 348h0M541 325h0M478 339h0M508 341h0M485 322h0M518 338h0M520 337h0M495 347h0M548 333h0M501 336h0M521 335h0M508 321h0M516 346h0M546 344h0M523 349h0M520 332h0M522 341h0M526 319h0M490 344h0M545 345h0M518 336h0M514 339h0M518 349h0M521 326h0M548 319h0M501 326h0M487 350h0M507 324h0M517 350h0M535 345h0M548 346h0M511 340h0M516 346h0M470 350h0M511 335h0M545 325h0M490 333h0M502 352h0M524 341h0M549 344h0M545 353h0M534 348h0M520 326h0M519 330h0M510 325h0M521 332h0M506 323h0M527 325h0M483 350h0M492 335h0M566 351h0M502 343h0M503 326h0M538 344h0M462 344h0M494 338h0M516 331h0M497 351h0M544 351h0M557 323h0M520 326h0M569 324h0M545 329h0M506 320h0M540 338h0M545 325h0M543 326h0M555 335h0M534 330h0M548 322h0M557 323h0M519 321h0M505 329h0M534 345h0M545 344h0M532 319h0M545 336h0M555 320h0M524 334h0M562 329h0M542 332h0M530 323h0M527 321h0M542 326h0M564 328h0M493 346h0M507 334h0M543 341h0M536 320h0M553 322h0M529 324h0M541 322h0M505 338h0M514 328h0M529 322h0M522 322h0M503 323h0M647 339h0M592 332h0M637 333h0"/><path id="p70" d="M554 298h0M562 295h0M564 298h0M554 295h0M567 296h0M532 296h0M556 298h0"/><path id="p71" d="M513 302h0M556 301h0M564 302h0M561 303h0M547 299h0M525 300h0M581 301h0M550 299h0M556 299h0M555 302h0M559 303h0"/><path id="p72" d="M503 361h0M494 369h0M527 358h0M502 372h0M521 377h0M503 369h0M542 368h0M502 357h0M524 362h0M502 380h0M537 357h0M525 355h0M509 363h0M540 354h0M539 354h0M504 364h0M510 353h0M496 365h0M523 358h0M494 361h0M517 385h0M540 359h0M521 368h0M517 377h0M532 366h0M531 370h0M537 363h0M510 357h0M491 356h0M489 359h0M515 355h0M513 359h0M492 354h0M508 378h0M495 359h0M506 383h0M515 358h0M474 359h0M508 356h0M489 362h0M473 358h0M527 365h0M517 356h0M500 364h0M538 354h0M521 360h0M498 358h0M524 381h0M483 361h0M486 368h0M517 356h0M524 363h0M516 372h0M543 358h0M513 356h0M511 366h0M526 366h0M527 358h0M480 362h0M509 373h0M538 369h0M535 357h0M509 367h0M483 357h0M512 372h0M515 355h0M527 354h0M524 363h0M519 363h0M532 377h0M511 359h0M495 360h0M480 357h0M523 353h0M528 353h0M510 371h0M503 372h0M507 367h0M533 360h0M505 364h0M511 364h0M501 378h0M509 358h0M512 356h0M505 365h0M509 358h0M510 368h0M507 362h0M508 353h0M503 357h0M522 355h0M485 355h0M511 362h0M505 391h0M487 364h0M512 377h0M498 354h0M519 363h0M509 368h0M502 357h0M517 389h0M494 365h0M520 353h0M482 355h0M515 359h0M507 367h0M510 373h0M549 355h0M494 357h0M509 357h0M494 363h0M472 361h0M521 358h0M519 357h0M514 356h0M524 366h0M501 357h0M504 376h0M501 370h0M580 359h0M633 384h0M636 359h0M589 388h0"/><path id="p73" d="M510 311h0M507 312h0M481 312h0M560 313h0M535 313h0M550 311h0M525 312h0"/><path id="p74" d="M504 318h0M505 316h0M513 317h0M491 317h0M495 317h0M476 316h0M566 314h0M570 318h0M583 314h0M556 316h0M549 316h0M554 315h0M550 315h0"/><path id="p75" d="M672 175h0M670 169h0M639 173h0M662 176h0M646 174h0M674 169h0M675 174h0M684 171h0M690 170h0M682 169h0M640 176h0M665 173h0M671 170h0M647 166h0M658 171h0M674 169h0M655 175h0M658 167h0M675 172h0M672 171h0M656 169h0M645 172h0M647 173h0M652 173h0M665 176h0M656 175h0M650 173h0M669 175h0M674 168h0M656 172h0M679 167h0M671 168h0M693 173h0M667 173h0M680 170h0M680 171h0M666 171h0M641 173h0M663 168h0M658 173h0M662 173h0M665 174h0M661 168h0M671 175h0M654 175h0M642 172h0M653 171h0M647 169h0M661 174h0M680 167h0M665 172h0M684 171h0M679 165h0M675 170h0M657 172h0M670 172h0M631 171h0M670 166h0M701 171h0M665 170h0M678 172h0M639 172h0M670 172h0M667 166h0M673 167h0M675 173h0M653 170h0M667 165h0M653 174h0M679 172h0M685 167h0M656 170h0M682 175h0M627 176h0M635 172h0M673 170h0M668 174h0M681 169h0M627 175h0M672 168h0M638 175h0M674 167h0M657 174h0M669 174h0"/><path id="p76" d="M554 311h0M526 310h0M586 312h0M550 312h0M550 312h0"/><path id="p77" d="M659 189h0M649 191h0M655 193h0M642 194h0M622 194h0M667 185h0M648 190h0M690 186h0M665 188h0M643 194h0M671 186h0M648 189h0M655 190h0M634 192h0M654 191h0M644 191h0M646 193h0M648 186h0M640 190h0M656 193h0M601 185h0M626 193h0M643 190h0M632 197h0M631 192h0M687 187h0M634 188h0M593 194h0M604 197h0M650 193h0M627 188h0M660 189h0M634 190h0M667 192h0M643 193h0M637 188h0M629 195h0M656 188h0M628 189h0M606 194h0M635 188h0M630 193h0M654 185h0M654 191h0M643 195h0M652 189h0M663 191h0M650 185h0M637 191h0M605 194h0M688 192h0M632 191h0M642 193h0M647 194h0M635 195h0M646 189h0M652 196h0M640 189h0M665 195h0M631 196h0M653 191h0M638 194h0M628 193h0M653 187h0M631 194h0M652 191h0M643 194h0M657 193h0M639 190h0M646 187h0M670 188h0M655 188h0M661 187h0M680 188h0M611 194h0M637 195h0M621 190h0M665 191h0M662 186h0M639 192h0M643 189h0M656 193h0M673 186h0M632 189h0M637 191h0M634 190h0M643 188h0M597 187h0M647 193h0M628 192h0"/><path id="p78" d="M698 146h0M693 148h0M677 156h0M661 154h0M661 154h0M697 153h0M678 154h0M660 151h0M690 155h0M675 151h0M675 151h0M691 153h0M663 150h0M690 149h0M684 152h0M690 151h0M681 147h0M613 151h0M693 153h0M676 152h0M677 156h0M686 155h0M670 149h0M696 153h0M673 156h0M699 153h0M677 148h0M671 154h0M676 153h0M693 150h0M683 154h0M705 147h0M688 151h0M686 149h0M683 152h0M671 155h0M701 152h0M696 148h0M687 149h0M686 153h0M682 153h0M702 151h0M695 148h0M688 150h0M704 149h0M715 156h0M696 149h0M700 151h0M686 155h0M724 149h0M667 152h0M688 148h0M679 151h0M678 148h0M677 153h0M624 153h0M691 153h0M658 156h0"/><path id="p79" d="M537 303h0"/><path id="p80" d="M738 92h0M759 80h0M750 89h0M750 88h0M753 82h0M760 85h0M755 86h0M737 84h0M749 88h0M751 82h0M766 78h0M747 87h0M731 88h0M747 86h0M751 80h0M758 85h0M749 81h0M734 90h0M746 81h0M743 88h0M747 93h0M740 82h0M742 88h0M744 89h0M758 81h0M738 87h0M730 91h0M749 85h0M753 82h0M730 90h0"/><path id="p81" d="M689 152h0M682 149h0M662 155h0M664 152h0M682 149h0M689 152h0M686 152h0M684 155h0M652 148h0M675 148h0M643 154h0M658 153h0M672 151h0M669 152h0M664 149h0M688 151h0M673 157h0M664 151h0M670 152h0M683 151h0M689 150h0M679 150h0M693 148h0M689 152h0M684 146h0M663 156h0M691 149h0M663 152h0M702 151h0M676 150h0M670 146h0M705 154h0M650 157h0M667 148h0M679 151h0M697 151h0M688 153h0M693 150h0M667 154h0M690 150h0M689 153h0M674 150h0M686 151h0M700 152h0M678 157h0M692 148h0"/><path id="p82" d="M545 299h0M509 300h0M572 297h0M559 297h0M514 298h0M541 298h0M544 298h0"/><path id="p83" d="M722 134h0M699 134h0M691 137h0M689 136h0M704 134h0M708 137h0M702 134h0M701 134h0M707 131h0M702 134h0M721 133h0M703 135h0M714 135h0M699 134h0M692 135h0M703 129h0M683 136h0M691 132h0M698 132h0M687 130h0M708 135h0M699 136h0M710 137h0M673 136h0M695 135h0M690 133h0M704 138h0M686 138h0M698 136h0M689 135h0M703 132h0M699 137h0M684 136h0M699 130h0M698 131h0M710 133h0M694 138h0M715 135h0M714 131h0M696 135h0M701 134h0M701 134h0M699 134h0M719 131h0"/><path id="p84" d="M518 308h0M552 312h0"/><path id="p85" d="M556 291h0M551 293h0M600 290h0M522 294h0M522 293h0M544 291h0"/><path id="p86" d="M521 307h0M531 307h0"/><path id="p87" d="M563 307h0M561 310h0M540 310h0M539 310h0M532 309h0"/><path id="p88" d="M506 355h0M510 353h0M520 355h0M525 352h0M517 355h0M516 355h0M522 352h0M527 353h0M520 353h0M518 350h0M523 351h0M525 355h0M489 354h0M543 354h0M547 353h0M512 353h0M512 355h0"/><path id="p89" d="M678 166h0M677 169h0M694 167h0M661 167h0M641 171h0M667 175h0M633 176h0M656 175h0M665 174h0M674 176h0M664 172h0M650 174h0M642 174h0M687 171h0M650 170h0M652 169h0M662 171h0M637 169h0M646 176h0M657 175h0M657 174h0M646 177h0M672 170h0M659 172h0M693 173h0M682 166h0M667 168h0M632 171h0M667 166h0M660 174h0M667 167h0M661 172h0M674 167h0M676 170h0M678 171h0M655 169h0M654 174h0M682 169h0M689 167h0M637 167h0M669 175h0M689 173h0M681 168h0M682 168h0M652 167h0M673 171h0M671 172h0M664 169h0M659 167h0M651 174h0M642 172h0M674 167h0M658 168h0M659 177h0M687 166h0M655 175h0M662 167h0M660 172h0M666 176h0M659 169h0M654 170h0M675 169h0M658 166h0M656 173h0M636 172h0M625 173h0M669 169h0M692 172h0M646 168h0M689 172h0M657 174h0M669 174h0M656 170h0M678 169h0M653 175h0M664 175h0M663 169h0M670 172h0M673 172h0M660 168h0M661 173h0M667 175h0M686 175h0M681 168h0M650 175h0M689 172h0M661 170h0M683 167h0M678 170h0M667 165h0"/><path id="p90" d="M734 94h0M743 94h0M727 95h0M748 95h0M743 94h0"/><path id="p91" d="M510 319h0"/><path id="p92" d="M508 305h0M553 307h0M520 307h0M526 303h0M498 303h0M527 307h0M546 306h0M518 304h0M556 304h0M511 304h0M567 305h0"/><path id="p93" d="M566 289h0M573 290h0M589 288h0M585 286h0M585 287h0M553 287h0M542 286h0M544 287h0M553 288h0M585 286h0M544 288h0M569 288h0M582 288h0M550 288h0M550 288h0M559 289h0M547 286h0M544 285h0M583 289h0M554 285h0M565 285h0M584 287h0M565 290h0M534 288h0M522 287h0M552 288h0M542 289h0M559 288h0M556 287h0M537 287h0M561 288h0M575 288h0M560 288h0M594 286h0"/><path id="p94" d="M526 302h0M519 302h0M500 302h0M523 300h0M545 300h0M527 303h0M531 303h0M576 300h0"/><path id="p95" d="M497 302h0M510 302h0M539 305h0M561 300h0M553 303h0M569 304h0M539 303h0M531 305h0M552 303h0M556 304h0"/><path id="p96" d="M565 281h0M578 284h0M596 285h0M569 281h0M579 281h0M535 281h0M549 282h0M565 284h0M515 284h0M566 282h0M572 285h0M603 284h0M521 283h0M581 282h0M573 282h0M569 284h0M535 283h0M613 282h0M542 283h0M545 281h0M584 283h0M593 284h0M560 285h0M548 283h0M604 285h0M549 285h0M552 283h0M526 282h0M556 284h0M556 286h0M538 284h0M527 284h0M562 282h0M567 282h0M588 283h0M573 285h0M538 282h0M554 281h0M539 285h0M538 283h0M536 284h0M528 281h0M564 284h0M587 283h0M528 283h0M581 285h0M507 285h0"/><path id="p97" d="M732 115h0M720 119h0M719 122h0M727 113h0M701 120h0M704 120h0M713 123h0M733 117h0M714 116h0M714 119h0M714 117h0M723 120h0M730 114h0M719 118h0M706 121h0M717 120h0M709 121h0M724 123h0M717 113h0M721 120h0"/><path id="p98" d="M621 247h0M586 251h0M587 249h0M609 248h0M602 249h0M589 251h0M575 252h0M576 254h0M594 248h0M586 252h0M575 247h0M593 249h0M564 248h0M571 245h0M606 247h0M582 251h0M603 251h0M619 246h0M553 249h0M594 247h0M603 249h0M559 250h0M555 250h0M618 245h0M586 246h0M639 248h0M563 250h0M619 249h0M604 246h0M594 251h0M605 250h0M601 249h0M609 252h0M596 249h0M591 249h0M553 249h0M587 247h0M593 250h0M603 246h0M547 250h0M600 250h0M577 250h0M552 251h0M576 249h0M621 248h0M579 248h0M603 250h0M545 251h0M600 247h0M605 248h0M542 249h0M568 251h0M610 249h0M608 249h0M605 245h0M610 253h0M586 247h0M594 254h0M587 249h0M588 250h0M592 247h0M587 249h0M561 251h0M627 253h0M542 249h0M580 249h0M579 251h0M559 252h0M549 248h0M599 252h0M594 250h0M593 249h0M592 247h0M564 247h0M584 250h0M575 248h0M540 252h0M617 250h0M589 246h0M603 250h0M565 251h0M580 252h0M580 251h0M551 253h0M566 251h0"/><path id="p99" d="M596 289h0M531 288h0M601 288h0M522 290h0M565 287h0M545 289h0"/><path id="p100" d="M499 302h0"/><path id="p101" d="M540 309h0M518 310h0"/><path id="p102" d="M539 294h0M534 295h0M520 292h0M534 296h0M545 293h0M585 295h0M595 292h0M550 293h0M551 293h0M534 294h0"/><path id="p103" d="M585 295h0M559 294h0"/><path id="p104" d="M545 287h0M572 283h0M548 287h0M537 284h0M524 287h0M592 287h0M565 284h0M561 286h0M580 284h0M539 285h0M560 284h0M553 285h0M563 287h0M556 283h0M574 287h0M565 286h0M542 283h0M578 285h0"/><path id="p105" d="M506 318h0M486 314h0M519 315h0M525 314h0M512 316h0M529 315h0M555 316h0M517 316h0M580 317h0M569 317h0M546 318h0M517 315h0"/><path id="p106" d="M519 305h0M501 304h0M531 306h0M545 306h0M552 303h0M549 303h0M546 304h0M561 304h0M558 302h0M535 305h0M545 305h0M533 303h0"/><path id="p107" d="M726 123h0M734 122h0M722 120h0"/><path id="p108" d="M549 312h0M480 313h0M531 312h0M488 309h0M520 311h0M574 311h0M539 311h0M534 311h0M520 310h0"/><path id="p109" d="M647 188h0M657 193h0M621 195h0M666 192h0M635 189h0M644 192h0M642 185h0M651 187h0M642 191h0M631 194h0M666 194h0M642 193h0M642 197h0M617 193h0M626 187h0M635 186h0M653 192h0M669 186h0M646 189h0M646 189h0M625 195h0M638 190h0M626 194h0M636 193h0M652 188h0M613 192h0M624 187h0M604 188h0M660 195h0M664 188h0M647 193h0M662 187h0M639 192h0M631 192h0M658 193h0M640 196h0M660 188h0M672 186h0M653 188h0M622 186h0M628 191h0M633 193h0M693 185h0M638 194h0M651 188h0M641 187h0M662 188h0M667 187h0M675 188h0M635 191h0M652 186h0M667 191h0M649 190h0M646 192h0M622 197h0M654 191h0M656 191h0M651 190h0M640 194h0M653 190h0M633 190h0M629 196h0M646 187h0M641 191h0M629 187h0M617 197h0M658 193h0M643 186h0M652 190h0M638 193h0M664 194h0M614 187h0M658 194h0M640 191h0M607 191h0M654 185h0M655 194h0M594 194h0M621 191h0M620 189h0M639 185h0M638 192h0M666 189h0M639 190h0M673 189h0M643 191h0M627 194h0M657 194h0M672 189h0M669 190h0M650 197h0M681 187h0"/><path id="p110" d="M553 306h0M593 306h0M573 307h0M538 306h0M529 307h0M555 309h0"/><path id="p111" d="M530 298h0M558 299h0M573 301h0"/><path id="p112" d="M596 230h0M590 223h0M610 226h0M582 225h0M616 224h0M571 228h0M595 226h0M589 223h0M596 226h0M631 225h0M608 230h0M616 232h0M613 229h0M593 228h0M624 229h0M624 230h0M590 231h0M611 225h0M563 227h0M614 227h0M622 228h0M612 231h0M609 229h0M588 229h0M591 225h0M602 231h0M624 229h0M592 232h0M598 230h0M651 226h0M624 223h0M597 223h0M574 229h0M625 227h0M599 229h0M617 228h0M638 228h0M587 224h0M583 227h0M630 230h0M629 227h0M601 230h0M648 226h0M598 227h0M593 225h0M570 229h0M600 230h0M571 230h0M614 226h0M604 229h0M630 228h0M600 233h0M597 230h0M624 228h0M614 231h0M615 226h0M568 227h0M617 228h0M579 232h0M646 231h0M611 227h0M600 224h0M630 231h0M603 230h0M626 226h0M622 232h0M612 225h0M592 232h0M572 232h0M609 225h0M584 232h0M580 229h0M583 229h0M582 227h0M629 230h0M614 227h0M598 233h0M633 233h0M611 228h0M604 224h0M615 228h0M612 226h0M622 225h0M600 226h0M572 230h0M591 227h0M607 227h0M614 229h0M593 229h0M598 224h0M606 227h0M617 229h0M599 231h0M576 227h0M607 228h0M611 231h0M609 228h0M638 231h0M602 227h0M589 232h0M602 227h0M619 223h0M592 226h0M606 232h0M590 226h0M595 225h0M555 231h0M617 228h0M598 227h0M590 232h0M612 228h0M620 225h0M578 227h0M625 225h0M571 228h0M617 226h0M657 228h0M615 228h0"/><path id="p113" d="M564 294h0"/><path id="p114" d="M472 308h0M537 311h0M554 309h0M528 309h0M544 309h0M548 309h0M561 310h0M523 309h0M543 309h0M523 310h0M526 312h0M581 308h0"/><path id="p115" d="M724 106h0M727 103h0M738 100h0M730 104h0M728 106h0M718 107h0M727 103h0M733 103h0M732 106h0M727 100h0M742 98h0M733 102h0M728 108h0M722 102h0M711 103h0M723 106h0M718 101h0M725 101h0M737 106h0M715 102h0M744 105h0M724 106h0M716 108h0M699 103h0M719 104h0M727 108h0M738 103h0M728 103h0M728 107h0M737 106h0"/><path id="p116" d="M731 110h0M711 117h0M708 113h0M689 116h0M732 111h0M719 114h0M720 112h0M714 109h0M715 111h0M729 112h0M731 108h0M734 108h0M735 110h0M729 113h0M729 110h0M718 111h0M712 110h0M737 109h0M725 108h0M735 108h0M726 107h0M743 107h0M726 113h0M715 114h0M722 109h0M691 113h0M717 112h0M713 112h0"/><path id="p117" d="M756 77h0M759 76h0M757 80h0M759 80h0M736 80h0"/><path id="p118" d="M534 306h0M550 306h0M509 307h0M563 305h0M557 308h0M543 305h0M529 306h0"/><path id="p119" d="M566 254h0M593 256h0M556 256h0M607 257h0M577 257h0M590 259h0M568 257h0M549 254h0M603 257h0M595 256h0M578 256h0M614 253h0M579 255h0M570 253h0M594 252h0M577 252h0M617 250h0M569 255h0M553 257h0M571 254h0M594 257h0M546 254h0M576 256h0M552 254h0M580 259h0M564 255h0M578 257h0M575 257h0M589 255h0M567 253h0M621 259h0M578 253h0M611 257h0M552 256h0M586 252h0M587 255h0M536 255h0M570 256h0M575 258h0M579 255h0M558 254h0M586 255h0M587 258h0M585 255h0M568 258h0M581 256h0M556 256h0M567 253h0M586 251h0M567 255h0M600 253h0M538 259h0M608 254h0M611 252h0M592 255h0M583 258h0M575 256h0M607 253h0M567 257h0M591 256h0M554 256h0M529 256h0M594 252h0M552 259h0M615 257h0M566 258h0M547 255h0M584 255h0M608 254h0M563 254h0M594 251h0M561 254h0M578 253h0M584 257h0M592 253h0M620 253h0M601 256h0M559 255h0M607 256h0M574 258h0M606 254h0M559 254h0M591 256h0M608 258h0M580 259h0M569 255h0"/><path id="p120" d="M568 295h0M563 295h0"/><path id="p121" d="M560 300h0M570 297h0M547 298h0M564 299h0"/><path id="p122" d="M690 145h0M692 144h0M683 145h0M677 149h0M710 139h0M696 142h0M674 142h0M700 142h0M708 138h0M690 144h0M659 141h0M685 142h0M671 142h0M681 142h0M688 147h0M681 143h0M698 145h0M683 145h0M714 141h0M687 145h0M709 146h0M718 136h0M686 141h0M696 145h0M706 145h0M689 144h0M682 145h0M704 143h0M678 146h0M711 139h0M687 145h0M697 146h0M675 142h0M692 144h0M676 145h0M701 146h0M690 138h0M684 142h0M679 141h0M684 146h0M677 145h0M701 140h0M682 140h0M661 148h0M700 143h0M688 141h0M699 141h0M688 141h0M707 139h0M708 143h0M712 143h0M669 143h0M713 140h0M714 138h0M681 143h0M672 141h0M696 140h0M701 139h0M715 143h0"/><path id="p123" d="M632 195h0M669 199h0M658 201h0M630 204h0M617 205h0M587 208h0M633 200h0M612 202h0M621 198h0M631 202h0M628 203h0M636 196h0M637 202h0M660 203h0M630 204h0M619 199h0M599 201h0M644 204h0M641 204h0M631 200h0M603 200h0M631 201h0M651 196h0M620 201h0M640 198h0M622 207h0M641 201h0M640 196h0M634 201h0M636 202h0M645 204h0M649 200h0M649 197h0M644 201h0M649 202h0M652 199h0M643 205h0M618 201h0M636 196h0M661 196h0M645 198h0M651 195h0M655 199h0M638 196h0M661 200h0M649 202h0M624 200h0M653 200h0M617 196h0M632 199h0M623 203h0M629 205h0M630 203h0M626 199h0M609 202h0M632 196h0M637 199h0M665 196h0M644 204h0M657 200h0M655 201h0M642 199h0M635 196h0M632 200h0M625 200h0M638 202h0M649 197h0M619 204h0M642 201h0M638 200h0M646 205h0M549 205h0M567 198h0M606 199h0M616 200h0M645 200h0M640 204h0M643 202h0M674 198h0M640 199h0M665 198h0M643 204h0M589 202h0M635 203h0M597 203h0M654 206h0M605 204h0M634 200h0M625 199h0M617 205h0M641 199h0M638 203h0M646 199h0M607 200h0M611 197h0"/><path id="p124" d="M552 299h0M547 301h0"/><path id="p125" d="M671 161h0M687 157h0M677 163h0M661 162h0M670 162h0M661 165h0M643 166h0M650 163h0M671 163h0M674 167h0M665 163h0M652 159h0M670 165h0M686 163h0M656 162h0M674 162h0M664 162h0M690 157h0M652 161h0M677 161h0M702 161h0M648 159h0M659 158h0M679 163h0M664 165h0M679 160h0M690 161h0M657 158h0M675 157h0M684 161h0M663 163h0M670 168h0M673 158h0M682 163h0M652 157h0M672 162h0M659 161h0M675 164h0M658 159h0M675 162h0M688 158h0M677 165h0M677 156h0M690 156h0M680 159h0M671 163h0M680 158h0M664 166h0M685 165h0M683 162h0M663 163h0M661 167h0M671 161h0M664 160h0M668 164h0M661 160h0M664 160h0M676 163h0M708 160h0M670 157h0"/><path id="p126" d="M720 127h0M692 122h0M706 125h0M704 129h0M700 123h0M717 121h0M705 124h0M689 125h0M720 127h0M713 123h0M707 126h0M708 130h0M663 130h0M708 128h0M720 126h0M700 126h0M716 125h0M714 127h0M740 125h0M715 123h0M689 129h0M707 130h0M705 128h0M700 130h0M703 128h0M715 125h0M719 128h0M680 124h0M718 128h0M705 131h0M701 131h0M702 127h0M708 124h0M714 127h0"/><path id="p127" d="M521 304h0"/><path id="p128" d="M515 319h0M521 316h0M517 316h0M513 317h0M519 318h0M515 317h0M477 316h0M549 318h0M565 318h0M542 316h0M544 316h0M513 319h0M525 317h0"/><path id="p129" d="M586 272h0M579 271h0M585 262h0M573 268h0M614 260h0M548 264h0M603 268h0M586 266h0M578 264h0M581 269h0M570 264h0M588 266h0M573 275h0M548 263h0M594 266h0M526 279h0M585 261h0M554 268h0M555 276h0M561 266h0M566 263h0M581 276h0M561 282h0M555 272h0M587 266h0M581 268h0M619 270h0M582 280h0M586 280h0M573 281h0M521 272h0M524 277h0M572 269h0M593 280h0M584 267h0M598 278h0M545 263h0M540 263h0M565 272h0M549 264h0M557 281h0M608 263h0M573 268h0M600 268h0M538 273h0M558 272h0M566 268h0M565 279h0M589 264h0M592 271h0M605 270h0M559 271h0M569 269h0M562 270h0M540 272h0M577 266h0M567 272h0M542 272h0M572 271h0M535 272h0M598 280h0M572 272h0M574 263h0M553 265h0M577 268h0M577 281h0M571 279h0M547 273h0M569 269h0M549 269h0M600 266h0M584 280h0M554 272h0M610 279h0M568 280h0M526 261h0M576 278h0M597 263h0M579 263h0M592 266h0M608 262h0M543 263h0M580 269h0M547 280h0M594 275h0M630 270h0M516 280h0M554 275h0M582 266h0M520 273h0M541 279h0M548 278h0M582 275h0M540 279h0M582 267h0M530 273h0M565 278h0M573 280h0M554 275h0M562 271h0M563 271h0M583 275h0M530 276h0M519 279h0M564 275h0M543 273h0M600 263h0M566 280h0M504 272h0M590 278h0M579 265h0M539 272h0M568 279h0M573 278h0M541 277h0M602 263h0M595 276h0M560 264h0M586 265h0M552 275h0M572 281h0M559 263h0M557 274h0M585 270h0M539 278h0M582 273h0M529 272h0M536 264h0M602 265h0M567 263h0M595 277h0M593 272h0M561 262h0M583 270h0M593 273h0M549 274h0M549 274h0M550 273h0M603 269h0M549 263h0M534 283h0M580 277h0M580 271h0M520 272h0M574 275h0M557 279h0M576 274h0M569 276h0M577 263h0M602 278h0M594 269h0M565 266h0M577 279h0M581 277h0M571 275h0M559 261h0M536 277h0M564 273h0M576 270h0M580 264h0M574 263h0M599 279h0M559 262h0M532 281h0M635 266h0M606 272h0M568 270h0M555 273h0M585 278h0M591 276h0M548 278h0M563 277h0M587 275h0M596 265h0M577 267h0M533 263h0M572 264h0M564 279h0M534 279h0M550 267h0M573 263h0M556 272h0M578 263h0M559 276h0M570 278h0M575 262h0M551 262h0M560 272h0M553 274h0M571 281h0M531 277h0M607 270h0M545 272h0M594 272h0M583 272h0M569 265h0M535 267h0M569 278h0M563 275h0M571 280h0M595 262h0M546 272h0M530 269h0M557 278h0M636 266h0M570 268h0M575 272h0M619 273h0M542 279h0M587 269h0M549 271h0M570 269h0M548 271h0M562 275h0M595 278h0M555 280h0M567 270h0M563 265h0M594 275h0M561 275h0M509 278h0M572 263h0M611 265h0M582 266h0M540 274h0M566 277h0M549 269h0M547 274h0M564 281h0M587 274h0M530 267h0M587 279h0M556 266h0M574 277h0M546 277h0M554 271h0M573 275h0M590 275h0M561 269h0M559 270h0M585 280h0M601 265h0M589 271h0M593 265h0M569 272h0M587 271h0M568 262h0M597 278h0M573 268h0M569 266h0M581 268h0M596 273h0M555 269h0M580 268h0M596 279h0M567 281h0M582 268h0M548 270h0M582 264h0M552 278h0M570 266h0M570 267h0M577 267h0M544 280h0M592 268h0M554 277h0M575 278h0M553 282h0M588 263h0M548 268h0M557 269h0M596 261h0M586 273h0M587 261h0M594 266h0M558 279h0M596 263h0M549 271h0M587 272h0M557 269h0M589 275h0M596 279h0M536 265h0M565 273h0M586 263h0M583 269h0M611 274h0M578 272h0M530 274h0M569 273h0M555 278h0M592 278h0M583 269h0M557 269h0M597 272h0M596 264h0M566 275h0M550 280h0M580 275h0M587 266h0M554 274h0M601 262h0M529 276h0M566 278h0M575 273h0"/><path id="p130" d="M528 312h0M462 313h0M552 311h0M565 312h0M553 312h0M548 313h0"/><path id="p131" d="M508 314h0M499 315h0M517 316h0M490 316h0M544 315h0M536 316h0M516 316h0M592 314h0M510 316h0"/><path id="p132" d="M505 391h0M518 380h0M516 366h0M531 370h0M509 365h0M503 391h0M498 361h0M503 363h0M513 368h0M486 373h0M535 365h0M508 384h0M516 366h0M494 355h0M530 360h0M522 384h0M490 361h0M488 358h0M511 375h0M517 364h0M491 356h0M505 378h0M510 369h0M507 356h0M496 357h0M526 378h0M497 359h0M491 356h0M514 368h0M476 369h0M527 381h0M488 360h0M494 356h0M496 369h0M512 358h0M480 360h0M518 353h0M546 361h0M527 358h0M514 377h0M521 363h0M514 373h0M494 363h0M522 370h0M472 356h0M521 368h0M540 360h0M529 362h0M502 355h0M517 367h0M533 365h0M514 388h0M507 358h0M526 363h0M532 366h0M479 357h0M477 361h0M517 373h0M526 367h0M498 353h0M520 354h0M499 391h0M528 361h0M523 361h0M511 369h0M494 374h0M502 369h0M540 363h0M503 357h0M515 373h0M509 372h0M495 358h0M494 357h0M504 390h0M494 356h0M500 358h0M506 379h0M507 356h0M495 357h0M479 354h0M506 356h0M511 371h0M503 365h0M500 379h0M492 367h0M512 369h0M493 358h0M517 369h0M505 355h0M496 358h0M511 370h0M489 359h0M514 379h0M485 376h0M501 357h0M510 391h0M503 391h0M532 359h0M497 365h0M515 361h0M522 381h0M513 358h0M491 358h0M531 364h0M505 358h0M502 359h0M501 354h0M493 355h0M499 355h0M500 364h0M531 359h0M520 362h0M493 356h0M514 361h0M513 373h0M542 364h0M593 371h0M599 367h0"/><path id="p133" d="M744 85h0M727 90h0M742 87h0M752 89h0M752 88h0M758 91h0M753 83h0M739 82h0M732 90h0M748 91h0M767 83h0M743 88h0M746 86h0M738 84h0M738 87h0M730 81h0"/><path id="p134" d="M557 298h0"/><path id="p135" d="M557 293h0M516 295h0M565 293h0M570 293h0M540 293h0M570 294h0"/><path id="p136" d="M518 314h0M517 315h0M504 315h0M499 314h0M559 313h0"/><path id="p137" d="M532 301h0M564 301h0M539 299h0M566 301h0M568 302h0"/><path id="p138" d="M560 292h0M553 291h0M557 293h0M535 292h0"/><path id="p139" d="M565 337h0M543 327h0M539 335h0M532 345h0M525 321h0M514 338h0M523 335h0M504 329h0M530 340h0M562 342h0M501 319h0M535 339h0M475 332h0M536 341h0M499 335h0M518 345h0M487 347h0M515 346h0M537 326h0M517 351h0M532 339h0M475 340h0M529 320h0M543 330h0M508 337h0M485 330h0M496 328h0M538 330h0M537 329h0M492 343h0M549 340h0M514 336h0M483 352h0M515 328h0M540 338h0M534 329h0M552 350h0M476 330h0M521 345h0M520 346h0M517 351h0M504 321h0M536 351h0M505 333h0M495 331h0M545 340h0M500 340h0M520 338h0M502 345h0M475 339h0M462 347h0M474 327h0M503 335h0M541 344h0M508 328h0M515 335h0M552 334h0M510 339h0M550 347h0M499 326h0M526 347h0M521 342h0M510 325h0M500 337h0M486 341h0M504 329h0M515 328h0M498 342h0M502 346h0M486 344h0M529 327h0M512 321h0M487 349h0M477 344h0M522 336h0M510 338h0M543 337h0M511 349h0M523 345h0M541 328h0M517 323h0M503 334h0M532 339h0M539 337h0M517 347h0M507 328h0M513 341h0M515 346h0M508 338h0M481 343h0M534 352h0M517 335h0M548 333h0M507 332h0M528 348h0M534 334h0M523 350h0M528 323h0M498 344h0M489 341h0M529 331h0M496 341h0M486 335h0M538 344h0M507 351h0M484 336h0M472 349h0M503 331h0M532 346h0M547 333h0M504 321h0M479 345h0M486 330h0M554 349h0M514 348h0M503 344h0M521 341h0M522 335h0M523 332h0M535 336h0M521 328h0M520 341h0M535 329h0M524 335h0M481 351h0M533 323h0M472 349h0M534 330h0M525 339h0M538 338h0M489 324h0M546 323h0M512 344h0M492 349h0M482 321h0M485 331h0M520 348h0M539 344h0M518 323h0M536 339h0M513 330h0M513 334h0M546 345h0M517 327h0M534 342h0M494 340h0M512 333h0M500 342h0M555 349h0M492 344h0M495 335h0M516 343h0M508 345h0M484 331h0M540 331h0M529 345h0M538 348h0M533 334h0M517 336h0M548 333h0M510 335h0M489 322h0M491 338h0M554 333h0M524 320h0M536 329h0M515 328h0M482 324h0M519 327h0M513 321h0M521 332h0M527 343h0M523 336h0M493 336h0M470 342h0M526 347h0M533 346h0M523 348h0M500 335h0M520 339h0M521 353h0M517 321h0M556 325h0M498 336h0M542 325h0M535 338h0M514 352h0M497 333h0M533 335h0M498 332h0M490 337h0M509 325h0M532 335h0M499 340h0M534 335h0M494 350h0M502 334h0M520 336h0M535 340h0M475 346h0M509 338h0M512 349h0M495 348h0M498 338h0M511 348h0M527 327h0M498 323h0M506 346h0M510 344h0M513 348h0M533 340h0M498 343h0M514 342h0M504 342h0M511 327h0M485 321h0M544 327h0M522 344h0M500 321h0M498 342h0M488 340h0M517 343h0M550 339h0M457 346h0M546 325h0M491 345h0M531 336h0M500 345h0M525 324h0M487 346h0M495 324h0M554 350h0M525 342h0M457 349h0M514 350h0M498 350h0M522 333h0M490 337h0M494 347h0M517 330h0M515 343h0M541 334h0M501 329h0M563 319h0M501 336h0M517 334h0M535 325h0M561 335h0M519 322h0M515 327h0M531 318h0M512 336h0M522 336h0M492 322h0M537 333h0M507 326h0M467 346h0M490 338h0M501 345h0M489 332h0M490 339h0M464 345h0M528 327h0M487 335h0M456 346h0M506 324h0M557 330h0M489 336h0M557 346h0M472 350h0M499 346h0M515 338h0M519 329h0M525 321h0M494 321h0M514 352h0M500 322h0M462 337h0M524 350h0M540 340h0M502 340h0M510 332h0M491 327h0M563 329h0M498 321h0M512 351h0M532 328h0M513 343h0M534 340h0M504 337h0M487 338h0M512 336h0M505 349h0M511 335h0M541 333h0M506 332h0M531 343h0M505 327h0M523 348h0M503 348h0M525 330h0M480 339h0M507 332h0M520 338h0M526 328h0M490 327h0M560 322h0M515 337h0M531 328h0M520 323h0M489 327h0M561 328h0M516 325h0M510 334h0M551 352h0M552 326h0M599 322h0M569 330h0M559 320h0M600 322h0M532 352h0M538 331h0M541 328h0M521 328h0M521 326h0M532 341h0M527 328h0M564 328h0M545 349h0M507 334h0M524 328h0M528 325h0M553 341h0M538 326h0M520 318h0M562 334h0M544 326h0M526 320h0M518 332h0M539 327h0M578 322h0M536 336h0M631 330h0"/><path id="p140" d="M552 296h0M565 294h0M545 296h0M542 294h0M579 296h0M550 294h0M557 296h0M550 294h0M533 293h0M506 296h0"/><path id="p141" d="M542 315h0M555 314h0M491 314h0M521 313h0M503 313h0M529 314h0M503 313h0M520 314h0M523 314h0M514 311h0M546 314h0M555 312h0M522 314h0M555 314h0M559 311h0M526 312h0"/><path id="p142" d="M543 300h0M561 302h0"/><path id="p143" d="M528 318h0M529 318h0M471 319h0M523 320h0M539 319h0M493 320h0M503 320h0M513 318h0M519 319h0M491 317h0M478 321h0M532 319h0M567 317h0M563 317h0M544 319h0"/><path id="p144" d="M571 242h0M605 248h0M614 240h0M589 244h0M585 244h0M546 245h0M594 243h0M604 240h0M606 242h0M575 240h0M612 244h0M609 243h0M633 242h0M590 240h0M569 242h0M564 247h0M588 246h0M566 240h0M589 239h0M592 244h0M589 242h0M552 245h0M580 240h0M594 245h0M561 244h0M578 246h0M567 242h0M610 246h0M592 242h0M624 243h0M602 239h0M578 246h0M633 244h0M604 244h0M584 243h0M597 242h0M595 240h0M602 240h0M601 242h0M572 242h0M616 238h0M595 246h0M629 239h0M609 241h0M597 246h0M593 238h0M565 248h0M589 239h0M612 245h0M592 240h0M612 242h0M591 243h0M574 244h0M625 242h0M619 244h0M573 240h0M578 244h0M559 247h0M591 240h0M574 242h0M600 243h0M573 245h0M589 248h0M555 244h0M608 246h0M607 246h0M583 244h0M609 238h0M604 245h0M596 246h0M609 241h0M571 245h0M635 247h0M594 244h0M593 241h0M616 238h0M578 247h0M612 240h0M580 243h0M568 247h0M586 241h0M596 244h0M601 241h0M612 246h0M590 243h0M584 242h0M608 248h0M614 240h0M595 245h0M572 245h0M553 247h0"/><path id="p145" d="M681 156h0M671 158h0M640 158h0M655 154h0M667 158h0M652 155h0M721 156h0M672 158h0M674 154h0"/><path id="p146" d="M554 296h0M557 296h0M563 296h0M563 296h0M558 296h0M547 298h0M559 296h0M551 297h0"/><path id="p147" d="M509 315h0M534 318h0M584 316h0"/><path id="p148" d="M513 307h0M533 307h0M527 307h0M538 308h0M538 307h0M581 305h0M518 306h0"/><path id="p149" d="M559 262h0M545 258h0M545 260h0M566 259h0M594 259h0M571 261h0M570 262h0M587 260h0M581 260h0M588 258h0M589 259h0M555 261h0M549 259h0M545 257h0M578 260h0M591 262h0M585 261h0M591 258h0M582 258h0M556 260h0M581 261h0M609 260h0M586 260h0M580 260h0M584 259h0M584 262h0M578 259h0M587 258h0M580 261h0M600 261h0M573 261h0M607 260h0M623 259h0M566 257h0M589 263h0M596 260h0M572 258h0M535 258h0M571 261h0M540 260h0M558 261h0M570 262h0M554 261h0M574 261h0M583 260h0M595 261h0M562 262h0"/><path id="p150" d="M592 224h0M655 223h0M571 224h0M622 219h0M646 221h0M599 219h0M641 221h0M608 218h0M613 221h0M604 225h0M624 222h0M597 224h0M601 222h0M624 215h0M622 223h0M629 220h0M562 225h0M605 223h0M634 222h0M576 223h0M612 223h0M614 219h0M648 220h0M623 216h0M631 221h0M601 222h0M593 221h0M599 219h0M625 216h0M635 224h0M600 220h0M641 221h0M607 225h0M629 217h0M624 220h0M628 215h0M669 220h0M621 218h0M581 225h0M613 219h0M599 219h0M621 223h0M622 221h0M625 220h0M631 222h0M666 218h0M628 220h0M653 221h0M575 222h0M621 223h0M606 221h0M584 222h0M584 224h0M612 220h0M619 224h0M638 220h0M636 220h0M608 222h0M632 219h0M632 221h0M590 222h0M613 220h0M570 217h0M639 219h0M627 219h0M611 222h0M582 222h0M643 225h0M639 218h0M619 223h0M620 215h0M602 222h0M635 224h0M633 221h0M622 223h0M613 222h0M609 218h0M577 220h0M625 222h0M611 222h0M625 218h0M614 220h0M630 219h0M597 216h0M637 220h0M623 223h0M596 221h0M606 225h0M621 222h0M599 220h0M612 222h0M603 224h0M609 225h0M661 220h0M599 221h0M629 223h0M636 218h0M611 217h0"/><path id="p151" d="M580 297h0M518 297h0M525 300h0M563 299h0M563 300h0M587 299h0M582 300h0M522 297h0M582 299h0M565 300h0M548 298h0"/><path id="p152" d="M538 299h0M546 298h0M558 298h0M540 296h0M532 298h0M599 296h0M556 297h0M565 297h0"/><path id="p153" d="M537 303h0M526 305h0M542 304h0"/><path id="p154" d="M522 291h0M598 290h0"/><path id="p155" d="M749 98h0M740 96h0M746 99h0M733 100h0M735 100h0M732 96h0M725 95h0M739 100h0M734 101h0M739 97h0M715 96h0M743 98h0M740 96h0M731 99h0M743 98h0M734 100h0M750 100h0M736 97h0M737 99h0M719 98h0M740 97h0"/><path id="p156" d="M576 296h0M526 298h0M521 296h0M564 297h0"/><path id="p157" d="M616 182h0M623 179h0M691 177h0M671 183h0M664 177h0M658 179h0M660 186h0M643 178h0M627 182h0M657 184h0M658 178h0M669 186h0M640 186h0M628 177h0M635 185h0M637 177h0M656 179h0M639 184h0M621 185h0M650 177h0M609 184h0M635 178h0M665 181h0M646 178h0M653 185h0M658 180h0M625 183h0M662 177h0M646 180h0M658 184h0M648 177h0M681 186h0M645 184h0M624 180h0M605 183h0M667 177h0M656 180h0M654 183h0M671 178h0M638 183h0M672 184h0M664 176h0M661 182h0M682 178h0M666 182h0M639 185h0M666 182h0M649 177h0M677 186h0M665 179h0M642 183h0M669 181h0M642 182h0M664 178h0M658 181h0M650 184h0M647 185h0M646 179h0M679 184h0M666 177h0M680 176h0M628 183h0M623 182h0M652 180h0M659 180h0M665 178h0M672 186h0M666 178h0M659 182h0M679 177h0M679 187h0M629 182h0M665 177h0M640 183h0M680 181h0M655 179h0M654 185h0M650 178h0M670 179h0M652 178h0M674 179h0M642 187h0M643 183h0M645 177h0M677 176h0M630 186h0M641 176h0M682 175h0M650 177h0M669 185h0M655 186h0M654 181h0M643 179h0M641 182h0M655 181h0M638 178h0M661 176h0M665 176h0M640 183h0M629 181h0"/><path id="p158" d="M513 311h0M547 311h0M559 312h0M585 314h0"/><path id="p159" d="M628 238h0M592 236h0M597 238h0M586 238h0M601 237h0M601 238h0M615 236h0M610 234h0M595 237h0M610 237h0M545 239h0M616 240h0M597 236h0M593 236h0M618 234h0M586 233h0M596 236h0M580 235h0M603 234h0M570 235h0M605 237h0M614 236h0M594 237h0M611 236h0M608 236h0M594 237h0M624 231h0M602 237h0M637 235h0M597 233h0M562 238h0M577 230h0M589 236h0M616 233h0M617 240h0M588 238h0M612 238h0M597 232h0M593 236h0M576 240h0M616 235h0M624 233h0M574 237h0M606 231h0M633 236h0M634 231h0M618 238h0M611 232h0M594 233h0M639 236h0M619 236h0M590 238h0M615 241h0M600 237h0M595 237h0M576 236h0M561 239h0M574 233h0M589 232h0M614 236h0M621 237h0M627 232h0M633 233h0M630 234h0M588 238h0M620 237h0M609 232h0M592 237h0M602 235h0M589 238h0M611 233h0M608 234h0M612 238h0M588 237h0M628 232h0M584 234h0M616 231h0M617 232h0M592 234h0M616 235h0M591 235h0M604 232h0M596 237h0M564 240h0M552 237h0M620 234h0M605 233h0M603 239h0M600 236h0M616 237h0M596 237h0M600 236h0M583 234h0M613 239h0M611 234h0M566 236h0M606 237h0M612 240h0M578 234h0M619 237h0M622 239h0M623 234h0M581 235h0M604 235h0M567 236h0M580 238h0M579 238h0M579 234h0M614 232h0M583 239h0M625 238h0M590 234h0"/><path id="p160" d="M510 291h0M539 291h0M569 291h0M570 289h0M591 291h0M528 291h0M560 287h0M551 290h0M569 289h0M518 290h0M548 293h0M504 290h0M562 290h0M559 291h0M570 291h0M563 291h0M552 289h0M530 288h0M583 289h0M552 292h0M556 292h0M553 288h0M564 292h0M541 290h0M509 293h0M591 289h0M515 291h0M570 292h0M562 293h0M529 290h0M550 293h0M566 288h0M554 292h0M548 293h0M569 291h0M575 289h0"/><path id="p161" d="M611 215h0M664 207h0M640 207h0M619 214h0M634 206h0M643 214h0M655 209h0M607 209h0M638 213h0M613 208h0M630 207h0M595 214h0M599 206h0M629 213h0M639 212h0M591 215h0M624 212h0M608 211h0M616 214h0M608 214h0M658 216h0M635 209h0M601 212h0M619 213h0M649 213h0M628 207h0M583 214h0M603 214h0M630 217h0M625 217h0M634 207h0M620 207h0M632 208h0M637 212h0M610 210h0M637 206h0M629 210h0M628 211h0M647 213h0M640 211h0M652 213h0M630 205h0M628 208h0M642 207h0M639 205h0M637 209h0M627 212h0M645 208h0M635 213h0M616 207h0M614 210h0M611 215h0M620 210h0M660 208h0M626 218h0M612 216h0M641 211h0M600 216h0M613 210h0M608 214h0M641 210h0M574 208h0M644 213h0M624 212h0M666 212h0M602 212h0M625 208h0M633 210h0M631 213h0M620 211h0M645 210h0M636 209h0M615 214h0M621 210h0M632 206h0M603 212h0M602 208h0M625 214h0M638 214h0M616 208h0M656 215h0M619 211h0M637 213h0M638 213h0M617 208h0M637 207h0M642 208h0M606 215h0M623 212h0M601 209h0M621 207h0M648 212h0M614 211h0M617 211h0M615 210h0M631 217h0M613 209h0M641 210h0M605 212h0M604 213h0M605 215h0M609 207h0M571 212h0M705 209h0M623 208h0M658 205h0M636 217h0M602 214h0M628 211h0M643 208h0M603 212h0M605 207h0M633 206h0M632 211h0M651 211h0M623 212h0M630 210h0M606 212h0M644 209h0M645 209h0M605 214h0M617 216h0M624 215h0M647 216h0M632 210h0M660 208h0M564 217h0M613 207h0M629 213h0M622 215h0M637 214h0M618 207h0M612 213h0M636 207h0M619 209h0M606 210h0"/><path id="p162" d="M604 230h0M628 225h0M618 231h0M567 226h0M594 228h0M573 226h0M650 226h0M599 229h0M593 228h0M579 231h0M610 231h0M655 228h0M599 228h0M629 225h0M618 225h0M604 230h0M594 223h0M577 227h0M620 226h0M586 225h0M615 227h0M633 227h0M591 226h0M603 228h0M581 225h0M599 226h0M581 225h0M586 226h0M632 228h0M622 228h0M595 232h0M602 224h0M601 228h0M600 226h0M601 227h0M635 229h0M600 231h0M589 224h0M562 231h0M581 228h0M602 230h0M629 229h0M611 225h0M598 231h0M576 229h0M633 229h0M656 231h0M656 229h0M569 225h0M602 224h0M614 229h0M601 229h0M665 228h0M603 223h0M621 227h0M648 232h0M628 227h0M575 226h0M602 226h0M614 232h0M627 228h0M634 232h0M618 226h0M616 226h0M626 230h0M599 230h0M562 228h0M638 230h0M612 225h0M617 226h0M654 232h0M612 224h0M620 230h0M606 228h0M607 226h0M607 225h0M598 229h0M577 222h0M610 229h0M586 229h0M609 229h0M588 231h0M605 225h0M631 229h0M596 229h0M582 223h0M628 229h0M569 231h0M616 225h0M602 229h0M635 223h0M579 229h0M624 232h0M621 233h0M603 232h0M615 228h0M622 231h0M614 229h0M615 227h0M592 228h0M629 225h0M608 229h0M601 231h0M596 232h0M596 228h0M578 230h0M609 232h0"/><path id="p163" d="M541 296h0M550 296h0M496 297h0M530 296h0M548 295h0"/><path id="p164" d="M693 170h0M678 166h0M660 169h0M669 171h0M667 173h0M616 166h0M658 168h0M664 174h0M676 169h0M658 170h0M650 170h0M677 166h0M645 174h0M655 172h0M677 166h0M662 173h0M658 174h0M639 176h0M671 171h0M677 168h0M679 174h0M675 169h0M670 171h0M664 173h0M630 169h0M681 170h0M652 170h0M651 171h0M660 174h0M654 172h0M688 165h0M644 169h0M644 175h0M687 174h0M656 166h0M656 171h0M659 172h0M658 176h0M643 175h0M683 168h0M661 169h0M658 169h0M672 169h0M670 170h0M664 167h0M652 168h0M694 173h0M635 173h0M630 176h0M659 167h0M657 171h0M673 167h0M660 171h0M639 175h0M667 169h0M676 168h0M660 173h0M652 173h0M678 173h0M649 174h0M685 169h0M680 173h0M660 173h0M659 172h0M652 175h0M656 172h0M674 172h0M655 175h0M673 171h0M668 167h0M661 173h0M677 172h0M668 168h0M686 174h0M697 171h0M651 171h0M670 169h0M686 168h0M648 172h0M655 172h0M680 172h0M669 173h0M688 175h0M665 167h0M646 167h0M660 166h0M667 175h0M670 173h0M657 176h0M679 169h0"/><path id="p165" d="M543 300h0M566 298h0"/><path id="p166" d="M545 298h0"/><path id="p167" d="M606 241h0M610 242h0M610 242h0M591 241h0M558 242h0M560 239h0M619 244h0M620 239h0M582 239h0M618 243h0M584 245h0M614 239h0M619 245h0M566 244h0M572 241h0M593 241h0M615 241h0M628 243h0M597 244h0M598 244h0M595 244h0M589 246h0M585 244h0M581 242h0M616 243h0M611 245h0M565 246h0M579 246h0M616 246h0M577 245h0M575 241h0M600 239h0M613 240h0M604 241h0M585 240h0M597 245h0M597 241h0M620 240h0M586 240h0M554 244h0M605 243h0M619 241h0M629 240h0M604 240h0M632 242h0M632 244h0M588 243h0M580 238h0M609 243h0M590 240h0M598 244h0M596 238h0M590 246h0M600 241h0M609 243h0M610 244h0M590 243h0M601 246h0M610 241h0M599 243h0M573 243h0M625 241h0M598 239h0M552 246h0M582 245h0M595 243h0M592 240h0M583 241h0M611 239h0M614 242h0M580 243h0M635 243h0M564 245h0M573 243h0M601 242h0M609 239h0M618 244h0M595 244h0M580 242h0M608 247h0M592 243h0M568 243h0M625 245h0M623 242h0M616 240h0M540 240h0M584 240h0M617 243h0M630 243h0M592 240h0M598 239h0M615 240h0M571 242h0M561 239h0M611 244h0M593 241h0M609 244h0M605 241h0M613 244h0M581 245h0M569 241h0M584 244h0M581 240h0M623 244h0M615 239h0M573 244h0M562 243h0M586 241h0M599 244h0"/><path id="p168" d="M567 236h0M597 232h0M569 237h0M597 231h0M621 233h0M618 237h0M587 233h0M595 234h0M592 237h0M597 233h0M617 237h0M615 236h0M614 232h0M613 238h0M619 236h0M598 238h0M610 238h0M639 238h0M595 235h0M598 233h0M588 237h0M610 235h0M605 234h0M591 239h0M581 236h0M624 237h0M623 233h0M576 235h0M621 233h0M577 234h0M571 233h0M640 235h0M592 236h0M620 235h0M590 234h0M580 235h0M631 235h0M586 231h0M610 235h0M591 237h0M601 232h0M595 237h0M637 233h0M629 233h0M584 233h0M601 234h0M622 239h0M603 237h0M608 237h0M584 237h0M599 235h0M582 238h0M592 239h0M599 238h0M601 239h0M583 234h0M614 234h0M637 233h0M592 237h0M625 234h0M601 237h0M628 235h0M622 239h0M605 236h0M559 237h0M619 235h0M585 234h0M605 240h0M613 237h0M630 230h0M608 238h0M578 233h0M632 231h0M614 236h0M623 234h0M550 236h0M616 235h0M542 236h0M602 233h0M630 231h0M610 233h0M543 237h0M592 235h0M593 234h0M551 236h0M601 231h0M593 238h0M581 232h0M601 235h0M608 238h0M613 231h0M592 236h0M618 234h0M609 238h0M616 233h0M599 240h0M582 235h0M630 232h0M621 233h0M592 237h0"/><path id="p169" d="M675 156h0M648 166h0M657 164h0M673 158h0M655 167h0M682 156h0M681 157h0M666 164h0M692 159h0M667 164h0M692 165h0M681 161h0M649 164h0M670 161h0M689 160h0M679 155h0M655 160h0M691 157h0M655 160h0M666 166h0M690 161h0M679 157h0M674 160h0M672 161h0M682 158h0M670 161h0M677 158h0M674 160h0M649 164h0M700 156h0M688 161h0M686 167h0M655 163h0M689 165h0M687 162h0M665 162h0M672 162h0M682 163h0M677 161h0M709 159h0M665 163h0M689 157h0M653 167h0M653 165h0M683 165h0M674 160h0M664 167h0M681 167h0M640 164h0M647 164h0M664 164h0M695 164h0M687 159h0M676 161h0M670 166h0M674 163h0M677 159h0"/><path id="p170" d="M514 318h0M520 319h0M484 319h0M520 319h0M518 318h0M505 317h0M514 319h0M483 320h0M572 318h0M557 320h0M514 319h0M567 318h0M550 318h0"/><path id="p171" d="M553 308h0M525 310h0"/><path id="p172" d="M525 304h0M503 305h0M532 306h0M533 306h0M585 306h0M529 305h0M529 304h0M539 305h0M560 306h0"/><path id="p173" d="M512 316h0M512 316h0M501 315h0M470 317h0M520 315h0M496 315h0M522 315h0M557 314h0M552 317h0M530 316h0"/><path id="p174" d="M512 327h0M503 343h0M509 349h0M555 331h0M555 333h0M530 326h0M526 345h0M498 324h0M474 336h0M498 335h0M473 327h0M484 339h0M526 348h0M513 351h0M550 328h0M502 352h0M533 329h0M497 342h0M541 332h0M547 338h0M509 327h0M517 336h0M527 322h0M501 348h0M532 335h0M545 349h0M517 334h0M551 322h0M514 326h0M539 345h0M541 327h0M537 332h0M484 338h0M515 329h0M549 330h0M519 338h0M486 333h0M525 339h0M519 350h0M500 326h0M496 350h0M534 340h0M497 332h0M530 339h0M511 344h0M512 348h0M557 338h0M517 340h0M517 334h0M539 341h0M506 345h0M510 338h0M501 350h0M500 342h0M480 338h0M498 345h0M560 334h0M509 340h0M513 345h0M501 334h0M510 340h0M531 334h0M577 321h0M535 319h0M533 328h0M518 346h0M522 340h0M509 327h0M554 339h0M553 323h0M521 342h0M529 336h0M486 334h0M511 322h0M477 322h0M502 332h0M499 331h0M523 327h0M504 320h0M534 346h0M539 333h0M505 339h0M533 333h0M513 343h0M537 341h0M491 342h0M516 344h0M471 338h0M492 346h0M520 339h0M527 325h0M512 325h0M473 324h0M526 337h0M479 341h0M556 324h0M502 337h0M525 349h0M558 329h0M547 340h0M470 323h0M544 327h0M493 332h0M501 339h0M521 338h0M531 340h0M514 321h0M500 339h0M512 350h0M519 330h0M547 334h0M503 335h0M516 327h0M517 320h0M490 331h0M498 338h0M509 348h0M490 330h0M522 338h0M524 325h0M477 351h0M510 346h0M527 333h0M492 335h0M501 320h0M492 339h0M522 325h0M536 334h0M517 334h0M517 352h0M517 331h0M529 346h0M509 351h0M520 325h0M506 327h0M496 330h0M509 329h0M492 344h0M533 329h0M521 343h0M522 322h0M486 346h0M515 341h0M488 325h0M513 338h0M513 339h0M521 347h0M477 341h0M516 331h0M521 336h0M513 319h0M491 323h0M531 329h0M533 327h0M498 324h0M526 337h0M520 326h0M456 348h0M534 335h0M528 348h0M522 321h0M505 327h0M536 353h0M553 333h0M537 327h0M478 331h0M511 345h0M542 332h0M508 340h0M510 339h0M528 334h0M544 336h0M546 326h0M529 331h0M547 321h0M491 336h0M479 341h0M508 335h0M517 324h0M512 333h0M517 335h0M506 330h0M547 336h0M523 344h0M539 343h0M497 341h0M548 332h0M487 322h0M521 328h0M529 334h0M505 321h0M520 325h0M499 348h0M497 344h0M475 330h0M528 344h0M518 330h0M511 339h0M519 337h0M521 339h0M563 332h0M502 334h0M465 335h0M524 349h0M492 327h0M524 335h0M535 341h0M521 346h0M495 327h0M513 329h0M521 341h0M488 342h0M492 324h0M540 328h0M497 343h0M530 336h0M521 333h0M492 342h0M512 347h0M493 348h0M512 340h0M547 337h0M498 343h0M491 344h0M494 332h0M533 328h0M573 335h0M505 323h0M493 325h0M505 340h0M481 347h0M520 346h0M489 338h0M504 338h0M499 345h0M528 346h0M520 328h0M494 349h0M534 332h0M486 328h0M517 344h0M484 324h0M511 349h0M483 343h0M504 340h0M535 341h0M502 345h0M510 340h0M504 349h0M503 334h0M484 341h0M536 337h0M527 334h0M513 343h0M506 345h0M509 336h0M529 328h0M459 322h0M498 332h0M502 337h0M518 331h0M489 346h0M496 344h0M513 321h0M526 333h0M538 330h0M572 333h0M522 334h0M512 327h0M516 326h0M519 327h0M563 318h0M541 339h0M489 323h0M492 319h0M526 345h0M504 336h0M506 344h0M546 348h0M528 352h0M523 337h0M511 326h0M530 326h0M514 332h0M491 350h0M546 329h0M496 322h0M485 339h0M496 339h0M523 341h0M490 340h0M512 325h0M497 331h0M516 327h0M491 344h0M510 331h0M522 333h0M531 341h0M548 347h0M541 330h0M525 341h0M525 349h0M502 334h0M495 342h0M501 342h0M538 341h0M485 335h0M532 329h0M558 337h0M525 343h0M515 343h0M537 334h0M537 330h0M535 337h0M549 337h0M565 325h0M549 326h0M562 323h0M555 339h0M551 325h0M538 341h0M503 328h0M556 325h0M539 323h0M537 328h0M511 324h0M545 325h0M525 321h0M556 332h0M513 332h0M521 323h0M593 325h0M527 321h0M596 332h0M550 322h0M585 335h0M526 330h0M563 321h0M542 326h0M538 323h0M593 332h0M554 351h0M523 322h0M543 323h0M557 318h0M541 326h0M533 348h0M529 346h0M643 333h0"/><path id="p175" d="M532 317h0"/><path id="p176" d="M550 281h0M554 283h0M555 282h0M551 284h0M549 284h0M561 282h0M567 284h0M579 282h0M555 281h0M570 281h0M568 284h0M574 285h0M583 282h0M526 282h0M545 280h0M570 284h0M521 281h0M533 285h0M548 284h0M517 284h0M542 283h0M554 284h0M565 282h0M603 281h0M545 281h0M567 281h0M591 282h0M518 283h0M561 281h0M598 283h0M526 285h0M552 283h0M561 286h0M553 282h0M526 286h0M571 283h0"/><path id="p177" d="M595 246h0M579 246h0M598 250h0M606 247h0M578 247h0M595 253h0M612 251h0M613 249h0M563 251h0M558 252h0M572 251h0M605 250h0M583 253h0M586 246h0M572 248h0M617 252h0M605 251h0M571 248h0M560 251h0M621 249h0M581 254h0M566 252h0M583 249h0M549 250h0M561 245h0M561 248h0M537 252h0M604 249h0M548 248h0M582 248h0M620 252h0M599 247h0M592 252h0M615 248h0M608 253h0M610 249h0M594 246h0M551 245h0M601 249h0M590 249h0M553 251h0M577 248h0M595 247h0M566 247h0M597 250h0M599 250h0M574 246h0M580 248h0M531 249h0M603 247h0M568 252h0M591 252h0M590 251h0M550 251h0M595 250h0M607 249h0M575 249h0M582 249h0M574 251h0M581 245h0M551 252h0M567 250h0M614 245h0M547 250h0M580 249h0M597 249h0M612 249h0M619 252h0M568 250h0M619 251h0M549 250h0M610 246h0M602 250h0M529 251h0M614 248h0M601 250h0M555 252h0M590 251h0M615 250h0M585 248h0M560 254h0M608 247h0M580 252h0M579 250h0M625 250h0M588 250h0M600 247h0M549 252h0M605 248h0M579 249h0"/><path id="p178" d="M723 100h0M735 101h0M722 106h0M754 101h0M736 99h0M734 102h0M701 100h0M733 107h0M720 101h0M725 105h0M713 108h0M742 100h0M738 104h0M726 106h0M731 104h0M720 103h0M736 100h0M756 104h0M719 102h0M728 106h0M722 104h0M717 101h0M728 106h0M738 106h0M717 105h0M728 106h0M735 102h0M736 105h0"/><path id="p179" d="M707 121h0M720 121h0M723 122h0M706 121h0"/><path id="p180" d="M550 291h0M512 291h0M550 291h0"/><path id="p181" d="M520 315h0M479 317h0M561 319h0M509 317h0M513 318h0M535 318h0M533 317h0M508 317h0M506 319h0M497 316h0M536 315h0M519 315h0"/><path id="p182" d="M514 311h0M531 313h0M530 310h0M503 310h0M542 314h0M539 313h0M548 310h0M540 311h0"/><path id="p183" d="M497 303h0M535 300h0"/><path id="p184" d="M539 291h0M512 293h0M575 293h0M540 294h0M547 293h0"/><path id="p185" d="M557 296h0M527 296h0M558 296h0"/><path id="p186" d="M723 111h0M732 111h0M734 109h0M724 112h0M714 106h0M712 111h0M724 109h0M717 113h0M730 111h0M711 115h0M708 111h0M700 114h0M704 113h0M721 113h0M722 110h0M732 106h0M720 109h0M707 116h0M730 112h0M734 109h0M708 111h0M731 111h0M730 109h0M689 107h0"/><path id="p187" d="M749 87h0M741 81h0M761 79h0M744 87h0M741 87h0M747 89h0M749 93h0M738 92h0M743 89h0M746 83h0M746 86h0M747 83h0M728 90h0M738 89h0M735 90h0M732 87h0M744 88h0M737 87h0M752 86h0M761 81h0M731 86h0M757 85h0M755 87h0M747 88h0"/><path id="p188" d="M555 299h0M557 301h0M551 302h0M542 299h0M579 299h0M560 300h0"/><path id="p189" d="M646 201h0M605 200h0M636 203h0M669 197h0M630 205h0M638 200h0M696 199h0M595 205h0M638 197h0M636 203h0M622 198h0M655 200h0M621 200h0M654 207h0M632 198h0M613 207h0M645 200h0M620 203h0M639 201h0M645 205h0M642 199h0M611 195h0M622 199h0M650 200h0M619 198h0M612 208h0M639 201h0M609 206h0M644 200h0M617 199h0M637 201h0M641 199h0M633 203h0M664 205h0M616 206h0M636 199h0M628 203h0M644 204h0M613 203h0M631 200h0M622 198h0M653 204h0M676 205h0M639 206h0M643 198h0M621 205h0M638 203h0M648 199h0M646 200h0M637 206h0M639 204h0M642 195h0M651 196h0M645 198h0M652 198h0M657 202h0M644 204h0M635 202h0M620 204h0M641 207h0M633 202h0M644 206h0M636 198h0M621 200h0M613 205h0M648 198h0M616 198h0M628 199h0M654 199h0M608 202h0M655 196h0M635 196h0M650 197h0M663 201h0M636 201h0M642 198h0M625 202h0M610 201h0M637 204h0M621 205h0M609 200h0M624 203h0M598 204h0M647 197h0M649 202h0M619 205h0M642 198h0M643 198h0M650 198h0M650 203h0M638 202h0M641 199h0M615 202h0M656 197h0M657 203h0M648 208h0M587 200h0M620 202h0M610 203h0M629 200h0M663 198h0M661 199h0M608 205h0M641 205h0M651 202h0M669 200h0M637 203h0M622 203h0M576 202h0M617 200h0M628 202h0M634 201h0M656 197h0M638 202h0M644 201h0M636 201h0M665 197h0M635 207h0M634 199h0M584 202h0M625 200h0"/><path id="p190" d="M635 195h0M613 192h0M626 190h0M620 187h0M610 194h0M627 187h0M652 194h0M647 188h0M655 188h0M665 191h0M655 189h0M652 185h0M621 187h0M651 190h0M636 194h0M668 188h0M651 192h0M628 191h0M639 193h0M645 187h0M661 194h0M600 193h0M655 190h0M637 194h0M629 190h0M650 194h0M647 194h0M630 187h0M654 189h0M615 192h0M625 195h0M641 189h0M653 192h0M658 189h0M640 188h0M667 197h0M645 194h0M613 195h0M643 197h0M644 192h0M643 187h0M639 190h0M662 188h0M654 188h0M655 190h0M633 196h0M661 187h0M651 196h0M630 194h0M662 193h0M638 186h0M626 193h0M653 188h0M653 186h0M633 196h0M631 186h0M649 197h0M659 190h0M633 187h0M672 193h0M659 189h0M667 194h0M618 197h0M663 190h0M652 192h0M640 187h0M654 195h0M665 189h0M616 193h0M653 187h0M651 192h0M617 190h0M648 192h0M651 195h0M628 196h0M635 191h0M641 192h0M632 186h0M648 189h0M642 189h0M661 190h0M648 192h0M656 187h0M626 197h0M659 193h0M658 196h0M649 189h0M646 194h0M664 197h0M613 193h0M633 195h0M626 196h0M656 195h0M630 197h0"/><path id="p191" d="M564 298h0"/><path id="p192" d="M575 298h0M525 298h0M512 298h0M588 297h0M564 298h0M543 297h0M579 296h0M585 299h0M556 297h0"/><path id="p193" d="M515 308h0M530 306h0M545 307h0M537 307h0M526 308h0M536 305h0M540 305h0M554 308h0M528 307h0M537 305h0"/><path id="p194" d="M578 257h0M598 255h0M613 256h0M569 255h0M579 256h0M555 256h0M563 254h0M634 256h0M582 256h0M567 257h0M588 255h0M581 254h0M594 257h0M581 250h0M577 252h0M581 258h0M585 254h0M574 258h0M608 252h0M568 253h0M591 254h0M590 255h0M574 256h0M562 254h0M585 255h0M607 256h0M573 254h0M574 255h0M559 255h0M562 258h0M592 254h0M585 254h0M593 258h0M607 255h0M592 256h0M571 259h0M534 252h0M571 255h0M597 253h0M619 256h0M567 254h0M586 254h0M551 257h0M547 256h0M603 255h0M599 255h0M535 255h0M595 256h0M582 255h0M593 255h0M557 256h0M563 256h0M568 255h0M568 255h0M568 258h0M584 257h0M584 253h0M560 253h0M598 256h0M582 256h0M597 259h0M619 255h0M545 259h0M590 253h0M611 257h0M622 254h0M601 256h0M541 252h0M596 253h0M555 258h0M594 258h0M549 259h0M581 256h0M570 255h0M578 254h0M585 255h0M560 252h0M600 257h0M597 260h0"/><path id="p195" d="M556 299h0M538 298h0M558 297h0M571 296h0"/><path id="p196" d="M502 312h0M572 308h0M534 309h0"/><path id="p197" d="M757 74h0M756 77h0M759 74h0M759 78h0M757 75h0"/><path id="p198" d="M663 156h0M679 149h0M696 153h0M675 155h0M687 153h0M690 155h0M683 148h0M680 148h0M701 150h0M682 150h0M689 149h0M681 153h0M696 147h0M682 154h0M681 148h0M674 153h0M691 153h0M709 149h0M695 151h0M699 149h0M678 149h0M691 147h0M680 149h0M694 155h0M709 151h0M690 155h0M679 149h0M678 151h0M683 150h0M677 154h0M675 151h0M683 155h0M699 151h0M676 156h0M694 150h0M682 151h0M691 153h0M663 149h0M685 154h0M687 156h0M682 150h0M683 150h0M694 149h0M677 148h0M693 151h0M700 150h0M685 151h0M685 156h0M685 148h0M678 155h0"/><path id="p199" d="M551 302h0"/><path id="p200" d="M558 292h0M522 293h0M573 293h0M523 291h0M547 294h0M562 294h0M581 295h0M573 291h0M577 291h0M556 293h0"/><path id="p201" d="M709 121h0M711 117h0M720 120h0M723 117h0M716 118h0M720 119h0M734 117h0M716 121h0M715 118h0M726 117h0M706 121h0M717 121h0M705 119h0M704 118h0M723 114h0M712 119h0M731 118h0M701 121h0M706 122h0M676 118h0M699 121h0M701 118h0M704 116h0M723 116h0M725 116h0M727 121h0M706 118h0M722 117h0M716 118h0M710 115h0M728 121h0M722 121h0"/><path id="p202" d="M703 134h0M666 130h0M701 139h0M717 132h0M705 136h0M711 132h0M685 135h0M704 131h0M687 137h0M687 137h0M697 131h0M707 132h0M683 136h0M691 134h0M699 137h0M708 135h0M703 133h0M700 134h0M715 131h0M717 132h0M698 131h0M715 131h0M690 134h0M680 136h0M703 131h0M692 135h0M709 136h0M700 138h0M704 135h0M720 131h0M711 132h0M688 134h0M683 132h0M712 132h0M689 133h0M692 131h0M707 137h0M691 132h0M711 136h0M693 134h0M699 134h0M730 129h0M698 132h0M709 135h0M678 137h0M695 132h0M689 136h0M695 134h0M693 134h0"/><path id="p203" d="M559 360h0M515 358h0M524 367h0M547 363h0M504 361h0M489 363h0M510 366h0M506 354h0M474 354h0M490 365h0M538 353h0M507 356h0M524 360h0M517 372h0M516 359h0M531 359h0M515 371h0M492 363h0M508 377h0M511 358h0M489 361h0M507 383h0M504 365h0M502 367h0M505 359h0M483 357h0M465 369h0M522 357h0M495 360h0M494 378h0M531 359h0M495 384h0M485 361h0M512 360h0M491 366h0M525 364h0M488 361h0M528 370h0M520 361h0M503 361h0M525 353h0M532 359h0M519 356h0M506 390h0M515 360h0M525 367h0M480 362h0M499 355h0M515 365h0M529 379h0M524 381h0M529 356h0M532 366h0M508 356h0M498 361h0M512 360h0M517 354h0M527 370h0M519 364h0M497 360h0M521 364h0M510 355h0M506 357h0M493 363h0M496 372h0M513 368h0M536 369h0M497 358h0M506 357h0M485 356h0M534 356h0M525 356h0M486 358h0M527 371h0M492 372h0M515 367h0M500 361h0M510 365h0M511 354h0M536 368h0M531 377h0M510 362h0M505 368h0M511 379h0M495 377h0M497 369h0M505 375h0M483 354h0M518 364h0M515 373h0M495 389h0M521 355h0M488 356h0M515 362h0M498 364h0M515 361h0M527 360h0M499 372h0M631 388h0M593 368h0M615 385h0M621 374h0M613 369h0"/><path id="p204" d="M719 126h0M697 123h0M711 127h0M695 129h0M688 128h0M694 130h0M671 125h0M700 127h0M716 128h0M696 125h0M711 129h0M721 129h0M711 129h0M688 128h0M678 129h0M710 127h0M697 127h0M715 126h0M688 129h0M718 124h0M700 125h0M709 125h0M701 124h0M708 129h0M712 130h0M700 124h0M688 128h0M704 127h0M719 125h0M693 128h0M698 124h0M716 129h0M713 127h0M695 125h0M708 123h0M699 128h0M707 128h0M685 127h0M715 130h0M680 126h0M663 127h0M692 127h0M685 128h0M711 126h0M691 128h0M713 121h0M718 129h0"/><path id="p205" d="M522 313h0M495 314h0M522 313h0M574 314h0M526 312h0M536 313h0"/><path id="p206" d="M601 298h0M551 297h0M547 298h0M549 297h0M543 298h0M560 300h0M562 301h0"/><path id="p207" d="M503 302h0M527 302h0M555 300h0M558 302h0M556 300h0M581 301h0"/><path id="p208" d="M522 292h0"/><path id="p209" d="M555 289h0M553 287h0M526 291h0M525 288h0M579 291h0M537 291h0M566 292h0M570 288h0M548 288h0M564 289h0M551 292h0M527 290h0M520 291h0M563 288h0M559 287h0M539 293h0M543 292h0M579 290h0M581 290h0M571 289h0M588 291h0M540 290h0M601 289h0M556 290h0M564 288h0M555 288h0M557 288h0M556 291h0M545 291h0M553 288h0M545 290h0M539 291h0"/><path id="p210" d="M737 94h0M728 96h0M722 94h0M726 92h0M733 91h0"/><path id="p211" d="M637 208h0M616 214h0M591 210h0M579 215h0M619 215h0M623 216h0M600 214h0M609 209h0M641 210h0M648 212h0M641 209h0M641 210h0M611 216h0M605 213h0M646 211h0M609 214h0M637 210h0M616 216h0M605 215h0M631 209h0M636 207h0M644 210h0M624 205h0M652 215h0M632 206h0M647 213h0M602 210h0M633 205h0M623 211h0M646 215h0M614 207h0M653 215h0M590 214h0M617 214h0M605 207h0M640 208h0M631 214h0M647 208h0M590 214h0M617 214h0M627 210h0M650 208h0M640 211h0M641 209h0M592 212h0M610 211h0M626 208h0M612 207h0M623 218h0M629 217h0M625 209h0M625 214h0M613 210h0M602 206h0M610 212h0M601 214h0M667 216h0M618 214h0M616 213h0M587 212h0M596 212h0M617 207h0M612 211h0M612 210h0M622 209h0M616 214h0M582 214h0M595 210h0M624 212h0M655 207h0M624 210h0M610 215h0M668 207h0M643 210h0M637 210h0M632 209h0M582 208h0M605 216h0M630 215h0M633 209h0M607 211h0M640 213h0M576 210h0M646 211h0M621 215h0M608 213h0M614 215h0M635 214h0M586 216h0M616 216h0M635 208h0M573 216h0M647 212h0M658 212h0M629 216h0M603 214h0M676 209h0M608 211h0M628 208h0M630 211h0M614 212h0M629 212h0M641 206h0M624 213h0M638 210h0M639 210h0M594 215h0M605 214h0M619 209h0M573 211h0M611 211h0M658 215h0M631 213h0M607 208h0M627 209h0M607 215h0M655 209h0M612 216h0M638 215h0M591 212h0M630 211h0M584 215h0M606 215h0M635 209h0M602 215h0M626 211h0M603 212h0M613 216h0M659 210h0M612 211h0M596 213h0M607 213h0M647 214h0M664 206h0M626 209h0M650 211h0"/><path id="p212" d="M534 295h0M510 295h0M537 294h0M540 295h0M561 295h0M559 294h0M537 293h0M542 293h0M552 293h0M566 292h0M538 294h0M541 294h0"/><path id="p213" d="M515 311h0M512 311h0M533 308h0M471 312h0M513 307h0M508 309h0M524 308h0M554 307h0M513 310h0M522 308h0M548 310h0M540 308h0M587 310h0M541 309h0M554 311h0M541 310h0"/><path id="p214" d="M646 155h0M679 157h0M719 158h0M682 157h0M689 158h0"/><path id="p215" d="M572 294h0M572 293h0M566 295h0M539 296h0"/><path id="p216" d="M511 304h0M507 302h0M510 303h0M511 304h0M521 303h0M587 302h0M535 303h0M559 302h0M546 303h0"/><path id="p217" d="M562 304h0"/><path id="p218" d="M730 99h0M753 96h0M708 94h0M727 96h0M730 99h0M740 94h0M739 94h0M737 101h0M731 95h0M749 96h0M731 95h0M729 99h0"/><path id="p219" d="M521 303h0M495 302h0M503 303h0M513 302h0M549 303h0M560 302h0M550 301h0M538 304h0M570 303h0M555 301h0M577 301h0"/><path id="p220" d="M478 311h0M515 313h0M509 315h0M491 313h0M493 314h0M503 313h0M529 313h0M534 315h0M517 313h0M513 315h0M538 314h0M516 313h0M542 313h0M507 315h0M537 315h0M518 313h0M532 314h0M555 314h0M544 312h0M583 313h0M580 315h0M521 315h0M574 315h0M548 314h0"/><path id="p221" d="M640 223h0M607 223h0M640 223h0M605 219h0M622 221h0M619 222h0M619 224h0M607 221h0M610 221h0M622 221h0M627 223h0M617 219h0M587 224h0M626 221h0M623 222h0M613 221h0M607 222h0M611 216h0M608 221h0M619 219h0M624 223h0M646 225h0M591 219h0M606 221h0M640 219h0M617 222h0M616 219h0M625 225h0M627 220h0M614 219h0M592 223h0M617 221h0M582 217h0M639 220h0M609 217h0M630 218h0M626 220h0M611 220h0M636 216h0M618 219h0M609 220h0M598 215h0M610 218h0M599 224h0M624 219h0M592 219h0M627 218h0M605 219h0M628 223h0M615 218h0M617 220h0M627 224h0M638 216h0M619 219h0M648 220h0M626 217h0M619 221h0M610 220h0M632 222h0M639 223h0M615 218h0M617 221h0M602 223h0M632 221h0M602 219h0M609 216h0M565 220h0M591 225h0M622 217h0M607 221h0M627 223h0M635 216h0M592 221h0M605 219h0M616 218h0M623 215h0M617 217h0M623 220h0M623 221h0M634 220h0M638 223h0M592 217h0M604 222h0M623 222h0M618 222h0M645 219h0M616 216h0M618 223h0M628 219h0M580 221h0M627 217h0M650 223h0M571 219h0M627 220h0M635 217h0"/><path id="p222" d="M634 187h0M656 182h0M655 178h0M645 175h0M621 181h0M642 180h0M656 187h0M658 185h0M666 179h0M646 181h0M636 181h0M656 182h0M662 184h0M653 184h0M636 181h0M654 180h0M650 182h0M644 181h0M658 184h0M669 183h0M668 185h0M626 183h0M654 179h0M641 185h0M642 185h0M662 181h0M629 186h0M672 182h0M675 180h0M639 179h0M661 180h0M649 178h0M656 185h0M665 182h0M648 183h0M658 179h0M650 183h0M676 181h0M644 186h0M664 183h0M636 181h0M671 177h0M652 179h0M640 182h0M644 185h0M667 180h0M647 179h0M649 178h0M659 181h0M645 184h0M673 183h0M641 177h0M649 183h0M647 181h0M633 180h0M666 176h0M639 182h0M638 181h0M651 181h0M655 181h0M641 185h0M678 184h0M659 176h0M679 181h0M657 180h0M625 178h0M655 184h0M646 178h0M643 181h0M635 184h0M657 178h0M643 184h0M654 179h0M638 182h0M654 185h0M634 186h0M655 183h0M669 183h0M656 183h0M657 176h0M655 176h0M642 177h0M652 185h0M645 181h0M659 182h0M689 176h0M647 181h0M681 184h0M630 182h0M675 183h0M651 178h0M620 186h0M673 182h0M666 181h0M666 180h0M646 176h0M665 181h0M650 183h0M635 177h0M656 178h0"/><path id="p223" d="M565 301h0M556 298h0M564 301h0M573 301h0M575 298h0M555 300h0"/><path id="p224" d="M708 144h0M687 140h0M677 145h0M697 146h0M697 138h0M685 140h0M670 137h0M692 145h0M683 144h0M692 147h0M704 142h0M711 143h0M700 140h0M705 145h0M703 145h0M684 145h0M696 145h0M709 145h0M680 144h0M687 147h0M685 145h0M699 144h0M716 144h0M672 140h0M711 136h0M679 141h0M672 144h0M689 147h0M692 149h0M711 140h0M714 139h0M695 144h0M705 149h0M701 142h0M701 139h0M701 142h0M690 140h0M694 142h0M711 143h0M706 140h0M685 146h0M691 146h0M667 143h0M684 142h0M690 138h0M697 141h0M697 139h0M701 145h0M700 139h0M645 146h0M682 139h0M701 143h0M697 140h0M702 138h0M701 137h0M708 139h0M671 139h0M678 140h0M671 144h0M701 142h0M714 139h0M695 142h0M682 145h0M700 140h0M689 140h0M699 145h0M707 143h0M706 144h0M716 139h0M701 147h0M686 138h0"/><path id="p225" d="M580 283h0M539 286h0M545 285h0M525 287h0M540 287h0M541 287h0M561 286h0M572 283h0M556 286h0M606 288h0M545 286h0M599 285h0M589 284h0M540 287h0M574 286h0M566 286h0M577 287h0M540 285h0M551 286h0M515 288h0M531 284h0M571 287h0M599 287h0M550 283h0M564 284h0M564 285h0M549 286h0M554 284h0M544 288h0M555 286h0M537 285h0M536 287h0M570 286h0M562 285h0M525 285h0M534 284h0M544 286h0"/><path id="p226" d="M487 309h0M554 306h0M577 307h0M575 307h0M541 308h0M538 309h0M577 306h0"/><path id="p227" d="M538 313h0M463 315h0M506 316h0M555 315h0M531 315h0"/><path id="p228" d="M550 297h0M561 298h0M541 299h0M561 298h0"/><path id="p229" d="M538 295h0M566 295h0M555 297h0M548 297h0M536 297h0M573 294h0M559 295h0M564 296h0M533 297h0M546 294h0M505 294h0M536 293h0"/><path id="p230" d="M557 275h0M585 279h0M575 277h0M540 275h0M566 281h0M519 278h0M569 271h0M544 281h0M607 273h0M589 265h0M571 276h0M601 269h0M557 273h0M593 260h0M548 281h0M544 269h0M544 281h0M578 262h0M593 265h0M592 261h0M554 278h0M600 265h0M554 266h0M554 270h0M573 261h0M608 266h0M603 270h0M530 272h0M562 279h0M549 264h0M515 281h0M582 264h0M581 270h0M538 274h0M595 261h0M522 271h0M566 267h0M553 268h0M576 277h0M591 274h0M567 262h0M577 272h0M546 272h0M560 272h0M571 269h0M587 267h0M558 273h0M573 276h0M552 278h0M554 277h0M578 279h0M573 264h0M563 276h0M597 280h0M592 274h0M544 273h0M596 265h0M577 280h0M552 262h0M551 273h0M581 265h0M563 272h0M599 264h0M580 267h0M537 267h0M559 273h0M615 268h0M582 267h0M543 282h0M588 280h0M586 280h0M557 274h0M591 268h0M593 267h0M538 260h0M608 262h0M565 277h0M598 266h0M563 270h0M590 268h0M568 281h0M549 272h0M572 267h0M549 279h0M569 267h0M595 261h0M587 276h0M576 264h0M604 279h0M579 277h0M536 266h0M593 276h0M602 262h0M569 271h0M586 264h0M566 262h0M543 269h0M558 275h0M595 278h0M568 272h0M600 264h0M602 266h0M559 266h0M528 266h0M567 265h0M557 276h0M541 265h0M571 268h0M589 272h0M571 274h0M565 261h0M576 278h0M570 270h0M540 274h0M590 276h0M562 265h0M526 276h0M522 273h0M562 273h0M589 279h0M558 266h0M560 263h0M538 274h0M579 271h0M514 267h0M595 265h0M557 276h0M563 267h0M548 279h0M549 263h0M571 276h0M549 273h0M601 262h0M584 276h0M576 264h0M542 275h0M579 267h0M594 265h0M589 264h0M559 281h0M553 265h0M544 270h0M542 270h0M530 278h0M527 271h0M570 270h0M562 267h0M587 266h0M583 268h0M557 269h0M585 279h0M610 261h0M590 275h0M557 263h0M575 277h0M617 263h0M545 263h0M530 267h0M582 277h0M584 272h0M564 263h0M540 275h0M544 270h0M599 276h0M587 277h0M588 273h0M598 275h0M597 261h0M569 274h0M571 275h0M584 275h0M572 275h0M606 268h0M569 279h0M568 263h0M545 283h0M575 270h0M563 274h0M542 275h0M528 282h0M585 273h0M582 274h0M589 268h0M573 268h0M568 263h0M581 266h0M571 273h0M537 280h0M583 267h0M608 269h0M557 264h0M542 268h0M579 263h0M570 275h0M592 260h0M562 277h0M586 271h0M544 263h0M570 262h0M547 280h0M528 275h0M546 273h0M556 278h0M539 269h0M529 275h0M584 272h0M560 271h0M555 266h0M565 275h0M591 275h0M565 277h0M596 274h0M587 270h0M555 274h0M566 276h0M556 260h0M590 263h0M570 280h0M580 264h0M565 269h0M564 268h0M553 281h0M566 262h0M570 268h0M589 265h0M601 281h0M583 272h0M582 274h0M561 265h0M552 282h0M530 280h0M563 263h0M599 265h0M586 267h0M542 270h0M582 280h0M549 270h0M588 279h0M595 272h0M585 269h0M562 271h0M563 263h0M560 272h0M548 277h0M548 264h0M568 279h0M569 271h0M493 271h0M584 271h0M596 262h0M533 275h0M576 266h0M578 268h0M592 264h0M565 266h0M588 277h0M583 274h0M556 263h0M582 263h0M569 272h0M565 281h0M573 267h0M523 271h0M589 272h0M559 262h0M568 273h0M567 281h0M546 275h0M559 264h0M565 274h0M553 282h0M557 264h0M546 271h0M546 266h0M592 266h0M597 272h0M569 270h0M590 266h0M581 279h0M551 270h0M587 268h0M489 281h0M585 264h0M544 269h0M599 276h0M573 270h0"/><path id="p231" d="M514 355h0M515 353h0M476 352h0M475 353h0M493 354h0M520 353h0M509 352h0M497 354h0M518 354h0M505 352h0M547 351h0M531 353h0M519 353h0M513 354h0M482 352h0M551 355h0M530 352h0M532 354h0M538 354h0M485 354h0M529 354h0M539 356h0M480 352h0"/><path id="p232" d="M552 289h0M560 286h0M547 288h0M569 288h0M561 288h0M536 286h0M563 287h0M551 285h0M543 286h0M532 286h0M555 286h0M565 287h0M535 289h0M569 288h0M584 288h0M577 287h0M557 287h0M549 288h0M544 285h0M567 287h0M587 286h0"/><path id="p233" d="M549 260h0M541 262h0M559 261h0M585 260h0M549 261h0M589 259h0M521 261h0M568 260h0M601 259h0M572 260h0M571 260h0M584 259h0M609 259h0M614 260h0M578 257h0M598 262h0M588 257h0M581 261h0M563 260h0M594 258h0M535 260h0M616 261h0M619 259h0M595 258h0M558 259h0M601 259h0M582 258h0M556 262h0M554 257h0M533 259h0M594 260h0M594 260h0M590 260h0M598 261h0M569 260h0M546 259h0M566 257h0M542 258h0M561 262h0M561 258h0M536 259h0M593 258h0M575 258h0M586 261h0M632 258h0M591 258h0M601 259h0M580 257h0M575 258h0M578 256h0M590 260h0M596 260h0"/><path id="p234" d="M533 310h0M558 310h0M553 309h0M540 311h0M563 310h0M548 311h0"/><path id="p235" d="M532 307h0M475 308h0M543 308h0M556 309h0"/><path id="p236" d="M565 287h0M578 288h0M542 288h0M558 288h0M554 289h0M578 287h0M521 289h0M588 287h0"/><path id="p237" d="M518 307h0M579 309h0M546 305h0"/><path id="p238" d="M504 314h0M519 316h0M553 315h0M559 312h0M538 314h0"/><path id="p239" d="M543 294h0M566 293h0"/><path id="p240" d="M686 133h0M698 136h0M717 132h0M709 130h0M705 136h0M699 133h0M713 132h0M696 135h0M717 133h0M706 132h0M701 136h0M712 135h0M697 138h0M713 133h0M697 133h0M697 137h0M737 135h0M704 139h0M718 133h0M714 131h0M693 135h0M707 131h0M719 132h0M685 138h0M682 131h0M725 135h0M702 128h0M719 131h0"/><path id="p241" d="M513 307h0M512 305h0M508 304h0M512 307h0M536 304h0M555 305h0M557 306h0M527 304h0M516 304h0M549 307h0M556 305h0"/><path id="p242" d="M503 311h0M492 313h0M531 312h0M544 312h0M544 313h0M527 313h0M593 311h0"/><path id="p243" d="M480 313h0M468 311h0M519 314h0M543 311h0M489 314h0M530 314h0M523 312h0M535 312h0M558 313h0M545 312h0M521 314h0M558 315h0M537 312h0"/><path id="p244" d="M555 273h0M569 264h0M594 262h0M589 262h0M564 276h0M539 266h0M557 273h0M575 277h0M555 279h0M554 263h0M531 265h0M576 270h0M600 269h0M552 267h0M559 268h0M577 262h0M581 267h0M543 272h0M524 270h0M578 266h0M578 275h0M591 265h0M584 264h0M603 271h0M591 274h0M569 267h0M603 267h0M570 263h0M541 269h0M554 263h0M542 270h0M602 267h0M552 265h0M539 277h0M607 270h0M563 265h0M543 280h0M556 277h0M561 265h0M560 266h0M573 269h0M618 275h0M563 274h0M604 272h0M567 269h0M588 270h0M568 279h0M595 276h0M526 273h0M588 279h0M531 278h0M590 268h0M563 263h0M557 279h0M563 272h0M539 279h0M545 279h0M561 279h0M548 268h0M549 263h0M582 267h0M554 276h0M621 262h0M596 270h0M601 270h0M532 277h0M513 280h0M564 280h0M609 266h0M573 274h0M582 274h0M620 279h0M547 265h0M575 262h0M582 269h0M544 262h0M536 267h0M549 281h0M527 273h0M572 280h0M558 265h0M567 266h0M552 263h0M589 262h0M558 272h0M613 270h0M548 272h0M570 271h0M587 280h0M578 282h0M574 269h0M553 263h0M609 271h0M600 277h0M580 262h0M571 264h0M590 275h0M540 270h0M582 265h0M590 274h0M552 268h0M562 279h0M586 267h0M608 275h0M573 282h0M543 264h0M590 263h0M590 273h0M584 277h0M583 276h0M553 260h0M589 277h0M565 277h0M570 270h0M578 274h0M547 278h0M590 267h0M550 268h0M586 268h0M566 277h0M570 267h0M571 260h0M579 262h0M547 279h0M533 276h0M587 263h0M516 275h0M578 267h0M578 277h0M562 279h0M585 276h0M564 262h0M587 275h0M581 267h0M578 266h0M574 281h0M563 265h0M567 270h0M562 274h0M557 260h0M599 263h0M526 273h0M580 274h0M547 267h0M566 269h0M524 268h0M572 264h0M614 270h0M587 280h0M590 271h0M539 264h0M584 269h0M581 272h0M561 279h0M531 268h0M617 266h0M573 277h0M550 273h0M531 265h0M530 263h0M585 281h0M559 276h0M557 276h0M573 264h0M574 278h0M575 280h0M579 276h0M569 268h0M549 266h0M554 274h0M546 274h0M572 261h0M592 270h0M613 266h0M588 271h0M556 273h0M565 276h0M614 264h0M564 272h0M561 266h0M551 276h0M579 271h0M633 263h0M585 267h0M602 272h0M573 260h0M601 266h0M588 264h0M601 280h0M546 274h0M574 274h0M566 265h0M598 264h0M594 273h0M572 264h0M571 266h0M561 273h0M565 272h0M569 281h0M559 271h0M566 270h0M587 279h0M564 267h0M576 280h0M562 273h0M542 271h0M513 272h0M550 278h0M575 272h0M593 273h0M565 274h0M618 262h0M581 266h0M518 268h0M566 273h0M602 269h0M548 265h0M584 270h0M548 273h0M545 263h0M567 264h0M551 278h0M591 268h0M575 267h0M583 274h0M574 263h0M583 276h0M606 264h0M599 266h0M605 266h0M569 271h0M597 277h0M602 270h0M587 266h0M544 273h0M538 270h0M597 268h0M603 277h0M515 276h0M590 266h0M511 272h0M594 269h0M550 271h0M583 264h0M577 271h0M569 280h0M609 268h0M543 261h0M553 271h0M566 276h0M584 268h0M588 282h0M571 264h0M544 274h0M520 273h0M547 267h0M515 269h0M541 281h0M555 263h0M562 274h0M541 277h0M564 277h0M544 271h0M602 264h0M579 272h0M562 275h0M570 271h0M564 272h0M568 273h0M564 282h0M598 272h0M572 278h0M557 273h0M545 282h0M549 274h0M569 271h0M525 278h0M565 277h0M538 270h0M566 276h0M572 271h0M554 275h0M577 268h0"/><path id="p245" d="M627 230h0M609 230h0M634 224h0M599 230h0M636 228h0M615 228h0M579 230h0M596 229h0M616 223h0M622 225h0M571 231h0M628 229h0M606 230h0M609 228h0M611 229h0M580 230h0M588 232h0M595 224h0M623 225h0M594 227h0M567 231h0M630 225h0M607 229h0M601 224h0M581 229h0M586 230h0M588 226h0M604 226h0M606 231h0M614 228h0M565 225h0M600 229h0M585 227h0M632 224h0M579 230h0M615 224h0M609 229h0M603 232h0M590 226h0M612 227h0M621 231h0M588 232h0M606 231h0M620 228h0M625 228h0M614 225h0M591 224h0M600 226h0M614 226h0M611 228h0M609 230h0M603 230h0M612 230h0M606 227h0M582 230h0M603 229h0M619 230h0M608 229h0M598 230h0M624 227h0M575 230h0M630 225h0M597 231h0M609 230h0M593 231h0M623 230h0M610 227h0M624 228h0M632 228h0M625 227h0M618 225h0M614 223h0M625 230h0M631 230h0M615 233h0M620 229h0M607 229h0M618 230h0M616 228h0M621 224h0M631 227h0M586 233h0M634 227h0M618 230h0M594 226h0M622 225h0M622 227h0M605 228h0M571 224h0M639 228h0M629 228h0M588 225h0M588 225h0M607 228h0M611 224h0M638 225h0M595 227h0M638 224h0M599 232h0M631 232h0M624 229h0M623 230h0M619 225h0M621 228h0M609 227h0M594 224h0M601 227h0M599 228h0M629 226h0M579 230h0M620 230h0M609 225h0M628 223h0M607 232h0"/><path id="p246" d="M549 305h0M523 305h0M545 307h0M526 306h0M534 306h0M556 305h0M575 304h0M583 304h0"/><path id="p247" d="M585 290h0M547 291h0M570 290h0M521 292h0M552 289h0M554 289h0M524 289h0M557 287h0M525 290h0M554 289h0M541 292h0M570 290h0M559 291h0M559 290h0M566 292h0M561 293h0M571 289h0M586 291h0M557 290h0M556 289h0M563 290h0M584 290h0M554 292h0M538 291h0M535 290h0M539 290h0M595 291h0M563 287h0M608 292h0M522 293h0M538 289h0M547 289h0M589 289h0"/><path id="p248" d="M667 177h0M665 175h0M670 181h0M685 182h0M690 178h0M654 181h0M657 180h0M657 179h0M645 180h0M676 176h0M635 176h0M670 182h0M654 181h0M674 182h0M690 175h0M670 178h0M672 180h0M645 179h0M682 182h0M654 177h0M663 182h0M680 176h0M628 180h0M654 184h0M660 183h0M680 181h0M659 179h0M679 176h0M663 176h0M692 183h0M665 178h0M689 185h0M644 183h0M645 178h0M654 186h0M644 187h0M662 180h0M644 184h0M652 182h0M651 184h0M676 180h0M675 175h0M648 176h0M656 182h0M681 174h0M637 180h0M662 178h0M650 181h0M674 184h0M672 179h0M672 175h0M653 179h0M677 179h0M628 183h0M668 180h0M657 178h0M648 182h0M680 178h0M666 178h0M663 183h0M670 180h0M674 180h0M655 182h0M646 182h0M656 182h0M638 179h0M685 183h0M676 179h0M649 186h0M655 184h0M632 187h0M652 178h0M681 180h0M638 183h0M641 182h0M653 181h0M653 175h0M664 177h0M609 184h0M684 183h0M634 185h0M667 177h0M678 176h0M640 183h0M655 184h0M650 177h0M655 181h0M636 179h0M635 184h0M652 182h0M664 177h0M640 184h0M652 182h0M625 186h0M671 181h0"/><path id="p249" d="M575 302h0M602 301h0M581 304h0"/><path id="p250" d="M592 252h0M601 247h0M570 252h0M590 247h0M569 248h0M593 247h0M580 251h0M617 247h0M567 250h0M605 247h0M602 248h0M624 247h0M580 254h0M617 253h0M577 247h0M570 247h0M607 250h0M600 251h0M535 250h0M606 248h0M612 252h0M587 250h0M598 249h0M545 252h0M557 245h0M606 248h0M606 248h0M579 252h0M588 251h0M597 249h0M587 246h0M615 251h0M623 247h0M592 250h0M557 249h0M558 252h0M589 249h0M571 250h0M553 249h0M573 249h0M596 251h0M598 249h0M613 253h0M591 249h0M589 249h0M596 247h0M583 251h0M589 250h0M622 245h0M568 250h0M573 250h0M581 248h0M589 250h0M598 252h0M600 253h0M588 246h0M573 250h0M610 253h0M642 247h0M578 252h0M547 249h0M587 247h0M594 252h0M539 248h0M605 249h0M589 249h0M581 247h0M597 249h0M593 250h0M568 249h0M592 249h0M610 247h0M576 248h0M568 249h0M564 250h0M558 249h0M562 248h0M602 251h0M592 250h0M561 248h0"/><path id="p251" d="M562 287h0M603 287h0M518 288h0M566 287h0M554 285h0M527 287h0M564 285h0M556 289h0M545 286h0M583 288h0M538 286h0M592 288h0M541 286h0M556 285h0M570 286h0M615 288h0M554 286h0M530 288h0M589 288h0M577 285h0M539 287h0M538 288h0M541 286h0M547 289h0M566 288h0M576 287h0M547 285h0"/><path id="p252" d="M689 145h0M688 153h0M688 152h0M691 150h0M673 150h0M679 148h0M690 147h0M688 150h0M665 153h0M709 146h0M692 152h0M693 149h0M690 151h0M691 154h0M667 154h0M674 151h0M665 150h0M701 154h0M698 153h0M695 154h0M696 153h0M690 151h0M676 150h0M679 154h0M676 149h0M688 157h0M700 150h0M676 151h0M704 151h0M689 156h0M704 155h0M656 156h0M694 152h0M692 154h0M703 150h0M690 154h0M682 155h0M704 154h0M664 151h0M682 151h0M700 154h0M680 154h0M692 148h0M693 155h0M715 151h0M669 154h0M706 151h0M696 151h0M671 148h0M674 152h0M696 153h0M683 151h0"/><path id="p253" d="M582 252h0M583 256h0M591 255h0M579 252h0M592 255h0M578 259h0M557 254h0M601 251h0M587 257h0M571 257h0M588 257h0M609 256h0M571 251h0M532 259h0M574 257h0M611 258h0M547 256h0M589 256h0M594 256h0M570 256h0M548 258h0M588 258h0M567 253h0M588 257h0M564 255h0M580 254h0M569 257h0M559 254h0M601 256h0M578 252h0M594 255h0M630 256h0M573 258h0M600 257h0M597 254h0M610 256h0M544 256h0M589 255h0M606 252h0M553 255h0M671 257h0M567 255h0M611 255h0M588 254h0M580 254h0M580 257h0M560 253h0M597 255h0M571 252h0M560 252h0M551 253h0M567 255h0M585 256h0M588 257h0M615 251h0M541 254h0M551 254h0M619 254h0M597 255h0M599 254h0M604 255h0M567 255h0M552 257h0M553 254h0M610 257h0M572 251h0M554 258h0M565 254h0M553 258h0M568 258h0M601 255h0M617 254h0M589 258h0M591 254h0M576 251h0M556 257h0M604 253h0M551 256h0M575 260h0M597 253h0"/><path id="p254" d="M550 313h0M543 314h0M539 312h0M511 314h0M500 313h0M536 313h0M561 310h0M529 312h0M550 311h0M538 311h0M541 310h0M529 312h0M573 312h0M529 313h0M499 312h0"/><path id="p255" d="M492 293h0M547 293h0M592 294h0"/><path id="p256" d="M737 97h0M740 96h0M747 99h0M740 96h0M744 100h0M746 95h0M739 99h0M740 96h0M739 96h0M730 99h0M717 95h0M732 96h0M735 100h0M741 95h0M744 97h0M740 98h0M739 97h0M733 95h0M721 101h0M744 95h0"/><path id="p257" d="M538 303h0M529 305h0M582 303h0M571 302h0M568 305h0M544 304h0M550 305h0M568 304h0"/><path id="p258" d="M597 200h0M620 202h0M616 206h0M638 199h0M633 198h0M631 206h0M611 205h0M632 206h0M644 206h0M622 199h0M625 201h0M675 204h0M635 203h0M610 207h0M606 196h0M642 204h0M651 197h0M631 207h0M637 198h0M656 200h0M656 197h0M652 203h0M622 204h0M636 199h0M665 201h0M639 202h0M620 203h0M652 204h0M646 195h0M619 205h0M628 205h0M648 202h0M588 200h0M630 195h0M645 204h0M650 201h0M636 203h0M646 203h0M626 204h0M616 202h0M615 199h0M663 202h0M644 196h0M614 199h0M627 208h0M667 202h0M650 199h0M617 201h0M645 205h0M625 202h0M631 200h0M642 198h0M645 207h0M631 204h0M630 205h0M649 204h0M617 204h0M629 199h0M605 197h0M654 201h0M628 205h0M648 204h0M629 201h0M640 201h0M612 202h0M614 201h0M630 204h0M641 199h0M619 207h0M652 196h0M626 205h0M656 201h0M662 196h0M673 202h0M620 202h0M623 205h0M645 202h0M649 202h0M652 201h0M646 200h0M611 199h0M679 204h0M632 198h0M631 198h0M627 198h0M606 201h0M623 204h0M611 198h0M618 202h0M631 205h0M650 198h0M629 205h0M620 200h0M653 207h0M635 198h0M638 204h0"/><path id="p259" d="M532 316h0M513 314h0M500 315h0M597 315h0"/><path id="p260" d="M723 122h0M698 121h0M722 123h0M719 123h0"/><path id="p261" d="M515 310h0M531 310h0M527 309h0M586 311h0M552 310h0M561 311h0"/><path id="p262" d="M649 212h0M626 216h0M608 216h0M615 216h0M647 207h0M606 216h0M623 214h0M613 208h0M646 213h0M597 208h0M612 213h0M662 214h0M624 215h0M601 217h0M623 209h0M579 209h0M646 207h0M644 207h0M625 208h0M612 214h0M622 213h0M643 211h0M613 207h0M614 208h0M602 208h0M627 209h0M614 215h0M613 216h0M622 209h0M602 212h0M600 214h0M633 210h0M650 213h0M651 217h0M630 210h0M624 216h0M606 207h0M682 215h0M633 207h0M629 212h0M622 212h0M658 212h0M612 206h0M632 211h0M596 211h0M635 215h0M635 208h0M625 217h0M614 210h0M630 213h0M616 213h0M612 208h0M599 217h0M602 213h0M617 213h0M625 215h0M588 217h0M608 212h0M598 212h0M641 213h0M594 214h0M602 211h0M621 214h0M644 212h0M658 207h0M639 218h0M634 209h0M626 214h0M612 214h0M625 208h0M650 213h0M613 213h0M625 214h0M613 217h0M608 217h0M569 209h0M622 216h0M660 211h0M623 209h0M651 211h0M633 206h0M619 214h0M633 209h0M616 211h0M650 213h0M615 215h0M661 209h0M608 218h0M634 209h0M632 215h0M615 208h0M609 208h0M581 215h0M621 205h0M613 211h0M610 215h0M605 214h0M607 211h0M532 212h0M590 215h0M610 216h0M651 215h0M605 210h0M646 207h0M658 207h0M613 207h0M576 217h0M632 217h0M602 208h0M590 210h0M658 217h0M626 206h0"/><path id="p263" d="M668 155h0M686 155h0M652 157h0M685 157h0M677 154h0M670 157h0M659 158h0M691 156h0M691 157h0M691 155h0M681 156h0M695 158h0"/><path id="p264" d="M504 308h0M505 309h0M502 308h0M534 309h0M546 308h0M525 308h0M538 308h0M538 309h0M542 308h0M577 308h0M560 309h0M550 309h0"/><path id="p265" d="M558 300h0M539 301h0M510 299h0M546 300h0M561 301h0M565 299h0M565 301h0M569 300h0"/><path id="p266" d="M589 287h0M565 285h0M579 285h0M566 286h0M592 285h0M577 285h0M553 286h0M568 286h0M535 286h0M571 287h0M591 285h0M576 284h0M568 285h0M606 286h0M585 284h0M590 286h0M573 284h0M534 286h0M563 286h0M540 285h0M527 287h0"/><path id="p267" d="M527 309h0M518 310h0M560 312h0M502 310h0M523 313h0M564 311h0M538 312h0"/><path id="p268" d="M556 298h0"/><path id="p269" d="M592 222h0M612 221h0M613 217h0M630 220h0M606 220h0M636 223h0M614 220h0M619 223h0M601 221h0M629 217h0M643 216h0M630 219h0M648 223h0M625 221h0M622 219h0M630 222h0M628 224h0M596 217h0M593 222h0M631 218h0M628 218h0M626 217h0M587 219h0M639 220h0M628 223h0M584 224h0M622 224h0M615 221h0M623 223h0M592 220h0M604 217h0M576 224h0M646 221h0M628 220h0M595 217h0M616 220h0M611 224h0M652 221h0M607 220h0M602 221h0M634 222h0M599 223h0M596 217h0M600 222h0M617 222h0M617 221h0M627 224h0M616 222h0M622 221h0M616 222h0M630 218h0M641 219h0M559 223h0M625 221h0M600 220h0M618 223h0M645 216h0M630 220h0M630 220h0M609 217h0M570 221h0M616 222h0M609 225h0M613 224h0M602 222h0M588 220h0M581 220h0M639 218h0M642 222h0M636 222h0M600 220h0M603 216h0M598 219h0M630 220h0M626 225h0M613 220h0M627 217h0M615 220h0M628 218h0M614 218h0M614 220h0M614 222h0M601 221h0M622 222h0M600 225h0M607 219h0M630 218h0"/><path id="p270" d="M556 299h0M583 296h0M550 298h0M562 298h0M572 294h0M541 298h0M523 299h0M559 297h0M508 296h0"/><path id="p271" d="M518 302h0M508 303h0M569 303h0M543 299h0M547 303h0M564 301h0M548 302h0M550 303h0"/><path id="p272" d="M548 298h0M519 298h0M561 297h0"/><path id="p273" d="M541 302h0M554 299h0"/><path id="p274" d="M553 295h0"/><path id="p275" d="M515 308h0"/><path id="p276" d="M475 320h0M506 318h0M537 319h0M527 319h0M497 320h0M533 320h0M491 320h0M524 317h0M537 319h0M532 319h0M526 318h0M534 318h0M497 318h0"/><path id="p277" d="M561 301h0M562 299h0M565 301h0M582 299h0M515 299h0"/><path id="p278" d="M527 295h0M554 296h0M544 295h0M562 296h0M560 294h0M544 294h0M513 295h0M563 297h0M530 293h0M515 297h0M543 297h0M582 296h0M554 296h0M560 297h0M579 295h0M537 293h0"/><path id="p279" d="M707 125h0M706 130h0M691 128h0M714 130h0M701 125h0M709 124h0M726 126h0M691 129h0M722 123h0M716 128h0M714 128h0M699 127h0M704 126h0M700 130h0M712 126h0M722 126h0M682 128h0M694 127h0M701 128h0M704 127h0M726 125h0M711 128h0M719 124h0M717 123h0M724 122h0M713 126h0M701 128h0M717 128h0M726 126h0M701 128h0M719 127h0M706 126h0"/><path id="p280" d="M562 294h0M573 291h0M551 292h0"/><path id="p281" d="M558 316h0"/><path id="p282" d="M510 299h0M560 297h0M528 298h0M543 299h0M544 297h0M568 296h0M532 299h0M573 297h0"/><path id="p283" d="M725 101h0M751 100h0M728 107h0M742 99h0M742 102h0M723 105h0M741 101h0M671 106h0M729 107h0M722 106h0M730 106h0M730 103h0M726 102h0M716 106h0M728 107h0M739 106h0M736 106h0M724 105h0M732 104h0M716 104h0M721 105h0M730 104h0"/><path id="p284" d="M570 300h0M561 301h0M502 297h0"/><path id="p285" d="M559 303h0M493 303h0M564 300h0M543 303h0"/><path id="p286" d="M521 297h0M556 296h0M577 295h0M548 294h0M521 297h0M555 297h0"/><path id="p287" d="M700 146h0M692 143h0M687 138h0M701 145h0M668 142h0M706 140h0M694 144h0M717 138h0M675 147h0M685 148h0M693 146h0M709 143h0M703 145h0M705 144h0M689 140h0M684 144h0M690 142h0M710 147h0M698 145h0M701 139h0M707 146h0M694 142h0M707 137h0M683 146h0M702 141h0M696 137h0M713 145h0M699 139h0M668 147h0M698 147h0M683 142h0M713 139h0M677 136h0M684 140h0M668 146h0M673 140h0M689 139h0M661 141h0M697 136h0M697 142h0M692 141h0M701 149h0M704 146h0M715 143h0M672 144h0M692 137h0M706 141h0M681 140h0M648 139h0M671 144h0M682 141h0M682 146h0M704 143h0M677 147h0M699 144h0M712 140h0M720 142h0M713 143h0M694 147h0M713 142h0M686 139h0M696 144h0M697 145h0M689 142h0M714 140h0"/><path id="p288" d="M699 120h0M716 117h0M723 119h0M714 115h0M712 121h0M702 117h0M717 119h0M718 123h0M696 118h0M732 116h0M703 117h0M711 116h0M726 117h0M729 118h0M720 117h0M714 115h0M708 116h0M742 118h0"/><path id="p289" d="M542 307h0M529 305h0M573 307h0M527 307h0M546 306h0"/><path id="p290" d="M651 173h0M676 169h0M666 175h0M641 176h0M684 172h0M664 175h0M654 175h0M676 171h0M685 171h0M679 166h0M645 171h0M642 177h0M691 175h0M670 168h0M687 173h0M667 168h0M610 174h0M673 171h0M675 171h0M687 168h0M672 165h0M674 166h0M668 169h0M648 174h0M663 168h0M664 169h0M666 170h0M686 174h0M656 173h0M681 171h0M650 175h0M692 168h0M673 171h0M663 175h0M668 177h0M675 173h0M656 171h0M651 169h0M669 170h0M666 174h0M659 170h0M680 171h0M674 168h0M666 170h0M667 168h0M681 172h0M662 169h0M651 171h0M663 171h0M685 165h0M659 169h0M681 173h0M668 170h0M637 169h0M660 166h0M663 166h0M649 177h0M699 168h0M644 173h0M651 169h0M661 174h0M672 174h0M688 170h0M656 167h0M626 172h0M653 177h0M632 172h0M652 169h0M674 172h0M677 170h0M688 169h0M675 170h0M700 176h0M616 170h0M651 171h0M655 172h0M667 173h0M677 169h0M676 173h0M640 173h0M659 172h0M654 168h0M641 171h0M647 170h0M660 168h0M681 172h0M675 167h0"/><path id="p291" d="M653 190h0M625 190h0M600 192h0M650 188h0M651 189h0M675 191h0M644 187h0M630 197h0M652 187h0M648 196h0M653 192h0M654 189h0M651 191h0M641 191h0M667 191h0M646 191h0M633 189h0M657 192h0M621 188h0M655 186h0M571 190h0M658 190h0M624 189h0M644 192h0M647 188h0M631 187h0M632 192h0M682 193h0M645 189h0M641 194h0M656 190h0M637 191h0M627 190h0M642 192h0M659 189h0M626 193h0M640 190h0M651 192h0M644 192h0M637 188h0M659 188h0M645 188h0M616 192h0M662 193h0M660 189h0M654 190h0M656 188h0M656 190h0M626 195h0M656 189h0M638 198h0M623 191h0M668 194h0M622 190h0M642 196h0M638 188h0M666 187h0M653 190h0M639 194h0M629 191h0M667 192h0M647 188h0M645 191h0M627 186h0M645 186h0M652 191h0M659 193h0M624 194h0M639 196h0M639 193h0M647 188h0M610 194h0M660 195h0M629 189h0M654 191h0M646 192h0M636 191h0M629 193h0M625 192h0M653 188h0M712 188h0M649 188h0M662 190h0M634 186h0M667 196h0M662 191h0M647 192h0M634 197h0M637 189h0M651 195h0M684 189h0M644 187h0M657 196h0M625 195h0M637 194h0M660 190h0M611 186h0M633 194h0M653 186h0"/><path id="p292" d="M576 231h0M606 233h0M617 238h0M578 233h0M593 236h0M580 235h0M579 238h0M578 238h0M595 233h0M589 236h0M598 235h0M603 236h0M612 237h0M570 234h0M570 236h0M637 234h0M599 240h0M584 240h0M598 238h0M604 235h0M636 233h0M619 231h0M617 235h0M591 233h0M602 238h0M617 239h0M555 233h0M592 237h0M605 236h0M639 234h0M598 237h0M634 238h0M590 241h0M587 233h0M584 239h0M582 231h0M581 237h0M602 236h0M610 232h0M598 239h0M582 233h0M586 232h0M605 234h0M608 234h0M624 237h0M608 233h0M636 237h0M611 233h0M594 235h0M622 236h0M610 232h0M621 236h0M612 236h0M621 232h0M611 234h0M605 240h0M613 238h0M594 237h0M625 237h0M636 233h0M592 234h0M586 236h0M600 238h0M577 237h0M572 233h0M597 233h0M602 232h0M591 235h0M611 240h0M607 240h0M588 235h0M578 235h0M596 235h0M614 230h0M595 232h0M582 236h0M644 232h0M609 236h0M600 234h0M633 231h0M627 231h0M589 233h0M604 235h0M611 237h0M567 233h0M619 234h0M636 236h0M601 232h0M605 239h0M598 238h0M616 240h0M595 235h0M605 233h0M591 239h0M607 237h0M621 238h0M600 239h0M584 236h0M611 235h0M586 239h0M620 234h0M616 240h0M591 233h0M622 237h0M570 237h0M625 235h0M626 240h0M536 232h0M606 233h0M606 237h0"/><path id="p293" d="M716 115h0M707 113h0M714 109h0M717 110h0M721 111h0M732 112h0M711 111h0M720 112h0M720 116h0M745 111h0M721 110h0M703 113h0M723 113h0M705 113h0M758 111h0M728 111h0M734 112h0"/><path id="p294" d="M534 313h0M509 314h0M522 315h0M509 313h0M543 315h0M545 315h0"/><path id="p295" d="M500 359h0M552 362h0M494 387h0M499 363h0M516 362h0M497 358h0M520 363h0M512 364h0M500 354h0M510 359h0M513 365h0M494 367h0M512 374h0M527 362h0M520 360h0M497 363h0M521 371h0M518 380h0M510 391h0M521 363h0M505 358h0M486 357h0M499 355h0M530 366h0M512 363h0M508 380h0M495 364h0M461 354h0M506 361h0M514 356h0M516 357h0M491 363h0M494 361h0M518 363h0M491 359h0M518 354h0M497 359h0M505 355h0M503 359h0M510 361h0M513 373h0M523 369h0M524 376h0M496 359h0M507 367h0M505 374h0M535 361h0M495 361h0M478 355h0M508 363h0M530 365h0M519 368h0M508 363h0M515 379h0M488 371h0M498 354h0M501 358h0M504 362h0M483 359h0M508 390h0M509 375h0M505 360h0M502 391h0M507 362h0M507 369h0M515 357h0M497 363h0M522 381h0M517 363h0M516 354h0M520 363h0M513 361h0M505 367h0M536 361h0M527 363h0M508 356h0M544 358h0M518 384h0M519 378h0M493 367h0M540 356h0M501 378h0M519 375h0M504 373h0M515 370h0M542 361h0M485 357h0M507 355h0M472 370h0M491 372h0M507 364h0M514 367h0M508 367h0M522 376h0M502 357h0M520 375h0M514 366h0M521 361h0M517 374h0M541 359h0M526 360h0M575 355h0M502 353h0M494 364h0M525 358h0M502 376h0M624 375h0M596 366h0M593 376h0M627 372h0M617 383h0"/><path id="p296" d="M747 92h0M751 94h0M734 94h0M724 94h0M741 90h0M741 92h0"/><path id="p297" d="M555 318h0M512 318h0M555 316h0M524 318h0M510 318h0M541 319h0M558 319h0M511 320h0"/><path id="p298" d="M554 299h0M554 300h0"/><path id="p299" d="M545 302h0M542 300h0M560 300h0M526 300h0M562 299h0M566 300h0"/><path id="p300" d="M517 289h0M529 289h0M542 290h0M531 288h0M577 290h0"/><path id="p301" d="M543 281h0M541 282h0M559 283h0M547 285h0M544 282h0M568 285h0M534 282h0M576 282h0M539 281h0M576 282h0M556 282h0M562 283h0M576 284h0M575 280h0M530 285h0M561 282h0M552 282h0M583 284h0M572 282h0M583 283h0M590 281h0M546 280h0M572 284h0M492 283h0M594 283h0M545 283h0M520 282h0M563 281h0M560 280h0M541 283h0M534 281h0M576 284h0M573 281h0M586 281h0M578 283h0M589 281h0M576 282h0M585 283h0M562 284h0M549 282h0M566 283h0M559 285h0M541 285h0M578 282h0M533 285h0M564 285h0M510 285h0M567 281h0M557 284h0M580 285h0"/><path id="p302" d="M492 356h0M479 353h0M521 354h0M509 354h0M537 351h0M528 354h0M495 352h0M502 355h0M545 353h0M486 354h0M514 353h0M514 352h0M515 354h0M501 354h0M539 351h0M544 356h0M651 353h0M581 353h0"/><path id="p303" d="M502 306h0M555 309h0M574 307h0M535 308h0M530 308h0M534 307h0M587 308h0"/><path id="p304" d="M755 83h0M758 88h0M747 86h0M753 82h0M757 82h0M730 91h0M741 88h0M743 85h0M750 89h0M743 85h0M746 84h0M743 87h0M760 82h0M758 82h0M744 86h0M724 88h0M752 84h0M741 85h0M753 87h0M754 79h0M756 91h0M746 80h0M731 88h0"/><path id="p305" d="M549 294h0M516 292h0M548 291h0M566 292h0M566 292h0M606 293h0"/><path id="p306" d="M507 308h0M506 309h0M517 308h0"/><path id="p307" d="M758 78h0M764 70h0M744 78h0M750 74h0M751 73h0"/><path id="p308" d="M635 242h0M616 246h0M570 241h0M588 242h0M589 247h0M609 242h0M606 244h0M587 245h0M563 244h0M586 240h0M623 240h0M604 245h0M592 244h0M590 245h0M614 246h0M611 239h0M597 239h0M602 242h0M587 243h0M592 245h0M587 244h0M591 241h0M600 243h0M538 246h0M570 246h0M632 239h0M577 244h0M620 245h0M594 242h0M624 243h0M579 244h0M627 243h0M593 245h0M595 244h0M607 240h0M612 244h0M558 244h0M585 247h0M573 246h0M612 239h0M629 246h0M606 247h0M575 238h0M595 241h0M612 241h0M601 241h0M592 245h0M587 244h0M605 243h0M548 246h0M571 245h0M591 245h0M605 243h0M594 240h0M547 241h0M629 242h0M619 244h0M590 243h0M613 245h0M596 240h0M613 246h0M596 242h0M607 245h0M606 242h0M600 243h0M597 246h0M553 245h0M584 244h0M590 247h0M603 244h0M561 242h0M567 241h0M588 246h0M568 243h0M611 241h0M595 248h0M589 244h0M609 241h0M572 245h0M640 239h0M595 243h0M620 240h0M607 248h0M567 245h0M590 241h0M602 242h0M609 241h0M605 242h0M594 243h0M582 241h0M583 245h0M604 244h0M562 245h0M575 243h0M619 245h0M619 242h0M622 243h0M602 243h0M574 239h0M589 239h0M571 241h0M603 244h0M597 247h0M623 242h0"/><path id="p309" d="M594 261h0M591 263h0M581 258h0M577 260h0M606 261h0M547 261h0M588 261h0M555 261h0M621 262h0M561 260h0M574 260h0M528 261h0M549 259h0M582 262h0M567 258h0M586 262h0M575 263h0M599 257h0M541 259h0M548 262h0M545 260h0M611 259h0M597 257h0M550 261h0M596 261h0M574 260h0M600 259h0M546 259h0M591 257h0M627 260h0M607 259h0M560 260h0M602 260h0M572 257h0M603 258h0M589 259h0M588 260h0"/><path id="p310" d="M574 294h0"/><path id="p311" d="M666 167h0M655 157h0M655 163h0M649 163h0M695 165h0M679 158h0M659 166h0M665 158h0M685 159h0M671 162h0M623 161h0M677 157h0M667 158h0M673 166h0M665 168h0M676 164h0M693 162h0M684 164h0M655 159h0M669 158h0M672 159h0M663 166h0M683 165h0M665 166h0M657 164h0M684 166h0M673 160h0M669 158h0M678 161h0M698 163h0M659 162h0M686 164h0M676 164h0M694 165h0M662 161h0M670 158h0M667 159h0M667 161h0M649 156h0M676 156h0M669 164h0M669 163h0M641 166h0M664 160h0M676 155h0M656 164h0M680 159h0M685 164h0M647 158h0M671 158h0M689 160h0M647 158h0M669 157h0M675 156h0M664 162h0M656 161h0M677 161h0M642 165h0M687 162h0M679 161h0M629 161h0M647 160h0M681 160h0M651 162h0M676 164h0M677 162h0M663 165h0M669 165h0M696 164h0M633 165h0M673 166h0M656 162h0M699 163h0"/><path id="p312" d="M506 315h0M502 316h0M500 316h0M542 316h0M552 315h0M521 317h0M502 315h0M553 314h0M500 315h0M574 314h0M572 318h0M578 317h0M528 316h0"/><path id="p313" d="M519 341h0M526 335h0M496 342h0M498 324h0M514 343h0M485 341h0M512 331h0M551 339h0M507 342h0M505 337h0M527 345h0M522 318h0M526 333h0M522 339h0M497 347h0M529 336h0M543 348h0M500 332h0M555 337h0M500 338h0M524 338h0M531 330h0M565 322h0M501 329h0M536 325h0M514 348h0M495 337h0M516 340h0M532 333h0M557 325h0M521 343h0M547 346h0M525 339h0M529 335h0M489 324h0M500 339h0M498 350h0M539 334h0M498 338h0M501 352h0M538 323h0M464 339h0M476 348h0M534 337h0M513 325h0M572 329h0M485 350h0M503 320h0M528 321h0M508 323h0M523 337h0M511 340h0M494 327h0M547 343h0M532 321h0M510 352h0M553 332h0M539 340h0M512 349h0M516 349h0M548 342h0M478 332h0M538 351h0M509 348h0M562 334h0M492 351h0M516 338h0M467 323h0M511 340h0M502 351h0M495 323h0M486 337h0M509 337h0M549 327h0M537 330h0M507 326h0M523 327h0M510 339h0M511 321h0M507 343h0M546 324h0M506 343h0M531 322h0M531 323h0M516 346h0M547 343h0M549 338h0M566 321h0M515 345h0M527 349h0M545 347h0M499 339h0M543 326h0M493 326h0M476 328h0M500 330h0M519 324h0M512 330h0M503 342h0M559 332h0M524 329h0M542 327h0M528 340h0M495 332h0M510 332h0M524 325h0M524 338h0M498 320h0M518 342h0M479 339h0M500 344h0M532 339h0M539 332h0M506 340h0M496 323h0M520 322h0M517 329h0M492 332h0M498 344h0M530 346h0M533 346h0M484 331h0M482 329h0M491 350h0M557 337h0M520 320h0M559 335h0M502 333h0M521 337h0M477 340h0M500 322h0M546 320h0M508 344h0M531 342h0M499 345h0M499 348h0M512 334h0M531 348h0M516 346h0M512 331h0M482 347h0M521 335h0M532 326h0M503 337h0M539 332h0M503 336h0M500 350h0M545 332h0M530 329h0M471 343h0M535 346h0M508 339h0M516 341h0M539 339h0M512 332h0M491 337h0M504 324h0M543 333h0M525 345h0M554 329h0M532 330h0M540 327h0M540 350h0M525 335h0M510 342h0M563 332h0M526 325h0M508 324h0M528 331h0M488 342h0M499 350h0M535 351h0M489 352h0M503 348h0M502 341h0M566 328h0M505 349h0M520 337h0M514 340h0M490 347h0M500 338h0M491 346h0M510 347h0M506 341h0M530 323h0M513 339h0M472 336h0M508 335h0M549 329h0M525 326h0M501 346h0M521 339h0M515 345h0M533 336h0M508 338h0M484 347h0M528 350h0M515 328h0M518 329h0M527 347h0M537 350h0M487 328h0M504 347h0M533 346h0M530 324h0M511 339h0M537 326h0M492 321h0M514 341h0M546 344h0M537 323h0M549 339h0M501 333h0M532 334h0M544 329h0M486 343h0M457 350h0M524 328h0M529 328h0M555 347h0M507 342h0M520 340h0M527 329h0M513 338h0M526 342h0M528 330h0M546 325h0M543 340h0M484 344h0M560 341h0M504 320h0M510 323h0M511 330h0M505 339h0M503 346h0M491 327h0M549 339h0M529 344h0M493 341h0M508 334h0M487 328h0M499 323h0M546 340h0M498 320h0M531 329h0M490 351h0M524 321h0M506 325h0M535 338h0M538 345h0M516 350h0M529 349h0M506 322h0M491 349h0M512 346h0M509 335h0M525 329h0M543 350h0M511 334h0M504 345h0M504 342h0M530 342h0M519 341h0M507 325h0M516 346h0M491 350h0M488 339h0M485 344h0M508 351h0M502 342h0M517 343h0M477 339h0M504 323h0M517 335h0M470 324h0M538 350h0M476 350h0M495 324h0M517 351h0M508 351h0M531 330h0M541 343h0M529 348h0M529 326h0M513 341h0M524 337h0M525 347h0M505 319h0M512 323h0M520 323h0M514 345h0M530 333h0M523 320h0M525 327h0M517 333h0M521 337h0M495 348h0M515 333h0M493 346h0M514 342h0M564 333h0M512 321h0M542 331h0M510 322h0M502 343h0M521 324h0M489 331h0M529 346h0M518 336h0M532 339h0M459 327h0M525 330h0M564 334h0M527 326h0M538 334h0M515 334h0M515 336h0M500 342h0M549 325h0M503 326h0M547 326h0M509 332h0M569 327h0M523 327h0M555 332h0M506 322h0M575 337h0M535 335h0M576 327h0M544 333h0M563 338h0M545 328h0M556 323h0M532 333h0M533 343h0M544 349h0M546 323h0M506 332h0M491 326h0M536 327h0M553 324h0M530 327h0M562 335h0M542 329h0M578 324h0M520 352h0M531 326h0M566 340h0M471 338h0M540 329h0M503 341h0M532 337h0M541 322h0M526 323h0M572 326h0M539 326h0M543 318h0M524 326h0M551 342h0M513 336h0M549 323h0M554 324h0M532 321h0M547 325h0M481 331h0M566 333h0M526 327h0M601 327h0M645 328h0"/><path id="p314" d="M520 292h0M557 291h0M528 292h0M541 290h0M568 293h0"/><path id="p315" d="M542 295h0M532 293h0M575 293h0M567 294h0M585 294h0"/><path id="p316" d="M560 307h0"/><path id="p317" d="M715 109h0M727 113h0M727 111h0M727 109h0M739 111h0M709 116h0M727 115h0M733 109h0M717 112h0M703 113h0M711 109h0M728 110h0M707 110h0M723 107h0M728 109h0M745 111h0M712 109h0M719 111h0M731 110h0M731 116h0M712 110h0M726 115h0M714 114h0M716 111h0M720 111h0M729 113h0"/><path id="p318" d="M611 224h0M646 230h0M613 231h0M601 228h0M607 229h0M626 224h0M562 230h0M594 230h0M582 226h0M626 228h0M597 226h0M600 231h0M594 228h0M593 231h0M598 227h0M623 227h0M596 228h0M623 227h0M615 227h0M620 231h0M600 230h0M608 230h0M594 229h0M630 224h0M632 232h0M600 228h0M630 228h0M568 231h0M612 223h0M618 232h0M635 226h0M625 225h0M583 225h0M604 228h0M604 231h0M636 225h0M605 231h0M600 229h0M572 228h0M627 225h0M609 223h0M597 227h0M629 225h0M626 231h0M608 228h0M585 230h0M608 230h0M619 229h0M558 228h0M633 226h0M617 224h0M628 226h0M598 226h0M613 227h0M625 228h0M598 228h0M622 225h0M594 231h0M602 226h0M665 232h0M623 229h0M649 231h0M595 232h0M625 230h0M519 225h0M611 226h0M620 227h0M616 227h0M612 232h0M625 226h0M611 229h0M633 227h0M631 229h0M605 226h0M594 223h0M618 230h0M604 226h0M583 226h0M644 224h0M621 231h0M610 228h0M628 228h0M603 225h0M618 230h0M602 229h0M639 230h0M601 226h0M582 230h0M597 227h0"/><path id="p319" d="M496 311h0M510 313h0M515 314h0M557 313h0M568 312h0M522 313h0"/><path id="p320" d="M528 317h0M517 316h0M548 317h0M565 318h0M511 317h0M498 316h0M530 318h0M529 316h0M543 314h0M544 315h0M547 315h0M502 317h0M576 317h0"/><path id="p321" d="M540 287h0M532 289h0M537 292h0M594 291h0M585 292h0M545 292h0M558 288h0M540 292h0M554 291h0M555 292h0M516 289h0M525 291h0M581 293h0M555 290h0M584 289h0M594 288h0M558 290h0M573 288h0M579 292h0M584 291h0M552 290h0M550 288h0M520 289h0M571 290h0M533 288h0M551 292h0M575 291h0M569 291h0M545 289h0M531 292h0M567 290h0M545 289h0M560 288h0M525 292h0M540 290h0M572 290h0"/><path id="p322" d="M544 309h0"/><path id="p323" d="M536 299h0M560 298h0"/><path id="p324" d="M579 260h0M614 260h0M557 261h0M623 261h0M567 259h0M534 260h0M654 258h0M570 259h0M581 259h0M598 259h0M523 262h0M602 259h0M601 259h0M593 261h0M586 258h0M594 260h0M596 260h0M576 261h0M593 259h0M549 260h0M557 258h0M594 262h0M612 260h0M605 262h0M598 259h0M593 258h0M561 261h0M579 258h0M579 257h0M584 259h0M549 262h0M553 260h0M540 258h0M566 260h0"/><path id="p325" d="M484 355h0M502 362h0M502 358h0M518 365h0M508 361h0M504 363h0M507 356h0M525 355h0M523 358h0M494 391h0M543 362h0M528 362h0M501 359h0M513 371h0M486 364h0M497 358h0M524 365h0M487 366h0M515 364h0M502 361h0M499 361h0M548 353h0M509 355h0M514 359h0M500 358h0M508 359h0M533 365h0M486 371h0M513 356h0M540 354h0M511 377h0M500 378h0M524 357h0M523 361h0M492 363h0M538 356h0M501 370h0M491 380h0M527 353h0M497 358h0M517 358h0M531 363h0M519 358h0M506 355h0M498 357h0M549 357h0M514 356h0M507 369h0M496 360h0M499 372h0M515 368h0M515 365h0M478 359h0M489 359h0M477 369h0M498 361h0M509 384h0M491 354h0M524 353h0M528 358h0M508 387h0M494 359h0M510 373h0M519 356h0M527 363h0M528 387h0M497 363h0M510 361h0M525 362h0M503 362h0M508 355h0M503 363h0M557 363h0M506 381h0M504 381h0M556 356h0M517 363h0M521 371h0M512 363h0M510 353h0M515 361h0M518 370h0M518 360h0M511 363h0M494 387h0M527 364h0M515 363h0M529 373h0M511 379h0M535 361h0M505 359h0M531 365h0M510 361h0M535 360h0M485 370h0M497 377h0M518 380h0M524 369h0M499 358h0M499 372h0M467 361h0M510 356h0M509 377h0M505 362h0M494 357h0M519 372h0M482 357h0M511 369h0M531 374h0M502 358h0M518 354h0M515 357h0M527 389h0M608 373h0M587 361h0"/><path id="p326" d="M494 312h0M504 308h0M515 307h0M536 310h0M531 309h0M546 309h0M532 307h0M555 307h0M578 308h0M573 309h0M570 310h0"/><path id="p327" d="M659 177h0M664 182h0M642 185h0M682 177h0M671 182h0M669 183h0M645 178h0M604 176h0M656 182h0M636 185h0M635 176h0M663 181h0M662 185h0M648 183h0M663 175h0M647 181h0M657 182h0M672 178h0M652 181h0M653 186h0M670 180h0M653 184h0M668 178h0M620 180h0M643 179h0M668 178h0M678 179h0M641 179h0M680 183h0M642 185h0M650 183h0M657 183h0M668 184h0M672 176h0M661 177h0M641 180h0M691 178h0M662 179h0M668 183h0M676 178h0M656 183h0M618 185h0M677 178h0M674 184h0M648 179h0M659 177h0M647 184h0M632 180h0M610 179h0M636 180h0M666 177h0M660 182h0M658 178h0M650 177h0M623 179h0M652 181h0M644 181h0M679 187h0M667 180h0M654 182h0M668 185h0M642 179h0M674 180h0M639 179h0M677 179h0M627 187h0M639 181h0M666 178h0M625 178h0M636 182h0M669 180h0M656 178h0M662 178h0M677 179h0M660 179h0M646 186h0M632 181h0M660 179h0M660 178h0M675 184h0M648 178h0M637 179h0M641 176h0M667 185h0M653 183h0M634 179h0M686 182h0M665 178h0M635 184h0M652 180h0M662 183h0M651 175h0M659 179h0"/><path id="p328" d="M502 306h0M502 310h0M547 307h0"/><path id="p329" d="M539 298h0M536 300h0M567 300h0M568 300h0M564 297h0M570 297h0"/><path id="p330" d="M647 157h0M669 157h0M678 157h0M688 157h0M664 156h0M657 155h0M665 155h0M684 157h0M687 157h0M694 157h0M694 155h0M674 157h0"/><path id="p331" d="M541 308h0M500 308h0M542 307h0M563 307h0M541 305h0M529 308h0"/><path id="p332" d="M542 301h0M556 302h0M563 300h0M592 302h0M549 303h0"/><path id="p333" d="M551 279h0M599 261h0M574 268h0M584 276h0M594 266h0M579 267h0M589 268h0M570 269h0M553 280h0M587 276h0M530 278h0M621 272h0M574 262h0M580 277h0M564 278h0M569 266h0M552 275h0M565 273h0M536 279h0M596 275h0M587 267h0M571 274h0M601 266h0M557 279h0M505 268h0M548 278h0M560 273h0M603 261h0M546 267h0M549 265h0M607 268h0M544 264h0M561 268h0M561 281h0M570 275h0M553 266h0M613 271h0M542 276h0M590 261h0M560 275h0M578 261h0M601 266h0M591 268h0M598 270h0M573 271h0M577 267h0M540 273h0M558 265h0M600 282h0M583 265h0M545 274h0M569 267h0M569 276h0M547 267h0M585 280h0M569 265h0M586 265h0M575 268h0M558 259h0M560 270h0M590 269h0M548 273h0M562 274h0M564 266h0M518 274h0M531 273h0M587 263h0M589 270h0M535 275h0M557 278h0M560 271h0M570 268h0M566 282h0M560 269h0M568 273h0M571 269h0M549 278h0M593 266h0M583 262h0M568 264h0M573 274h0M538 269h0M568 274h0M569 271h0M531 272h0M562 262h0M565 274h0M587 272h0M546 271h0M576 264h0M603 272h0M577 279h0M566 265h0M600 265h0M573 271h0M566 273h0M547 268h0M548 273h0M556 272h0M580 266h0M591 264h0M572 281h0M549 260h0M584 276h0M579 281h0M556 279h0M563 279h0M550 271h0M566 267h0M593 276h0M577 264h0M564 272h0M596 264h0M580 277h0M586 274h0M572 271h0M581 263h0M587 266h0M596 271h0M561 282h0M552 262h0M560 275h0M567 269h0M561 279h0M588 269h0M583 269h0M593 264h0M602 262h0M561 272h0M586 280h0M568 263h0M546 268h0M585 271h0M556 280h0M570 279h0M551 272h0M557 270h0M535 266h0M556 279h0M590 272h0M575 261h0M546 268h0M576 265h0M567 262h0M586 276h0M558 261h0M604 260h0M562 277h0M556 276h0M558 281h0M597 280h0M548 261h0M574 280h0M589 262h0M570 264h0M578 276h0M582 278h0M522 278h0M548 272h0M627 262h0M553 275h0M560 263h0M566 274h0M589 273h0M540 268h0M578 265h0M570 282h0M557 268h0M537 273h0M556 269h0M579 265h0M555 266h0M554 276h0M575 271h0M549 278h0M565 274h0M566 271h0M570 265h0M553 269h0M576 270h0M605 280h0M599 270h0M580 266h0M580 264h0M577 272h0M541 271h0M568 268h0M576 263h0M557 268h0M496 270h0M584 276h0M562 262h0M577 265h0M598 266h0M596 278h0M554 280h0M578 266h0M613 262h0M545 278h0M550 280h0M604 270h0M565 275h0M558 281h0M561 274h0M551 279h0M570 279h0M574 260h0M537 273h0M554 275h0M586 267h0M593 262h0M545 263h0M602 269h0M602 282h0M556 282h0M551 280h0M544 270h0M553 267h0M571 271h0M570 281h0M570 267h0M586 263h0M535 268h0M576 274h0M576 275h0M568 262h0M589 279h0M593 260h0M594 279h0M537 276h0M592 273h0M585 269h0M537 277h0M564 279h0M618 274h0M551 270h0M588 267h0M548 265h0M554 272h0M567 266h0M582 270h0M571 265h0M560 276h0M548 277h0M594 272h0M597 262h0M524 270h0M573 279h0M595 269h0M554 269h0M594 277h0M576 274h0M523 263h0M599 260h0M608 264h0M608 263h0M541 270h0M569 269h0M558 267h0M557 262h0M575 273h0M594 265h0M549 278h0M537 268h0M560 265h0M582 264h0M555 277h0M538 263h0M549 277h0M566 277h0M584 280h0M529 274h0M582 270h0M554 277h0M582 274h0M546 280h0M566 272h0M546 272h0M574 268h0M541 268h0M548 276h0M562 275h0M604 275h0M591 274h0M596 272h0M560 272h0M602 278h0M561 269h0M573 273h0M570 279h0M569 267h0M555 269h0M552 278h0M577 278h0M560 266h0M506 279h0M569 269h0M593 262h0M572 264h0M569 272h0M557 266h0M578 266h0M565 267h0M575 267h0M579 281h0M566 266h0M579 271h0M572 275h0M559 279h0M574 268h0M587 278h0M571 275h0M530 281h0M549 273h0M571 267h0M586 263h0M609 261h0M582 277h0M596 271h0M582 271h0M588 261h0"/><path id="p334" d="M580 255h0M574 253h0M593 256h0M630 257h0M593 258h0M564 256h0M582 255h0M576 257h0M571 255h0M576 255h0M569 255h0M572 256h0M598 254h0M567 259h0M562 255h0M568 258h0M602 255h0M588 256h0M602 257h0M588 258h0M604 257h0M541 260h0M553 256h0M579 255h0M604 256h0M564 256h0M594 252h0M580 256h0M543 257h0M553 256h0M556 255h0M605 259h0M542 256h0M610 254h0M643 254h0M592 254h0M574 255h0M581 256h0M599 256h0M589 252h0M584 255h0M621 257h0M542 251h0M583 255h0M570 254h0M595 255h0M557 258h0M573 257h0M603 253h0M617 254h0M578 257h0M584 257h0M571 253h0M587 258h0M555 255h0M564 255h0M600 257h0M651 255h0M545 255h0M573 258h0M607 252h0M546 255h0M574 256h0M599 254h0M555 258h0M595 257h0M568 257h0M573 260h0M589 255h0M580 254h0M551 253h0M599 258h0M590 258h0M564 253h0M569 257h0M574 253h0M610 258h0M542 254h0M564 254h0M617 255h0M611 253h0M592 251h0M543 254h0"/><path id="p335" d="M489 354h0M492 352h0M489 354h0M474 353h0M527 352h0M517 353h0M509 351h0M539 353h0M505 353h0M525 354h0M532 353h0M506 352h0M525 351h0M505 354h0M490 352h0M580 350h0M520 353h0M505 353h0M511 353h0M552 353h0M512 351h0M480 353h0"/><path id="p336" d="M697 148h0M668 149h0M693 150h0M684 146h0M689 151h0M689 148h0M678 152h0M684 151h0M662 154h0M668 154h0M686 152h0M690 149h0M681 153h0M688 153h0M670 153h0M687 156h0M699 154h0M673 153h0M676 150h0M689 153h0M697 150h0M713 154h0M674 155h0M674 149h0M695 155h0M684 151h0M686 153h0M695 148h0M704 150h0M683 155h0M672 149h0M682 150h0M681 155h0M700 153h0M656 153h0M687 148h0M697 154h0M679 153h0M686 155h0M683 151h0M661 154h0M690 150h0M694 149h0M662 155h0M661 156h0M701 150h0"/><path id="p337" d="M704 121h0M700 116h0M721 119h0M746 117h0M718 117h0M715 120h0M676 123h0M704 123h0M745 118h0M717 120h0M716 116h0M711 118h0M701 120h0M694 121h0M720 116h0M721 121h0M721 120h0M700 117h0M704 121h0M724 115h0M705 115h0M716 122h0M721 119h0M709 123h0M711 120h0M720 117h0M721 118h0M720 118h0M712 121h0M736 114h0M732 117h0M718 120h0M712 116h0M720 120h0M705 118h0M693 122h0M726 120h0M704 120h0"/><path id="p338" d="M537 291h0M557 291h0M547 293h0M548 291h0M563 293h0M545 292h0M559 293h0"/><path id="p339" d="M688 122h0M702 123h0M708 123h0"/><path id="p340" d="M757 75h0M752 80h0M751 79h0M758 77h0M769 70h0"/><path id="p341" d="M635 166h0M676 172h0M634 175h0M632 177h0M668 172h0M666 170h0M678 174h0M645 171h0M672 174h0M652 177h0M675 172h0M669 176h0M652 169h0M663 172h0M682 167h0M667 175h0M670 171h0M690 169h0M674 170h0M676 168h0M669 171h0M662 173h0M666 175h0M652 165h0M661 172h0M660 175h0M658 172h0M664 172h0M658 172h0M684 165h0M669 171h0M651 173h0M681 169h0M671 173h0M665 171h0M659 174h0M684 173h0M678 173h0M656 175h0M654 166h0M662 171h0M648 167h0M675 172h0M648 169h0M661 175h0M628 169h0M715 168h0M689 167h0M651 172h0M682 173h0M654 175h0M645 169h0M657 168h0M669 172h0M684 171h0M666 170h0M661 173h0M664 174h0M674 175h0M650 174h0M715 170h0M649 172h0M649 168h0M656 171h0M652 166h0M634 173h0M683 174h0M686 166h0M645 166h0M661 176h0M657 177h0M673 174h0"/><path id="p342" d="M578 303h0"/><path id="p343" d="M591 281h0M540 284h0M574 284h0M538 283h0M552 285h0M560 282h0M556 281h0M529 283h0M578 283h0M557 282h0M547 284h0M546 282h0M595 283h0M564 283h0M582 280h0M545 284h0M541 283h0M564 284h0M537 284h0M593 284h0M514 284h0M539 282h0M561 282h0M513 283h0M525 282h0M571 285h0M554 283h0M557 285h0M558 282h0M534 281h0M554 286h0M560 284h0M563 282h0M524 286h0M556 282h0M579 283h0M560 282h0"/><path id="p344" d="M526 307h0M542 306h0M552 309h0"/><path id="p345" d="M588 304h0"/><path id="p346" d="M570 315h0M495 313h0M492 313h0M483 312h0M516 312h0M503 312h0M540 313h0M513 315h0M509 314h0M467 315h0M562 313h0M565 312h0M523 313h0M553 314h0M518 311h0M492 312h0"/><path id="p347" d="M563 291h0M562 293h0"/><path id="p348" d="M755 89h0M731 93h0M746 80h0M728 88h0M753 81h0M742 92h0M729 90h0M753 89h0M734 85h0M743 78h0M763 80h0M749 87h0M756 87h0M736 89h0M742 89h0M745 91h0M752 87h0"/><path id="p349" d="M491 303h0M517 305h0M527 306h0M568 305h0M546 306h0M560 304h0M558 304h0"/><path id="p350" d="M528 300h0M583 299h0M529 301h0M535 300h0"/><path id="p351" d="M612 249h0M630 248h0M599 248h0M586 245h0M556 248h0M587 250h0M578 249h0M605 250h0M574 253h0M560 248h0M567 250h0M580 246h0M551 250h0M596 250h0M576 250h0M602 250h0M599 247h0M592 251h0M583 249h0M603 246h0M577 246h0M601 248h0M583 249h0M588 250h0M603 249h0M568 252h0M602 247h0M581 251h0M604 252h0M562 250h0M573 251h0M573 247h0M606 251h0M561 251h0M555 250h0M579 251h0M625 247h0M591 249h0M600 249h0M586 251h0M565 248h0M597 246h0M610 246h0M601 247h0M596 249h0M586 251h0M583 250h0M561 248h0M562 249h0M600 249h0M553 251h0M636 245h0M582 249h0M560 247h0M593 253h0M605 246h0M577 247h0M605 246h0M600 249h0M552 249h0M593 251h0M626 249h0M613 252h0M590 249h0M570 252h0M620 249h0M575 249h0M589 249h0M517 248h0M595 246h0M594 248h0M590 251h0M601 251h0M626 246h0M593 247h0M607 250h0M550 249h0M587 251h0M584 252h0M590 252h0M594 249h0M580 251h0M593 249h0"/><path id="p352" d="M693 161h0M672 156h0M683 157h0M673 162h0M644 162h0M672 161h0M660 162h0M663 164h0M673 162h0M648 167h0M664 159h0M687 161h0M645 164h0M677 156h0M693 160h0M684 161h0M693 161h0M666 166h0M676 164h0M690 159h0M659 162h0M679 159h0M671 163h0M694 163h0M653 165h0M674 165h0M675 162h0M673 163h0M682 158h0M688 164h0M687 167h0M710 162h0M648 167h0M659 161h0M675 161h0M667 164h0M670 165h0M681 158h0M659 159h0M687 157h0M680 159h0M685 157h0M679 165h0M676 163h0M671 158h0M675 159h0M672 162h0M670 158h0M694 158h0M645 166h0M679 159h0M673 163h0M673 168h0M684 157h0M705 161h0M689 160h0M680 156h0M664 160h0M675 166h0M673 166h0M688 164h0M668 161h0M682 159h0M668 166h0M661 158h0M653 162h0M691 167h0M654 161h0M685 162h0M671 166h0M667 156h0M678 165h0M664 163h0M681 164h0M686 165h0M686 166h0"/><path id="p353" d="M584 224h0M602 219h0M630 225h0M597 221h0M657 220h0M584 220h0M649 223h0M639 221h0M586 220h0M614 218h0M594 219h0M623 216h0M608 225h0M616 224h0M551 221h0M632 220h0M633 218h0M662 221h0M616 220h0M598 225h0M592 221h0M586 221h0M597 222h0M616 222h0M606 221h0M614 222h0M616 218h0M620 220h0M615 222h0M614 218h0M619 226h0M623 225h0M634 221h0M594 221h0M594 223h0M620 220h0M598 225h0M633 221h0M603 219h0M630 224h0M595 220h0M616 224h0M641 220h0M599 222h0M598 224h0M570 217h0M618 226h0M637 220h0M583 226h0M608 217h0M575 216h0M586 222h0M610 219h0M622 223h0M608 225h0M599 224h0M620 218h0M637 222h0M618 219h0M615 218h0M612 224h0M657 218h0M592 222h0M647 221h0M646 222h0M605 216h0M598 216h0M620 221h0M624 221h0M562 223h0M611 216h0M610 222h0M557 225h0M639 220h0M606 224h0M641 223h0M593 219h0M603 220h0M623 215h0M502 221h0M630 223h0M620 218h0M613 219h0M613 221h0M622 225h0M606 217h0M618 224h0M591 220h0M572 225h0M631 217h0M648 223h0M599 218h0M607 218h0M597 218h0M620 219h0M585 219h0M597 222h0M629 223h0M612 219h0M629 219h0"/><path id="p354" d="M531 299h0M515 298h0M543 297h0"/><path id="p355" d="M564 294h0M560 293h0M570 293h0M607 292h0M555 295h0M532 295h0M545 294h0M574 292h0M530 293h0M540 293h0M587 293h0M508 295h0M547 295h0"/><path id="p356" d="M541 319h0M520 318h0M512 320h0M513 317h0M516 318h0M516 320h0M509 319h0M508 320h0M512 320h0M521 317h0M504 320h0M524 317h0M520 320h0M556 320h0M521 319h0M613 319h0M575 318h0"/><path id="p357" d="M544 297h0M559 297h0M511 298h0M583 298h0"/><path id="p358" d="M682 145h0M673 141h0M664 144h0M700 144h0M667 143h0M663 143h0M685 147h0M690 140h0M711 146h0M717 144h0M688 145h0M701 147h0M698 140h0M699 145h0M696 143h0M660 139h0M696 140h0M684 146h0M699 138h0M688 141h0M709 147h0M680 142h0M685 141h0M695 147h0M702 138h0M712 147h0M688 142h0M696 138h0M701 147h0M695 138h0M684 143h0M713 138h0M696 143h0M695 137h0M717 148h0M687 147h0M693 147h0M680 140h0M687 144h0M684 141h0M667 143h0M695 147h0M699 142h0M694 147h0M698 140h0M710 146h0M672 146h0M714 139h0M719 137h0M705 142h0M698 142h0M691 142h0M682 143h0M699 139h0M665 140h0M646 140h0M683 144h0M711 146h0M703 140h0M693 141h0M701 146h0M702 144h0M699 145h0M699 144h0M676 146h0"/><path id="p359" d="M539 305h0M509 303h0M567 300h0M560 303h0M559 303h0M549 302h0M551 302h0M538 303h0"/><path id="p360" d="M568 296h0M570 298h0M560 298h0M526 297h0M560 297h0M566 297h0M556 298h0M537 297h0M567 298h0M546 297h0M563 296h0M557 296h0M591 296h0"/><path id="p361" d="M742 96h0M722 93h0M733 93h0M743 93h0M728 92h0M746 96h0"/><path id="p362" d="M528 293h0M566 292h0M560 294h0M553 295h0M557 295h0M551 295h0M551 293h0M550 292h0M524 293h0M573 292h0M561 295h0M563 293h0"/><path id="p363" d="M548 301h0"/><path id="p364" d="M512 309h0M498 307h0M495 308h0M569 306h0M548 306h0"/><path id="p365" d="M515 308h0M498 310h0M506 310h0"/><path id="p366" d="M537 298h0M552 295h0M529 297h0M567 295h0M560 294h0M572 297h0"/><path id="p367" d="M494 314h0M535 315h0M526 313h0M500 316h0M527 313h0"/><path id="p368" d="M549 298h0M565 298h0"/><path id="p369" d="M489 305h0M512 307h0M540 305h0M537 305h0M596 308h0M542 306h0M523 305h0"/><path id="p370" d="M517 306h0M490 306h0M542 305h0M530 304h0M544 304h0M590 305h0M544 301h0M557 305h0M529 306h0M565 304h0M542 303h0"/><path id="p371" d="M542 287h0"/><path id="p372" d="M515 302h0M530 302h0M592 300h0M530 299h0M564 301h0M553 302h0"/><path id="p373" d="M577 288h0M538 287h0M536 289h0M524 287h0M538 288h0M566 286h0M580 286h0M529 288h0M514 287h0M499 287h0M532 288h0M551 289h0M558 288h0M584 290h0M565 288h0M549 288h0M601 288h0M578 287h0M533 287h0M550 285h0M547 289h0M543 287h0M565 287h0"/><path id="p374" d="M709 122h0M727 127h0M715 124h0M689 130h0M712 126h0M686 131h0M718 124h0M726 123h0M724 127h0M711 123h0M709 129h0M705 129h0M716 124h0M710 128h0M711 122h0M714 126h0M698 126h0M699 129h0M729 121h0M694 130h0M706 125h0M699 127h0M690 129h0M716 123h0M684 128h0M697 124h0M676 128h0M709 126h0M710 128h0M720 129h0M698 127h0M718 126h0M693 125h0M731 125h0M713 127h0M715 127h0M704 127h0M695 124h0M717 127h0M698 128h0M710 124h0M702 125h0M712 130h0M693 126h0M709 126h0M724 124h0M733 124h0M677 128h0"/><path id="p375" d="M694 134h0M710 138h0M702 133h0M687 133h0M711 138h0M699 134h0M701 135h0M718 131h0M698 138h0M713 133h0M718 134h0M707 129h0M707 138h0M708 131h0M707 134h0M673 132h0M697 134h0M688 137h0M692 136h0M705 135h0M695 135h0M707 133h0M701 137h0M713 131h0M713 133h0M696 135h0M683 135h0M711 132h0M713 132h0M698 135h0M702 133h0M715 134h0M699 134h0M705 132h0M718 134h0M700 135h0M704 137h0M692 135h0M718 136h0M713 130h0M698 132h0M718 130h0"/><path id="p376" d="M606 196h0M637 191h0M649 198h0M661 186h0M655 194h0M629 192h0M634 190h0M625 196h0M656 191h0M660 187h0M669 194h0M637 196h0M653 188h0M639 187h0M628 195h0M651 190h0M651 185h0M627 193h0M657 188h0M646 195h0M632 189h0M636 192h0M612 192h0M664 191h0M679 193h0M639 190h0M649 196h0M631 186h0M638 186h0M669 195h0M672 196h0M650 185h0M633 189h0M665 193h0M661 189h0M652 192h0M648 188h0M647 188h0M651 191h0M622 194h0M643 195h0M652 194h0M620 188h0M647 193h0M671 190h0M635 194h0M630 188h0M614 193h0M660 190h0M637 193h0M647 193h0M613 187h0M637 195h0M663 189h0M652 190h0M626 193h0M628 195h0M610 190h0M620 194h0M610 195h0M653 190h0M650 194h0M643 187h0M643 191h0M639 191h0M650 187h0M649 187h0M640 196h0M639 192h0M662 188h0M621 196h0M652 193h0M639 192h0M649 194h0M614 190h0M610 195h0M657 191h0M655 191h0M639 194h0M631 189h0M664 194h0M634 188h0M672 191h0M600 193h0M608 194h0M656 187h0M654 198h0M635 190h0M591 192h0M646 192h0M666 190h0M638 193h0M666 195h0M654 194h0M639 195h0M636 192h0M627 195h0M618 191h0M664 190h0M628 192h0"/><path id="p377" d="M718 108h0M716 100h0M738 101h0M722 101h0M741 102h0M721 105h0M740 103h0M720 108h0M733 102h0M725 107h0M728 103h0M724 103h0M751 101h0M731 102h0M725 104h0M734 104h0M731 104h0M725 107h0M724 101h0M733 102h0M730 105h0M733 107h0M720 107h0M721 103h0M712 103h0M735 106h0M695 105h0"/><path id="p378" d="M612 301h0"/><path id="p379" d="M534 314h0M571 314h0M506 316h0M532 315h0M507 317h0M483 313h0M519 317h0M545 317h0M526 315h0M557 315h0M554 313h0M535 313h0"/><path id="p380" d="M555 299h0M560 300h0M543 302h0"/><path id="p381" d="M712 99h0M728 99h0M745 97h0M728 100h0M750 98h0M727 100h0M736 98h0M724 97h0M750 101h0M724 97h0M728 100h0M744 93h0M743 97h0M739 97h0M735 100h0M733 98h0M736 96h0"/><path id="p382" d="M591 287h0M572 288h0M521 285h0M533 286h0M578 286h0M561 286h0M581 285h0M560 283h0M570 287h0M568 285h0M574 286h0M550 288h0M539 287h0M541 286h0M608 284h0M522 286h0M564 288h0M544 286h0M568 285h0M566 284h0M549 286h0M561 284h0M563 285h0M591 285h0M591 285h0M538 284h0"/><path id="p383" d="M550 295h0"/><path id="p384" d="M626 199h0M628 202h0M624 200h0M657 200h0M650 205h0M631 204h0M608 198h0M604 195h0M617 201h0M599 204h0M590 207h0M646 198h0M617 198h0M617 195h0M625 207h0M645 204h0M653 204h0M640 199h0M628 197h0M609 204h0M639 202h0M630 202h0M657 203h0M667 202h0M614 202h0M623 205h0M596 205h0M640 202h0M638 205h0M655 202h0M641 204h0M624 201h0M642 203h0M605 205h0M613 198h0M626 204h0M669 202h0M643 197h0M648 198h0M619 203h0M628 200h0M620 196h0M651 200h0M615 205h0M615 204h0M611 198h0M618 198h0M632 199h0M636 199h0M642 202h0M612 204h0M639 199h0M611 203h0M616 196h0M599 202h0M637 202h0M646 199h0M648 203h0M615 197h0M666 204h0M633 205h0M621 204h0M650 203h0M616 203h0M647 198h0M654 197h0M627 203h0M634 197h0M617 201h0M631 198h0M618 206h0M659 202h0M625 203h0M655 199h0M623 206h0M621 195h0M636 203h0M666 198h0M623 199h0M655 200h0M634 201h0M666 199h0M625 202h0M639 197h0M622 202h0M613 199h0M646 201h0M630 200h0M619 198h0M638 197h0M622 204h0M607 203h0M664 200h0M633 201h0M636 201h0M645 203h0M645 195h0M641 205h0M609 197h0M647 199h0M639 198h0M621 202h0M644 204h0M624 206h0M655 206h0M598 196h0M626 198h0M673 199h0M623 203h0M639 201h0M632 206h0M637 206h0M620 204h0M623 197h0"/><path id="p385" d="M532 348h0M509 353h0M501 319h0M499 331h0M493 335h0M501 334h0M505 321h0M493 337h0M520 350h0M508 341h0M493 346h0M536 323h0M508 346h0M516 327h0M469 326h0M501 350h0M457 341h0M487 339h0M492 345h0M521 348h0M539 342h0M481 342h0M509 323h0M496 338h0M518 340h0M528 340h0M483 331h0M486 339h0M495 320h0M490 347h0M489 333h0M520 321h0M530 349h0M524 331h0M539 330h0M532 338h0M529 329h0M508 327h0M490 342h0M505 331h0M542 349h0M500 350h0M505 341h0M495 329h0M556 352h0M512 323h0M502 350h0M537 338h0M547 321h0M501 326h0M508 334h0M468 335h0M472 326h0M503 336h0M530 330h0M532 342h0M500 341h0M501 341h0M489 342h0M510 346h0M506 322h0M496 332h0M508 318h0M522 320h0M564 323h0M495 323h0M541 321h0M503 352h0M512 350h0M512 342h0M533 327h0M472 337h0M541 326h0M550 350h0M533 324h0M488 338h0M498 335h0M496 321h0M529 323h0M513 334h0M482 344h0M494 334h0M520 330h0M539 339h0M518 325h0M522 338h0M481 340h0M509 338h0M498 332h0M538 331h0M492 343h0M464 333h0M541 352h0M460 332h0M487 332h0M480 346h0M512 347h0M501 351h0M532 337h0M564 342h0M516 344h0M529 340h0M458 338h0M503 347h0M491 337h0M541 336h0M510 323h0M538 330h0M481 348h0M494 345h0M507 326h0M507 340h0M526 321h0M505 336h0M482 326h0M533 333h0M489 334h0M493 343h0M524 341h0M510 321h0M515 336h0M518 346h0M522 323h0M523 322h0M535 335h0M523 338h0M503 326h0M497 342h0M522 322h0M543 322h0M529 328h0M471 321h0M505 345h0M476 330h0M505 346h0M518 339h0M505 332h0M507 325h0M500 327h0M506 345h0M539 332h0M489 330h0M515 348h0M507 325h0M536 347h0M529 349h0M527 327h0M510 337h0M517 325h0M510 338h0M465 344h0M503 333h0M555 346h0M496 347h0M516 343h0M510 330h0M495 328h0M518 321h0M506 329h0M530 341h0M539 333h0M507 325h0M533 333h0M536 339h0M551 336h0M522 340h0M537 324h0M485 341h0M506 335h0M508 344h0M499 328h0M528 321h0M500 348h0M495 347h0M496 348h0M516 343h0M494 334h0M500 343h0M514 324h0M474 323h0M553 338h0M494 328h0M523 352h0M517 340h0M526 339h0M507 341h0M501 325h0M516 322h0M512 325h0M482 341h0M504 347h0M497 349h0M510 336h0M511 329h0M488 326h0M519 323h0M504 338h0M475 349h0M496 327h0M529 322h0M512 327h0M545 352h0M506 325h0M529 339h0M529 332h0M510 325h0M535 324h0M525 346h0M527 333h0M525 330h0M494 335h0M565 319h0M531 324h0M534 324h0M516 339h0M518 331h0M499 339h0M516 331h0M476 343h0M498 327h0M498 321h0M520 337h0M498 326h0M517 319h0M523 350h0M520 342h0M490 336h0M502 340h0M492 328h0M506 350h0M503 346h0M525 344h0M502 336h0M538 339h0M519 342h0M511 339h0M502 325h0M512 322h0M543 336h0M524 332h0M526 331h0M501 344h0M474 334h0M548 349h0M517 336h0M511 338h0M484 332h0M529 325h0M508 320h0M520 329h0M529 332h0M523 345h0M554 336h0M511 329h0M494 321h0M506 338h0M516 331h0M536 340h0M506 328h0M487 341h0M519 347h0M528 337h0M497 339h0M475 331h0M535 320h0M561 329h0M501 323h0M519 329h0M498 348h0M482 339h0M480 337h0M478 334h0M480 319h0M528 351h0M521 338h0M507 320h0M564 337h0M519 323h0M504 347h0M513 346h0M512 342h0M509 334h0M547 349h0M501 346h0M543 340h0M534 329h0M513 320h0M523 330h0M524 326h0M533 321h0M552 321h0M513 330h0M532 321h0M549 338h0M535 322h0M545 328h0M553 324h0M543 325h0M529 347h0M534 321h0M542 324h0M529 323h0M531 333h0M575 323h0M577 334h0M533 322h0M534 320h0M541 319h0M570 328h0M535 319h0M525 321h0M558 348h0M546 326h0M513 319h0M522 339h0M519 318h0M543 325h0M540 325h0M553 332h0M522 322h0M553 320h0M536 334h0M543 322h0M584 328h0M552 338h0M546 324h0M548 322h0M533 324h0M554 323h0M529 331h0M544 321h0M530 347h0M552 331h0M521 319h0M617 339h0M635 342h0M578 338h0M638 336h0"/><path id="p386" d="M586 246h0M538 243h0M594 244h0M584 244h0M592 244h0M591 240h0M618 241h0M602 244h0M602 244h0M593 240h0M572 241h0M557 242h0M588 248h0M569 240h0M566 241h0M596 244h0M624 244h0M555 244h0M561 239h0M598 238h0M597 244h0M617 241h0M604 243h0M611 242h0M584 238h0M561 242h0M602 241h0M601 238h0M601 247h0M577 246h0M620 245h0M608 247h0M588 241h0M561 243h0M556 241h0M592 240h0M587 242h0M624 240h0M572 242h0M597 244h0M593 240h0M593 242h0M607 240h0M580 243h0M586 244h0M610 247h0M601 244h0M580 241h0M625 241h0M618 241h0M615 240h0M583 242h0M596 242h0M584 241h0M618 241h0M594 243h0M561 243h0M548 240h0M577 247h0M582 245h0M590 244h0M566 238h0M585 240h0M585 241h0M618 242h0M607 243h0M603 243h0M599 244h0M604 247h0M620 245h0M602 245h0M516 248h0M611 243h0M608 238h0M613 240h0M616 240h0M554 238h0M590 241h0M618 244h0M587 244h0M602 243h0M584 243h0M611 243h0M585 243h0M540 243h0M540 240h0M613 241h0M582 241h0M605 241h0M576 243h0M576 243h0M632 240h0M580 245h0M587 244h0M581 246h0M615 242h0M613 239h0M611 244h0M570 239h0M608 242h0M584 242h0"/><path id="p387" d="M526 320h0M537 317h0M578 317h0M497 317h0M563 316h0M525 317h0M488 319h0M534 317h0M570 318h0M528 318h0M556 319h0M540 318h0M549 317h0"/><path id="p388" d="M556 303h0M582 303h0"/><path id="p389" d="M615 235h0M598 238h0M587 237h0M612 237h0M612 234h0M582 237h0M560 234h0M595 238h0M604 236h0M602 236h0M599 235h0M617 233h0M579 237h0M587 231h0M595 234h0M622 237h0M625 236h0M552 236h0M591 236h0M593 232h0M626 238h0M582 233h0M600 236h0M556 237h0M591 237h0M566 232h0M618 233h0M596 232h0M584 239h0M578 238h0M597 237h0M577 236h0M564 238h0M583 237h0M587 239h0M606 236h0M591 234h0M601 241h0M601 238h0M630 233h0M609 236h0M608 237h0M578 240h0M600 237h0M623 240h0M603 237h0M621 238h0M592 234h0M600 235h0M588 235h0M582 233h0M573 238h0M625 234h0M641 233h0M625 234h0M593 233h0M578 239h0M597 238h0M641 237h0M562 235h0M598 231h0M579 233h0M627 233h0M598 233h0M641 234h0M614 237h0M575 236h0M604 235h0M600 236h0M602 237h0M565 232h0M641 232h0M592 232h0M610 232h0M578 234h0M563 239h0M607 237h0M574 236h0M597 238h0M598 231h0M609 235h0M629 238h0M587 239h0M587 233h0M582 239h0M605 238h0M612 236h0M620 234h0M579 235h0M610 232h0M614 238h0M601 237h0M626 238h0M611 236h0M573 238h0M566 241h0M577 232h0M575 237h0M631 234h0M602 238h0M581 235h0"/><path id="p390" d="M564 294h0M557 297h0M563 293h0M597 294h0M563 296h0M530 294h0M574 296h0"/><path id="p391" d="M492 312h0"/><path id="p392" d="M629 217h0M626 214h0M621 212h0M583 213h0M618 212h0M598 213h0M619 212h0M633 213h0M612 214h0M627 208h0M638 209h0M623 217h0M631 213h0M624 211h0M647 210h0M610 209h0M613 215h0M604 215h0M647 216h0M654 210h0M671 207h0M639 207h0M587 206h0M605 214h0M638 217h0M612 208h0M608 211h0M625 213h0M594 208h0M621 206h0M604 211h0M613 210h0M644 209h0M634 216h0M636 206h0M589 210h0M613 214h0M619 216h0M629 213h0M629 212h0M613 217h0M626 217h0M620 211h0M630 212h0M602 217h0M657 210h0M619 209h0M655 209h0M638 214h0M656 208h0M610 209h0M631 209h0M626 206h0M617 209h0M653 214h0M631 213h0M603 217h0M626 209h0M631 216h0M620 216h0M615 211h0M650 210h0M617 214h0M650 210h0M611 216h0M628 215h0M603 208h0M611 208h0M640 214h0M627 211h0M625 210h0M637 209h0M616 210h0M637 211h0M603 214h0M618 210h0M612 215h0M644 210h0M606 213h0M609 207h0M639 209h0M597 215h0M642 210h0M624 214h0M647 205h0M622 209h0M657 206h0M616 208h0M629 212h0M578 213h0M618 208h0M622 212h0M640 208h0M608 213h0M628 214h0M651 213h0M621 207h0M598 217h0M638 214h0M615 215h0M635 210h0M654 212h0M634 216h0M603 211h0M662 214h0M623 214h0M637 215h0M614 214h0M635 208h0M609 217h0M634 209h0M623 208h0M624 213h0M637 210h0M622 215h0M588 208h0"/><path id="p393" d="M548 298h0M540 301h0M528 301h0"/><path id="p394" d="M538 310h0M474 311h0M530 311h0M569 313h0M539 311h0M517 309h0M501 311h0M569 312h0"/><path id="p395" d="M494 291h0"/></defs><g stroke-width="2.5" stroke-linecap="square" fill="none"><use href="#p0" stroke="#b57c43" stroke-width="3.5"/><use href="#p0" stroke="#e88018"/><use href="#p1" stroke="#666f85" stroke-width="3.5"/><use href="#p1" stroke="#586890"/><use href="#p2" stroke="#b5623e" stroke-width="3.5"/><use href="#p2" stroke="#e85010"/><use href="#p3" stroke="#b1a84c" stroke-width="3.5"/><use href="#p3" stroke="#e0d028"/><use href="#p4" stroke="#b55d3e" stroke-width="3.5"/><use href="#p4" stroke="#e84810"/><use href="#p5" stroke="#b5663e" stroke-width="3.5"/><use href="#p5" stroke="#e85810"/><use href="#p6" stroke="#787c7c" stroke-width="3.5"/><use href="#p6" stroke="#788080"/><use href="#p7" stroke="#6a7380" stroke-width="3.5"/><use href="#p7" stroke="#607088"/><use href="#p8" stroke="#b15d3e" stroke-width="3.5"/><use href="#p8" stroke="#e04810"/><use href="#p9" stroke="#b1a847" stroke-width="3.5"/><use href="#p9" stroke="#e0d020"/><use href="#p10" stroke="#b5a843" stroke-width="3.5"/><use href="#p10" stroke="#e8d018"/><use href="#p11" stroke="#b56f43" stroke-width="3.5"/><use href="#p11" stroke="#e86818"/><use href="#p12" stroke="#9f9b54" stroke-width="3.5"/><use href="#p12" stroke="#c0b838"/><use href="#p13" stroke="#baa443" stroke-width="3.5"/><use href="#p13" stroke="#f0c818"/><use href="#p14" stroke="#8e8e66" stroke-width="3.5"/><use href="#p14" stroke="#a0a058"/><use href="#p15" stroke="#5d6a85" stroke-width="3.5"/><use href="#p15" stroke="#486090"/><use href="#p16" stroke="#506285" stroke-width="3.5"/><use href="#p16" stroke="#305090"/><use href="#p17" stroke="#8e8e6a" stroke-width="3.5"/><use href="#p17" stroke="#a0a060"/><use href="#p18" stroke="#73787c" stroke-width="3.5"/><use href="#p18" stroke="#707880"/><use href="#p19" stroke="#9f9b59" stroke-width="3.5"/><use href="#p19" stroke="#c0b840"/><use href="#p20" stroke="#b57343" stroke-width="3.5"/><use href="#p20" stroke="#e87018"/><use href="#p21" stroke="#b5a847" stroke-width="3.5"/><use href="#p21" stroke="#e8d020"/><use href="#p22" stroke="#aca44c" stroke-width="3.5"/><use href="#p22" stroke="#d8c828"/><use href="#p23" stroke="#a89f50" stroke-width="3.5"/><use href="#p23" stroke="#d0c030"/><use href="#p24" stroke="#ba8e43" stroke-width="3.5"/><use href="#p24" stroke="#f0a018"/><use href="#p25" stroke="#546685" stroke-width="3.5"/><use href="#p25" stroke="#385890"/><use href="#p26" stroke="#b56a3e" stroke-width="3.5"/><use href="#p26" stroke="#e86010"/><use href="#p27" stroke="#a49b54" stroke-width="3.5"/><use href="#p27" stroke="#c8b838"/><use href="#p28" stroke="#858573" stroke-width="3.5"/><use href="#p28" stroke="#909070"/><use href="#p29" stroke="#96965d" stroke-width="3.5"/><use href="#p29" stroke="#b0b048"/><use href="#p30" stroke="#928e66" stroke-width="3.5"/><use href="#p30" stroke="#a8a058"/><use href="#p31" stroke="#ba9b43" stroke-width="3.5"/><use href="#p31" stroke="#f0b818"/><use href="#p32" stroke="#96925d" stroke-width="3.5"/><use href="#p32" stroke="#b0a848"/><use href="#p33" stroke="#b1593e" stroke-width="3.5"/><use href="#p33" stroke="#e04010"/><use href="#p34" stroke="#b1473a" stroke-width="3.5"/><use href="#p34" stroke="#e02008"/><use href="#p35" stroke="#7c807c" stroke-width="3.5"/><use href="#p35" stroke="#808880"/><use href="#p36" stroke="#475d85" stroke-width="3.5"/><use href="#p36" stroke="#204890"/><use href="#p37" stroke="#aca450" stroke-width="3.5"/><use href="#p37" stroke="#d8c830"/><use href="#p38" stroke="#858578" stroke-width="3.5"/><use href="#p38" stroke="#909078"/><use href="#p39" stroke="#9b9659" stroke-width="3.5"/><use href="#p39" stroke="#b8b040"/><use href="#p40" stroke="#ba9243" stroke-width="3.5"/><use href="#p40" stroke="#f0a818"/><use href="#p41" stroke="#b1503e" stroke-width="3.5"/><use href="#p41" stroke="#e03010"/><use href="#p42" stroke="#78787c" stroke-width="3.5"/><use href="#p42" stroke="#787880"/><use href="#p43" stroke="#baa843" stroke-width="3.5"/><use href="#p43" stroke="#f0d018"/><use href="#p44" stroke="#929266" stroke-width="3.5"/><use href="#p44" stroke="#a8a858"/><use href="#p45" stroke="#546285" stroke-width="3.5"/><use href="#p45" stroke="#385090"/><use href="#p46" stroke="#b58943" stroke-width="3.5"/><use href="#p46" stroke="#e89818"/><use href="#p47" stroke="#ba9643" stroke-width="3.5"/><use href="#p47" stroke="#f0b018"/><use href="#p48" stroke="#b1503a" stroke-width="3.5"/><use href="#p48" stroke="#e03008"/><use href="#p49" stroke="#808078" stroke-width="3.5"/><use href="#p49" stroke="#888878"/><use href="#p50" stroke="#b58543" stroke-width="3.5"/><use href="#p50" stroke="#e89018"/><use href="#p51" stroke="#737880" stroke-width="3.5"/><use href="#p51" stroke="#707888"/><use href="#p52" stroke="#626a85" stroke-width="3.5"/><use href="#p52" stroke="#506090"/><use href="#p53" stroke="#6a6f85" stroke-width="3.5"/><use href="#p53" stroke="#606890"/><use href="#p54" stroke="#929262" stroke-width="3.5"/><use href="#p54" stroke="#a8a850"/><use href="#p55" stroke="#a89f54" stroke-width="3.5"/><use href="#p55" stroke="#d0c038"/><use href="#p56" stroke="#b1a44c" stroke-width="3.5"/><use href="#p56" stroke="#e0c828"/><use href="#p57" stroke="#89896a" stroke-width="3.5"/><use href="#p57" stroke="#989860"/><use href="#p58" stroke="#ba9f43" stroke-width="3.5"/><use href="#p58" stroke="#f0c018"/><use href="#p59" stroke="#a49f54" stroke-width="3.5"/><use href="#p59" stroke="#c8c038"/><use href="#p60" stroke="#737380" stroke-width="3.5"/><use href="#p60" stroke="#707088"/><use href="#p61" stroke="#89856f" stroke-width="3.5"/><use href="#p61" stroke="#989068"/><use href="#p62" stroke="#969262" stroke-width="3.5"/><use href="#p62" stroke="#b0a850"/><use href="#p63" stroke="#89896f" stroke-width="3.5"/><use href="#p63" stroke="#989868"/><use href="#p64" stroke="#6f7380" stroke-width="3.5"/><use href="#p64" stroke="#687088"/><use href="#p65" stroke="#a8a450" stroke-width="3.5"/><use href="#p65" stroke="#d0c830"/><use href="#p66" stroke="#b1543e" stroke-width="3.5"/><use href="#p66" stroke="#e03810"/><use href="#p67" stroke="#5d6685" stroke-width="3.5"/><use href="#p67" stroke="#485890"/><use href="#p68" stroke="#7c7c7c" stroke-width="3.5"/><use href="#p68" stroke="#808080"/><use href="#p69" stroke="#4c5d85" stroke-width="3.5"/><use href="#p69" stroke="#284890"/><use href="#p70" stroke="#9b965d" stroke-width="3.5"/><use href="#p70" stroke="#b8b048"/><use href="#p71" stroke="#8e896a" stroke-width="3.5"/><use href="#p71" stroke="#a09860"/><use href="#p72" stroke="#475980" stroke-width="3.5"/><use href="#p72" stroke="#204088"/><use href="#p73" stroke="#666a85" stroke-width="3.5"/><use href="#p73" stroke="#586090"/><use href="#p74" stroke="#596685" stroke-width="3.5"/><use href="#p74" stroke="#405890"/><use href="#p75" stroke="#b57843" stroke-width="3.5"/><use href="#p75" stroke="#e87818"/><use href="#p76" stroke="#6a6f80" stroke-width="3.5"/><use href="#p76" stroke="#606888"/><use href="#p77" stroke="#b58043" stroke-width="3.5"/><use href="#p77" stroke="#e88818"/><use href="#p78" stroke="#b56f3e" stroke-width="3.5"/><use href="#p78" stroke="#e86810"/><use href="#p79" stroke="#7c8078" stroke-width="3.5"/><use href="#p79" stroke="#808878"/><use href="#p80" stroke="#b14c3a" stroke-width="3.5"/><use href="#p80" stroke="#e02808"/><use href="#p81" stroke="#b56f3e" stroke-width="3.5"/><use href="#p81" stroke="#e86810"/><use href="#p82" stroke="#929262" stroke-width="3.5"/><use href="#p82" stroke="#a8a850"/><use href="#p83" stroke="#b5663e" stroke-width="3.5"/><use href="#p83" stroke="#e85810"/><use href="#p84" stroke="#6a6f80" stroke-width="3.5"/><use href="#p84" stroke="#606888"/><use href="#p85" stroke="#a8a450" stroke-width="3.5"/><use href="#p85" stroke="#d0c830"/><use href="#p86" stroke="#73787c" stroke-width="3.5"/><use href="#p86" stroke="#707880"/><use href="#p87" stroke="#737380" stroke-width="3.5"/><use href="#p87" stroke="#707088"/><use href="#p88" stroke="#475d85" stroke-width="3.5"/><use href="#p88" stroke="#204890"/><use href="#p89" stroke="#b57843" stroke-width="3.5"/><use href="#p89" stroke="#e87818"/><use href="#p90" stroke="#b1503a" stroke-width="3.5"/><use href="#p90" stroke="#e03008"/><use href="#p91" stroke="#4c6285" stroke-width="3.5"/><use href="#p91" stroke="#285090"/><use href="#p92" stroke="#7c7c7c" stroke-width="3.5"/><use href="#p92" stroke="#808080"/><use href="#p93" stroke="#b1a84c" stroke-width="3.5"/><use href="#p93" stroke="#e0d028"/><use href="#p94" stroke="#89896f" stroke-width="3.5"/><use href="#p94" stroke="#989868"/><use href="#p95" stroke="#858573" stroke-width="3.5"/><use href="#p95" stroke="#909070"/><use href="#p96" stroke="#b5a847" stroke-width="3.5"/><use href="#p96" stroke="#e8d020"/><use href="#p97" stroke="#b15d3e" stroke-width="3.5"/><use href="#p97" stroke="#e04810"/><use href="#p98" stroke="#ba9f43" stroke-width="3.5"/><use href="#p98" stroke="#f0c018"/><use href="#p99" stroke="#b1a44c" stroke-width="3.5"/><use href="#p99" stroke="#e0c828"/><use href="#p100" stroke="#858578" stroke-width="3.5"/><use href="#p100" stroke="#909078"/><use href="#p101" stroke="#6a7380" stroke-width="3.5"/><use href="#p101" stroke="#607088"/><use href="#p102" stroke="#a49f54" stroke-width="3.5"/><use href="#p102" stroke="#c8c038"/><use href="#p103" stroke="#9b9659" stroke-width="3.5"/><use href="#p103" stroke="#b8b040"/><use href="#p104" stroke="#b1a847" stroke-width="3.5"/><use href="#p104" stroke="#e0d020"/><use href="#p105" stroke="#596685" stroke-width="3.5"/><use href="#p105" stroke="#405890"/><use href="#p106" stroke="#808078" stroke-width="3.5"/><use href="#p106" stroke="#888878"/><use href="#p107" stroke="#b55d3e" stroke-width="3.5"/><use href="#p107" stroke="#e84810"/><use href="#p108" stroke="#6a6f85" stroke-width="3.5"/><use href="#p108" stroke="#606890"/><use href="#p109" stroke="#b58043" stroke-width="3.5"/><use href="#p109" stroke="#e88818"/><use href="#p110" stroke="#737880" stroke-width="3.5"/><use href="#p110" stroke="#707888"/><use href="#p111" stroke="#8e8e6a" stroke-width="3.5"/><use href="#p111" stroke="#a0a060"/><use href="#p112" stroke="#ba9243" stroke-width="3.5"/><use href="#p112" stroke="#f0a818"/><use href="#p113" stroke="#a89f54" stroke-width="3.5"/><use href="#p113" stroke="#d0c038"/><use href="#p114" stroke="#6f7380" stroke-width="3.5"/><use href="#p114" stroke="#687088"/><use href="#p115" stroke="#b1543e" stroke-width="3.5"/><use href="#p115" stroke="#e03810"/><use href="#p116" stroke="#b1593e" stroke-width="3.5"/><use href="#p116" stroke="#e04010"/><use href="#p117" stroke="#b1473a" stroke-width="3.5"/><use href="#p117" stroke="#e02008"/><use href="#p118" stroke="#787c7c" stroke-width="3.5"/><use href="#p118" stroke="#788080"/><use href="#p119" stroke="#baa443" stroke-width="3.5"/><use href="#p119" stroke="#f0c818"/><use href="#p120" stroke="#9f9b54" stroke-width="3.5"/><use href="#p120" stroke="#c0b838"/><use href="#p121" stroke="#969262" stroke-width="3.5"/><use href="#p121" stroke="#b0a850"/><use href="#p122" stroke="#b56a3e" stroke-width="3.5"/><use href="#p122" stroke="#e86010"/><use href="#p123" stroke="#b58543" stroke-width="3.5"/><use href="#p123" stroke="#e89018"/><use href="#p124" stroke="#8e8e66" stroke-width="3.5"/><use href="#p124" stroke="#a0a058"/><use href="#p125" stroke="#b57343" stroke-width="3.5"/><use href="#p125" stroke="#e87018"/><use href="#p126" stroke="#b5623e" stroke-width="3.5"/><use href="#p126" stroke="#e85010"/><use href="#p127" stroke="#7c8078" stroke-width="3.5"/><use href="#p127" stroke="#808878"/><use href="#p128" stroke="#546285" stroke-width="3.5"/><use href="#p128" stroke="#385090"/><use href="#p129" stroke="#b5a843" stroke-width="3.5"/><use href="#p129" stroke="#e8d018"/><use href="#p130" stroke="#666f85" stroke-width="3.5"/><use href="#p130" stroke="#586890"/><use href="#p131" stroke="#5d6685" stroke-width="3.5"/><use href="#p131" stroke="#485890"/><use href="#p132" stroke="#475980" stroke-width="3.5"/><use href="#p132" stroke="#204088"/><use href="#p133" stroke="#b14c3a" stroke-width="3.5"/><use href="#p133" stroke="#e02808"/><use href="#p134" stroke="#929266" stroke-width="3.5"/><use href="#p134" stroke="#a8a858"/><use href="#p135" stroke="#a49b54" stroke-width="3.5"/><use href="#p135" stroke="#c8b838"/><use href="#p136" stroke="#5d6a85" stroke-width="3.5"/><use href="#p136" stroke="#486090"/><use href="#p137" stroke="#8e896a" stroke-width="3.5"/><use href="#p137" stroke="#a09860"/><use href="#p138" stroke="#a89f50" stroke-width="3.5"/><use href="#p138" stroke="#d0c030"/><use href="#p139" stroke="#4c5d85" stroke-width="3.5"/><use href="#p139" stroke="#284890"/><use href="#p140" stroke="#9f9b59" stroke-width="3.5"/><use href="#p140" stroke="#c0b840"/><use href="#p141" stroke="#626a85" stroke-width="3.5"/><use href="#p141" stroke="#506090"/><use href="#p142" stroke="#89856f" stroke-width="3.5"/><use href="#p142" stroke="#989068"/><use href="#p143" stroke="#506285" stroke-width="3.5"/><use href="#p143" stroke="#305090"/><use href="#p144" stroke="#ba9b43" stroke-width="3.5"/><use href="#p144" stroke="#f0b818"/><use href="#p145" stroke="#b56f43" stroke-width="3.5"/><use href="#p145" stroke="#e86818"/><use href="#p146" stroke="#9b965d" stroke-width="3.5"/><use href="#p146" stroke="#b8b048"/><use href="#p147" stroke="#546685" stroke-width="3.5"/><use href="#p147" stroke="#385890"/><use href="#p148" stroke="#78787c" stroke-width="3.5"/><use href="#p148" stroke="#787880"/><use href="#p149" stroke="#baa843" stroke-width="3.5"/><use href="#p149" stroke="#f0d018"/><use href="#p150" stroke="#ba8e43" stroke-width="3.5"/><use href="#p150" stroke="#f0a018"/><use href="#p151" stroke="#928e66" stroke-width="3.5"/><use href="#p151" stroke="#a8a058"/><use href="#p152" stroke="#96925d" stroke-width="3.5"/><use href="#p152" stroke="#b0a848"/><use href="#p153" stroke="#7c807c" stroke-width="3.5"/><use href="#p153" stroke="#808880"/><use href="#p154" stroke="#aca450" stroke-width="3.5"/><use href="#p154" stroke="#d8c830"/><use href="#p155" stroke="#b1503e" stroke-width="3.5"/><use href="#p155" stroke="#e03010"/><use href="#p156" stroke="#96965d" stroke-width="3.5"/><use href="#p156" stroke="#b0b048"/><use href="#p157" stroke="#b57c43" stroke-width="3.5"/><use href="#p157" stroke="#e88018"/><use href="#p158" stroke="#666a85" stroke-width="3.5"/><use href="#p158" stroke="#586090"/><use href="#p159" stroke="#ba9643" stroke-width="3.5"/><use href="#p159" stroke="#f0b018"/><use href="#p160" stroke="#aca44c" stroke-width="3.5"/><use href="#p160" stroke="#d8c828"/><use href="#p161" stroke="#b58943" stroke-width="3.5"/><use href="#p161" stroke="#e89818"/><use href="#p162" stroke="#ba9243" stroke-width="3.5"/><use href="#p162" stroke="#f0a818"/><use href="#p163" stroke="#9b965d" stroke-width="3.5"/><use href="#p163" stroke="#b8b048"/><use href="#p164" stroke="#b57843" stroke-width="3.5"/><use href="#p164" stroke="#e87818"/><use href="#p165" stroke="#929262" stroke-width="3.5"/><use href="#p165" stroke="#a8a850"/><use href="#p166" stroke="#929266" stroke-width="3.5"/><use href="#p166" stroke="#a8a858"/><use href="#p167" stroke="#ba9b43" stroke-width="3.5"/><use href="#p167" stroke="#f0b818"/><use href="#p168" stroke="#ba9643" stroke-width="3.5"/><use href="#p168" stroke="#f0b018"/><use href="#p169" stroke="#b57343" stroke-width="3.5"/><use href="#p169" stroke="#e87018"/><use href="#p170" stroke="#506285" stroke-width="3.5"/><use href="#p170" stroke="#305090"/><use href="#p171" stroke="#6a6f80" stroke-width="3.5"/><use href="#p171" stroke="#606888"/><use href="#p172" stroke="#7c7c7c" stroke-width="3.5"/><use href="#p172" stroke="#808080"/><use href="#p173" stroke="#596685" stroke-width="3.5"/><use href="#p173" stroke="#405890"/><use href="#p174" stroke="#4c5d85" stroke-width="3.5"/><use href="#p174" stroke="#284890"/><use href="#p175" stroke="#546685" stroke-width="3.5"/><use href="#p175" stroke="#385890"/><use href="#p176" stroke="#b5a847" stroke-width="3.5"/><use href="#p176" stroke="#e8d020"/><use href="#p177" stroke="#ba9f43" stroke-width="3.5"/><use href="#p177" stroke="#f0c018"/><use href="#p178" stroke="#b1543e" stroke-width="3.5"/><use href="#p178" stroke="#e03810"/><use href="#p179" stroke="#b55d3e" stroke-width="3.5"/><use href="#p179" stroke="#e84810"/><use href="#p180" stroke="#aca450" stroke-width="3.5"/><use href="#p180" stroke="#d8c830"/><use href="#p181" stroke="#546285" stroke-width="3.5"/><use href="#p181" stroke="#385090"/><use href="#p182" stroke="#666f85" stroke-width="3.5"/><use href="#p182" stroke="#586890"/><use href="#p183" stroke="#89896a" stroke-width="3.5"/><use href="#p183" stroke="#989860"/><use href="#p184" stroke="#a8a450" stroke-width="3.5"/><use href="#p184" stroke="#d0c830"/><use href="#p185" stroke="#9b9659" stroke-width="3.5"/><use href="#p185" stroke="#b8b040"/><use href="#p186" stroke="#b1593e" stroke-width="3.5"/><use href="#p186" stroke="#e04010"/><use href="#p187" stroke="#b14c3a" stroke-width="3.5"/><use href="#p187" stroke="#e02808"/><use href="#p188" stroke="#8e896a" stroke-width="3.5"/><use href="#p188" stroke="#a09860"/><use href="#p189" stroke="#b58543" stroke-width="3.5"/><use href="#p189" stroke="#e89018"/><use href="#p190" stroke="#b58043" stroke-width="3.5"/><use href="#p190" stroke="#e88818"/><use href="#p191" stroke="#8e8e66" stroke-width="3.5"/><use href="#p191" stroke="#a0a058"/><use href="#p192" stroke="#969262" stroke-width="3.5"/><use href="#p192" stroke="#b0a850"/><use href="#p193" stroke="#787c7c" stroke-width="3.5"/><use href="#p193" stroke="#788080"/><use href="#p194" stroke="#baa443" stroke-width="3.5"/><use href="#p194" stroke="#f0c818"/><use href="#p195" stroke="#96925d" stroke-width="3.5"/><use href="#p195" stroke="#b0a848"/><use href="#p196" stroke="#6a7380" stroke-width="3.5"/><use href="#p196" stroke="#607088"/><use href="#p197" stroke="#b1473a" stroke-width="3.5"/><use href="#p197" stroke="#e02008"/><use href="#p198" stroke="#b56f3e" stroke-width="3.5"/><use href="#p198" stroke="#e86810"/><use href="#p199" stroke="#89856f" stroke-width="3.5"/><use href="#p199" stroke="#989068"/><use href="#p200" stroke="#a89f50" stroke-width="3.5"/><use href="#p200" stroke="#d0c030"/><use href="#p201" stroke="#b15d3e" stroke-width="3.5"/><use href="#p201" stroke="#e04810"/><use href="#p202" stroke="#b5663e" stroke-width="3.5"/><use href="#p202" stroke="#e85810"/><use href="#p203" stroke="#475980" stroke-width="3.5"/><use href="#p203" stroke="#204088"/><use href="#p204" stroke="#b5623e" stroke-width="3.5"/><use href="#p204" stroke="#e85010"/><use href="#p205" stroke="#666a85" stroke-width="3.5"/><use href="#p205" stroke="#586090"/><use href="#p206" stroke="#928e66" stroke-width="3.5"/><use href="#p206" stroke="#a8a058"/><use href="#p207" stroke="#89896f" stroke-width="3.5"/><use href="#p207" stroke="#989868"/><use href="#p208" stroke="#a89f54" stroke-width="3.5"/><use href="#p208" stroke="#d0c038"/><use href="#p209" stroke="#aca44c" stroke-width="3.5"/><use href="#p209" stroke="#d8c828"/><use href="#p210" stroke="#b1503a" stroke-width="3.5"/><use href="#p210" stroke="#e03008"/><use href="#p211" stroke="#b58943" stroke-width="3.5"/><use href="#p211" stroke="#e89818"/><use href="#p212" stroke="#a49f54" stroke-width="3.5"/><use href="#p212" stroke="#c8c038"/><use href="#p213" stroke="#6f7380" stroke-width="3.5"/><use href="#p213" stroke="#687088"/><use href="#p214" stroke="#b56f43" stroke-width="3.5"/><use href="#p214" stroke="#e86818"/><use href="#p215" stroke="#a49b54" stroke-width="3.5"/><use href="#p215" stroke="#c8b838"/><use href="#p216" stroke="#808078" stroke-width="3.5"/><use href="#p216" stroke="#888878"/><use href="#p217" stroke="#858078" stroke-width="3.5"/><use href="#p217" stroke="#908878"/><use href="#p218" stroke="#b1503e" stroke-width="3.5"/><use href="#p218" stroke="#e03010"/><use href="#p219" stroke="#858573" stroke-width="3.5"/><use href="#p219" stroke="#909070"/><use href="#p220" stroke="#626a85" stroke-width="3.5"/><use href="#p220" stroke="#506090"/><use href="#p221" stroke="#ba8e43" stroke-width="3.5"/><use href="#p221" stroke="#f0a018"/><use href="#p222" stroke="#b57c43" stroke-width="3.5"/><use href="#p222" stroke="#e88018"/><use href="#p223" stroke="#8e8e6a" stroke-width="3.5"/><use href="#p223" stroke="#a0a060"/><use href="#p224" stroke="#b56a3e" stroke-width="3.5"/><use href="#p224" stroke="#e86010"/><use href="#p225" stroke="#b1a847" stroke-width="3.5"/><use href="#p225" stroke="#e0d020"/><use href="#p226" stroke="#737880" stroke-width="3.5"/><use href="#p226" stroke="#707888"/><use href="#p227" stroke="#5d6685" stroke-width="3.5"/><use href="#p227" stroke="#485890"/><use href="#p228" stroke="#96965d" stroke-width="3.5"/><use href="#p228" stroke="#b0b048"/><use href="#p229" stroke="#9f9b59" stroke-width="3.5"/><use href="#p229" stroke="#c0b840"/><use href="#p230" stroke="#b5a843" stroke-width="3.5"/><use href="#p230" stroke="#e8d018"/><use href="#p231" stroke="#475d85" stroke-width="3.5"/><use href="#p231" stroke="#204890"/><use href="#p232" stroke="#b1a84c" stroke-width="3.5"/><use href="#p232" stroke="#e0d028"/><use href="#p233" stroke="#baa843" stroke-width="3.5"/><use href="#p233" stroke="#f0d018"/><use href="#p234" stroke="#6a6f85" stroke-width="3.5"/><use href="#p234" stroke="#606890"/><use href="#p235" stroke="#73787c" stroke-width="3.5"/><use href="#p235" stroke="#707880"/><use href="#p236" stroke="#b1a44c" stroke-width="3.5"/><use href="#p236" stroke="#e0c828"/><use href="#p237" stroke="#78787c" stroke-width="3.5"/><use href="#p237" stroke="#787880"/><use href="#p238" stroke="#5d6a85" stroke-width="3.5"/><use href="#p238" stroke="#486090"/><use href="#p239" stroke="#9f9b54" stroke-width="3.5"/><use href="#p239" stroke="#c0b838"/><use href="#p240" stroke="#b5663e" stroke-width="3.5"/><use href="#p240" stroke="#e85810"/><use href="#p241" stroke="#7c7c7c" stroke-width="3.5"/><use href="#p241" stroke="#808080"/><use href="#p242" stroke="#666f85" stroke-width="3.5"/><use href="#p242" stroke="#586890"/><use href="#p243" stroke="#626a85" stroke-width="3.5"/><use href="#p243" stroke="#506090"/><use href="#p244" stroke="#b5a843" stroke-width="3.5"/><use href="#p244" stroke="#e8d018"/><use href="#p245" stroke="#ba9243" stroke-width="3.5"/><use href="#p245" stroke="#f0a818"/><use href="#p246" stroke="#787c7c" stroke-width="3.5"/><use href="#p246" stroke="#788080"/><use href="#p247" stroke="#aca44c" stroke-width="3.5"/><use href="#p247" stroke="#d8c828"/><use href="#p248" stroke="#b57c43" stroke-width="3.5"/><use href="#p248" stroke="#e88018"/><use href="#p249" stroke="#89856f" stroke-width="3.5"/><use href="#p249" stroke="#989068"/><use href="#p250" stroke="#ba9f43" stroke-width="3.5"/><use href="#p250" stroke="#f0c018"/><use href="#p251" stroke="#b1a84c" stroke-width="3.5"/><use href="#p251" stroke="#e0d028"/><use href="#p252" stroke="#b56f3e" stroke-width="3.5"/><use href="#p252" stroke="#e86810"/><use href="#p253" stroke="#baa443" stroke-width="3.5"/><use href="#p253" stroke="#f0c818"/><use href="#p254" stroke="#666a85" stroke-width="3.5"/><use href="#p254" stroke="#586090"/><use href="#p255" stroke="#a8a450" stroke-width="3.5"/><use href="#p255" stroke="#d0c830"/><use href="#p256" stroke="#b1503e" stroke-width="3.5"/><use href="#p256" stroke="#e03010"/><use href="#p257" stroke="#808078" stroke-width="3.5"/><use href="#p257" stroke="#888878"/><use href="#p258" stroke="#b58543" stroke-width="3.5"/><use href="#p258" stroke="#e89018"/><use href="#p259" stroke="#5d6685" stroke-width="3.5"/><use href="#p259" stroke="#485890"/><use href="#p260" stroke="#b55d3e" stroke-width="3.5"/><use href="#p260" stroke="#e84810"/><use href="#p261" stroke="#6a6f80" stroke-width="3.5"/><use href="#p261" stroke="#606888"/><use href="#p262" stroke="#b58943" stroke-width="3.5"/><use href="#p262" stroke="#e89818"/><use href="#p263" stroke="#b56f43" stroke-width="3.5"/><use href="#p263" stroke="#e86818"/><use href="#p264" stroke="#6f7380" stroke-width="3.5"/><use href="#p264" stroke="#687088"/><use href="#p265" stroke="#928e66" stroke-width="3.5"/><use href="#p265" stroke="#a8a058"/><use href="#p266" stroke="#b1a847" stroke-width="3.5"/><use href="#p266" stroke="#e0d020"/><use href="#p267" stroke="#6a6f85" stroke-width="3.5"/><use href="#p267" stroke="#606890"/><use href="#p268" stroke="#96925d" stroke-width="3.5"/><use href="#p268" stroke="#b0a848"/><use href="#p269" stroke="#ba8e43" stroke-width="3.5"/><use href="#p269" stroke="#f0a018"/><use href="#p270" stroke="#9b965d" stroke-width="3.5"/><use href="#p270" stroke="#b8b048"/><use href="#p271" stroke="#89896f" stroke-width="3.5"/><use href="#p271" stroke="#989868"/><use href="#p272" stroke="#96965d" stroke-width="3.5"/><use href="#p272" stroke="#b0b048"/><use href="#p273" stroke="#8e896a" stroke-width="3.5"/><use href="#p273" stroke="#a09860"/><use href="#p274" stroke="#a89f54" stroke-width="3.5"/><use href="#p274" stroke="#d0c038"/><use href="#p275" stroke="#6a7380" stroke-width="3.5"/><use href="#p275" stroke="#607088"/><use href="#p276" stroke="#506285" stroke-width="3.5"/><use href="#p276" stroke="#305090"/><use href="#p277" stroke="#8e8e6a" stroke-width="3.5"/><use href="#p277" stroke="#a0a060"/><use href="#p278" stroke="#9f9b59" stroke-width="3.5"/><use href="#p278" stroke="#c0b840"/><use href="#p279" stroke="#b5623e" stroke-width="3.5"/><use href="#p279" stroke="#e85010"/><use href="#p280" stroke="#a49f54" stroke-width="3.5"/><use href="#p280" stroke="#c8c038"/><use href="#p281" stroke="#546685" stroke-width="3.5"/><use href="#p281" stroke="#385890"/><use href="#p282" stroke="#969262" stroke-width="3.5"/><use href="#p282" stroke="#b0a850"/><use href="#p283" stroke="#b1543e" stroke-width="3.5"/><use href="#p283" stroke="#e03810"/><use href="#p284" stroke="#929262" stroke-width="3.5"/><use href="#p284" stroke="#a8a850"/><use href="#p285" stroke="#858573" stroke-width="3.5"/><use href="#p285" stroke="#909070"/><use href="#p286" stroke="#9b9659" stroke-width="3.5"/><use href="#p286" stroke="#b8b040"/><use href="#p287" stroke="#b56a3e" stroke-width="3.5"/><use href="#p287" stroke="#e86010"/><use href="#p288" stroke="#b15d3e" stroke-width="3.5"/><use href="#p288" stroke="#e04810"/><use href="#p289" stroke="#78787c" stroke-width="3.5"/><use href="#p289" stroke="#787880"/><use href="#p290" stroke="#b57843" stroke-width="3.5"/><use href="#p290" stroke="#e87818"/><use href="#p291" stroke="#b58043" stroke-width="3.5"/><use href="#p291" stroke="#e88818"/><use href="#p292" stroke="#ba9643" stroke-width="3.5"/><use href="#p292" stroke="#f0b018"/><use href="#p293" stroke="#b1593e" stroke-width="3.5"/><use href="#p293" stroke="#e04010"/><use href="#p294" stroke="#5d6a85" stroke-width="3.5"/><use href="#p294" stroke="#486090"/><use href="#p295" stroke="#475980" stroke-width="3.5"/><use href="#p295" stroke="#204088"/><use href="#p296" stroke="#b1503a" stroke-width="3.5"/><use href="#p296" stroke="#e03008"/><use href="#p297" stroke="#546285" stroke-width="3.5"/><use href="#p297" stroke="#385090"/><use href="#p298" stroke="#89896a" stroke-width="3.5"/><use href="#p298" stroke="#989860"/><use href="#p299" stroke="#8e8e66" stroke-width="3.5"/><use href="#p299" stroke="#a0a058"/><use href="#p300" stroke="#b1a44c" stroke-width="3.5"/><use href="#p300" stroke="#e0c828"/><use href="#p301" stroke="#b5a847" stroke-width="3.5"/><use href="#p301" stroke="#e8d020"/><use href="#p302" stroke="#475d85" stroke-width="3.5"/><use href="#p302" stroke="#204890"/><use href="#p303" stroke="#737880" stroke-width="3.5"/><use href="#p303" stroke="#707888"/><use href="#p304" stroke="#b14c3a" stroke-width="3.5"/><use href="#p304" stroke="#e02808"/><use href="#p305" stroke="#a89f50" stroke-width="3.5"/><use href="#p305" stroke="#d0c030"/><use href="#p306" stroke="#73787c" stroke-width="3.5"/><use href="#p306" stroke="#707880"/><use href="#p307" stroke="#b1473a" stroke-width="3.5"/><use href="#p307" stroke="#e02008"/><use href="#p308" stroke="#ba9b43" stroke-width="3.5"/><use href="#p308" stroke="#f0b818"/><use href="#p309" stroke="#baa843" stroke-width="3.5"/><use href="#p309" stroke="#f0d018"/><use href="#p310" stroke="#9f9659" stroke-width="3.5"/><use href="#p310" stroke="#c0b040"/><use href="#p311" stroke="#b57343" stroke-width="3.5"/><use href="#p311" stroke="#e87018"/><use href="#p312" stroke="#596685" stroke-width="3.5"/><use href="#p312" stroke="#405890"/><use href="#p313" stroke="#4c5d85" stroke-width="3.5"/><use href="#p313" stroke="#284890"/><use href="#p314" stroke="#aca450" stroke-width="3.5"/><use href="#p314" stroke="#d8c830"/><use href="#p315" stroke="#a49b54" stroke-width="3.5"/><use href="#p315" stroke="#c8b838"/><use href="#p316" stroke="#737380" stroke-width="3.5"/><use href="#p316" stroke="#707088"/><use href="#p317" stroke="#b1593e" stroke-width="3.5"/><use href="#p317" stroke="#e04010"/><use href="#p318" stroke="#ba9243" stroke-width="3.5"/><use href="#p318" stroke="#f0a818"/><use href="#p319" stroke="#666f85" stroke-width="3.5"/><use href="#p319" stroke="#586890"/><use href="#p320" stroke="#596685" stroke-width="3.5"/><use href="#p320" stroke="#405890"/><use href="#p321" stroke="#aca44c" stroke-width="3.5"/><use href="#p321" stroke="#d8c828"/><use href="#p322" stroke="#6a7380" stroke-width="3.5"/><use href="#p322" stroke="#607088"/><use href="#p323" stroke="#96965d" stroke-width="3.5"/><use href="#p323" stroke="#b0b048"/><use href="#p324" stroke="#baa843" stroke-width="3.5"/><use href="#p324" stroke="#f0d018"/><use href="#p325" stroke="#475980" stroke-width="3.5"/><use href="#p325" stroke="#204088"/><use href="#p326" stroke="#6f7380" stroke-width="3.5"/><use href="#p326" stroke="#687088"/><use href="#p327" stroke="#b57c43" stroke-width="3.5"/><use href="#p327" stroke="#e88018"/><use href="#p328" stroke="#737380" stroke-width="3.5"/><use href="#p328" stroke="#707088"/><use href="#p329" stroke="#929262" stroke-width="3.5"/><use href="#p329" stroke="#a8a850"/><use href="#p330" stroke="#b56f43" stroke-width="3.5"/><use href="#p330" stroke="#e86818"/><use href="#p331" stroke="#78787c" stroke-width="3.5"/><use href="#p331" stroke="#787880"/><use href="#p332" stroke="#89856f" stroke-width="3.5"/><use href="#p332" stroke="#989068"/><use href="#p333" stroke="#b5a843" stroke-width="3.5"/><use href="#p333" stroke="#e8d018"/><use href="#p334" stroke="#baa443" stroke-width="3.5"/><use href="#p334" stroke="#f0c818"/><use href="#p335" stroke="#475d85" stroke-width="3.5"/><use href="#p335" stroke="#204890"/><use href="#p336" stroke="#b56f3e" stroke-width="3.5"/><use href="#p336" stroke="#e86810"/><use href="#p337" stroke="#b15d3e" stroke-width="3.5"/><use href="#p337" stroke="#e04810"/><use href="#p338" stroke="#a8a450" stroke-width="3.5"/><use href="#p338" stroke="#d0c830"/><use href="#p339" stroke="#b55d3e" stroke-width="3.5"/><use href="#p339" stroke="#e84810"/><use href="#p340" stroke="#b1473a" stroke-width="3.5"/><use href="#p340" stroke="#e02008"/><use href="#p341" stroke="#b57843" stroke-width="3.5"/><use href="#p341" stroke="#e87818"/><use href="#p342" stroke="#898573" stroke-width="3.5"/><use href="#p342" stroke="#989070"/><use href="#p343" stroke="#b5a847" stroke-width="3.5"/><use href="#p343" stroke="#e8d020"/><use href="#p344" stroke="#73787c" stroke-width="3.5"/><use href="#p344" stroke="#707880"/><use href="#p345" stroke="#858578" stroke-width="3.5"/><use href="#p345" stroke="#909078"/><use href="#p346" stroke="#626a85" stroke-width="3.5"/><use href="#p346" stroke="#506090"/><use href="#p347" stroke="#aca450" stroke-width="3.5"/><use href="#p347" stroke="#d8c830"/><use href="#p348" stroke="#b14c3a" stroke-width="3.5"/><use href="#p348" stroke="#e02808"/><use href="#p349" stroke="#7c7c7c" stroke-width="3.5"/><use href="#p349" stroke="#808080"/><use href="#p350" stroke="#928e66" stroke-width="3.5"/><use href="#p350" stroke="#a8a058"/><use href="#p351" stroke="#ba9f43" stroke-width="3.5"/><use href="#p351" stroke="#f0c018"/><use href="#p352" stroke="#b57343" stroke-width="3.5"/><use href="#p352" stroke="#e87018"/><use href="#p353" stroke="#ba8e43" stroke-width="3.5"/><use href="#p353" stroke="#f0a018"/><use href="#p354" stroke="#96925d" stroke-width="3.5"/><use href="#p354" stroke="#b0a848"/><use href="#p355" stroke="#a89f50" stroke-width="3.5"/><use href="#p355" stroke="#d0c030"/><use href="#p356" stroke="#506285" stroke-width="3.5"/><use href="#p356" stroke="#305090"/><use href="#p357" stroke="#969262" stroke-width="3.5"/><use href="#p357" stroke="#b0a850"/><use href="#p358" stroke="#b56a3e" stroke-width="3.5"/><use href="#p358" stroke="#e86010"/><use href="#p359" stroke="#858573" stroke-width="3.5"/><use href="#p359" stroke="#909070"/><use href="#p360" stroke="#9b965d" stroke-width="3.5"/><use href="#p360" stroke="#b8b048"/><use href="#p361" stroke="#b1503a" stroke-width="3.5"/><use href="#p361" stroke="#e03008"/><use href="#p362" stroke="#a49f54" stroke-width="3.5"/><use href="#p362" stroke="#c8c038"/><use href="#p363" stroke="#89896a" stroke-width="3.5"/><use href="#p363" stroke="#989860"/><use href="#p364" stroke="#737880" stroke-width="3.5"/><use href="#p364" stroke="#707888"/><use href="#p365" stroke="#6a6f80" stroke-width="3.5"/><use href="#p365" stroke="#606888"/><use href="#p366" stroke="#9b9659" stroke-width="3.5"/><use href="#p366" stroke="#b8b040"/><use href="#p367" stroke="#5d6a85" stroke-width="3.5"/><use href="#p367" stroke="#486090"/><use href="#p368" stroke="#8e8e6a" stroke-width="3.5"/><use href="#p368" stroke="#a0a060"/><use href="#p369" stroke="#787c7c" stroke-width="3.5"/><use href="#p369" stroke="#788080"/><use href="#p370" stroke="#808078" stroke-width="3.5"/><use href="#p370" stroke="#888878"/><use href="#p371" stroke="#b1a44c" stroke-width="3.5"/><use href="#p371" stroke="#e0c828"/><use href="#p372" stroke="#89896f" stroke-width="3.5"/><use href="#p372" stroke="#989868"/><use href="#p373" stroke="#b1a84c" stroke-width="3.5"/><use href="#p373" stroke="#e0d028"/><use href="#p374" stroke="#b5623e" stroke-width="3.5"/><use href="#p374" stroke="#e85010"/><use href="#p375" stroke="#b5663e" stroke-width="3.5"/><use href="#p375" stroke="#e85810"/><use href="#p376" stroke="#b58043" stroke-width="3.5"/><use href="#p376" stroke="#e88818"/><use href="#p377" stroke="#b1543e" stroke-width="3.5"/><use href="#p377" stroke="#e03810"/><use href="#p378" stroke="#858078" stroke-width="3.5"/><use href="#p378" stroke="#908878"/><use href="#p379" stroke="#5d6685" stroke-width="3.5"/><use href="#p379" stroke="#485890"/><use href="#p380" stroke="#8e896a" stroke-width="3.5"/><use href="#p380" stroke="#a09860"/><use href="#p381" stroke="#b1503e" stroke-width="3.5"/><use href="#p381" stroke="#e03010"/><use href="#p382" stroke="#b1a847" stroke-width="3.5"/><use href="#p382" stroke="#e0d020"/><use href="#p383" stroke="#a49b54" stroke-width="3.5"/><use href="#p383" stroke="#c8b838"/><use href="#p384" stroke="#b58543" stroke-width="3.5"/><use href="#p384" stroke="#e89018"/><use href="#p385" stroke="#4c5d85" stroke-width="3.5"/><use href="#p385" stroke="#284890"/><use href="#p386" stroke="#ba9b43" stroke-width="3.5"/><use href="#p386" stroke="#f0b818"/><use href="#p387" stroke="#546285" stroke-width="3.5"/><use href="#p387" stroke="#385090"/><use href="#p388" stroke="#7c807c" stroke-width="3.5"/><use href="#p388" stroke="#808880"/><use href="#p389" stroke="#ba9643" stroke-width="3.5"/><use href="#p389" stroke="#f0b018"/><use href="#p390" stroke="#9f9b59" stroke-width="3.5"/><use href="#p390" stroke="#c0b840"/><use href="#p391" stroke="#666a85" stroke-width="3.5"/><use href="#p391" stroke="#586090"/><use href="#p392" stroke="#b58943" stroke-width="3.5"/><use href="#p392" stroke="#e89818"/><use href="#p393" stroke="#8e8e66" stroke-width="3.5"/><use href="#p393" stroke="#a0a058"/><use href="#p394" stroke="#6a6f85" stroke-width="3.5"/><use href="#p394" stroke="#606890"/><use href="#p395" stroke="#a89f54" stroke-width="3.5"/><use href="#p395" stroke="#d0c038"/></g><clipPath id="pc"><rect x="448.65" y="54.60" width="334.85" height="344.60"/></clipPath><g clip-path="url(#pc)"><line x1="448.65" y1="378.90" x2="783.07" y2="33.80" stroke="#4cae50" stroke-width="1.25"/><line x1="448.65" y1="399.20" x2="783.07" y2="54.10" stroke="#4cae50" stroke-width="1.3"/><line x1="448.65" y1="399.20" x2="783.07" y2="54.10" stroke="#62bcc4" stroke-width="0.55"/><line x1="448.65" y1="419.50" x2="783.07" y2="74.40" stroke="#4cae50" stroke-width="1.3"/><line x1="448.65" y1="419.50" x2="783.07" y2="74.40" stroke="#62bcbc" stroke-width="0.5"/></g><rect x="448.65" y="54.60" width="334.85" height="344.60" fill="none" stroke="#4a4a4a" stroke-width="1.4"/><line x1="448.65" y1="54.60" x2="448.65" y2="399.20" stroke="#6a6a6a" stroke-width="1.5"/><line x1="448.65" y1="399.20" x2="783.50" y2="399.20" stroke="#34345a" stroke-width="1.3"/><g stroke="#333" stroke-width="1"><line x1="448.65" y1="399.20" x2="448.65" y2="396.20"/><line x1="448.65" y1="54.60" x2="448.65" y2="57.60"/><line x1="448.65" y1="399.20" x2="451.65" y2="399.20"/><line x1="783.50" y1="399.20" x2="780.50" y2="399.20"/><line x1="487.99" y1="399.20" x2="487.99" y2="396.20"/><line x1="487.99" y1="54.60" x2="487.99" y2="57.60"/><line x1="448.65" y1="358.60" x2="451.65" y2="358.60"/><line x1="783.50" y1="358.60" x2="780.50" y2="358.60"/><line x1="527.34" y1="399.20" x2="527.34" y2="396.20"/><line x1="527.34" y1="54.60" x2="527.34" y2="57.60"/><line x1="448.65" y1="318.00" x2="451.65" y2="318.00"/><line x1="783.50" y1="318.00" x2="780.50" y2="318.00"/><line x1="566.68" y1="399.20" x2="566.68" y2="396.20"/><line x1="566.68" y1="54.60" x2="566.68" y2="57.60"/><line x1="448.65" y1="277.40" x2="451.65" y2="277.40"/><line x1="783.50" y1="277.40" x2="780.50" y2="277.40"/><line x1="606.02" y1="399.20" x2="606.02" y2="396.20"/><line x1="606.02" y1="54.60" x2="606.02" y2="57.60"/><line x1="448.65" y1="236.80" x2="451.65" y2="236.80"/><line x1="783.50" y1="236.80" x2="780.50" y2="236.80"/><line x1="645.37" y1="399.20" x2="645.37" y2="396.20"/><line x1="645.37" y1="54.60" x2="645.37" y2="57.60"/><line x1="448.65" y1="196.20" x2="451.65" y2="196.20"/><line x1="783.50" y1="196.20" x2="780.50" y2="196.20"/><line x1="684.71" y1="399.20" x2="684.71" y2="396.20"/><line x1="684.71" y1="54.60" x2="684.71" y2="57.60"/><line x1="448.65" y1="155.60" x2="451.65" y2="155.60"/><line x1="783.50" y1="155.60" x2="780.50" y2="155.60"/><line x1="724.06" y1="399.20" x2="724.06" y2="396.20"/><line x1="724.06" y1="54.60" x2="724.06" y2="57.60"/><line x1="448.65" y1="115.00" x2="451.65" y2="115.00"/><line x1="783.50" y1="115.00" x2="780.50" y2="115.00"/><line x1="763.40" y1="399.20" x2="763.40" y2="396.20"/><line x1="763.40" y1="54.60" x2="763.40" y2="57.60"/><line x1="448.65" y1="74.40" x2="451.65" y2="74.40"/><line x1="783.50" y1="74.40" x2="780.50" y2="74.40"/></g><g fill="#333"><text x="446.14" y="409.60" font-size="10.40" textLength="5.02" lengthAdjust="spacingAndGlyphs">2</text><text x="441.08" y="401.90" font-size="10.40" textLength="5.02" lengthAdjust="spacingAndGlyphs">2</text><text x="485.51" y="409.60" font-size="10.40" textLength="5.02" lengthAdjust="spacingAndGlyphs">4</text><text x="440.89" y="361.30" font-size="10.40" textLength="5.02" lengthAdjust="spacingAndGlyphs">4</text><text x="524.80" y="409.60" font-size="10.40" textLength="5.02" lengthAdjust="spacingAndGlyphs">6</text><text x="441.03" y="320.70" font-size="10.40" textLength="5.02" lengthAdjust="spacingAndGlyphs">6</text><text x="564.17" y="409.60" font-size="10.40" textLength="5.02" lengthAdjust="spacingAndGlyphs">8</text><text x="441.02" y="280.10" font-size="10.40" textLength="5.02" lengthAdjust="spacingAndGlyphs">8</text><text x="600.84" y="409.60" font-size="10.40" textLength="10.04" lengthAdjust="spacingAndGlyphs">10</text><text x="435.96" y="239.50" font-size="10.40" textLength="10.04" lengthAdjust="spacingAndGlyphs">10</text><text x="640.23" y="409.60" font-size="10.40" textLength="10.04" lengthAdjust="spacingAndGlyphs">12</text><text x="436.06" y="198.90" font-size="10.40" textLength="10.04" lengthAdjust="spacingAndGlyphs">12</text><text x="679.48" y="409.60" font-size="10.40" textLength="10.04" lengthAdjust="spacingAndGlyphs">14</text><text x="435.87" y="158.30" font-size="10.40" textLength="10.04" lengthAdjust="spacingAndGlyphs">14</text><text x="718.89" y="409.60" font-size="10.40" textLength="10.04" lengthAdjust="spacingAndGlyphs">16</text><text x="436.01" y="117.70" font-size="10.40" textLength="10.04" lengthAdjust="spacingAndGlyphs">16</text><text x="758.23" y="409.60" font-size="10.40" textLength="10.04" lengthAdjust="spacingAndGlyphs">18</text><text x="436.00" y="77.10" font-size="10.40" textLength="10.04" lengthAdjust="spacingAndGlyphs">18</text></g><text x="594.60" y="436.00" font-size="15.90" textLength="23.66" lengthAdjust="spacingAndGlyphs" fill="#222">M0</text><text x="-1.60" y="0.00" font-size="19.55" textLength="111.06" lengthAdjust="spacingAndGlyphs" fill="#222" transform="translate(419.95 292.3) rotate(-90)">M0+Hsp16.3</text><path d="M168.50 659.80L168.50 547.80A112.00 112.00 0 1 1 57.38 673.84Z" fill="#4e7e34" stroke="#fff" stroke-width="1.2" stroke-linejoin="round"/><path d="M168.50 659.80L57.38 673.84A112.00 112.00 0 0 1 91.83 578.16Z" fill="#5a9038" stroke="#fff" stroke-width="1.2" stroke-linejoin="round"/><path d="M168.50 659.80L91.83 578.16A112.00 112.00 0 0 1 114.54 561.65Z" fill="#64a040" stroke="#fff" stroke-width="1.2" stroke-linejoin="round"/><path d="M168.50 659.80L114.54 561.65A112.00 112.00 0 0 1 154.46 548.68Z" fill="#98b888" stroke="#fff" stroke-width="1.2" stroke-linejoin="round"/><path d="M168.50 659.80L154.46 548.68A112.00 112.00 0 0 1 168.50 547.80Z" fill="#bcd4b0" stroke="#fff" stroke-width="1.2" stroke-linejoin="round"/><path d="M537.80 658.40L537.80 545.40A113.00 113.00 0 1 1 502.88 765.87Z" fill="#4e7e34" stroke="#fff" stroke-width="1.2" stroke-linejoin="round"/><path d="M537.80 658.40L502.88 765.87A113.00 113.00 0 0 1 425.69 672.56Z" fill="#5a9038" stroke="#fff" stroke-width="1.2" stroke-linejoin="round"/><path d="M537.80 658.40L425.69 672.56A113.00 113.00 0 0 1 432.74 616.80Z" fill="#64a040" stroke="#fff" stroke-width="1.2" stroke-linejoin="round"/><path d="M537.80 658.40L432.74 616.80A113.00 113.00 0 0 1 489.69 556.15Z" fill="#98b888" stroke="#fff" stroke-width="1.2" stroke-linejoin="round"/><path d="M537.80 658.40L489.69 556.15A113.00 113.00 0 0 1 537.80 545.40Z" fill="#bcd4b0" stroke="#fff" stroke-width="1.2" stroke-linejoin="round"/><clipPath id="pie1c"><circle cx="168.5" cy="659.8" r="110.5"/></clipPath><clipPath id="pie2c"><circle cx="537.8" cy="658.4" r="111.5"/></clipPath><g clip-path="url(#pie1c)" stroke="#75945f" stroke-width="0.8"><line x1="173.2" y1="681.30" x2="290" y2="681.30"/><line x1="173.2" y1="684.18" x2="290" y2="684.18"/><line x1="173.2" y1="687.06" x2="290" y2="687.06"/><line x1="173.2" y1="689.94" x2="290" y2="689.94"/><line x1="173.2" y1="692.82" x2="290" y2="692.82"/><line x1="173.2" y1="695.70" x2="290" y2="695.70"/><line x1="173.2" y1="698.58" x2="290" y2="698.58"/><line x1="173.2" y1="701.46" x2="290" y2="701.46"/><line x1="173.2" y1="704.34" x2="290" y2="704.34"/><line x1="173.2" y1="707.22" x2="290" y2="707.22"/><line x1="173.2" y1="710.10" x2="290" y2="710.10"/><line x1="173.2" y1="712.98" x2="290" y2="712.98"/><line x1="173.2" y1="715.86" x2="290" y2="715.86"/><line x1="173.2" y1="718.74" x2="290" y2="718.74"/></g><g clip-path="url(#pie2c)" stroke="#6f8f5a" stroke-width="0.7"><line x1="585.4" y1="563.20" x2="660" y2="563.20"/><line x1="585.4" y1="668.90" x2="660" y2="668.90"/><line x1="585.4" y1="681.20" x2="660" y2="681.20"/><line x1="585.4" y1="721.40" x2="660" y2="721.40"/><line x1="585.4" y1="728.10" x2="660" y2="728.10"/></g><text x="90.84" y="515.60" font-size="15.30" fill="#222">Down-regulated genes</text><text x="474.02" y="515.40" font-size="15.30" fill="#222">Up-regulated genes</text><text x="158.36" y="544.75" font-size="12.80" textLength="18.29" lengthAdjust="spacingAndGlyphs" fill="#222">2%</text><text x="124.10" y="550.80" font-size="12.80" textLength="18.13" lengthAdjust="spacingAndGlyphs" fill="#222">6%</text><text x="86.61" y="567.90" font-size="12.80" textLength="18.24" lengthAdjust="spacingAndGlyphs" fill="#222">4%</text><text x="37.00" y="624.10" font-size="12.80" textLength="25.16" lengthAdjust="spacingAndGlyphs" fill="#222">15%</text><text x="251.74" y="744.10" font-size="12.80" fill="#222">73%</text><text x="500.04" y="546.70" font-size="12.80" textLength="18.62" lengthAdjust="spacingAndGlyphs" fill="#222">7%</text><text x="428.86" y="581.80" font-size="12.80" textLength="24.68" lengthAdjust="spacingAndGlyphs" fill="#222">12%</text><text x="406.03" y="652.80" font-size="12.80" textLength="18.83" lengthAdjust="spacingAndGlyphs" fill="#222">8%</text><text x="422.94" y="734.50" font-size="12.80" textLength="25.21" lengthAdjust="spacingAndGlyphs" fill="#222">18%</text><text x="651.59" y="683.20" font-size="12.80" textLength="25.46" lengthAdjust="spacingAndGlyphs" fill="#222">55%</text><text x="304.25" y="673.60" font-size="12.80" fill="#222">Fold change</text><rect x="305.1" y="683.3" width="6.8" height="6.4" fill="#4e7e34"/><text x="314.69" y="689.90" font-size="12.50" textLength="17.43" lengthAdjust="spacingAndGlyphs" fill="#222">2-3</text><rect x="305.1" y="703.0" width="6.8" height="6.4" fill="#5a9038"/><text x="314.84" y="709.65" font-size="12.50" textLength="17.43" lengthAdjust="spacingAndGlyphs" fill="#222">3-4</text><rect x="305.1" y="722.8" width="6.8" height="6.4" fill="#64a040"/><text x="315.02" y="729.40" font-size="12.50" textLength="17.43" lengthAdjust="spacingAndGlyphs" fill="#222">4-5</text><rect x="305.1" y="742.5" width="6.8" height="6.4" fill="#98b888"/><text x="314.82" y="749.15" font-size="12.50" textLength="24.14" lengthAdjust="spacingAndGlyphs" fill="#222">5-10</text><rect x="305.1" y="762.3" width="6.8" height="6.4" fill="#bcd4b0"/><text x="314.71" y="768.90" font-size="12.50" textLength="20.46" lengthAdjust="spacingAndGlyphs" fill="#222">&gt;10</text><text x="700.45" y="665.80" font-size="12.80" fill="#222">Fold change</text><rect x="701.1" y="674.5" width="6.8" height="6.4" fill="#4e7e34"/><text x="710.89" y="681.10" font-size="12.50" textLength="17.43" lengthAdjust="spacingAndGlyphs" fill="#222">2-3</text><rect x="701.1" y="694.2" width="6.8" height="6.4" fill="#5a9038"/><text x="711.04" y="700.85" font-size="12.50" textLength="17.43" lengthAdjust="spacingAndGlyphs" fill="#222">3-4</text><rect x="701.1" y="714.0" width="6.8" height="6.4" fill="#64a040"/><text x="711.22" y="720.60" font-size="12.50" textLength="17.43" lengthAdjust="spacingAndGlyphs" fill="#222">4-5</text><rect x="701.1" y="733.8" width="6.8" height="6.4" fill="#98b888"/><text x="711.02" y="740.35" font-size="12.50" textLength="24.14" lengthAdjust="spacingAndGlyphs" fill="#222">5-10</text><rect x="701.1" y="753.5" width="6.8" height="6.4" fill="#bcd4b0"/><text x="710.91" y="760.10" font-size="12.50" textLength="20.46" lengthAdjust="spacingAndGlyphs" fill="#222">&gt;10</text><rect x="144.6" y="850.1" width="81.3" height="54.3" fill="#67a346"/><rect x="227.9" y="850.1" width="109.1" height="54.3" fill="#67a346"/><rect x="339.0" y="850.1" width="261.8" height="54.3" fill="#67a346"/><rect x="144.6" y="909.6" width="81.3" height="30.3" fill="#67a346"/><rect x="227.9" y="909.6" width="109.1" height="30.3" fill="#d3dfcd"/><rect x="339.0" y="909.6" width="261.8" height="30.3" fill="#d3dfcd"/><rect x="144.6" y="942.0" width="81.3" height="33.5" fill="#67a346"/><rect x="227.9" y="942.0" width="109.1" height="33.5" fill="#e9eee6"/><rect x="339.0" y="942.0" width="261.8" height="33.5" fill="#e9eee6"/><rect x="144.6" y="977.4" width="81.3" height="33.4" fill="#67a346"/><rect x="227.9" y="977.4" width="109.1" height="33.4" fill="#d3dfcd"/><rect x="339.0" y="977.4" width="261.8" height="33.4" fill="#d3dfcd"/><rect x="144.6" y="1012.8" width="81.3" height="33.1" fill="#67a346"/><rect x="227.9" y="1012.8" width="109.1" height="33.1" fill="#e9eee6"/><rect x="339.0" y="1012.8" width="261.8" height="33.1" fill="#e9eee6"/><rect x="144.6" y="1048.2" width="81.3" height="33.2" fill="#67a346"/><rect x="227.9" y="1048.2" width="109.1" height="33.2" fill="#d3dfcd"/><rect x="339.0" y="1048.2" width="261.8" height="33.2" fill="#d3dfcd"/><text x="150.72" y="931.90" font-size="16.60" textLength="47.56" lengthAdjust="spacingAndGlyphs" font-weight="bold" fill="#2b1a18">11622</text><text x="233.36" y="932.50" font-size="21.00" textLength="45.67" lengthAdjust="spacingAndGlyphs" fill="#2b1a18">AHR</text><text x="343.95" y="932.90" font-size="21.20" textLength="30.21" lengthAdjust="spacingAndGlyphs" fill="#2b1a18">4.2</text><text x="149.52" y="962.50" font-size="16.60" textLength="47.56" lengthAdjust="spacingAndGlyphs" font-weight="bold" fill="#2b1a18">12772</text><text x="229.60" y="966.20" font-size="21.00" textLength="58.89" lengthAdjust="spacingAndGlyphs" fill="#2b1a18">CCR2</text><text x="343.31" y="963.80" font-size="21.20" textLength="54.38" lengthAdjust="spacingAndGlyphs" fill="#2b1a18">2.034</text><text x="149.68" y="998.40" font-size="16.60" textLength="46.95" lengthAdjust="spacingAndGlyphs" font-weight="bold" fill="#2b1a18">54199</text><text x="229.60" y="999.50" font-size="21.00" textLength="58.89" lengthAdjust="spacingAndGlyphs" fill="#2b1a18">CCRL</text><text x="343.31" y="999.40" font-size="21.20" textLength="54.38" lengthAdjust="spacingAndGlyphs" fill="#2b1a18">2.668</text><text x="149.13" y="1034.10" font-size="16.60" textLength="47.35" lengthAdjust="spacingAndGlyphs" font-weight="bold" fill="#2b1a18">13051</text><text x="229.60" y="1037.20" font-size="21.00" textLength="85.35" lengthAdjust="spacingAndGlyphs" fill="#2b1a18">CX3CR1</text><text x="343.53" y="1034.70" font-size="21.20" textLength="54.38" lengthAdjust="spacingAndGlyphs" fill="#2b1a18">5.489</text><text x="149.12" y="1069.80" font-size="16.60" textLength="47.51" lengthAdjust="spacingAndGlyphs" font-weight="bold" fill="#2b1a18">17289</text><text x="229.33" y="1069.80" font-size="21.00" textLength="54.08" lengthAdjust="spacingAndGlyphs" fill="#2b1a18">Mertk</text><text x="343.31" y="1070.00" font-size="21.20" textLength="42.29" lengthAdjust="spacingAndGlyphs" fill="#2b1a18">2.54</text><text x="151.82" y="883.20" font-size="19.20" textLength="60.20" lengthAdjust="spacingAndGlyphs" fill="#2b1a18">Seq-ID</text><text x="232.83" y="883.20" font-size="19.20" fill="#2b1a18">Gene name</text><text x="344.76" y="870.10" font-size="19.10" textLength="209.41" lengthAdjust="spacingAndGlyphs" fill="#2b1a18">Absolute Fold Change of</text><text x="343.22" y="893.40" font-size="19.10" textLength="224.82" lengthAdjust="spacingAndGlyphs" fill="#2b1a18">M0/and M0+MTB Hsp16.3</text></svg></body></html>
